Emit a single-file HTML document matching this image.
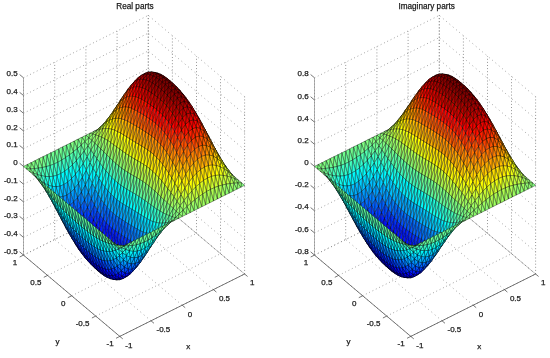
<!DOCTYPE html>
<html><head><meta charset="utf-8"><title>Real and imaginary parts</title><style>
html,body{margin:0;padding:0;background:#fff;width:550px;height:358px;overflow:hidden}
svg{display:block}
.g{stroke:#8a8a8a;stroke-width:0.9;fill:none}
.gv{stroke-dasharray:1 2.1}.gx{stroke-dasharray:0.85 2.85}.gy{stroke-dasharray:0.85 3.45}
.gs{stroke:#ababab;stroke-width:0.7;fill:none}
.az{stroke:#b4b4b4;stroke-width:1;fill:none}
.a{stroke:#4a4a4a;stroke-width:0.75;fill:none}
.s path{stroke:rgba(0,0,0,0.8);stroke-width:0.45;stroke-linejoin:round}
.t,.ti{font-family:"Liberation Sans",Arial,Helvetica,sans-serif;fill:#1a1a1a;stroke:#1a1a1a;stroke-width:0.25}
.t{font-size:8.0px}.ti{font-size:8.2px}
</style></head><body>
<svg width="550" height="358" viewBox="0 0 550 358">
<text x="134.9" y="8.6" class="ti" text-anchor="middle">Real parts</text>
<text x="426.6" y="8.6" class="ti" text-anchor="middle">Imaginary parts</text>
<path class="az" d="M23.5 255.1L23.5 77.8"/><path class="a" d="M23.5 255.1L19.6 251.8M23.5 237.4L19.6 234.1M23.5 219.6L19.6 216.4M23.5 201.9L19.6 198.7M23.5 184.2L19.6 180.9M23.5 166.4L19.6 163.2M23.5 148.7L19.6 145.5M23.5 131L19.6 127.7M23.5 113.3L19.6 110M23.5 95.5L19.6 92.3M23.5 77.8L19.6 74.5"/><text x="17.7" y="253.7" class="t" text-anchor="end">-0.5</text>
<text x="17.7" y="236" class="t" text-anchor="end">-0.4</text>
<text x="17.7" y="218.2" class="t" text-anchor="end">-0.3</text>
<text x="17.7" y="200.5" class="t" text-anchor="end">-0.2</text>
<text x="17.7" y="182.8" class="t" text-anchor="end">-0.1</text>
<text x="17.7" y="165" class="t" text-anchor="end">0</text>
<text x="17.7" y="147.3" class="t" text-anchor="end">0.1</text>
<text x="17.7" y="129.6" class="t" text-anchor="end">0.2</text>
<text x="17.7" y="111.9" class="t" text-anchor="end">0.3</text>
<text x="17.7" y="94.1" class="t" text-anchor="end">0.4</text>
<text x="17.7" y="76.4" class="t" text-anchor="end">0.5</text>
<path class="gs" d="M244.6 274L148.3 192.7"/><path class="g gv" d="M23.5 255.1L23.5 77.8M244.6 274L244.6 96.7M54.7 239.5L54.7 62.2M220.5 253.7L220.5 76.4M85.9 223.9L85.9 46.6M196.5 233.4L196.5 56.1M117.1 208.3L117.1 31M172.4 213L172.4 35.7M148.3 192.7L148.3 15.4M148.3 192.7L148.3 15.4"/><path class="g gx" d="M119.8 336.4L244.6 274M95.7 316.1L220.5 253.7M71.7 295.8L196.5 233.4M47.6 275.4L172.4 213M23.5 255.1L148.3 192.7M23.5 255.1L148.3 192.7M23.5 237.4L148.3 175M23.5 219.6L148.3 157.2M23.5 201.9L148.3 139.5M23.5 184.2L148.3 121.8M23.5 166.4L148.3 104.1M23.5 148.7L148.3 86.3M23.5 131L148.3 68.6M23.5 113.3L148.3 50.9M23.5 95.5L148.3 33.1M23.5 77.8L148.3 15.4"/><path class="g gy" d="M119.8 336.4L23.5 255.1M151 320.8L54.7 239.5M182.2 305.2L85.9 223.9M213.4 289.6L117.1 208.3M244.6 274L148.3 192.7M244.6 274L148.3 192.7M244.6 256.3L148.3 175M244.6 238.5L148.3 157.2M244.6 220.8L148.3 139.5M244.6 203.1L148.3 121.8M244.6 185.3L148.3 104.1M244.6 167.6L148.3 86.3M244.6 149.9L148.3 68.6M244.6 132.2L148.3 50.9M244.6 114.4L148.3 33.1M244.6 96.7L148.3 15.4"/>
<g class="s"><path d="M147.4,106.3 148.3,104.1 144.4,106z" fill="#8fff70"/>
<path d="M147.4,106.3 151.3,106.6 148.3,104.1z" fill="#8fff70"/>
<path d="M143.5,106.1 144.4,106 140.5,107.9z" fill="#8fff70"/>
<path d="M143.5,106.1 147.4,106.3 144.4,106z" fill="#8fff70"/>
<path d="M150.4,106.6 154.3,109.1 151.3,106.6z" fill="#8fff70"/>
<path d="M150.4,106.6 151.3,106.6 147.4,106.3z" fill="#8fff70"/>
<path d="M139.6,106.1 140.5,107.9 136.6,109.9z" fill="#8fff70"/>
<path d="M139.6,106.1 143.5,106.1 140.5,107.9z" fill="#9fff60"/>
<path d="M153.4,107.1 157.3,111.7 154.3,109.1z" fill="#8fff70"/>
<path d="M146.5,104.4 147.4,106.3 143.5,106.1z" fill="#afff50"/>
<path d="M153.4,107.1 154.3,109.1 150.4,106.6z" fill="#9fff60"/>
<path d="M146.5,104.4 150.4,106.6 147.4,106.3z" fill="#afff50"/>
<path d="M135.7,106.4 136.6,109.9 132.7,111.8z" fill="#9fff60"/>
<path d="M135.7,106.4 139.6,106.1 136.6,109.9z" fill="#afff50"/>
<path d="M156.4,107.7 160.3,114.2 157.3,111.7z" fill="#9fff60"/>
<path d="M131.8,107.1 132.7,111.8 128.8,113.8z" fill="#9fff60"/>
<path d="M142.6,102.5 143.5,106.1 139.6,106.1z" fill="#bfff40"/>
<path d="M156.4,107.7 157.3,111.7 153.4,107.1z" fill="#afff50"/>
<path d="M142.6,102.5 146.5,104.4 143.5,106.1z" fill="#bfff40"/>
<path d="M149.5,102.8 153.4,107.1 150.4,106.6z" fill="#bfff40"/>
<path d="M149.5,102.8 150.4,106.6 146.5,104.4z" fill="#bfff40"/>
<path d="M131.8,107.1 135.7,106.4 132.7,111.8z" fill="#afff50"/>
<path d="M127.9,108.2 128.8,113.8 124.9,115.7z" fill="#9fff60"/>
<path d="M159.4,108.5 163.3,116.8 160.3,114.2z" fill="#9fff60"/>
<path d="M138.7,101.2 139.6,106.1 135.7,106.4z" fill="#cfff30"/>
<path d="M127.9,108.2 131.8,107.1 128.8,113.8z" fill="#afff50"/>
<path d="M159.4,108.5 160.3,114.2 156.4,107.7z" fill="#afff50"/>
<path d="M138.7,101.2 142.6,102.5 139.6,106.1z" fill="#cfff30"/>
<path d="M124,109.7 124.9,115.7 121,117.7z" fill="#9fff60"/>
<path d="M152.5,101.6 156.4,107.7 153.4,107.1z" fill="#cfff30"/>
<path d="M145.6,99.2 146.5,104.4 142.6,102.5z" fill="#dfff20"/>
<path d="M152.5,101.6 153.4,107.1 149.5,102.8z" fill="#dfff20"/>
<path d="M145.6,99.2 149.5,102.8 146.5,104.4z" fill="#dfff20"/>
<path d="M124,109.7 127.9,108.2 124.9,115.7z" fill="#afff50"/>
<path d="M162.5,109.6 166.4,119.3 163.3,116.8z" fill="#9fff60"/>
<path d="M134.8,100.6 135.7,106.4 131.8,107.1z" fill="#cfff30"/>
<path d="M120.1,111.6 121,117.7 117.1,119.6z" fill="#9fff60"/>
<path d="M162.5,109.6 163.3,116.8 159.4,108.5z" fill="#bfff40"/>
<path d="M134.8,100.6 138.7,101.2 135.7,106.4z" fill="#dfff20"/>
<path d="M120.1,111.6 124,109.7 121,117.7z" fill="#afff50"/>
<path d="M155.5,100.8 159.4,108.5 156.4,107.7z" fill="#dfff20"/>
<path d="M141.7,96.4 142.6,102.5 138.7,101.2z" fill="#ffff00"/>
<path d="M130.9,100.8 131.8,107.1 127.9,108.2z" fill="#dfff20"/>
<path d="M116.2,114 117.1,119.6 113.2,121.6z" fill="#9fff60"/>
<path d="M165.5,110.8 169.4,121.8 166.4,119.3z" fill="#9fff60"/>
<path d="M155.5,100.8 156.4,107.7 152.5,101.6z" fill="#efff10"/>
<path d="M141.7,96.4 145.6,99.2 142.6,102.5z" fill="#ffff00"/>
<path d="M148.6,96.3 152.5,101.6 149.5,102.8z" fill="#ffff00"/>
<path d="M148.6,96.3 149.5,102.8 145.6,99.2z" fill="#ffff00"/>
<path d="M130.9,100.8 134.8,100.6 131.8,107.1z" fill="#efff10"/>
<path d="M165.5,110.8 166.4,119.3 162.5,109.6z" fill="#bfff40"/>
<path d="M116.2,114 120.1,111.6 117.1,119.6z" fill="#afff50"/>
<path d="M112.3,116.7 113.2,121.6 109.3,123.5z" fill="#9fff60"/>
<path d="M127,101.9 127.9,108.2 124,109.7z" fill="#dfff20"/>
<path d="M168.5,112.3 172.4,124.4 169.4,121.8z" fill="#9fff60"/>
<path d="M137.8,94.6 138.7,101.2 134.8,100.6z" fill="#ffef00"/>
<path d="M158.6,100.4 162.5,109.6 159.4,108.5z" fill="#efff10"/>
<path d="M112.3,116.7 116.2,114 113.2,121.6z" fill="#afff50"/>
<path d="M127,101.9 130.9,100.8 127.9,108.2z" fill="#ffff00"/>
<path d="M137.8,94.6 141.7,96.4 138.7,101.2z" fill="#ffdf00"/>
<path d="M108.4,119.8 109.3,123.5 105.4,125.5z" fill="#9fff60"/>
<path d="M158.6,100.4 159.4,108.5 155.5,100.8z" fill="#ffff00"/>
<path d="M168.5,112.3 169.4,121.8 165.5,110.8z" fill="#bfff40"/>
<path d="M123.1,103.9 124,109.7 120.1,111.6z" fill="#dfff20"/>
<path d="M144.7,92.1 145.6,99.2 141.7,96.4z" fill="#ffcf00"/>
<path d="M151.6,94 155.5,100.8 152.5,101.6z" fill="#ffdf00"/>
<path d="M108.4,119.8 112.3,116.7 109.3,123.5z" fill="#afff50"/>
<path d="M144.7,92.1 148.6,96.3 145.6,99.2z" fill="#ffcf00"/>
<path d="M151.6,94 152.5,101.6 148.6,96.3z" fill="#ffdf00"/>
<path d="M171.5,114 175.4,126.9 172.4,124.4z" fill="#afff50"/>
<path d="M123.1,103.9 127,101.9 124,109.7z" fill="#ffff00"/>
<path d="M104.5,123.1 105.4,125.5 101.5,127.4z" fill="#8fff70"/>
<path d="M133.9,94 134.8,100.6 130.9,100.8z" fill="#ffdf00"/>
<path d="M119.2,106.6 120.1,111.6 116.2,114z" fill="#dfff20"/>
<path d="M161.6,100.5 165.5,110.8 162.5,109.6z" fill="#ffff00"/>
<path d="M133.9,94 137.8,94.6 134.8,100.6z" fill="#ffcf00"/>
<path d="M104.5,123.1 108.4,119.8 105.4,125.5z" fill="#afff50"/>
<path d="M171.5,114 172.4,124.4 168.5,112.3z" fill="#cfff30"/>
<path d="M161.6,100.5 162.5,109.6 158.6,100.4z" fill="#ffef00"/>
<path d="M100.6,126.7 101.5,127.4 97.6,129.4z" fill="#8fff70"/>
<path d="M119.2,106.6 123.1,103.9 120.1,111.6z" fill="#ffff00"/>
<path d="M115.3,110.2 116.2,114 112.3,116.7z" fill="#dfff20"/>
<path d="M130,94.7 130.9,100.8 127,101.9z" fill="#ffcf00"/>
<path d="M174.5,115.9 178.4,129.5 175.4,126.9z" fill="#afff50"/>
<path d="M140.8,89.3 141.7,96.4 137.8,94.6z" fill="#ffbf00"/>
<path d="M100.6,126.7 104.5,123.1 101.5,127.4z" fill="#9fff60"/>
<path d="M154.7,92.3 158.6,100.4 155.5,100.8z" fill="#ffcf00"/>
<path d="M140.8,89.3 144.7,92.1 141.7,96.4z" fill="#ffaf00"/>
<path d="M154.7,92.3 155.5,100.8 151.6,94z" fill="#ffbf00"/>
<path d="M115.3,110.2 119.2,106.6 116.2,114z" fill="#efff10"/>
<path d="M96.7,130.4 97.6,129.4 93.7,131.4z" fill="#8fff70"/>
<path d="M111.4,114.3 112.3,116.7 108.4,119.8z" fill="#cfff30"/>
<path d="M130,94.7 133.9,94 130.9,100.8z" fill="#ffbf00"/>
<path d="M164.6,101 168.5,112.3 165.5,110.8z" fill="#ffff00"/>
<path d="M147.7,88.6 148.6,96.3 144.7,92.1z" fill="#ffaf00"/>
<path d="M147.7,88.6 151.6,94 148.6,96.3z" fill="#ffaf00"/>
<path d="M174.5,115.9 175.4,126.9 171.5,114z" fill="#cfff30"/>
<path d="M96.7,130.4 100.6,126.7 97.6,129.4z" fill="#9fff60"/>
<path d="M126.1,96.7 127,101.9 123.1,103.9z" fill="#ffcf00"/>
<path d="M164.6,101 165.5,110.8 161.6,100.5z" fill="#ffdf00"/>
<path d="M111.4,114.3 115.3,110.2 112.3,116.7z" fill="#efff10"/>
<path d="M107.5,119 108.4,119.8 104.5,123.1z" fill="#cfff30"/>
<path d="M177.5,118 181.4,132 178.4,129.5z" fill="#afff50"/>
<path d="M92.8,134.1 93.7,131.4 89.8,133.3z" fill="#8fff70"/>
<path d="M136.9,88 137.8,94.6 133.9,94z" fill="#ff9f00"/>
<path d="M126.1,96.7 130,94.7 127,101.9z" fill="#ffbf00"/>
<path d="M92.8,134.1 96.7,130.4 93.7,131.4z" fill="#8fff70"/>
<path d="M107.5,119 111.4,114.3 108.4,119.8z" fill="#dfff20"/>
<path d="M103.6,124.1 104.5,123.1 100.6,126.7z" fill="#bfff40"/>
<path d="M122.2,99.9 123.1,103.9 119.2,106.6z" fill="#ffdf00"/>
<path d="M136.9,88 140.8,89.3 137.8,94.6z" fill="#ff9f00"/>
<path d="M157.7,91.3 161.6,100.5 158.6,100.4z" fill="#ffbf00"/>
<path d="M167.6,101.9 171.5,114 168.5,112.3z" fill="#ffef00"/>
<path d="M177.5,118 178.4,129.5 174.5,115.9z" fill="#cfff30"/>
<path d="M88.9,137.9 89.8,133.3 85.9,135.2z" fill="#80ff80"/>
<path d="M157.7,91.3 158.6,100.4 154.7,92.3z" fill="#ffaf00"/>
<path d="M103.6,124.1 107.5,119 104.5,123.1z" fill="#cfff30"/>
<path d="M88.9,137.9 92.8,134.1 89.8,133.3z" fill="#8fff70"/>
<path d="M99.7,129.5 100.6,126.7 96.7,130.4z" fill="#afff50"/>
<path d="M143.8,84.8 144.7,92.1 140.8,89.3z" fill="#ff8f00"/>
<path d="M122.2,99.9 126.1,96.7 123.1,103.9z" fill="#ffbf00"/>
<path d="M118.3,104.1 119.2,106.6 115.3,110.2z" fill="#ffdf00"/>
<path d="M180.5,120.3 184.4,134.5 181.4,132z" fill="#afff50"/>
<path d="M167.6,101.9 168.5,112.3 164.6,101z" fill="#ffdf00"/>
<path d="M143.8,84.8 147.7,88.6 144.7,92.1z" fill="#ff8000"/>
<path d="M150.8,85.8 154.7,92.3 151.6,94z" fill="#ff8f00"/>
<path d="M150.8,85.8 151.6,94 147.7,88.6z" fill="#ff8f00"/>
<path d="M133,88.3 133.9,94 130,94.7z" fill="#ff9f00"/>
<path d="M99.7,129.5 103.6,124.1 100.6,126.7z" fill="#bfff40"/>
<path d="M95.8,135 96.7,130.4 92.8,134.1z" fill="#9fff60"/>
<path d="M85,141.6 85.9,135.2 82,137.2z" fill="#80ff80"/>
<path d="M114.4,109.3 115.3,110.2 111.4,114.3z" fill="#ffef00"/>
<path d="M85,141.6 88.9,137.9 85.9,135.2z" fill="#80ff80"/>
<path d="M118.3,104.1 122.2,99.9 119.2,106.6z" fill="#ffcf00"/>
<path d="M133,88.3 136.9,88 133.9,94z" fill="#ff8f00"/>
<path d="M180.5,120.3 181.4,132 177.5,118z" fill="#cfff30"/>
<path d="M95.8,135 99.7,129.5 96.7,130.4z" fill="#9fff60"/>
<path d="M170.6,103.2 174.5,115.9 171.5,114z" fill="#ffef00"/>
<path d="M91.9,140.5 92.8,134.1 88.9,137.9z" fill="#8fff70"/>
<path d="M110.5,115.3 111.4,114.3 107.5,119z" fill="#efff10"/>
<path d="M160.7,90.9 164.6,101 161.6,100.5z" fill="#ffaf00"/>
<path d="M129.1,90.3 130,94.7 126.1,96.7z" fill="#ff8f00"/>
<path d="M114.4,109.3 118.3,104.1 115.3,110.2z" fill="#ffdf00"/>
<path d="M183.5,122.6 187.4,137.1 184.4,134.5z" fill="#afff50"/>
<path d="M91.9,140.5 95.8,135 92.8,134.1z" fill="#8fff70"/>
<path d="M81.1,145.2 85,141.6 82,137.2z" fill="#80ff80"/>
<path d="M81.1,145.2 82,137.2 78.1,139.1z" fill="#80ff80"/>
<path d="M106.6,121.9 107.5,119 103.6,124.1z" fill="#dfff20"/>
<path d="M160.7,90.9 161.6,100.5 157.7,91.3z" fill="#ff8f00"/>
<path d="M170.6,103.2 171.5,114 167.6,101.9z" fill="#ffcf00"/>
<path d="M139.9,82.9 140.8,89.3 136.9,88z" fill="#ff7000"/>
<path d="M88,146 88.9,137.9 85,141.6z" fill="#80ff80"/>
<path d="M110.5,115.3 114.4,109.3 111.4,114.3z" fill="#ffef00"/>
<path d="M102.7,128.9 103.6,124.1 99.7,129.5z" fill="#bfff40"/>
<path d="M88,146 91.9,140.5 88.9,137.9z" fill="#80ff80"/>
<path d="M129.1,90.3 133,88.3 130,94.7z" fill="#ff8000"/>
<path d="M139.9,82.9 143.8,84.8 140.8,89.3z" fill="#ff6000"/>
<path d="M106.6,121.9 110.5,115.3 107.5,119z" fill="#efff10"/>
<path d="M98.8,136.1 99.7,129.5 95.8,135z" fill="#afff50"/>
<path d="M153.8,83.9 157.7,91.3 154.7,92.3z" fill="#ff7000"/>
<path d="M125.2,93.9 126.1,96.7 122.2,99.9z" fill="#ff9f00"/>
<path d="M183.5,122.6 184.4,134.5 180.5,120.3z" fill="#cfff30"/>
<path d="M84.1,151.2 85,141.6 81.1,145.2z" fill="#70ff8f"/>
<path d="M77.2,148.7 81.1,145.2 78.1,139.1z" fill="#70ff8f"/>
<path d="M153.8,83.9 154.7,92.3 150.8,85.8z" fill="#ff7000"/>
<path d="M146.9,81.2 147.7,88.6 143.8,84.8z" fill="#ff6000"/>
<path d="M84.1,151.2 88,146 85,141.6z" fill="#70ff8f"/>
<path d="M173.6,104.9 177.5,118 174.5,115.9z" fill="#ffef00"/>
<path d="M77.2,148.7 78.1,139.1 74.2,141.1z" fill="#80ff80"/>
<path d="M102.7,128.9 106.6,121.9 103.6,124.1z" fill="#cfff30"/>
<path d="M146.9,81.2 150.8,85.8 147.7,88.6z" fill="#ff6000"/>
<path d="M94.9,143.3 95.8,135 91.9,140.5z" fill="#8fff70"/>
<path d="M98.8,136.1 102.7,128.9 99.7,129.5z" fill="#bfff40"/>
<path d="M186.5,125.1 190.4,139.6 187.4,137.1z" fill="#afff50"/>
<path d="M91,150.3 91.9,140.5 88,146z" fill="#70ff8f"/>
<path d="M163.7,91.2 167.6,101.9 164.6,101z" fill="#ff9f00"/>
<path d="M121.3,98.8 122.2,99.9 118.3,104.1z" fill="#ffaf00"/>
<path d="M94.9,143.3 98.8,136.1 95.8,135z" fill="#9fff60"/>
<path d="M125.2,93.9 129.1,90.3 126.1,96.7z" fill="#ff8000"/>
<path d="M80.2,156.2 84.1,151.2 81.1,145.2z" fill="#60ff9f"/>
<path d="M80.2,156.2 81.1,145.2 77.2,148.7z" fill="#60ff9f"/>
<path d="M136,82.9 136.9,88 133,88.3z" fill="#ff6000"/>
<path d="M91,150.3 94.9,143.3 91.9,140.5z" fill="#80ff80"/>
<path d="M87.1,157.1 88,146 84.1,151.2z" fill="#60ff9f"/>
<path d="M173.6,104.9 174.5,115.9 170.6,103.2z" fill="#ffcf00"/>
<path d="M73.3,151.9 77.2,148.7 74.2,141.1z" fill="#70ff8f"/>
<path d="M117.4,105 118.3,104.1 114.4,109.3z" fill="#ffbf00"/>
<path d="M87.1,157.1 91,150.3 88,146z" fill="#60ff9f"/>
<path d="M163.7,91.2 164.6,101 160.7,90.9z" fill="#ff8000"/>
<path d="M73.3,151.9 74.2,141.1 70.3,143.1z" fill="#80ff80"/>
<path d="M136,82.9 139.9,82.9 136.9,88z" fill="#ff5000"/>
<path d="M83.2,163.5 84.1,151.2 80.2,156.2z" fill="#40ffbf"/>
<path d="M186.5,125.1 187.4,137.1 183.5,122.6z" fill="#cfff30"/>
<path d="M76.3,160.7 80.2,156.2 77.2,148.7z" fill="#50ffaf"/>
<path d="M121.3,98.8 125.2,93.9 122.2,99.9z" fill="#ff8f00"/>
<path d="M113.5,112.2 114.4,109.3 110.5,115.3z" fill="#ffdf00"/>
<path d="M83.2,163.5 87.1,157.1 84.1,151.2z" fill="#40ffbf"/>
<path d="M76.3,160.7 77.2,148.7 73.3,151.9z" fill="#50ffaf"/>
<path d="M109.6,120.2 110.5,115.3 106.6,121.9z" fill="#ffff00"/>
<path d="M176.6,106.8 180.5,120.3 177.5,118z" fill="#ffef00"/>
<path d="M105.7,128.6 106.6,121.9 102.7,128.9z" fill="#dfff20"/>
<path d="M101.8,137.3 102.7,128.9 98.8,136.1z" fill="#afff50"/>
<path d="M97.9,146.1 98.8,136.1 94.9,143.3z" fill="#8fff70"/>
<path d="M94,154.7 94.9,143.3 91,150.3z" fill="#70ff8f"/>
<path d="M90.1,162.9 91,150.3 87.1,157.1z" fill="#40ffbf"/>
<path d="M79.3,169.3 83.2,163.5 80.2,156.2z" fill="#20ffdf"/>
<path d="M79.3,169.3 80.2,156.2 76.3,160.7z" fill="#30ffcf"/>
<path d="M189.5,127.6 193.4,142.2 190.4,139.6z" fill="#afff50"/>
<path d="M117.4,105 121.3,98.8 118.3,104.1z" fill="#ffaf00"/>
<path d="M69.4,155 73.3,151.9 70.3,143.1z" fill="#70ff8f"/>
<path d="M156.8,82.8 160.7,90.9 157.7,91.3z" fill="#ff6000"/>
<path d="M86.2,170.5 87.1,157.1 83.2,163.5z" fill="#20ffdf"/>
<path d="M132.1,84.9 133,88.3 129.1,90.3z" fill="#ff6000"/>
<path d="M143,78.8 143.8,84.8 139.9,82.9z" fill="#ff4000"/>
<path d="M72.4,164.8 76.3,160.7 73.3,151.9z" fill="#40ffbf"/>
<path d="M90.1,162.9 94,154.7 91,150.3z" fill="#50ffaf"/>
<path d="M94,154.7 97.9,146.1 94.9,143.3z" fill="#70ff8f"/>
<path d="M86.2,170.5 90.1,162.9 87.1,157.1z" fill="#20ffdf"/>
<path d="M113.5,112.2 117.4,105 114.4,109.3z" fill="#ffbf00"/>
<path d="M69.4,155 70.3,143.1 66.4,145z" fill="#70ff8f"/>
<path d="M97.9,146.1 101.8,137.3 98.8,136.1z" fill="#9fff60"/>
<path d="M82.3,177.5 83.2,163.5 79.3,169.3z" fill="#00ffff"/>
<path d="M156.8,82.8 157.7,91.3 153.8,83.9z" fill="#ff5000"/>
<path d="M101.8,137.3 105.7,128.6 102.7,128.9z" fill="#cfff30"/>
<path d="M166.7,92 170.6,103.2 167.6,101.9z" fill="#ff8f00"/>
<path d="M72.4,164.8 73.3,151.9 69.4,155z" fill="#50ffaf"/>
<path d="M82.3,177.5 86.2,170.5 83.2,163.5z" fill="#00ffff"/>
<path d="M75.4,174.4 79.3,169.3 76.3,160.7z" fill="#10ffef"/>
<path d="M109.6,120.2 113.5,112.2 110.5,115.3z" fill="#ffdf00"/>
<path d="M143,78.8 146.9,81.2 143.8,84.8z" fill="#ff4000"/>
<path d="M105.7,128.6 109.6,120.2 106.6,121.9z" fill="#efff10"/>
<path d="M75.4,174.4 76.3,160.7 72.4,164.8z" fill="#20ffdf"/>
<path d="M176.6,106.8 177.5,118 173.6,104.9z" fill="#ffbf00"/>
<path d="M149.9,78.6 153.8,83.9 150.8,85.8z" fill="#ff4000"/>
<path d="M149.9,78.6 150.8,85.8 146.9,81.2z" fill="#ff4000"/>
<path d="M78.4,183.5 82.3,177.5 79.3,169.3z" fill="#00efff"/>
<path d="M132.1,84.9 136,82.9 133,88.3z" fill="#ff5000"/>
<path d="M78.4,183.5 79.3,169.3 75.4,174.4z" fill="#00efff"/>
<path d="M89.2,177.3 90.1,162.9 86.2,170.5z" fill="#10ffef"/>
<path d="M85.3,185.2 86.2,170.5 82.3,177.5z" fill="#00dfff"/>
<path d="M93.1,168.4 94,154.7 90.1,162.9z" fill="#30ffcf"/>
<path d="M189.5,127.6 190.4,139.6 186.5,125.1z" fill="#cfff30"/>
<path d="M85.3,185.2 89.2,177.3 86.2,170.5z" fill="#00dfff"/>
<path d="M65.5,157.7 69.4,155 66.4,145z" fill="#60ff9f"/>
<path d="M68.5,168.3 72.4,164.8 69.4,155z" fill="#30ffcf"/>
<path d="M128.2,88.8 129.1,90.3 125.2,93.9z" fill="#ff6000"/>
<path d="M166.7,92 167.6,101.9 163.7,91.2z" fill="#ff8000"/>
<path d="M97,158.9 97.9,146.1 94,154.7z" fill="#60ff9f"/>
<path d="M81.4,192.2 82.3,177.5 78.4,183.5z" fill="#00bfff"/>
<path d="M71.5,178.7 75.4,174.4 72.4,164.8z" fill="#00ffff"/>
<path d="M89.2,177.3 93.1,168.4 90.1,162.9z" fill="#10ffef"/>
<path d="M81.4,192.2 85.3,185.2 82.3,177.5z" fill="#00bfff"/>
<path d="M74.5,188.6 78.4,183.5 75.4,174.4z" fill="#00cfff"/>
<path d="M179.6,109 183.5,122.6 180.5,120.3z" fill="#ffdf00"/>
<path d="M93.1,168.4 97,158.9 94,154.7z" fill="#40ffbf"/>
<path d="M71.5,178.7 72.4,164.8 68.5,168.3z" fill="#10ffef"/>
<path d="M100.9,149 101.8,137.3 97.9,146.1z" fill="#8fff70"/>
<path d="M68.5,168.3 69.4,155 65.5,157.7z" fill="#40ffbf"/>
<path d="M74.5,188.6 75.4,174.4 71.5,178.7z" fill="#00dfff"/>
<path d="M65.5,157.7 66.4,145 62.5,146.9z" fill="#70ff8f"/>
<path d="M88.4,192.5 89.2,177.3 85.3,185.2z" fill="#00bfff"/>
<path d="M77.5,197.9 81.4,192.2 78.4,183.5z" fill="#009fff"/>
<path d="M192.6,130.2 196.5,144.7 193.4,142.2z" fill="#afff50"/>
<path d="M84.5,200.2 85.3,185.2 81.4,192.2z" fill="#009fff"/>
<path d="M77.5,197.9 78.4,183.5 74.5,188.6z" fill="#00afff"/>
<path d="M92.3,183.6 93.1,168.4 89.2,177.3z" fill="#00efff"/>
<path d="M97,158.9 100.9,149 97.9,146.1z" fill="#70ff8f"/>
<path d="M84.5,200.2 88.4,192.5 85.3,185.2z" fill="#009fff"/>
<path d="M104.8,138.8 105.7,128.6 101.8,137.3z" fill="#bfff40"/>
<path d="M124.3,94.4 125.2,93.9 121.3,98.8z" fill="#ff7000"/>
<path d="M88.4,192.5 92.3,183.6 89.2,177.3z" fill="#00cfff"/>
<path d="M80.6,206.6 81.4,192.2 77.5,197.9z" fill="#0080ff"/>
<path d="M80.6,206.6 84.5,200.2 81.4,192.2z" fill="#0080ff"/>
<path d="M128.2,88.8 132.1,84.9 129.1,90.3z" fill="#ff5000"/>
<path d="M139.1,78.6 139.9,82.9 136,82.9z" fill="#ff3000"/>
<path d="M108.7,128.7 109.6,120.2 105.7,128.6z" fill="#efff10"/>
<path d="M70.6,192.5 74.5,188.6 71.5,178.7z" fill="#00bfff"/>
<path d="M67.6,182.1 71.5,178.7 68.5,168.3z" fill="#00efff"/>
<path d="M96.2,173.7 97,158.9 93.1,168.4z" fill="#20ffdf"/>
<path d="M100.9,149 104.8,138.8 101.8,137.3z" fill="#9fff60"/>
<path d="M64.6,171.3 68.5,168.3 65.5,157.7z" fill="#30ffcf"/>
<path d="M92.3,183.6 96.2,173.7 93.1,168.4z" fill="#00ffff"/>
<path d="M73.6,202.2 77.5,197.9 74.5,188.6z" fill="#008fff"/>
<path d="M87.5,207.6 88.4,192.5 84.5,200.2z" fill="#0080ff"/>
<path d="M120.4,101.5 121.3,98.8 117.4,105z" fill="#ff8f00"/>
<path d="M112.6,119 113.5,112.2 109.6,120.2z" fill="#ffdf00"/>
<path d="M159.8,82.4 163.7,91.2 160.7,90.9z" fill="#ff5000"/>
<path d="M91.4,199.1 92.3,183.6 88.4,192.5z" fill="#009fff"/>
<path d="M61.6,160.2 65.5,157.7 62.5,146.9z" fill="#60ff9f"/>
<path d="M116.5,109.8 117.4,105 113.5,112.2z" fill="#ffaf00"/>
<path d="M70.6,192.5 71.5,178.7 67.6,182.1z" fill="#00cfff"/>
<path d="M83.6,214.5 84.5,200.2 80.6,206.6z" fill="#0060ff"/>
<path d="M169.7,93.2 173.6,104.9 170.6,103.2z" fill="#ff8f00"/>
<path d="M73.6,202.2 74.5,188.6 70.6,192.5z" fill="#009fff"/>
<path d="M179.6,109 180.5,120.3 176.6,106.8z" fill="#ffbf00"/>
<path d="M76.7,211.3 80.6,206.6 77.5,197.9z" fill="#0060ff"/>
<path d="M67.6,182.1 68.5,168.3 64.6,171.3z" fill="#00ffff"/>
<path d="M87.5,207.6 91.4,199.1 88.4,192.5z" fill="#0080ff"/>
<path d="M83.6,214.5 87.5,207.6 84.5,200.2z" fill="#0060ff"/>
<path d="M139.1,78.6 143,78.8 139.9,82.9z" fill="#ff2000"/>
<path d="M76.7,211.3 77.5,197.9 73.6,202.2z" fill="#0070ff"/>
<path d="M104.8,138.8 108.7,128.7 105.7,128.6z" fill="#cfff30"/>
<path d="M100.1,163.1 100.9,149 97,158.9z" fill="#60ff9f"/>
<path d="M64.6,171.3 65.5,157.7 61.6,160.2z" fill="#40ffbf"/>
<path d="M96.2,173.7 100.1,163.1 97,158.9z" fill="#30ffcf"/>
<path d="M95.3,189.4 96.2,173.7 92.3,183.6z" fill="#00dfff"/>
<path d="M192.6,130.2 193.4,142.2 189.5,127.6z" fill="#cfff30"/>
<path d="M91.4,199.1 95.3,189.4 92.3,183.6z" fill="#00afff"/>
<path d="M124.3,94.4 128.2,88.8 125.2,93.9z" fill="#ff6000"/>
<path d="M159.8,82.4 160.7,90.9 156.8,82.8z" fill="#ff4000"/>
<path d="M61.6,160.2 62.5,146.9 58.6,148.9z" fill="#70ff8f"/>
<path d="M79.7,219.7 83.6,214.5 80.6,206.6z" fill="#0040ff"/>
<path d="M79.7,219.7 80.6,206.6 76.7,211.3z" fill="#0040ff"/>
<path d="M90.5,214.2 91.4,199.1 87.5,207.6z" fill="#0060ff"/>
<path d="M108.7,128.7 112.6,119 109.6,120.2z" fill="#ffef00"/>
<path d="M86.6,221.6 87.5,207.6 83.6,214.5z" fill="#0040ff"/>
<path d="M66.7,195.2 70.6,192.5 67.6,182.1z" fill="#00afff"/>
<path d="M69.7,205.1 73.6,202.2 70.6,192.5z" fill="#0080ff"/>
<path d="M182.6,111.4 186.5,125.1 183.5,122.6z" fill="#ffdf00"/>
<path d="M63.7,184.6 67.6,182.1 64.6,171.3z" fill="#00efff"/>
<path d="M169.7,93.2 170.6,103.2 166.7,92z" fill="#ff7000"/>
<path d="M86.6,221.6 90.5,214.2 87.5,207.6z" fill="#0040ff"/>
<path d="M120.4,101.5 124.3,94.4 121.3,98.8z" fill="#ff8000"/>
<path d="M104,151.9 104.8,138.8 100.9,149z" fill="#8fff70"/>
<path d="M94.4,205.2 95.3,189.4 91.4,199.1z" fill="#008fff"/>
<path d="M112.6,119 116.5,109.8 113.5,112.2z" fill="#ffbf00"/>
<path d="M146,75.7 146.9,81.2 143,78.8z" fill="#ff1000"/>
<path d="M95.3,189.4 99.2,178.6 96.2,173.7z" fill="#00dfff"/>
<path d="M72.8,214.4 76.7,211.3 73.6,202.2z" fill="#0050ff"/>
<path d="M90.5,214.2 94.4,205.2 91.4,199.1z" fill="#0060ff"/>
<path d="M100.1,163.1 104,151.9 100.9,149z" fill="#70ff8f"/>
<path d="M99.2,178.6 100.1,163.1 96.2,173.7z" fill="#10ffef"/>
<path d="M195.6,133 199.5,147.2 196.5,144.7z" fill="#afff50"/>
<path d="M116.5,109.8 120.4,101.5 117.4,105z" fill="#ff9f00"/>
<path d="M60.7,173.6 64.6,171.3 61.6,160.2z" fill="#20ffdf"/>
<path d="M152.9,76.9 156.8,82.8 153.8,83.9z" fill="#ff2000"/>
<path d="M82.7,227.2 83.6,214.5 79.7,219.7z" fill="#0020ff"/>
<path d="M146,75.7 149.9,78.6 146.9,81.2z" fill="#ff1000"/>
<path d="M82.7,227.2 86.6,221.6 83.6,214.5z" fill="#0020ff"/>
<path d="M69.7,205.1 70.6,192.5 66.7,195.2z" fill="#008fff"/>
<path d="M66.7,195.2 67.6,182.1 63.7,184.6z" fill="#00bfff"/>
<path d="M152.9,76.9 153.8,83.9 149.9,78.6z" fill="#ff2000"/>
<path d="M135.2,80.6 136,82.9 132.1,84.9z" fill="#ff3000"/>
<path d="M72.8,214.4 73.6,202.2 69.7,205.1z" fill="#0060ff"/>
<path d="M57.7,162.3 61.6,160.2 58.6,148.9z" fill="#60ff9f"/>
<path d="M75.8,222.9 79.7,219.7 76.7,211.3z" fill="#0030ff"/>
<path d="M63.7,184.6 64.6,171.3 60.7,173.6z" fill="#00ffff"/>
<path d="M94.4,205.2 98.3,194.7 95.3,189.4z" fill="#009fff"/>
<path d="M89.6,228 90.5,214.2 86.6,221.6z" fill="#0020ff"/>
<path d="M98.3,194.7 99.2,178.6 95.3,189.4z" fill="#00bfff"/>
<path d="M107.9,140.6 108.7,128.7 104.8,138.8z" fill="#cfff30"/>
<path d="M93.5,220.1 94.4,205.2 90.5,214.2z" fill="#0040ff"/>
<path d="M75.8,222.9 76.7,211.3 72.8,214.4z" fill="#0030ff"/>
<path d="M60.7,173.6 61.6,160.2 57.7,162.3z" fill="#40ffbf"/>
<path d="M99.2,178.6 103.1,167 100.1,163.1z" fill="#20ffdf"/>
<path d="M104,151.9 107.9,140.6 104.8,138.8z" fill="#9fff60"/>
<path d="M89.6,228 93.5,220.1 90.5,214.2z" fill="#0020ff"/>
<path d="M103.1,167 104,151.9 100.1,163.1z" fill="#50ffaf"/>
<path d="M85.7,233.8 86.6,221.6 82.7,227.2z" fill="#0000ff"/>
<path d="M57.7,162.3 58.6,148.9 54.7,150.9z" fill="#70ff8f"/>
<path d="M78.8,230.6 82.7,227.2 79.7,219.7z" fill="#0010ff"/>
<path d="M135.2,80.6 139.1,78.6 136,82.9z" fill="#ff2000"/>
<path d="M182.6,111.4 183.5,122.6 179.6,109z" fill="#ffbf00"/>
<path d="M85.7,233.8 89.6,228 86.6,221.6z" fill="#0000ff"/>
<path d="M97.4,210.5 98.3,194.7 94.4,205.2z" fill="#0080ff"/>
<path d="M172.7,94.9 176.6,106.8 173.6,104.9z" fill="#ff8000"/>
<path d="M78.8,230.6 79.7,219.7 75.8,222.9z" fill="#0010ff"/>
<path d="M93.5,220.1 97.4,210.5 94.4,205.2z" fill="#0050ff"/>
<path d="M62.8,196.6 66.7,195.2 63.7,184.6z" fill="#00afff"/>
<path d="M65.8,206.5 69.7,205.1 66.7,195.2z" fill="#0080ff"/>
<path d="M111.8,129.3 112.6,119 108.7,128.7z" fill="#ffff00"/>
<path d="M195.6,133 196.5,144.7 192.6,130.2z" fill="#cfff30"/>
<path d="M98.3,194.7 102.2,183.2 99.2,178.6z" fill="#00cfff"/>
<path d="M59.8,186.2 63.7,184.6 60.7,173.6z" fill="#00efff"/>
<path d="M68.9,215.7 72.8,214.4 69.7,205.1z" fill="#0050ff"/>
<path d="M131.3,84.9 132.1,84.9 128.2,88.8z" fill="#ff3000"/>
<path d="M162.8,82.8 166.7,92 163.7,91.2z" fill="#ff4000"/>
<path d="M102.2,183.2 103.1,167 99.2,178.6z" fill="#00ffff"/>
<path d="M56.8,175.3 60.7,173.6 57.7,162.3z" fill="#20ffdf"/>
<path d="M107.9,140.6 111.8,129.3 108.7,128.7z" fill="#dfff20"/>
<path d="M92.6,233.5 93.5,220.1 89.6,228z" fill="#0000ff"/>
<path d="M65.8,206.5 66.7,195.2 62.8,196.6z" fill="#008fff"/>
<path d="M71.9,224.2 75.8,222.9 72.8,214.4z" fill="#0030ff"/>
<path d="M62.8,196.6 63.7,184.6 59.8,186.2z" fill="#00bfff"/>
<path d="M81.8,237.5 85.7,233.8 82.7,227.2z" fill="#0000ef"/>
<path d="M103.1,167 107,154.9 104,151.9z" fill="#60ff9f"/>
<path d="M97.4,210.5 101.3,199.5 98.3,194.7z" fill="#008fff"/>
<path d="M185.6,113.9 189.5,127.6 186.5,125.1z" fill="#ffdf00"/>
<path d="M115.7,118.4 116.5,109.8 112.6,119z" fill="#ffbf00"/>
<path d="M96.5,225.2 97.4,210.5 93.5,220.1z" fill="#0030ff"/>
<path d="M107,154.9 107.9,140.6 104,151.9z" fill="#8fff70"/>
<path d="M68.9,215.7 69.7,205.1 65.8,206.5z" fill="#0060ff"/>
<path d="M81.8,237.5 82.7,227.2 78.8,230.6z" fill="#0000ef"/>
<path d="M53.8,164.1 57.7,162.3 54.7,150.9z" fill="#60ff9f"/>
<path d="M59.8,186.2 60.7,173.6 56.8,175.3z" fill="#00ffff"/>
<path d="M88.7,239.7 89.6,228 85.7,233.8z" fill="#0000df"/>
<path d="M101.3,199.5 102.2,183.2 98.3,194.7z" fill="#00bfff"/>
<path d="M198.6,135.7 202.5,149.8 199.5,147.2z" fill="#afff50"/>
<path d="M162.8,82.8 163.7,91.2 159.8,82.4z" fill="#ff3000"/>
<path d="M127.4,91 128.2,88.8 124.3,94.4z" fill="#ff5000"/>
<path d="M92.6,233.5 96.5,225.2 93.5,220.1z" fill="#0010ff"/>
<path d="M172.7,94.9 173.6,104.9 169.7,93.2z" fill="#ff6000"/>
<path d="M71.9,224.2 72.8,214.4 68.9,215.7z" fill="#0040ff"/>
<path d="M88.7,239.7 92.6,233.5 89.6,228z" fill="#0000ef"/>
<path d="M56.8,175.3 57.7,162.3 53.8,164.1z" fill="#40ffbf"/>
<path d="M119.6,108.1 120.4,101.5 116.5,109.8z" fill="#ff8f00"/>
<path d="M142.1,75.3 143,78.8 139.1,78.6z" fill="#ff0000"/>
<path d="M74.9,231.9 78.8,230.6 75.8,222.9z" fill="#0000ff"/>
<path d="M123.5,98.9 124.3,94.4 120.4,101.5z" fill="#ff7000"/>
<path d="M131.3,84.9 135.2,80.6 132.1,84.9z" fill="#ff2000"/>
<path d="M111.8,129.3 115.7,118.4 112.6,119z" fill="#ffdf00"/>
<path d="M102.2,183.2 106.1,170.8 103.1,167z" fill="#20ffdf"/>
<path d="M96.5,225.2 100.4,215.2 97.4,210.5z" fill="#0040ff"/>
<path d="M100.4,215.2 101.3,199.5 97.4,210.5z" fill="#0070ff"/>
<path d="M53.8,164.1 54.7,150.9 50.8,152.8z" fill="#70ff8f"/>
<path d="M106.1,170.8 107,154.9 103.1,167z" fill="#50ffaf"/>
<path d="M74.9,231.9 75.8,222.9 71.9,224.2z" fill="#0010ff"/>
<path d="M142.1,75.3 146,75.7 143,78.8z" fill="#ff0000"/>
<path d="M101.3,199.5 105.2,187.3 102.2,183.2z" fill="#00cfff"/>
<path d="M84.8,243.6 85.7,233.8 81.8,237.5z" fill="#0000cf"/>
<path d="M84.8,243.6 88.7,239.7 85.7,233.8z" fill="#0000cf"/>
<path d="M110.9,142.5 111.8,129.3 107.9,140.6z" fill="#cfff30"/>
<path d="M107,154.9 110.9,142.5 107.9,140.6z" fill="#afff50"/>
<path d="M155.9,76.2 159.8,82.4 156.8,82.8z" fill="#ff1000"/>
<path d="M95.6,238.3 96.5,225.2 92.6,233.5z" fill="#0000ef"/>
<path d="M58.9,196.7 62.8,196.6 59.8,186.2z" fill="#00bfff"/>
<path d="M115.7,118.4 119.6,108.1 116.5,109.8z" fill="#ffaf00"/>
<path d="M61.9,206.3 65.8,206.5 62.8,196.6z" fill="#008fff"/>
<path d="M185.6,113.9 186.5,125.1 182.6,111.4z" fill="#ffbf00"/>
<path d="M55.9,186.7 59.8,186.2 56.8,175.3z" fill="#00efff"/>
<path d="M105.2,187.3 106.1,170.8 102.2,183.2z" fill="#00ffff"/>
<path d="M77.9,238.8 81.8,237.5 78.8,230.6z" fill="#0000df"/>
<path d="M127.4,91 131.3,84.9 128.2,88.8z" fill="#ff3000"/>
<path d="M91.7,244.8 92.6,233.5 88.7,239.7z" fill="#0000cf"/>
<path d="M155.9,76.2 156.8,82.8 152.9,76.9z" fill="#ff0000"/>
<path d="M52.9,176.3 56.8,175.3 53.8,164.1z" fill="#30ffcf"/>
<path d="M65,215.2 68.9,215.7 65.8,206.5z" fill="#0060ff"/>
<path d="M198.6,135.7 199.5,147.2 195.6,133z" fill="#cfff30"/>
<path d="M175.7,96.9 179.6,109 176.6,106.8z" fill="#ff8000"/>
<path d="M99.5,229.7 100.4,215.2 96.5,225.2z" fill="#0020ff"/>
<path d="M149,73.7 149.9,78.6 146,75.7z" fill="#ef0000"/>
<path d="M100.4,215.2 104.3,203.7 101.3,199.5z" fill="#0080ff"/>
<path d="M149,73.7 152.9,76.9 149.9,78.6z" fill="#ef0000"/>
<path d="M119.6,108.1 123.5,98.9 120.4,101.5z" fill="#ff8000"/>
<path d="M77.9,238.8 78.8,230.6 74.9,231.9z" fill="#0000ef"/>
<path d="M123.5,98.9 127.4,91 124.3,94.4z" fill="#ff5000"/>
<path d="M49.9,165.6 53.8,164.1 50.8,152.8z" fill="#60ff9f"/>
<path d="M104.3,203.7 105.2,187.3 101.3,199.5z" fill="#00afff"/>
<path d="M95.6,238.3 99.5,229.7 96.5,225.2z" fill="#0000ff"/>
<path d="M91.7,244.8 95.6,238.3 92.6,233.5z" fill="#0000cf"/>
<path d="M106.1,170.8 110,157.9 107,154.9z" fill="#60ff9f"/>
<path d="M58.9,196.7 59.8,186.2 55.9,186.7z" fill="#00cfff"/>
<path d="M68,223.4 71.9,224.2 68.9,215.7z" fill="#0030ff"/>
<path d="M61.9,206.3 62.8,196.6 58.9,196.7z" fill="#009fff"/>
<path d="M55.9,186.7 56.8,175.3 52.9,176.3z" fill="#00ffff"/>
<path d="M165.8,83.8 169.7,93.2 166.7,92z" fill="#ff3000"/>
<path d="M188.7,116.6 192.6,130.2 189.5,127.6z" fill="#ffdf00"/>
<path d="M110,157.9 110.9,142.5 107,154.9z" fill="#8fff70"/>
<path d="M114.8,130.2 115.7,118.4 111.8,129.3z" fill="#ffef00"/>
<path d="M65,215.2 65.8,206.5 61.9,206.3z" fill="#0070ff"/>
<path d="M52.9,176.3 53.8,164.1 49.9,165.6z" fill="#40ffbf"/>
<path d="M138.2,77.5 139.1,78.6 135.2,80.6z" fill="#ff0000"/>
<path d="M201.6,138.6 205.5,152.3 202.5,149.8z" fill="#afff50"/>
<path d="M87.8,248.9 88.7,239.7 84.8,243.6z" fill="#0000bf"/>
<path d="M99.5,229.7 103.4,219.3 100.4,215.2z" fill="#0030ff"/>
<path d="M110.9,142.5 114.8,130.2 111.8,129.3z" fill="#efff10"/>
<path d="M103.4,219.3 104.3,203.7 100.4,215.2z" fill="#0060ff"/>
<path d="M105.2,187.3 109.1,174.3 106.1,170.8z" fill="#10ffef"/>
<path d="M87.8,248.9 91.7,244.8 88.7,239.7z" fill="#0000bf"/>
<path d="M49.9,165.6 50.8,152.8 46.9,154.8z" fill="#70ff8f"/>
<path d="M80.9,245 84.8,243.6 81.8,237.5z" fill="#0000cf"/>
<path d="M68,223.4 68.9,215.7 65,215.2z" fill="#0040ff"/>
<path d="M71,230.9 74.9,231.9 71.9,224.2z" fill="#0010ff"/>
<path d="M175.7,96.9 176.6,106.8 172.7,94.9z" fill="#ff6000"/>
<path d="M80.9,245 81.8,237.5 77.9,238.8z" fill="#0000cf"/>
<path d="M109.1,174.3 110,157.9 106.1,170.8z" fill="#40ffbf"/>
<path d="M104.3,203.7 108.2,191 105.2,187.3z" fill="#00bfff"/>
<path d="M98.6,242.5 99.5,229.7 95.6,238.3z" fill="#0000ef"/>
<path d="M165.8,83.8 166.7,92 162.8,82.8z" fill="#ff2000"/>
<path d="M94.7,249.2 95.6,238.3 91.7,244.8z" fill="#0000bf"/>
<path d="M138.2,77.5 142.1,75.3 139.1,78.6z" fill="#ef0000"/>
<path d="M118.7,118.3 119.6,108.1 115.7,118.4z" fill="#ffaf00"/>
<path d="M108.2,191 109.1,174.3 105.2,187.3z" fill="#00efff"/>
<path d="M71,230.9 71.9,224.2 68,223.4z" fill="#0020ff"/>
<path d="M102.5,233.5 103.4,219.3 99.5,229.7z" fill="#0020ff"/>
<path d="M103.4,219.3 107.3,207.4 104.3,203.7z" fill="#0070ff"/>
<path d="M110,157.9 113.9,144.7 110.9,142.5z" fill="#afff50"/>
<path d="M94.7,249.2 98.6,242.5 95.6,238.3z" fill="#0000cf"/>
<path d="M52,186.3 55.9,186.7 52.9,176.3z" fill="#00ffff"/>
<path d="M74,237.7 77.9,238.8 74.9,231.9z" fill="#0000ef"/>
<path d="M49,176.7 52.9,176.3 49.9,165.6z" fill="#30ffcf"/>
<path d="M114.8,130.2 118.7,118.3 115.7,118.4z" fill="#ffcf00"/>
<path d="M188.7,116.6 189.5,127.6 185.6,113.9z" fill="#ffbf00"/>
<path d="M134.3,82 135.2,80.6 131.3,84.9z" fill="#ff1000"/>
<path d="M55,195.7 58.9,196.7 55.9,186.7z" fill="#00cfff"/>
<path d="M98.6,242.5 102.5,233.5 99.5,229.7z" fill="#0000ef"/>
<path d="M113.9,144.7 114.8,130.2 110.9,142.5z" fill="#dfff20"/>
<path d="M46,166.7 49.9,165.6 46.9,154.8z" fill="#60ff9f"/>
<path d="M107.3,207.4 108.2,191 104.3,203.7z" fill="#009fff"/>
<path d="M201.6,138.6 202.5,149.8 198.6,135.7z" fill="#cfff30"/>
<path d="M58,204.5 61.9,206.3 58.9,196.7z" fill="#009fff"/>
<path d="M83.9,250.4 87.8,248.9 84.8,243.6z" fill="#0000af"/>
<path d="M90.8,253.5 91.7,244.8 87.8,248.9z" fill="#0000af"/>
<path d="M178.7,99.3 182.6,111.4 179.6,109z" fill="#ff8000"/>
<path d="M122.6,107.2 123.5,98.9 119.6,108.1z" fill="#ff7000"/>
<path d="M83.9,250.4 84.8,243.6 80.9,245z" fill="#0000bf"/>
<path d="M109.1,174.3 113,160.7 110,157.9z" fill="#60ff9f"/>
<path d="M90.8,253.5 94.7,249.2 91.7,244.8z" fill="#0000af"/>
<path d="M74,237.7 74.9,231.9 71,230.9z" fill="#0000ff"/>
<path d="M61.1,212.9 65,215.2 61.9,206.3z" fill="#0070ff"/>
<path d="M158.9,76.2 162.8,82.8 159.8,82.4z" fill="#ff0000"/>
<path d="M130.4,88.7 131.3,84.9 127.4,91z" fill="#ff2000"/>
<path d="M49,176.7 49.9,165.6 46,166.7z" fill="#40ffbf"/>
<path d="M145.1,73.2 146,75.7 142.1,75.3z" fill="#df0000"/>
<path d="M102.5,233.5 106.4,222.8 103.4,219.3z" fill="#0030ff"/>
<path d="M126.5,97.2 127.4,91 123.5,98.9z" fill="#ff4000"/>
<path d="M52,186.3 52.9,176.3 49,176.7z" fill="#10ffef"/>
<path d="M46,166.7 46.9,154.8 43,156.7z" fill="#70ff8f"/>
<path d="M106.4,222.8 107.3,207.4 103.4,219.3z" fill="#0050ff"/>
<path d="M55,195.7 55.9,186.7 52,186.3z" fill="#00dfff"/>
<path d="M191.7,119.5 195.6,133 192.6,130.2z" fill="#ffdf00"/>
<path d="M108.2,191 112.1,177.5 109.1,174.3z" fill="#10ffef"/>
<path d="M113,160.7 113.9,144.7 110,157.9z" fill="#8fff70"/>
<path d="M118.7,118.3 122.6,107.2 119.6,108.1z" fill="#ff8f00"/>
<path d="M134.3,82 138.2,77.5 135.2,80.6z" fill="#ef0000"/>
<path d="M204.6,141.6 208.5,154.9 205.5,152.3z" fill="#afff50"/>
<path d="M58,204.5 58.9,196.7 55,195.7z" fill="#00afff"/>
<path d="M158.9,76.2 159.8,82.4 155.9,76.2z" fill="#ef0000"/>
<path d="M145.1,73.2 149,73.7 146,75.7z" fill="#df0000"/>
<path d="M77,243.8 80.9,245 77.9,238.8z" fill="#0000cf"/>
<path d="M64.1,220.6 68,223.4 65,215.2z" fill="#0050ff"/>
<path d="M168.8,85.3 172.7,94.9 169.7,93.2z" fill="#ff3000"/>
<path d="M101.6,246.1 102.5,233.5 98.6,242.5z" fill="#0000df"/>
<path d="M97.7,253.1 98.6,242.5 94.7,249.2z" fill="#0000bf"/>
<path d="M107.3,207.4 111.2,194.3 108.2,191z" fill="#00bfff"/>
<path d="M112.1,177.5 113,160.7 109.1,174.3z" fill="#40ffbf"/>
<path d="M113.9,144.7 117.8,131.6 114.8,130.2z" fill="#efff10"/>
<path d="M61.1,212.9 61.9,206.3 58,204.5z" fill="#0080ff"/>
<path d="M117.8,131.6 118.7,118.3 114.8,130.2z" fill="#ffdf00"/>
<path d="M152,72.7 155.9,76.2 152.9,76.9z" fill="#df0000"/>
<path d="M152,72.7 152.9,76.9 149,73.7z" fill="#cf0000"/>
<path d="M178.7,99.3 179.6,109 175.7,96.9z" fill="#ff6000"/>
<path d="M77,243.8 77.9,238.8 74,237.7z" fill="#0000df"/>
<path d="M122.6,107.2 126.5,97.2 123.5,98.9z" fill="#ff6000"/>
<path d="M111.2,194.3 112.1,177.5 108.2,191z" fill="#00efff"/>
<path d="M105.5,236.8 106.4,222.8 102.5,233.5z" fill="#0010ff"/>
<path d="M130.4,88.7 134.3,82 131.3,84.9z" fill="#ff1000"/>
<path d="M97.7,253.1 101.6,246.1 98.6,242.5z" fill="#0000bf"/>
<path d="M86.9,255.2 90.8,253.5 87.8,248.9z" fill="#00009f"/>
<path d="M106.4,222.8 110.3,210.5 107.3,207.4z" fill="#0070ff"/>
<path d="M67.1,227.7 71,230.9 68,223.4z" fill="#0020ff"/>
<path d="M86.9,255.2 87.8,248.9 83.9,250.4z" fill="#0000af"/>
<path d="M64.1,220.6 65,215.2 61.1,212.9z" fill="#0060ff"/>
<path d="M126.5,97.2 130.4,88.7 127.4,91z" fill="#ff3000"/>
<path d="M101.6,246.1 105.5,236.8 102.5,233.5z" fill="#0000ef"/>
<path d="M42.1,167.6 46,166.7 43,156.7z" fill="#70ff8f"/>
<path d="M93.8,257.6 94.7,249.2 90.8,253.5z" fill="#00009f"/>
<path d="M168.8,85.3 169.7,93.2 165.8,83.8z" fill="#ff1000"/>
<path d="M110.3,210.5 111.2,194.3 107.3,207.4z" fill="#009fff"/>
<path d="M45.1,176.4 49,176.7 46,166.7z" fill="#40ffbf"/>
<path d="M191.7,119.5 192.6,130.2 188.7,116.6z" fill="#ffbf00"/>
<path d="M113,160.7 116.9,146.9 113.9,144.7z" fill="#afff50"/>
<path d="M93.8,257.6 97.7,253.1 94.7,249.2z" fill="#00009f"/>
<path d="M204.6,141.6 205.5,152.3 201.6,138.6z" fill="#cfff30"/>
<path d="M48.1,185.1 52,186.3 49,176.7z" fill="#10ffef"/>
<path d="M80,249.2 83.9,250.4 80.9,245z" fill="#0000bf"/>
<path d="M116.9,146.9 117.8,131.6 113.9,144.7z" fill="#dfff20"/>
<path d="M42.1,167.6 43,156.7 39.1,158.6z" fill="#80ff80"/>
<path d="M181.7,101.8 185.6,113.9 182.6,111.4z" fill="#ff8000"/>
<path d="M141.2,75.4 142.1,75.3 138.2,77.5z" fill="#df0000"/>
<path d="M112.1,177.5 116,163.4 113,160.7z" fill="#60ff9f"/>
<path d="M67.1,227.7 68,223.4 64.1,220.6z" fill="#0040ff"/>
<path d="M121.7,118.9 122.6,107.2 118.7,118.3z" fill="#ff9f00"/>
<path d="M51.1,193.4 55,195.7 52,186.3z" fill="#00dfff"/>
<path d="M105.5,236.8 109.4,225.8 106.4,222.8z" fill="#0020ff"/>
<path d="M109.4,225.8 110.3,210.5 106.4,222.8z" fill="#0050ff"/>
<path d="M117.8,131.6 121.7,118.9 118.7,118.3z" fill="#ffbf00"/>
<path d="M45.1,176.4 46,166.7 42.1,167.6z" fill="#50ffaf"/>
<path d="M70.1,234.2 74,237.7 71,230.9z" fill="#0010ff"/>
<path d="M80,249.2 80.9,245 77,243.8z" fill="#0000cf"/>
<path d="M111.2,194.3 115.1,180.4 112.1,177.5z" fill="#00ffff"/>
<path d="M194.7,122.5 198.6,135.7 195.6,133z" fill="#ffef00"/>
<path d="M54.1,201.4 58,204.5 55,195.7z" fill="#00afff"/>
<path d="M116,163.4 116.9,146.9 113,160.7z" fill="#8fff70"/>
<path d="M48.1,185.1 49,176.7 45.1,176.4z" fill="#20ffdf"/>
<path d="M207.6,144.7 211.5,157.4 208.5,154.9z" fill="#afff50"/>
<path d="M100.7,256.4 101.6,246.1 97.7,253.1z" fill="#0000af"/>
<path d="M104.6,249.2 105.5,236.8 101.6,246.1z" fill="#0000df"/>
<path d="M141.2,75.4 145.1,73.2 142.1,75.3z" fill="#cf0000"/>
<path d="M110.3,210.5 114.2,197.2 111.2,194.3z" fill="#00afff"/>
<path d="M161.9,77 165.8,83.8 162.8,82.8z" fill="#ef0000"/>
<path d="M115.1,180.4 116,163.4 112.1,177.5z" fill="#40ffbf"/>
<path d="M51.1,193.4 52,186.3 48.1,185.1z" fill="#00efff"/>
<path d="M89.9,259.3 93.8,257.6 90.8,253.5z" fill="#00009f"/>
<path d="M89.9,259.3 90.8,253.5 86.9,255.2z" fill="#00009f"/>
<path d="M70.1,234.2 71,230.9 67.1,227.7z" fill="#0020ff"/>
<path d="M125.6,107 126.5,97.2 122.6,107.2z" fill="#ff6000"/>
<path d="M171.8,87.2 175.7,96.9 172.7,94.9z" fill="#ff3000"/>
<path d="M57.2,208.9 61.1,212.9 58,204.5z" fill="#008fff"/>
<path d="M137.3,80.2 138.2,77.5 134.3,82z" fill="#df0000"/>
<path d="M114.2,197.2 115.1,180.4 111.2,194.3z" fill="#00efff"/>
<path d="M181.7,101.8 182.6,111.4 178.7,99.3z" fill="#ff6000"/>
<path d="M100.7,256.4 104.6,249.2 101.6,246.1z" fill="#0000bf"/>
<path d="M108.5,239.7 109.4,225.8 105.5,236.8z" fill="#0010ff"/>
<path d="M116.9,146.9 120.8,133.1 117.8,131.6z" fill="#ffff00"/>
<path d="M96.8,261.2 97.7,253.1 93.8,257.6z" fill="#00009f"/>
<path d="M161.9,77 162.8,82.8 158.9,76.2z" fill="#df0000"/>
<path d="M83,253.9 86.9,255.2 83.9,250.4z" fill="#0000af"/>
<path d="M109.4,225.8 113.3,213.3 110.3,210.5z" fill="#0070ff"/>
<path d="M38.2,168.2 42.1,167.6 39.1,158.6z" fill="#70ff8f"/>
<path d="M54.1,201.4 55,195.7 51.1,193.4z" fill="#00cfff"/>
<path d="M73.1,240 77,243.8 74,237.7z" fill="#0000ef"/>
<path d="M121.7,118.9 125.6,107 122.6,107.2z" fill="#ff8000"/>
<path d="M104.6,249.2 108.5,239.7 105.5,236.8z" fill="#0000ef"/>
<path d="M120.8,133.1 121.7,118.9 117.8,131.6z" fill="#ffcf00"/>
<path d="M129.5,96.3 130.4,88.7 126.5,97.2z" fill="#ff3000"/>
<path d="M148.1,72.1 149,73.7 145.1,73.2z" fill="#bf0000"/>
<path d="M113.3,213.3 114.2,197.2 110.3,210.5z" fill="#009fff"/>
<path d="M96.8,261.2 100.7,256.4 97.7,253.1z" fill="#00009f"/>
<path d="M133.4,87.3 134.3,82 130.4,88.7z" fill="#ff0000"/>
<path d="M83,253.9 83.9,250.4 80,249.2z" fill="#0000bf"/>
<path d="M194.7,122.5 195.6,133 191.7,119.5z" fill="#ffbf00"/>
<path d="M60.2,215.9 64.1,220.6 61.1,212.9z" fill="#0070ff"/>
<path d="M38.2,168.2 39.1,158.6 35.2,160.6z" fill="#80ff80"/>
<path d="M41.2,175.7 45.1,176.4 42.1,167.6z" fill="#40ffbf"/>
<path d="M116,163.4 119.9,149.1 116.9,146.9z" fill="#afff50"/>
<path d="M148.1,72.1 152,72.7 149,73.7z" fill="#bf0000"/>
<path d="M207.6,144.7 208.5,154.9 204.6,141.6z" fill="#cfff30"/>
<path d="M171.8,87.2 172.7,94.9 168.8,85.3z" fill="#ff1000"/>
<path d="M155,72.5 158.9,76.2 155.9,76.2z" fill="#cf0000"/>
<path d="M57.2,208.9 58,204.5 54.1,201.4z" fill="#009fff"/>
<path d="M137.3,80.2 141.2,75.4 138.2,77.5z" fill="#cf0000"/>
<path d="M155,72.5 155.9,76.2 152,72.7z" fill="#bf0000"/>
<path d="M73.1,240 74,237.7 70.1,234.2z" fill="#0000ff"/>
<path d="M184.8,104.6 188.7,116.6 185.6,113.9z" fill="#ff8000"/>
<path d="M115.1,180.4 119,165.9 116,163.4z" fill="#60ff9f"/>
<path d="M108.5,239.7 112.4,228.4 109.4,225.8z" fill="#0020ff"/>
<path d="M125.6,107 129.5,96.3 126.5,97.2z" fill="#ff4000"/>
<path d="M119.9,149.1 120.8,133.1 116.9,146.9z" fill="#dfff20"/>
<path d="M112.4,228.4 113.3,213.3 109.4,225.8z" fill="#0050ff"/>
<path d="M44.2,183 48.1,185.1 45.1,176.4z" fill="#20ffdf"/>
<path d="M41.2,175.7 42.1,167.6 38.2,168.2z" fill="#50ffaf"/>
<path d="M197.7,125.7 201.6,138.6 198.6,135.7z" fill="#ffef00"/>
<path d="M114.2,197.2 118.1,183 115.1,180.4z" fill="#00ffff"/>
<path d="M103.7,259.4 104.6,249.2 100.7,256.4z" fill="#0000af"/>
<path d="M63.2,222.4 67.1,227.7 64.1,220.6z" fill="#0050ff"/>
<path d="M60.2,215.9 61.1,212.9 57.2,208.9z" fill="#0080ff"/>
<path d="M107.6,252 108.5,239.7 104.6,249.2z" fill="#0000cf"/>
<path d="M133.4,87.3 137.3,80.2 134.3,82z" fill="#ef0000"/>
<path d="M76.1,245.2 80,249.2 77,243.8z" fill="#0000df"/>
<path d="M119,165.9 119.9,149.1 116,163.4z" fill="#8fff70"/>
<path d="M210.6,147.9 214.5,159.9 211.5,157.4z" fill="#9fff60"/>
<path d="M92.9,263 93.8,257.6 89.9,259.3z" fill="#00008f"/>
<path d="M129.5,96.3 133.4,87.3 130.4,88.7z" fill="#ff1000"/>
<path d="M92.9,263 96.8,261.2 93.8,257.6z" fill="#00008f"/>
<path d="M120.8,133.1 124.7,119.9 121.7,118.9z" fill="#ffbf00"/>
<path d="M124.7,119.9 125.6,107 121.7,118.9z" fill="#ff8f00"/>
<path d="M113.3,213.3 117.2,199.7 114.2,197.2z" fill="#00afff"/>
<path d="M47.2,190.2 51.1,193.4 48.1,185.1z" fill="#00ffff"/>
<path d="M86,258.2 89.9,259.3 86.9,255.2z" fill="#00009f"/>
<path d="M118.1,183 119,165.9 115.1,180.4z" fill="#40ffbf"/>
<path d="M44.2,183 45.1,176.4 41.2,175.7z" fill="#30ffcf"/>
<path d="M99.8,264.3 100.7,256.4 96.8,261.2z" fill="#00008f"/>
<path d="M103.7,259.4 107.6,252 104.6,249.2z" fill="#0000bf"/>
<path d="M86,258.2 86.9,255.2 83,253.9z" fill="#0000af"/>
<path d="M34.3,168.6 38.2,168.2 35.2,160.6z" fill="#70ff8f"/>
<path d="M174.8,89.4 178.7,99.3 175.7,96.9z" fill="#ff2000"/>
<path d="M117.2,199.7 118.1,183 114.2,197.2z" fill="#00efff"/>
<path d="M76.1,245.2 77,243.8 73.1,240z" fill="#0000ef"/>
<path d="M184.8,104.6 185.6,113.9 181.7,101.8z" fill="#ff6000"/>
<path d="M111.5,242.3 112.4,228.4 108.5,239.7z" fill="#0010ff"/>
<path d="M164.9,78.3 168.8,85.3 165.8,83.8z" fill="#df0000"/>
<path d="M144.2,74.4 145.1,73.2 141.2,75.4z" fill="#bf0000"/>
<path d="M112.4,228.4 116.3,215.7 113.3,213.3z" fill="#0070ff"/>
<path d="M63.2,222.4 64.1,220.6 60.2,215.9z" fill="#0060ff"/>
<path d="M107.6,252 111.5,242.3 108.5,239.7z" fill="#0000ef"/>
<path d="M34.3,168.6 35.2,160.6 31.3,162.6z" fill="#80ff80"/>
<path d="M99.8,264.3 103.7,259.4 100.7,256.4z" fill="#00009f"/>
<path d="M119.9,149.1 123.8,134.9 120.8,133.1z" fill="#ffff00"/>
<path d="M50.2,197 54.1,201.4 51.1,193.4z" fill="#00dfff"/>
<path d="M66.2,228.4 70.1,234.2 67.1,227.7z" fill="#0030ff"/>
<path d="M47.2,190.2 48.1,185.1 44.2,183z" fill="#10ffef"/>
<path d="M197.7,125.7 198.6,135.7 194.7,122.5z" fill="#ffcf00"/>
<path d="M116.3,215.7 117.2,199.7 113.3,213.3z" fill="#009fff"/>
<path d="M164.9,78.3 165.8,83.8 161.9,77z" fill="#cf0000"/>
<path d="M210.6,147.9 211.5,157.4 207.6,144.7z" fill="#cfff30"/>
<path d="M144.2,74.4 148.1,72.1 145.1,73.2z" fill="#af0000"/>
<path d="M128.6,107.4 129.5,96.3 125.6,107z" fill="#ff5000"/>
<path d="M123.8,134.9 124.7,119.9 120.8,133.1z" fill="#ffcf00"/>
<path d="M119,165.9 122.9,151.3 119.9,149.1z" fill="#afff50"/>
<path d="M79.1,249.9 83,253.9 80,249.2z" fill="#0000cf"/>
<path d="M124.7,119.9 128.6,107.4 125.6,107z" fill="#ff7000"/>
<path d="M37.3,174.5 41.2,175.7 38.2,168.2z" fill="#50ffaf"/>
<path d="M174.8,89.4 175.7,96.9 171.8,87.2z" fill="#ff1000"/>
<path d="M187.8,107.5 191.7,119.5 188.7,116.6z" fill="#ff8000"/>
<path d="M118.1,183 122,168.3 119,165.9z" fill="#60ff9f"/>
<path d="M111.5,242.3 115.4,230.8 112.4,228.4z" fill="#0020ff"/>
<path d="M200.7,129.1 204.6,141.6 201.6,138.6z" fill="#ffef00"/>
<path d="M53.3,203.5 57.2,208.9 54.1,201.4z" fill="#00afff"/>
<path d="M115.4,230.8 116.3,215.7 112.4,228.4z" fill="#0050ff"/>
<path d="M140.3,79.3 141.2,75.4 137.3,80.2z" fill="#cf0000"/>
<path d="M50.2,197 51.1,193.4 47.2,190.2z" fill="#00efff"/>
<path d="M66.2,228.4 67.1,227.7 63.2,222.4z" fill="#0050ff"/>
<path d="M122.9,151.3 123.8,134.9 119.9,149.1z" fill="#dfff20"/>
<path d="M95.9,266.3 96.8,261.2 92.9,263z" fill="#00008f"/>
<path d="M37.3,174.5 38.2,168.2 34.3,168.6z" fill="#60ff9f"/>
<path d="M117.2,199.7 121.1,185.3 118.1,183z" fill="#00ffff"/>
<path d="M158,73.2 161.9,77 158.9,76.2z" fill="#bf0000"/>
<path d="M132.5,96.3 133.4,87.3 129.5,96.3z" fill="#ff1000"/>
<path d="M106.8,262.1 107.6,252 103.7,259.4z" fill="#0000af"/>
<path d="M151.1,71.9 152,72.7 148.1,72.1z" fill="#af0000"/>
<path d="M95.9,266.3 99.8,264.3 96.8,261.2z" fill="#00008f"/>
<path d="M89,261.9 92.9,263 89.9,259.3z" fill="#00009f"/>
<path d="M79.1,249.9 80,249.2 76.1,245.2z" fill="#0000df"/>
<path d="M213.6,151.3 217.5,162.5 214.5,159.9z" fill="#9fff60"/>
<path d="M110.7,254.5 111.5,242.3 107.6,252z" fill="#0000cf"/>
<path d="M158,73.2 158.9,76.2 155,72.5z" fill="#af0000"/>
<path d="M151.1,71.9 155,72.5 152,72.7z" fill="#af0000"/>
<path d="M69.2,233.8 73.1,240 70.1,234.2z" fill="#0020ff"/>
<path d="M136.4,86.8 137.3,80.2 133.4,87.3z" fill="#ef0000"/>
<path d="M122,168.3 122.9,151.3 119,165.9z" fill="#8fff70"/>
<path d="M89,261.9 89.9,259.3 86,258.2z" fill="#00009f"/>
<path d="M116.3,215.7 120.2,201.9 117.2,199.7z" fill="#00afff"/>
<path d="M40.3,180.4 44.2,183 41.2,175.7z" fill="#40ffbf"/>
<path d="M121.1,185.3 122,168.3 118.1,183z" fill="#40ffbf"/>
<path d="M128.6,107.4 132.5,96.3 129.5,96.3z" fill="#ff3000"/>
<path d="M102.9,267.2 103.7,259.4 99.8,264.3z" fill="#00008f"/>
<path d="M30.4,168.8 34.3,168.6 31.3,162.6z" fill="#80ff80"/>
<path d="M140.3,79.3 144.2,74.4 141.2,75.4z" fill="#bf0000"/>
<path d="M123.8,134.9 127.7,121.2 124.7,119.9z" fill="#ffaf00"/>
<path d="M53.3,203.5 54.1,201.4 50.2,197z" fill="#00cfff"/>
<path d="M106.8,262.1 110.7,254.5 107.6,252z" fill="#0000bf"/>
<path d="M56.3,209.6 60.2,215.9 57.2,208.9z" fill="#009fff"/>
<path d="M30.4,168.8 31.3,162.6 27.4,164.5z" fill="#80ff80"/>
<path d="M187.8,107.5 188.7,116.6 184.8,104.6z" fill="#ff6000"/>
<path d="M177.8,91.9 181.7,101.8 178.7,99.3z" fill="#ff2000"/>
<path d="M127.7,121.2 128.6,107.4 124.7,119.9z" fill="#ff8000"/>
<path d="M120.2,201.9 121.1,185.3 117.2,199.7z" fill="#00efff"/>
<path d="M114.6,244.6 115.4,230.8 111.5,242.3z" fill="#0010ff"/>
<path d="M40.3,180.4 41.2,175.7 37.3,174.5z" fill="#50ffaf"/>
<path d="M102.9,267.2 106.8,262.1 103.7,259.4z" fill="#00009f"/>
<path d="M115.4,230.8 119.3,217.8 116.3,215.7z" fill="#0070ff"/>
<path d="M200.7,129.1 201.6,138.6 197.7,125.7z" fill="#ffcf00"/>
<path d="M110.7,254.5 114.6,244.6 111.5,242.3z" fill="#0000ef"/>
<path d="M167.9,80.1 171.8,87.2 168.8,85.3z" fill="#df0000"/>
<path d="M69.2,233.8 70.1,234.2 66.2,228.4z" fill="#0030ff"/>
<path d="M132.5,96.3 136.4,86.8 133.4,87.3z" fill="#ff0000"/>
<path d="M82.1,254 86,258.2 83,253.9z" fill="#0000bf"/>
<path d="M136.4,86.8 140.3,79.3 137.3,80.2z" fill="#cf0000"/>
<path d="M213.6,151.3 214.5,159.9 210.6,147.9z" fill="#bfff40"/>
<path d="M122.9,151.3 126.8,136.8 123.8,134.9z" fill="#ffff00"/>
<path d="M119.3,217.8 120.2,201.9 116.3,215.7z" fill="#009fff"/>
<path d="M43.3,186.1 47.2,190.2 44.2,183z" fill="#20ffdf"/>
<path d="M72.2,238.7 76.1,245.2 73.1,240z" fill="#0010ff"/>
<path d="M190.8,110.7 194.7,122.5 191.7,119.5z" fill="#ff8000"/>
<path d="M122,168.3 125.9,153.4 122.9,151.3z" fill="#afff50"/>
<path d="M56.3,209.6 57.2,208.9 53.3,203.5z" fill="#00afff"/>
<path d="M167.9,80.1 168.8,85.3 164.9,78.3z" fill="#cf0000"/>
<path d="M82.1,254 83,253.9 79.1,249.9z" fill="#0000cf"/>
<path d="M126.8,136.8 127.7,121.2 123.8,134.9z" fill="#ffcf00"/>
<path d="M203.7,132.7 207.6,144.7 204.6,141.6z" fill="#ffef00"/>
<path d="M177.8,91.9 178.7,99.3 174.8,89.4z" fill="#ff1000"/>
<path d="M59.3,215.3 63.2,222.4 60.2,215.9z" fill="#0080ff"/>
<path d="M147.2,74.2 148.1,72.1 144.2,74.4z" fill="#9f0000"/>
<path d="M33.4,173.1 37.3,174.5 34.3,168.6z" fill="#70ff8f"/>
<path d="M121.1,185.3 125,170.4 122,168.3z" fill="#60ff9f"/>
<path d="M99,269.3 99.8,264.3 95.9,266.3z" fill="#00008f"/>
<path d="M114.6,244.6 118.5,232.9 115.4,230.8z" fill="#0020ff"/>
<path d="M92,265.3 95.9,266.3 92.9,263z" fill="#00008f"/>
<path d="M131.6,108.4 132.5,96.3 128.6,107.4z" fill="#ff4000"/>
<path d="M99,269.3 102.9,267.2 99.8,264.3z" fill="#00008f"/>
<path d="M118.5,232.9 119.3,217.8 115.4,230.8z" fill="#0050ff"/>
<path d="M43.3,186.1 44.2,183 40.3,180.4z" fill="#30ffcf"/>
<path d="M127.7,121.2 131.6,108.4 128.6,107.4z" fill="#ff7000"/>
<path d="M109.8,264.6 110.7,254.5 106.8,262.1z" fill="#0000af"/>
<path d="M92,265.3 92.9,263 89,261.9z" fill="#00009f"/>
<path d="M216.6,154.8 220.5,165 217.5,162.5z" fill="#9fff60"/>
<path d="M125.9,153.4 126.8,136.8 122.9,151.3z" fill="#efff10"/>
<path d="M33.4,173.1 34.3,168.6 30.4,168.8z" fill="#70ff8f"/>
<path d="M120.2,201.9 124.1,187.3 121.1,185.3z" fill="#10ffef"/>
<path d="M147.2,74.2 151.1,71.9 148.1,72.1z" fill="#9f0000"/>
<path d="M113.7,256.8 114.6,244.6 110.7,254.5z" fill="#0000cf"/>
<path d="M46.3,191.6 50.2,197 47.2,190.2z" fill="#00ffff"/>
<path d="M72.2,238.7 73.1,240 69.2,233.8z" fill="#0020ff"/>
<path d="M125,170.4 125.9,153.4 122,168.3z" fill="#8fff70"/>
<path d="M161,74.4 164.9,78.3 161.9,77z" fill="#af0000"/>
<path d="M26.5,169 30.4,168.8 27.4,164.5z" fill="#80ff80"/>
<path d="M26.5,169 27.4,164.5 23.5,166.4z" fill="#80ff80"/>
<path d="M105.9,269.7 106.8,262.1 102.9,267.2z" fill="#00008f"/>
<path d="M119.3,217.8 123.2,203.9 120.2,201.9z" fill="#00bfff"/>
<path d="M190.8,110.7 191.7,119.5 187.8,107.5z" fill="#ff6000"/>
<path d="M59.3,215.3 60.2,215.9 56.3,209.6z" fill="#009fff"/>
<path d="M124.1,187.3 125,170.4 121.1,185.3z" fill="#40ffbf"/>
<path d="M161,74.4 161.9,77 158,73.2z" fill="#9f0000"/>
<path d="M154.1,72.5 155,72.5 151.1,71.9z" fill="#9f0000"/>
<path d="M135.5,96.8 136.4,86.8 132.5,96.3z" fill="#ff0000"/>
<path d="M143.3,79.4 144.2,74.4 140.3,79.3z" fill="#af0000"/>
<path d="M109.8,264.6 113.7,256.8 110.7,254.5z" fill="#0000bf"/>
<path d="M85.1,257.8 89,261.9 86,258.2z" fill="#0000af"/>
<path d="M180.9,94.7 184.8,104.6 181.7,101.8z" fill="#ff2000"/>
<path d="M154.1,72.5 158,73.2 155,72.5z" fill="#9f0000"/>
<path d="M62.3,220.5 66.2,228.4 63.2,222.4z" fill="#0070ff"/>
<path d="M203.7,132.7 204.6,141.6 200.7,129.1z" fill="#ffcf00"/>
<path d="M126.8,136.8 130.7,122.8 127.7,121.2z" fill="#ffaf00"/>
<path d="M75.2,243.1 79.1,249.9 76.1,245.2z" fill="#0000ff"/>
<path d="M117.6,246.8 118.5,232.9 114.6,244.6z" fill="#0010ff"/>
<path d="M123.2,203.9 124.1,187.3 120.2,201.9z" fill="#00efff"/>
<path d="M105.9,269.7 109.8,264.6 106.8,262.1z" fill="#00009f"/>
<path d="M139.4,87 140.3,79.3 136.4,86.8z" fill="#cf0000"/>
<path d="M46.3,191.6 47.2,190.2 43.3,186.1z" fill="#20ffdf"/>
<path d="M216.6,154.8 217.5,162.5 213.6,151.3z" fill="#bfff40"/>
<path d="M131.6,108.4 135.5,96.8 132.5,96.3z" fill="#ff2000"/>
<path d="M36.4,177.4 40.3,180.4 37.3,174.5z" fill="#50ffaf"/>
<path d="M113.7,256.8 117.6,246.8 114.6,244.6z" fill="#0000ef"/>
<path d="M130.7,122.8 131.6,108.4 127.7,121.2z" fill="#ff8000"/>
<path d="M118.5,232.9 122.4,219.8 119.3,217.8z" fill="#0070ff"/>
<path d="M170.9,82.3 174.8,89.4 171.8,87.2z" fill="#df0000"/>
<path d="M85.1,257.8 86,258.2 82.1,254z" fill="#0000bf"/>
<path d="M193.8,114.2 197.7,125.7 194.7,122.5z" fill="#ff8f00"/>
<path d="M49.4,196.9 53.3,203.5 50.2,197z" fill="#00efff"/>
<path d="M143.3,79.4 147.2,74.2 144.2,74.4z" fill="#9f0000"/>
<path d="M125.9,153.4 129.8,138.7 126.8,136.8z" fill="#ffff00"/>
<path d="M122.4,219.8 123.2,203.9 119.3,217.8z" fill="#009fff"/>
<path d="M206.7,136.5 210.6,147.9 207.6,144.7z" fill="#ffff00"/>
<path d="M36.4,177.4 37.3,174.5 33.4,173.1z" fill="#60ff9f"/>
<path d="M180.9,94.7 181.7,101.8 177.8,91.9z" fill="#ff1000"/>
<path d="M75.2,243.1 76.1,245.2 72.2,238.7z" fill="#0010ff"/>
<path d="M125,170.4 128.9,155.4 125.9,153.4z" fill="#afff50"/>
<path d="M135.5,96.8 139.4,87 136.4,86.8z" fill="#ef0000"/>
<path d="M95.1,268.3 99,269.3 95.9,266.3z" fill="#00008f"/>
<path d="M170.9,82.3 171.8,87.2 167.9,80.1z" fill="#cf0000"/>
<path d="M62.3,220.5 63.2,222.4 59.3,215.3z" fill="#0080ff"/>
<path d="M102,272 102.9,267.2 99,269.3z" fill="#00008f"/>
<path d="M129.8,138.7 130.7,122.8 126.8,136.8z" fill="#ffbf00"/>
<path d="M139.4,87 143.3,79.4 140.3,79.3z" fill="#bf0000"/>
<path d="M95.1,268.3 95.9,266.3 92,265.3z" fill="#00009f"/>
<path d="M102,272 105.9,269.7 102.9,267.2z" fill="#00008f"/>
<path d="M124.1,187.3 128,172.3 125,170.4z" fill="#60ff9f"/>
<path d="M219.6,158.5 223.5,167.6 220.5,165z" fill="#9fff60"/>
<path d="M117.6,246.8 121.5,234.9 118.5,232.9z" fill="#0030ff"/>
<path d="M65.3,225.4 69.2,233.8 66.2,228.4z" fill="#0050ff"/>
<path d="M121.5,234.9 122.4,219.8 118.5,232.9z" fill="#0050ff"/>
<path d="M112.8,266.8 113.7,256.8 109.8,264.6z" fill="#0000af"/>
<path d="M29.5,171.5 33.4,173.1 30.4,168.8z" fill="#80ff80"/>
<path d="M49.4,196.9 50.2,197 46.3,191.6z" fill="#00ffff"/>
<path d="M128.9,155.4 129.8,138.7 125.9,153.4z" fill="#efff10"/>
<path d="M29.5,171.5 30.4,168.8 26.5,169z" fill="#80ff80"/>
<path d="M123.2,203.9 127.1,189.2 124.1,187.3z" fill="#10ffef"/>
<path d="M116.7,258.9 117.6,246.8 113.7,256.8z" fill="#0000df"/>
<path d="M130.7,122.8 134.6,109.7 131.6,108.4z" fill="#ff6000"/>
<path d="M134.6,109.7 135.5,96.8 131.6,108.4z" fill="#ff3000"/>
<path d="M39.4,181.5 43.3,186.1 40.3,180.4z" fill="#40ffbf"/>
<path d="M150.2,74.8 151.1,71.9 147.2,74.2z" fill="#8f0000"/>
<path d="M193.8,114.2 194.7,122.5 190.8,110.7z" fill="#ff7000"/>
<path d="M52.4,201.9 56.3,209.6 53.3,203.5z" fill="#00cfff"/>
<path d="M78.2,247.1 82.1,254 79.1,249.9z" fill="#0000ef"/>
<path d="M88.1,261.2 92,265.3 89,261.9z" fill="#0000af"/>
<path d="M128,172.3 128.9,155.4 125,170.4z" fill="#9fff60"/>
<path d="M108.9,272.1 109.8,264.6 105.9,269.7z" fill="#00008f"/>
<path d="M206.7,136.5 207.6,144.7 203.7,132.7z" fill="#ffdf00"/>
<path d="M183.9,97.8 187.8,107.5 184.8,104.6z" fill="#ff3000"/>
<path d="M164,76.1 167.9,80.1 164.9,78.3z" fill="#af0000"/>
<path d="M122.4,219.8 126.3,205.7 123.2,203.9z" fill="#00bfff"/>
<path d="M150.2,74.8 154.1,72.5 151.1,71.9z" fill="#8f0000"/>
<path d="M127.1,189.2 128,172.3 124.1,187.3z" fill="#40ffbf"/>
<path d="M112.8,266.8 116.7,258.9 113.7,256.8z" fill="#0000bf"/>
<path d="M219.6,158.5 220.5,165 216.6,154.8z" fill="#bfff40"/>
<path d="M39.4,181.5 40.3,180.4 36.4,177.4z" fill="#50ffaf"/>
<path d="M88.1,261.2 89,261.9 85.1,257.8z" fill="#0000bf"/>
<path d="M164,76.1 164.9,78.3 161,74.4z" fill="#9f0000"/>
<path d="M65.3,225.4 66.2,228.4 62.3,220.5z" fill="#0070ff"/>
<path d="M108.9,272.1 112.8,266.8 109.8,264.6z" fill="#00009f"/>
<path d="M120.6,248.8 121.5,234.9 117.6,246.8z" fill="#0010ff"/>
<path d="M129.8,138.7 133.7,124.5 130.7,122.8z" fill="#ff9f00"/>
<path d="M196.8,117.9 200.7,129.1 197.7,125.7z" fill="#ff8f00"/>
<path d="M126.3,205.7 127.1,189.2 123.2,203.9z" fill="#00efff"/>
<path d="M209.7,140.7 213.6,151.3 210.6,147.9z" fill="#ffff00"/>
<path d="M157.1,73.7 158,73.2 154.1,72.5z" fill="#8f0000"/>
<path d="M173.9,84.8 177.8,91.9 174.8,89.4z" fill="#df0000"/>
<path d="M157.1,73.7 161,74.4 158,73.2z" fill="#8f0000"/>
<path d="M138.5,97.9 139.4,87 135.5,96.8z" fill="#ef0000"/>
<path d="M116.7,258.9 120.6,248.8 117.6,246.8z" fill="#0000ef"/>
<path d="M78.2,247.1 79.1,249.9 75.2,243.1z" fill="#0000ff"/>
<path d="M121.5,234.9 125.4,221.7 122.4,219.8z" fill="#0070ff"/>
<path d="M146.3,80.1 147.2,74.2 143.3,79.4z" fill="#9f0000"/>
<path d="M52.4,201.9 53.3,203.5 49.4,196.9z" fill="#00efff"/>
<path d="M133.7,124.5 134.6,109.7 130.7,122.8z" fill="#ff7000"/>
<path d="M68.3,229.8 72.2,238.7 69.2,233.8z" fill="#0040ff"/>
<path d="M134.6,109.7 138.5,97.9 135.5,96.8z" fill="#ff2000"/>
<path d="M128.9,155.4 132.8,140.6 129.8,138.7z" fill="#ffef00"/>
<path d="M183.9,97.8 184.8,104.6 180.9,94.7z" fill="#ff1000"/>
<path d="M142.4,87.9 143.3,79.4 139.4,87z" fill="#bf0000"/>
<path d="M125.4,221.7 126.3,205.7 122.4,219.8z" fill="#009fff"/>
<path d="M98.1,271.1 102,272 99,269.3z" fill="#00008f"/>
<path d="M55.4,206.7 59.3,215.3 56.3,209.6z" fill="#00bfff"/>
<path d="M42.4,185.6 46.3,191.6 43.3,186.1z" fill="#30ffcf"/>
<path d="M105,274.4 105.9,269.7 102,272z" fill="#00008f"/>
<path d="M98.1,271.1 99,269.3 95.1,268.3z" fill="#00008f"/>
<path d="M32.5,174.1 36.4,177.4 33.4,173.1z" fill="#70ff8f"/>
<path d="M173.9,84.8 174.8,89.4 170.9,82.3z" fill="#cf0000"/>
<path d="M128,172.3 131.9,157.3 128.9,155.4z" fill="#afff50"/>
<path d="M222.6,162.3 226.5,170.1 223.5,167.6z" fill="#9fff60"/>
<path d="M146.3,80.1 150.2,74.8 147.2,74.2z" fill="#9f0000"/>
<path d="M105,274.4 108.9,272.1 105.9,269.7z" fill="#00008f"/>
<path d="M132.8,140.6 133.7,124.5 129.8,138.7z" fill="#ffbf00"/>
<path d="M32.5,174.1 33.4,173.1 29.5,171.5z" fill="#80ff80"/>
<path d="M81.2,250.7 85.1,257.8 82.1,254z" fill="#0000df"/>
<path d="M120.6,248.8 124.5,236.9 121.5,234.9z" fill="#0030ff"/>
<path d="M127.1,189.2 131,174.2 128,172.3z" fill="#60ff9f"/>
<path d="M196.8,117.9 197.7,125.7 193.8,114.2z" fill="#ff7000"/>
<path d="M138.5,97.9 142.4,87.9 139.4,87z" fill="#df0000"/>
<path d="M115.8,268.8 116.7,258.9 112.8,266.8z" fill="#0000af"/>
<path d="M209.7,140.7 210.6,147.9 206.7,136.5z" fill="#ffdf00"/>
<path d="M124.5,236.9 125.4,221.7 121.5,234.9z" fill="#0060ff"/>
<path d="M91.2,264.2 95.1,268.3 92,265.3z" fill="#0000af"/>
<path d="M42.4,185.6 43.3,186.1 39.4,181.5z" fill="#40ffbf"/>
<path d="M131.9,157.3 132.8,140.6 128.9,155.4z" fill="#efff10"/>
<path d="M142.4,87.9 146.3,80.1 143.3,79.4z" fill="#af0000"/>
<path d="M68.3,229.8 69.2,233.8 65.3,225.4z" fill="#0060ff"/>
<path d="M119.7,260.9 120.6,248.8 116.7,258.9z" fill="#0000df"/>
<path d="M126.3,205.7 130.2,191 127.1,189.2z" fill="#10ffef"/>
<path d="M186.9,101.1 190.8,110.7 187.8,107.5z" fill="#ff3000"/>
<path d="M133.7,124.5 137.6,111.3 134.6,109.7z" fill="#ff6000"/>
<path d="M55.4,206.7 56.3,209.6 52.4,201.9z" fill="#00dfff"/>
<path d="M111.9,274.1 112.8,266.8 108.9,272.1z" fill="#00008f"/>
<path d="M222.6,162.3 223.5,167.6 219.6,158.5z" fill="#afff50"/>
<path d="M131,174.2 131.9,157.3 128,172.3z" fill="#9fff60"/>
<path d="M137.6,111.3 138.5,97.9 134.6,109.7z" fill="#ff3000"/>
<path d="M91.2,264.2 92,265.3 88.1,261.2z" fill="#0000bf"/>
<path d="M167,78.3 170.9,82.3 167.9,80.1z" fill="#9f0000"/>
<path d="M199.8,122 203.7,132.7 200.7,129.1z" fill="#ff9f00"/>
<path d="M212.7,145.1 216.6,154.8 213.6,151.3z" fill="#efff10"/>
<path d="M81.2,250.7 82.1,254 78.2,247.1z" fill="#0000ff"/>
<path d="M153.2,76 154.1,72.5 150.2,74.8z" fill="#8f0000"/>
<path d="M125.4,221.7 129.3,207.5 126.3,205.7z" fill="#00bfff"/>
<path d="M71.3,233.9 75.2,243.1 72.2,238.7z" fill="#0040ff"/>
<path d="M115.8,268.8 119.7,260.9 116.7,258.9z" fill="#0000bf"/>
<path d="M130.2,191 131,174.2 127.1,189.2z" fill="#50ffaf"/>
<path d="M58.4,211.1 62.3,220.5 59.3,215.3z" fill="#00afff"/>
<path d="M45.5,189.5 49.4,196.9 46.3,191.6z" fill="#20ffdf"/>
<path d="M167,78.3 167.9,80.1 164,76.1z" fill="#9f0000"/>
<path d="M177,87.6 180.9,94.7 177.8,91.9z" fill="#df0000"/>
<path d="M111.9,274.1 115.8,268.8 112.8,266.8z" fill="#00009f"/>
<path d="M153.2,76 157.1,73.7 154.1,72.5z" fill="#800000"/>
<path d="M123.6,250.7 124.5,236.9 120.6,248.8z" fill="#0020ff"/>
<path d="M132.8,140.6 136.7,126.4 133.7,124.5z" fill="#ff9f00"/>
<path d="M129.3,207.5 130.2,191 126.3,205.7z" fill="#00efff"/>
<path d="M119.7,260.9 123.6,250.7 120.6,248.8z" fill="#0000ef"/>
<path d="M186.9,101.1 187.8,107.5 183.9,97.8z" fill="#ff1000"/>
<path d="M124.5,236.9 128.4,223.6 125.4,221.7z" fill="#0070ff"/>
<path d="M160.1,75.3 164,76.1 161,74.4z" fill="#8f0000"/>
<path d="M160.1,75.3 161,74.4 157.1,73.7z" fill="#800000"/>
<path d="M35.5,176.6 39.4,181.5 36.4,177.4z" fill="#70ff8f"/>
<path d="M141.5,99.4 142.4,87.9 138.5,97.9z" fill="#ef0000"/>
<path d="M136.7,126.4 137.6,111.3 133.7,124.5z" fill="#ff7000"/>
<path d="M101.1,273.5 105,274.4 102,272z" fill="#00008f"/>
<path d="M131.9,157.3 135.8,142.5 132.8,140.6z" fill="#ffef00"/>
<path d="M225.7,166.2 229.6,172.6 226.5,170.1z" fill="#9fff60"/>
<path d="M101.1,273.5 102,272 98.1,271.1z" fill="#00008f"/>
<path d="M128.4,223.6 129.3,207.5 125.4,221.7z" fill="#00afff"/>
<path d="M149.3,81.3 150.2,74.8 146.3,80.1z" fill="#9f0000"/>
<path d="M137.6,111.3 141.5,99.4 138.5,97.9z" fill="#ff1000"/>
<path d="M177,87.6 177.8,91.9 173.9,84.8z" fill="#cf0000"/>
<path d="M108,276.5 108.9,272.1 105,274.4z" fill="#00008f"/>
<path d="M212.7,145.1 213.6,151.3 209.7,140.7z" fill="#ffef00"/>
<path d="M45.5,189.5 46.3,191.6 42.4,185.6z" fill="#40ffbf"/>
<path d="M84.2,254 88.1,261.2 85.1,257.8z" fill="#0000df"/>
<path d="M199.8,122 200.7,129.1 196.8,117.9z" fill="#ff8000"/>
<path d="M71.3,233.9 72.2,238.7 68.3,229.8z" fill="#0050ff"/>
<path d="M35.5,176.6 36.4,177.4 32.5,174.1z" fill="#80ff80"/>
<path d="M145.4,89.2 146.3,80.1 142.4,87.9z" fill="#bf0000"/>
<path d="M58.4,211.1 59.3,215.3 55.4,206.7z" fill="#00cfff"/>
<path d="M131,174.2 134.9,159.1 131.9,157.3z" fill="#bfff40"/>
<path d="M108,276.5 111.9,274.1 108.9,272.1z" fill="#00008f"/>
<path d="M135.8,142.5 136.7,126.4 132.8,140.6z" fill="#ffbf00"/>
<path d="M94.2,267 98.1,271.1 95.1,268.3z" fill="#0000af"/>
<path d="M189.9,104.7 193.8,114.2 190.8,110.7z" fill="#ff3000"/>
<path d="M123.6,250.7 127.5,238.7 124.5,236.9z" fill="#0030ff"/>
<path d="M149.3,81.3 153.2,76 150.2,74.8z" fill="#8f0000"/>
<path d="M130.2,191 134.1,175.9 131,174.2z" fill="#70ff8f"/>
<path d="M118.8,270.5 119.7,260.9 115.8,268.8z" fill="#0000af"/>
<path d="M202.8,126.4 206.7,136.5 203.7,132.7z" fill="#ff9f00"/>
<path d="M61.4,215.3 65.3,225.4 62.3,220.5z" fill="#009fff"/>
<path d="M127.5,238.7 128.4,223.6 124.5,236.9z" fill="#0060ff"/>
<path d="M225.7,166.2 226.5,170.1 222.6,162.3z" fill="#afff50"/>
<path d="M215.7,149.9 219.6,158.5 216.6,154.8z" fill="#efff10"/>
<path d="M48.5,193.3 52.4,201.9 49.4,196.9z" fill="#10ffef"/>
<path d="M74.3,237.6 78.2,247.1 75.2,243.1z" fill="#0030ff"/>
<path d="M141.5,99.4 145.4,89.2 142.4,87.9z" fill="#df0000"/>
<path d="M134.9,159.1 135.8,142.5 131.9,157.3z" fill="#efff10"/>
<path d="M84.2,254 85.1,257.8 81.2,250.7z" fill="#0000ef"/>
<path d="M122.7,262.6 123.6,250.7 119.7,260.9z" fill="#0000df"/>
<path d="M94.2,267 95.1,268.3 91.2,264.2z" fill="#0000af"/>
<path d="M129.3,207.5 133.2,192.7 130.2,191z" fill="#10ffef"/>
<path d="M145.4,89.2 149.3,81.3 146.3,80.1z" fill="#af0000"/>
<path d="M136.7,126.4 140.6,113.1 137.6,111.3z" fill="#ff5000"/>
<path d="M114.9,275.8 115.8,268.8 111.9,274.1z" fill="#00009f"/>
<path d="M170,80.7 173.9,84.8 170.9,82.3z" fill="#9f0000"/>
<path d="M134.1,175.9 134.9,159.1 131,174.2z" fill="#9fff60"/>
<path d="M140.6,113.1 141.5,99.4 137.6,111.3z" fill="#ff2000"/>
<path d="M180,90.6 183.9,97.8 180.9,94.7z" fill="#df0000"/>
<path d="M128.4,223.6 132.3,209.3 129.3,207.5z" fill="#00bfff"/>
<path d="M118.8,270.5 122.7,262.6 119.7,260.9z" fill="#0000bf"/>
<path d="M156.2,77.7 157.1,73.7 153.2,76z" fill="#800000"/>
<path d="M133.2,192.7 134.1,175.9 130.2,191z" fill="#50ffaf"/>
<path d="M189.9,104.7 190.8,110.7 186.9,101.1z" fill="#ff1000"/>
<path d="M170,80.7 170.9,82.3 167,78.3z" fill="#9f0000"/>
<path d="M38.5,179.2 42.4,185.6 39.4,181.5z" fill="#60ff9f"/>
<path d="M114.9,275.8 118.8,270.5 115.8,268.8z" fill="#00009f"/>
<path d="M48.5,193.3 49.4,196.9 45.5,189.5z" fill="#30ffcf"/>
<path d="M126.6,252.4 127.5,238.7 123.6,250.7z" fill="#0020ff"/>
<path d="M215.7,149.9 216.6,154.8 212.7,145.1z" fill="#ffef00"/>
<path d="M156.2,77.7 160.1,75.3 157.1,73.7z" fill="#800000"/>
<path d="M61.4,215.3 62.3,220.5 58.4,211.1z" fill="#00bfff"/>
<path d="M135.8,142.5 139.7,128.2 136.7,126.4z" fill="#ff9f00"/>
<path d="M202.8,126.4 203.7,132.7 199.8,122z" fill="#ff8000"/>
<path d="M74.3,237.6 75.2,243.1 71.3,233.9z" fill="#0050ff"/>
<path d="M132.3,209.3 133.2,192.7 129.3,207.5z" fill="#00ffff"/>
<path d="M122.7,262.6 126.6,252.4 123.6,250.7z" fill="#0000ef"/>
<path d="M228.7,170.3 232.6,175.2 229.6,172.6z" fill="#8fff70"/>
<path d="M163.1,77.4 167,78.3 164,76.1z" fill="#800000"/>
<path d="M127.5,238.7 131.4,225.4 128.4,223.6z" fill="#0080ff"/>
<path d="M163.1,77.4 164,76.1 160.1,75.3z" fill="#800000"/>
<path d="M180,90.6 180.9,94.7 177,87.6z" fill="#cf0000"/>
<path d="M87.3,257.1 91.2,264.2 88.1,261.2z" fill="#0000df"/>
<path d="M104.1,275.7 108,276.5 105,274.4z" fill="#00008f"/>
<path d="M139.7,128.2 140.6,113.1 136.7,126.4z" fill="#ff7000"/>
<path d="M104.1,275.7 105,274.4 101.1,273.5z" fill="#00008f"/>
<path d="M38.5,179.2 39.4,181.5 35.5,176.6z" fill="#80ff80"/>
<path d="M144.5,101.1 145.4,89.2 141.5,99.4z" fill="#df0000"/>
<path d="M134.9,159.1 138.8,144.3 135.8,142.5z" fill="#ffef00"/>
<path d="M192.9,108.7 196.8,117.9 193.8,114.2z" fill="#ff4000"/>
<path d="M64.4,219.1 68.3,229.8 65.3,225.4z" fill="#008fff"/>
<path d="M131.4,225.4 132.3,209.3 128.4,223.6z" fill="#00afff"/>
<path d="M205.8,131.3 209.7,140.7 206.7,136.5z" fill="#ffaf00"/>
<path d="M111,278.1 111.9,274.1 108,276.5z" fill="#00008f"/>
<path d="M51.5,197 55.4,206.7 52.4,201.9z" fill="#00ffff"/>
<path d="M140.6,113.1 144.5,101.1 141.5,99.4z" fill="#ff1000"/>
<path d="M218.7,154.9 222.6,162.3 219.6,158.5z" fill="#dfff20"/>
<path d="M152.3,83 153.2,76 149.3,81.3z" fill="#8f0000"/>
<path d="M228.7,170.3 229.6,172.6 225.7,166.2z" fill="#afff50"/>
<path d="M97.2,269.5 101.1,273.5 98.1,271.1z" fill="#0000af"/>
<path d="M77.3,241.1 81.2,250.7 78.2,247.1z" fill="#0020ff"/>
<path d="M134.1,175.9 138,160.8 134.9,159.1z" fill="#bfff40"/>
<path d="M111,278.1 114.9,275.8 111.9,274.1z" fill="#00008f"/>
<path d="M148.4,90.9 149.3,81.3 145.4,89.2z" fill="#af0000"/>
<path d="M138.8,144.3 139.7,128.2 135.8,142.5z" fill="#ffaf00"/>
<path d="M87.3,257.1 88.1,261.2 84.2,254z" fill="#0000ef"/>
<path d="M126.6,252.4 130.5,240.5 127.5,238.7z" fill="#0030ff"/>
<path d="M133.2,192.7 137.1,177.6 134.1,175.9z" fill="#70ff8f"/>
<path d="M97.2,269.5 98.1,271.1 94.2,267z" fill="#0000af"/>
<path d="M152.3,83 156.2,77.7 153.2,76z" fill="#8f0000"/>
<path d="M130.5,240.5 131.4,225.4 127.5,238.7z" fill="#0060ff"/>
<path d="M121.8,271.7 122.7,262.6 118.8,270.5z" fill="#0000bf"/>
<path d="M138,160.8 138.8,144.3 134.9,159.1z" fill="#ffff00"/>
<path d="M173.1,83.5 177,87.6 173.9,84.8z" fill="#9f0000"/>
<path d="M144.5,101.1 148.4,90.9 145.4,89.2z" fill="#cf0000"/>
<path d="M183,94 186.9,101.1 183.9,97.8z" fill="#df0000"/>
<path d="M132.3,209.3 136.2,194.5 133.2,192.7z" fill="#20ffdf"/>
<path d="M125.7,263.9 126.6,252.4 122.7,262.6z" fill="#0000ef"/>
<path d="M192.9,108.7 193.8,114.2 189.9,104.7z" fill="#ff2000"/>
<path d="M218.7,154.9 219.6,158.5 215.7,149.9z" fill="#ffff00"/>
<path d="M51.5,197 52.4,201.9 48.5,193.3z" fill="#20ffdf"/>
<path d="M41.6,181.7 45.5,189.5 42.4,185.6z" fill="#60ff9f"/>
<path d="M139.7,128.2 143.6,114.9 140.6,113.1z" fill="#ff5000"/>
<path d="M205.8,131.3 206.7,136.5 202.8,126.4z" fill="#ff8f00"/>
<path d="M64.4,219.1 65.3,225.4 61.4,215.3z" fill="#00afff"/>
<path d="M148.4,90.9 152.3,83 149.3,81.3z" fill="#9f0000"/>
<path d="M137.1,177.6 138,160.8 134.1,175.9z" fill="#9fff60"/>
<path d="M117.9,277 118.8,270.5 114.9,275.8z" fill="#00009f"/>
<path d="M143.6,114.9 144.5,101.1 140.6,113.1z" fill="#ff2000"/>
<path d="M77.3,241.1 78.2,247.1 74.3,237.6z" fill="#0040ff"/>
<path d="M173.1,83.5 173.9,84.8 170,80.7z" fill="#9f0000"/>
<path d="M131.4,225.4 135.3,211.2 132.3,209.3z" fill="#00cfff"/>
<path d="M159.2,79.7 160.1,75.3 156.2,77.7z" fill="#800000"/>
<path d="M136.2,194.5 137.1,177.6 133.2,192.7z" fill="#50ffaf"/>
<path d="M208.8,136.5 212.7,145.1 209.7,140.7z" fill="#ffbf00"/>
<path d="M121.8,271.7 125.7,263.9 122.7,262.6z" fill="#0000cf"/>
<path d="M231.7,174.4 235.6,177.7 232.6,175.2z" fill="#8fff70"/>
<path d="M195.9,113.1 199.8,122 196.8,117.9z" fill="#ff4000"/>
<path d="M67.4,222.7 71.3,233.9 68.3,229.8z" fill="#008fff"/>
<path d="M183,94 183.9,97.8 180,90.6z" fill="#cf0000"/>
<path d="M221.8,160.2 225.7,166.2 222.6,162.3z" fill="#cfff30"/>
<path d="M54.5,200.5 58.4,211.1 55.4,206.7z" fill="#00ffff"/>
<path d="M159.2,79.7 163.1,77.4 160.1,75.3z" fill="#800000"/>
<path d="M90.3,259.9 94.2,267 91.2,264.2z" fill="#0000df"/>
<path d="M129.6,253.9 130.5,240.5 126.6,252.4z" fill="#0020ff"/>
<path d="M117.9,277 121.8,271.7 118.8,270.5z" fill="#0000af"/>
<path d="M138.8,144.3 142.7,130.1 139.7,128.2z" fill="#ff9f00"/>
<path d="M166.1,79.8 170,80.7 167,78.3z" fill="#800000"/>
<path d="M41.6,181.7 42.4,185.6 38.5,179.2z" fill="#70ff8f"/>
<path d="M135.3,211.2 136.2,194.5 132.3,209.3z" fill="#00ffff"/>
<path d="M166.1,79.8 167,78.3 163.1,77.4z" fill="#800000"/>
<path d="M130.5,240.5 134.4,227.3 131.4,225.4z" fill="#0080ff"/>
<path d="M125.7,263.9 129.6,253.9 126.6,252.4z" fill="#0000ff"/>
<path d="M231.7,174.4 232.6,175.2 228.7,170.3z" fill="#9fff60"/>
<path d="M107.1,277.4 111,278.1 108,276.5z" fill="#00008f"/>
<path d="M107.1,277.4 108,276.5 104.1,275.7z" fill="#00009f"/>
<path d="M142.7,130.1 143.6,114.9 139.7,128.2z" fill="#ff6000"/>
<path d="M80.3,244.3 84.2,254 81.2,250.7z" fill="#0020ff"/>
<path d="M147.5,103 148.4,90.9 144.5,101.1z" fill="#df0000"/>
<path d="M138,160.8 141.9,146.1 138.8,144.3z" fill="#ffdf00"/>
<path d="M134.4,227.3 135.3,211.2 131.4,225.4z" fill="#00afff"/>
<path d="M143.6,114.9 147.5,103 144.5,101.1z" fill="#ff1000"/>
<path d="M114,279.3 114.9,275.8 111,278.1z" fill="#00008f"/>
<path d="M155.3,85 156.2,77.7 152.3,83z" fill="#8f0000"/>
<path d="M90.3,259.9 91.2,264.2 87.3,257.1z" fill="#0000ef"/>
<path d="M100.2,271.7 104.1,275.7 101.1,273.5z" fill="#0000af"/>
<path d="M221.8,160.2 222.6,162.3 218.7,154.9z" fill="#efff10"/>
<path d="M208.8,136.5 209.7,140.7 205.8,131.3z" fill="#ff9f00"/>
<path d="M137.1,177.6 141,162.6 138,160.8z" fill="#bfff40"/>
<path d="M151.4,92.9 152.3,83 148.4,90.9z" fill="#af0000"/>
<path d="M195.9,113.1 196.8,117.9 192.9,108.7z" fill="#ff3000"/>
<path d="M141.9,146.1 142.7,130.1 138.8,144.3z" fill="#ffaf00"/>
<path d="M114,279.3 117.9,277 114.9,275.8z" fill="#00009f"/>
<path d="M186,97.8 189.9,104.7 186.9,101.1z" fill="#ef0000"/>
<path d="M54.5,200.5 55.4,206.7 51.5,197z" fill="#20ffdf"/>
<path d="M67.4,222.7 68.3,229.8 64.4,219.1z" fill="#00afff"/>
<path d="M100.2,271.7 101.1,273.5 97.2,269.5z" fill="#0000af"/>
<path d="M176.1,86.5 180,90.6 177,87.6z" fill="#af0000"/>
<path d="M129.6,253.9 133.5,242.1 130.5,240.5z" fill="#0040ff"/>
<path d="M136.2,194.5 140.1,179.5 137.1,177.6z" fill="#70ff8f"/>
<path d="M44.6,184.2 48.5,193.3 45.5,189.5z" fill="#60ff9f"/>
<path d="M155.3,85 159.2,79.7 156.2,77.7z" fill="#800000"/>
<path d="M211.8,142.2 215.7,149.9 212.7,145.1z" fill="#ffcf00"/>
<path d="M133.5,242.1 134.4,227.3 130.5,240.5z" fill="#0070ff"/>
<path d="M80.3,244.3 81.2,250.7 77.3,241.1z" fill="#0040ff"/>
<path d="M141,162.6 141.9,146.1 138,160.8z" fill="#ffff00"/>
<path d="M147.5,103 151.4,92.9 148.4,90.9z" fill="#cf0000"/>
<path d="M198.9,118 202.8,126.4 199.8,122z" fill="#ff5000"/>
<path d="M124.8,272.4 125.7,263.9 121.8,271.7z" fill="#0000bf"/>
<path d="M135.3,211.2 139.2,196.4 136.2,194.5z" fill="#20ffdf"/>
<path d="M224.8,165.7 228.7,170.3 225.7,166.2z" fill="#cfff30"/>
<path d="M176.1,86.5 177,87.6 173.1,83.5z" fill="#9f0000"/>
<path d="M142.7,130.1 146.6,116.9 143.6,114.9z" fill="#ff5000"/>
<path d="M57.5,203.9 61.4,215.3 58.4,211.1z" fill="#00efff"/>
<path d="M151.4,92.9 155.3,85 152.3,83z" fill="#9f0000"/>
<path d="M128.7,264.8 129.6,253.9 125.7,263.9z" fill="#0000ef"/>
<path d="M70.4,226.1 74.3,237.6 71.3,233.9z" fill="#0080ff"/>
<path d="M140.1,179.5 141,162.6 137.1,177.6z" fill="#afff50"/>
<path d="M146.6,116.9 147.5,103 143.6,114.9z" fill="#ff2000"/>
<path d="M186,97.8 186.9,101.1 183,94z" fill="#cf0000"/>
<path d="M234.7,178.7 238.6,180.3 235.6,177.7z" fill="#8fff70"/>
<path d="M134.4,227.3 138.3,213.1 135.3,211.2z" fill="#00cfff"/>
<path d="M162.2,82.1 163.1,77.4 159.2,79.7z" fill="#800000"/>
<path d="M120.9,277.6 121.8,271.7 117.9,277z" fill="#0000af"/>
<path d="M44.6,184.2 45.5,189.5 41.6,181.7z" fill="#70ff8f"/>
<path d="M139.2,196.4 140.1,179.5 136.2,194.5z" fill="#60ff9f"/>
<path d="M93.3,262.4 97.2,269.5 94.2,267z" fill="#0000df"/>
<path d="M234.7,178.7 235.6,177.7 231.7,174.4z" fill="#9fff60"/>
<path d="M169.2,82.5 173.1,83.5 170,80.7z" fill="#800000"/>
<path d="M162.2,82.1 166.1,79.8 163.1,77.4z" fill="#800000"/>
<path d="M224.8,165.7 225.7,166.2 221.8,160.2z" fill="#dfff20"/>
<path d="M211.8,142.2 212.7,145.1 208.8,136.5z" fill="#ffaf00"/>
<path d="M169.2,82.5 170,80.7 166.1,79.8z" fill="#800000"/>
<path d="M141.9,146.1 145.8,132 142.7,130.1z" fill="#ff8f00"/>
<path d="M124.8,272.4 128.7,264.8 125.7,263.9z" fill="#0000cf"/>
<path d="M83.4,247.2 87.3,257.1 84.2,254z" fill="#0020ff"/>
<path d="M138.3,213.1 139.2,196.4 135.3,211.2z" fill="#00ffff"/>
<path d="M132.6,255 133.5,242.1 129.6,253.9z" fill="#0030ff"/>
<path d="M198.9,118 199.8,122 195.9,113.1z" fill="#ff3000"/>
<path d="M133.5,242.1 137.4,229 134.4,227.3z" fill="#0080ff"/>
<path d="M214.8,148.3 218.7,154.9 215.7,149.9z" fill="#ffdf00"/>
<path d="M120.9,277.6 124.8,272.4 121.8,271.7z" fill="#0000af"/>
<path d="M145.8,132 146.6,116.9 142.7,130.1z" fill="#ff6000"/>
<path d="M189,101.9 192.9,108.7 189.9,104.7z" fill="#ef0000"/>
<path d="M150.5,105 151.4,92.9 147.5,103z" fill="#df0000"/>
<path d="M128.7,264.8 132.6,255 129.6,253.9z" fill="#0000ff"/>
<path d="M110.1,278.6 111,278.1 107.1,277.4z" fill="#00009f"/>
<path d="M93.3,262.4 94.2,267 90.3,259.9z" fill="#0000ef"/>
<path d="M110.1,278.6 114,279.3 111,278.1z" fill="#00009f"/>
<path d="M57.5,203.9 58.4,211.1 54.5,200.5z" fill="#10ffef"/>
<path d="M141,162.6 144.9,147.9 141.9,146.1z" fill="#ffdf00"/>
<path d="M70.4,226.1 71.3,233.9 67.4,222.7z" fill="#009fff"/>
<path d="M137.4,229 138.3,213.1 134.4,227.3z" fill="#00afff"/>
<path d="M146.6,116.9 150.5,105 147.5,103z" fill="#ff0000"/>
<path d="M158.3,87.2 159.2,79.7 155.3,85z" fill="#8f0000"/>
<path d="M201.9,123.4 205.8,131.3 202.8,126.4z" fill="#ff6000"/>
<path d="M103.2,273.5 107.1,277.4 104.1,275.7z" fill="#0000af"/>
<path d="M179.1,89.9 183,94 180,90.6z" fill="#af0000"/>
<path d="M227.8,171.4 231.7,174.4 228.7,170.3z" fill="#bfff40"/>
<path d="M47.6,186.8 51.5,197 48.5,193.3z" fill="#50ffaf"/>
<path d="M154.4,95 155.3,85 151.4,92.9z" fill="#af0000"/>
<path d="M140.1,179.5 144,164.5 141,162.6z" fill="#cfff30"/>
<path d="M117,279.9 117.9,277 114,279.3z" fill="#00009f"/>
<path d="M144.9,147.9 145.8,132 141.9,146.1z" fill="#ffaf00"/>
<path d="M103.2,273.5 104.1,275.7 100.2,271.7z" fill="#0000bf"/>
<path d="M83.4,247.2 84.2,254 80.3,244.3z" fill="#0040ff"/>
<path d="M60.5,207.1 64.4,219.1 61.4,215.3z" fill="#00efff"/>
<path d="M158.3,87.2 162.2,82.1 159.2,79.7z" fill="#800000"/>
<path d="M139.2,196.4 143.1,181.4 140.1,179.5z" fill="#70ff8f"/>
<path d="M179.1,89.9 180,90.6 176.1,86.5z" fill="#9f0000"/>
<path d="M189,101.9 189.9,104.7 186,97.8z" fill="#df0000"/>
<path d="M214.8,148.3 215.7,149.9 211.8,142.2z" fill="#ffbf00"/>
<path d="M73.4,229.3 77.3,241.1 74.3,237.6z" fill="#0080ff"/>
<path d="M117,279.9 120.9,277.6 117.9,277z" fill="#00009f"/>
<path d="M227.8,171.4 228.7,170.3 224.8,165.7z" fill="#cfff30"/>
<path d="M132.6,255 136.5,243.4 133.5,242.1z" fill="#0040ff"/>
<path d="M136.5,243.4 137.4,229 133.5,242.1z" fill="#0070ff"/>
<path d="M150.5,105 154.4,95 151.4,92.9z" fill="#cf0000"/>
<path d="M144,164.5 144.9,147.9 141,162.6z" fill="#ffff00"/>
<path d="M237.7,183 241.6,182.8 238.6,180.3z" fill="#8fff70"/>
<path d="M138.3,213.1 142.2,198.4 139.2,196.4z" fill="#20ffdf"/>
<path d="M217.9,154.8 221.8,160.2 218.7,154.9z" fill="#ffef00"/>
<path d="M237.7,183 238.6,180.3 234.7,178.7z" fill="#8fff70"/>
<path d="M154.4,95 158.3,87.2 155.3,85z" fill="#9f0000"/>
<path d="M145.8,132 149.7,118.9 146.6,116.9z" fill="#ff4000"/>
<path d="M201.9,123.4 202.8,126.4 198.9,118z" fill="#ff4000"/>
<path d="M149.7,118.9 150.5,105 146.6,116.9z" fill="#ff2000"/>
<path d="M47.6,186.8 48.5,193.3 44.6,184.2z" fill="#70ff8f"/>
<path d="M143.1,181.4 144,164.5 140.1,179.5z" fill="#afff50"/>
<path d="M165.2,84.6 166.1,79.8 162.2,82.1z" fill="#800000"/>
<path d="M172.2,85.5 176.1,86.5 173.1,83.5z" fill="#8f0000"/>
<path d="M127.8,272.5 128.7,264.8 124.8,272.4z" fill="#0000cf"/>
<path d="M137.4,229 141.3,215 138.3,213.1z" fill="#00cfff"/>
<path d="M165.2,84.6 169.2,82.5 166.1,79.8z" fill="#800000"/>
<path d="M204.9,129.4 208.8,136.5 205.8,131.3z" fill="#ff7000"/>
<path d="M96.3,264.6 100.2,271.7 97.2,269.5z" fill="#0000df"/>
<path d="M172.2,85.5 173.1,83.5 169.2,82.5z" fill="#800000"/>
<path d="M131.7,265 132.6,255 128.7,264.8z" fill="#0000ff"/>
<path d="M142.2,198.4 143.1,181.4 139.2,196.4z" fill="#60ff9f"/>
<path d="M192,106.6 195.9,113.1 192.9,108.7z" fill="#ff0000"/>
<path d="M86.4,250 90.3,259.9 87.3,257.1z" fill="#0020ff"/>
<path d="M230.8,177.3 234.7,178.7 231.7,174.4z" fill="#afff50"/>
<path d="M60.5,207.1 61.4,215.3 57.5,203.9z" fill="#10ffef"/>
<path d="M144.9,147.9 148.8,134 145.8,132z" fill="#ff8f00"/>
<path d="M141.3,215 142.2,198.4 138.3,213.1z" fill="#10ffef"/>
<path d="M123.9,277.4 124.8,272.4 120.9,277.6z" fill="#0000af"/>
<path d="M217.9,154.8 218.7,154.9 214.8,148.3z" fill="#ffdf00"/>
<path d="M73.4,229.3 74.3,237.6 70.4,226.1z" fill="#009fff"/>
<path d="M182.1,93.6 186,97.8 183,94z" fill="#af0000"/>
<path d="M96.3,264.6 97.2,269.5 93.3,262.4z" fill="#0000ef"/>
<path d="M148.8,134 149.7,118.9 145.8,132z" fill="#ff6000"/>
<path d="M136.5,243.4 140.4,230.6 137.4,229z" fill="#008fff"/>
<path d="M153.6,107.2 154.4,95 150.5,105z" fill="#df0000"/>
<path d="M230.8,177.3 231.7,174.4 227.8,171.4z" fill="#bfff40"/>
<path d="M135.6,255.5 136.5,243.4 132.6,255z" fill="#0030ff"/>
<path d="M50.6,189.3 54.5,200.5 51.5,197z" fill="#50ffaf"/>
<path d="M220.9,161.6 224.8,165.7 221.8,160.2z" fill="#efff10"/>
<path d="M127.8,272.5 131.7,265 128.7,264.8z" fill="#0000df"/>
<path d="M161.4,89.7 162.2,82.1 158.3,87.2z" fill="#8f0000"/>
<path d="M144,164.5 147.9,149.9 144.9,147.9z" fill="#ffdf00"/>
<path d="M149.7,118.9 153.6,107.2 150.5,105z" fill="#ff0000"/>
<path d="M192,106.6 192.9,108.7 189,101.9z" fill="#ef0000"/>
<path d="M140.4,230.6 141.3,215 137.4,229z" fill="#00bfff"/>
<path d="M63.5,210.2 67.4,222.7 64.4,219.1z" fill="#00dfff"/>
<path d="M204.9,129.4 205.8,131.3 201.9,123.4z" fill="#ff6000"/>
<path d="M113.1,279.3 114,279.3 110.1,278.6z" fill="#0000af"/>
<path d="M86.4,250 87.3,257.1 83.4,247.2z" fill="#0030ff"/>
<path d="M182.1,93.6 183,94 179.1,89.9z" fill="#9f0000"/>
<path d="M157.5,97.3 158.3,87.2 154.4,95z" fill="#af0000"/>
<path d="M123.9,277.4 127.8,272.5 124.8,272.4z" fill="#0000bf"/>
<path d="M131.7,265 135.6,255.5 132.6,255z" fill="#0010ff"/>
<path d="M113.1,279.3 117,279.9 114,279.3z" fill="#0000af"/>
<path d="M106.2,274.8 110.1,278.6 107.1,277.4z" fill="#0000af"/>
<path d="M143.1,181.4 147,166.5 144,164.5z" fill="#cfff30"/>
<path d="M207.9,135.9 211.8,142.2 208.8,136.5z" fill="#ff8f00"/>
<path d="M76.4,232.3 80.3,244.3 77.3,241.1z" fill="#0070ff"/>
<path d="M147.9,149.9 148.8,134 144.9,147.9z" fill="#ffaf00"/>
<path d="M161.4,89.7 165.2,84.6 162.2,82.1z" fill="#800000"/>
<path d="M240.7,187.3 244.6,185.3 241.6,182.8z" fill="#80ff80"/>
<path d="M240.7,187.3 241.6,182.8 237.7,183z" fill="#8fff70"/>
<path d="M106.2,274.8 107.1,277.4 103.2,273.5z" fill="#0000bf"/>
<path d="M142.2,198.4 146.1,183.5 143.1,181.4z" fill="#80ff80"/>
<path d="M195,111.8 198.9,118 195.9,113.1z" fill="#ff1000"/>
<path d="M220.9,161.6 221.8,160.2 217.9,154.8z" fill="#ffef00"/>
<path d="M153.6,107.2 157.5,97.3 154.4,95z" fill="#bf0000"/>
<path d="M120,279.7 120.9,277.6 117,279.9z" fill="#0000af"/>
<path d="M147,166.5 147.9,149.9 144,164.5z" fill="#ffff00"/>
<path d="M233.8,183.2 237.7,183 234.7,178.7z" fill="#9fff60"/>
<path d="M141.3,215 145.2,200.5 142.2,198.4z" fill="#20ffdf"/>
<path d="M50.6,189.3 51.5,197 47.6,186.8z" fill="#70ff8f"/>
<path d="M175.2,88.8 179.1,89.9 176.1,86.5z" fill="#8f0000"/>
<path d="M157.5,97.3 161.4,89.7 158.3,87.2z" fill="#9f0000"/>
<path d="M139.5,244.4 140.4,230.6 136.5,243.4z" fill="#0080ff"/>
<path d="M223.9,168.8 227.8,171.4 224.8,165.7z" fill="#dfff20"/>
<path d="M148.8,134 152.7,121 149.7,118.9z" fill="#ff4000"/>
<path d="M168.3,87.5 169.2,82.5 165.2,84.6z" fill="#800000"/>
<path d="M135.6,255.5 139.5,244.4 136.5,243.4z" fill="#0050ff"/>
<path d="M175.2,88.8 176.1,86.5 172.2,85.5z" fill="#800000"/>
<path d="M152.7,121 153.6,107.2 149.7,118.9z" fill="#ff1000"/>
<path d="M168.3,87.5 172.2,85.5 169.2,82.5z" fill="#800000"/>
<path d="M146.1,183.5 147,166.5 143.1,181.4z" fill="#afff50"/>
<path d="M233.8,183.2 234.7,178.7 230.8,177.3z" fill="#9fff60"/>
<path d="M120,279.7 123.9,277.4 120.9,277.6z" fill="#0000af"/>
<path d="M207.9,135.9 208.8,136.5 204.9,129.4z" fill="#ff7000"/>
<path d="M89.4,252.5 93.3,262.4 90.3,259.9z" fill="#0020ff"/>
<path d="M63.5,210.2 64.4,219.1 60.5,207.1z" fill="#00ffff"/>
<path d="M140.4,230.6 144.3,216.9 141.3,215z" fill="#00dfff"/>
<path d="M185.1,97.9 189,101.9 186,97.8z" fill="#bf0000"/>
<path d="M99.3,266.5 103.2,273.5 100.2,271.7z" fill="#0000df"/>
<path d="M210.9,142.9 214.8,148.3 211.8,142.2z" fill="#ff9f00"/>
<path d="M145.2,200.5 146.1,183.5 142.2,198.4z" fill="#60ff9f"/>
<path d="M76.4,232.3 77.3,241.1 73.4,229.3z" fill="#008fff"/>
<path d="M195,111.8 195.9,113.1 192,106.6z" fill="#ff0000"/>
<path d="M223.9,168.8 224.8,165.7 220.9,161.6z" fill="#efff10"/>
<path d="M147.9,149.9 151.8,136.1 148.8,134z" fill="#ff8f00"/>
<path d="M144.3,216.9 145.2,200.5 141.3,215z" fill="#10ffef"/>
<path d="M53.6,191.9 57.5,203.9 54.5,200.5z" fill="#50ffaf"/>
<path d="M130.8,271.6 131.7,265 127.8,272.5z" fill="#0000df"/>
<path d="M185.1,97.9 186,97.8 182.1,93.6z" fill="#af0000"/>
<path d="M134.7,264.5 135.6,255.5 131.7,265z" fill="#0010ff"/>
<path d="M198,117.6 201.9,123.4 198.9,118z" fill="#ff2000"/>
<path d="M99.3,266.5 100.2,271.7 96.3,264.6z" fill="#0000ef"/>
<path d="M156.6,109.5 157.5,97.3 153.6,107.2z" fill="#df0000"/>
<path d="M66.5,213.2 70.4,226.1 67.4,222.7z" fill="#00dfff"/>
<path d="M151.8,136.1 152.7,121 148.8,134z" fill="#ff6000"/>
<path d="M164.4,92.4 165.2,84.6 161.4,89.7z" fill="#8f0000"/>
<path d="M226.9,176.1 230.8,177.3 227.8,171.4z" fill="#bfff40"/>
<path d="M152.7,121 156.6,109.5 153.6,107.2z" fill="#ff0000"/>
<path d="M147,166.5 150.9,152.1 147.9,149.9z" fill="#ffdf00"/>
<path d="M139.5,244.4 143.4,231.9 140.4,230.6z" fill="#008fff"/>
<path d="M89.4,252.5 90.3,259.9 86.4,250z" fill="#0030ff"/>
<path d="M79.5,235.2 83.4,247.2 80.3,244.3z" fill="#0070ff"/>
<path d="M236.8,189.2 240.7,187.3 237.7,183z" fill="#8fff70"/>
<path d="M210.9,142.9 211.8,142.2 207.9,135.9z" fill="#ff8f00"/>
<path d="M160.5,99.8 161.4,89.7 157.5,97.3z" fill="#af0000"/>
<path d="M214,150.4 217.9,154.8 214.8,148.3z" fill="#ffbf00"/>
<path d="M143.4,231.9 144.3,216.9 140.4,230.6z" fill="#00bfff"/>
<path d="M126.9,276.4 127.8,272.5 123.9,277.4z" fill="#0000cf"/>
<path d="M236.8,189.2 237.7,183 233.8,183.2z" fill="#8fff70"/>
<path d="M164.4,92.4 168.3,87.5 165.2,84.6z" fill="#800000"/>
<path d="M138.6,255.5 139.5,244.4 135.6,255.5z" fill="#0040ff"/>
<path d="M146.1,183.5 150,168.8 147,166.5z" fill="#cfff30"/>
<path d="M226.9,176.1 227.8,171.4 223.9,168.8z" fill="#cfff30"/>
<path d="M150.9,152.1 151.8,136.1 147.9,149.9z" fill="#ff9f00"/>
<path d="M178.2,92.5 182.1,93.6 179.1,89.9z" fill="#8f0000"/>
<path d="M145.2,200.5 149.1,185.9 146.1,183.5z" fill="#80ff80"/>
<path d="M130.8,271.6 134.7,264.5 131.7,265z" fill="#0000ff"/>
<path d="M198,117.6 198.9,118 195,111.8z" fill="#ff1000"/>
<path d="M116.1,279.1 117,279.9 113.1,279.3z" fill="#0000bf"/>
<path d="M109.2,275.6 113.1,279.3 110.1,278.6z" fill="#0000bf"/>
<path d="M156.6,109.5 160.5,99.8 157.5,97.3z" fill="#bf0000"/>
<path d="M53.6,191.9 54.5,200.5 50.6,189.3z" fill="#70ff8f"/>
<path d="M188.1,102.6 192,106.6 189,101.9z" fill="#cf0000"/>
<path d="M178.2,92.5 179.1,89.9 175.2,88.8z" fill="#8f0000"/>
<path d="M171.3,90.6 172.2,85.5 168.3,87.5z" fill="#800000"/>
<path d="M116.1,279.1 120,279.7 117,279.9z" fill="#0000bf"/>
<path d="M160.5,99.8 164.4,92.4 161.4,89.7z" fill="#9f0000"/>
<path d="M134.7,264.5 138.6,255.5 135.6,255.5z" fill="#0020ff"/>
<path d="M109.2,275.6 110.1,278.6 106.2,274.8z" fill="#0000cf"/>
<path d="M150,168.8 150.9,152.1 147,166.5z" fill="#ffef00"/>
<path d="M229.9,183.6 233.8,183.2 230.8,177.3z" fill="#afff50"/>
<path d="M171.3,90.6 175.2,88.8 172.2,85.5z" fill="#800000"/>
<path d="M144.3,216.9 148.2,202.7 145.2,200.5z" fill="#30ffcf"/>
<path d="M201,124.1 204.9,129.4 201.9,123.4z" fill="#ff4000"/>
<path d="M217,158.4 220.9,161.6 217.9,154.8z" fill="#ffdf00"/>
<path d="M126.9,276.4 130.8,271.6 127.8,272.5z" fill="#0000df"/>
<path d="M151.8,136.1 155.7,123.4 152.7,121z" fill="#ff4000"/>
<path d="M214,150.4 214.8,148.3 210.9,142.9z" fill="#ff9f00"/>
<path d="M66.5,213.2 67.4,222.7 63.5,210.2z" fill="#00ffff"/>
<path d="M155.7,123.4 156.6,109.5 152.7,121z" fill="#ff1000"/>
<path d="M149.1,185.9 150,168.8 146.1,183.5z" fill="#afff50"/>
<path d="M79.5,235.2 80.3,244.3 76.4,232.3z" fill="#008fff"/>
<path d="M92.4,254.9 96.3,264.6 93.3,262.4z" fill="#0020ff"/>
<path d="M229.9,183.6 230.8,177.3 226.9,176.1z" fill="#bfff40"/>
<path d="M142.5,244.8 143.4,231.9 139.5,244.4z" fill="#0080ff"/>
<path d="M188.1,102.6 189,101.9 185.1,97.9z" fill="#bf0000"/>
<path d="M148.2,202.7 149.1,185.9 145.2,200.5z" fill="#60ff9f"/>
<path d="M143.4,231.9 147.3,218.7 144.3,216.9z" fill="#00dfff"/>
<path d="M138.6,255.5 142.5,244.8 139.5,244.4z" fill="#0060ff"/>
<path d="M123,278.6 123.9,277.4 120,279.7z" fill="#0000bf"/>
<path d="M56.6,194.4 60.5,207.1 57.5,203.9z" fill="#40ffbf"/>
<path d="M102.3,268 106.2,274.8 103.2,273.5z" fill="#0000df"/>
<path d="M150.9,152.1 154.8,138.5 151.8,136.1z" fill="#ff8f00"/>
<path d="M69.5,216.1 73.4,229.3 70.4,226.1z" fill="#00dfff"/>
<path d="M220,166.7 223.9,168.8 220.9,161.6z" fill="#ffff00"/>
<path d="M201,124.1 201.9,123.4 198,117.6z" fill="#ff2000"/>
<path d="M217,158.4 217.9,154.8 214,150.4z" fill="#ffcf00"/>
<path d="M147.3,218.7 148.2,202.7 144.3,216.9z" fill="#10ffef"/>
<path d="M167.4,95.4 168.3,87.5 164.4,92.4z" fill="#8f0000"/>
<path d="M232.9,191.2 236.8,189.2 233.8,183.2z" fill="#8fff70"/>
<path d="M159.6,112.1 160.5,99.8 156.6,109.5z" fill="#df0000"/>
<path d="M204,131.2 207.9,135.9 204.9,129.4z" fill="#ff5000"/>
<path d="M154.8,138.5 155.7,123.4 151.8,136.1z" fill="#ff6000"/>
<path d="M123,278.6 126.9,276.4 123.9,277.4z" fill="#0000cf"/>
<path d="M102.3,268 103.2,273.5 99.3,266.5z" fill="#0000ef"/>
<path d="M155.7,123.4 159.6,112.1 156.6,109.5z" fill="#ff0000"/>
<path d="M82.5,237.9 86.4,250 83.4,247.2z" fill="#0070ff"/>
<path d="M191.1,108 195,111.8 192,106.6z" fill="#df0000"/>
<path d="M150,168.8 153.9,154.6 150.9,152.1z" fill="#ffdf00"/>
<path d="M92.4,254.9 93.3,262.4 89.4,252.5z" fill="#0030ff"/>
<path d="M232.9,191.2 233.8,183.2 229.9,183.6z" fill="#9fff60"/>
<path d="M181.2,96.6 185.1,97.9 182.1,93.6z" fill="#9f0000"/>
<path d="M163.5,102.6 164.4,92.4 160.5,99.8z" fill="#af0000"/>
<path d="M167.4,95.4 171.3,90.6 168.3,87.5z" fill="#800000"/>
<path d="M223,175.4 226.9,176.1 223.9,168.8z" fill="#dfff20"/>
<path d="M149.1,185.9 153,171.4 150,168.8z" fill="#cfff30"/>
<path d="M181.2,96.6 182.1,93.6 178.2,92.5z" fill="#8f0000"/>
<path d="M220,166.7 220.9,161.6 217,158.4z" fill="#ffef00"/>
<path d="M153.9,154.6 154.8,138.5 150.9,152.1z" fill="#ff9f00"/>
<path d="M142.5,244.8 146.4,232.9 143.4,231.9z" fill="#009fff"/>
<path d="M146.4,232.9 147.3,218.7 143.4,231.9z" fill="#00cfff"/>
<path d="M174.3,94.2 175.2,88.8 171.3,90.6z" fill="#800000"/>
<path d="M137.7,263.1 138.6,255.5 134.7,264.5z" fill="#0020ff"/>
<path d="M174.3,94.2 178.2,92.5 175.2,88.8z" fill="#800000"/>
<path d="M56.6,194.4 57.5,203.9 53.6,191.9z" fill="#70ff8f"/>
<path d="M148.2,202.7 152.1,188.4 149.1,185.9z" fill="#80ff80"/>
<path d="M191.1,108 192,106.6 188.1,102.6z" fill="#cf0000"/>
<path d="M133.8,269.8 134.7,264.5 130.8,271.6z" fill="#0000ff"/>
<path d="M159.6,112.1 163.5,102.6 160.5,99.8z" fill="#bf0000"/>
<path d="M207,138.9 210.9,142.9 207.9,135.9z" fill="#ff7000"/>
<path d="M204,131.2 204.9,129.4 201,124.1z" fill="#ff4000"/>
<path d="M163.5,102.6 167.4,95.4 164.4,92.4z" fill="#9f0000"/>
<path d="M153,171.4 153.9,154.6 150,168.8z" fill="#ffef00"/>
<path d="M69.5,216.1 70.4,226.1 66.5,213.2z" fill="#00ffff"/>
<path d="M226,184.2 229.9,183.6 226.9,176.1z" fill="#bfff40"/>
<path d="M223,175.4 223.9,168.8 220,166.7z" fill="#efff10"/>
<path d="M154.8,138.5 158.7,126 155.7,123.4z" fill="#ff4000"/>
<path d="M147.3,218.7 151.2,204.9 148.2,202.7z" fill="#30ffcf"/>
<path d="M141.6,254.6 142.5,244.8 138.6,255.5z" fill="#0050ff"/>
<path d="M158.7,126 159.6,112.1 155.7,123.4z" fill="#ff1000"/>
<path d="M152.1,188.4 153,171.4 149.1,185.9z" fill="#afff50"/>
<path d="M82.5,237.9 83.4,247.2 79.5,235.2z" fill="#008fff"/>
<path d="M194.1,114.1 198,117.6 195,111.8z" fill="#ef0000"/>
<path d="M112.2,275.6 116.1,279.1 113.1,279.3z" fill="#0000cf"/>
<path d="M129.9,274.3 130.8,271.6 126.9,276.4z" fill="#0000df"/>
<path d="M210.1,147.3 214,150.4 210.9,142.9z" fill="#ff8f00"/>
<path d="M112.2,275.6 113.1,279.3 109.2,275.6z" fill="#0000df"/>
<path d="M95.4,256.9 99.3,266.5 96.3,264.6z" fill="#0020ff"/>
<path d="M59.6,196.9 63.5,210.2 60.5,207.1z" fill="#40ffbf"/>
<path d="M119.1,278.1 120,279.7 116.1,279.1z" fill="#0000cf"/>
<path d="M151.2,204.9 152.1,188.4 148.2,202.7z" fill="#60ff9f"/>
<path d="M226,184.2 226.9,176.1 223,175.4z" fill="#cfff30"/>
<path d="M229,193.2 232.9,191.2 229.9,183.6z" fill="#8fff70"/>
<path d="M207,138.9 207.9,135.9 204,131.2z" fill="#ff6000"/>
<path d="M72.5,218.8 76.4,232.3 73.4,229.3z" fill="#00cfff"/>
<path d="M184.2,101.4 188.1,102.6 185.1,97.9z" fill="#af0000"/>
<path d="M133.8,269.8 137.7,263.1 134.7,264.5z" fill="#0010ff"/>
<path d="M170.4,98.7 171.3,90.6 167.4,95.4z" fill="#8f0000"/>
<path d="M153.9,154.6 157.8,141.3 154.8,138.5z" fill="#ff8f00"/>
<path d="M119.1,278.1 123,278.6 120,279.7z" fill="#0000cf"/>
<path d="M137.7,263.1 141.6,254.6 138.6,255.5z" fill="#0040ff"/>
<path d="M146.4,232.9 150.3,220.2 147.3,218.7z" fill="#00dfff"/>
<path d="M162.6,115 163.5,102.6 159.6,112.1z" fill="#df0000"/>
<path d="M145.5,244.6 146.4,232.9 142.5,244.8z" fill="#008fff"/>
<path d="M194.1,114.1 195,111.8 191.1,108z" fill="#df0000"/>
<path d="M213.1,156.1 217,158.4 214,150.4z" fill="#ffbf00"/>
<path d="M229,193.2 229.9,183.6 226,184.2z" fill="#9fff60"/>
<path d="M157.8,141.3 158.7,126 154.8,138.5z" fill="#ff6000"/>
<path d="M184.2,101.4 185.1,97.9 181.2,96.6z" fill="#9f0000"/>
<path d="M105.3,269 109.2,275.6 106.2,274.8z" fill="#0000ef"/>
<path d="M170.4,98.7 174.3,94.2 171.3,90.6z" fill="#8f0000"/>
<path d="M150.3,220.2 151.2,204.9 147.3,218.7z" fill="#10ffef"/>
<path d="M158.7,126 162.6,115 159.6,112.1z" fill="#ff0000"/>
<path d="M166.5,105.7 167.4,95.4 163.5,102.6z" fill="#af0000"/>
<path d="M85.5,240.4 89.4,252.5 86.4,250z" fill="#0070ff"/>
<path d="M153,171.4 156.9,157.5 153.9,154.6z" fill="#ffdf00"/>
<path d="M129.9,274.3 133.8,269.8 130.8,271.6z" fill="#0000ef"/>
<path d="M210.1,147.3 210.9,142.9 207,138.9z" fill="#ff8000"/>
<path d="M95.4,256.9 96.3,264.6 92.4,254.9z" fill="#0040ff"/>
<path d="M141.6,254.6 145.5,244.6 142.5,244.8z" fill="#0070ff"/>
<path d="M197.1,120.9 201,124.1 198,117.6z" fill="#ff1000"/>
<path d="M177.3,98.3 181.2,96.6 178.2,92.5z" fill="#8f0000"/>
<path d="M177.3,98.3 178.2,92.5 174.3,94.2z" fill="#8f0000"/>
<path d="M216.1,165.5 220,166.7 217,158.4z" fill="#ffdf00"/>
<path d="M152.1,188.4 156,174.3 153,171.4z" fill="#cfff30"/>
<path d="M105.3,269 106.2,274.8 102.3,268z" fill="#0000ff"/>
<path d="M156.9,157.5 157.8,141.3 153.9,154.6z" fill="#ff9f00"/>
<path d="M126,276.5 126.9,276.4 123,278.6z" fill="#0000df"/>
<path d="M162.6,115 166.5,105.7 163.5,102.6z" fill="#cf0000"/>
<path d="M166.5,105.7 170.4,98.7 167.4,95.4z" fill="#9f0000"/>
<path d="M59.6,196.9 60.5,207.1 56.6,194.4z" fill="#60ff9f"/>
<path d="M219.1,175.1 223,175.4 220,166.7z" fill="#efff10"/>
<path d="M151.2,204.9 155.1,191.1 152.1,188.4z" fill="#80ff80"/>
<path d="M213.1,156.1 214,150.4 210.1,147.3z" fill="#ff9f00"/>
<path d="M72.5,218.8 73.4,229.3 69.5,216.1z" fill="#00ffff"/>
<path d="M156,174.3 156.9,157.5 153,171.4z" fill="#ffef00"/>
<path d="M187.2,106.8 191.1,108 188.1,102.6z" fill="#bf0000"/>
<path d="M197.1,120.9 198,117.6 194.1,114.1z" fill="#ff0000"/>
<path d="M222.1,185.1 226,184.2 223,175.4z" fill="#bfff40"/>
<path d="M149.4,233.5 150.3,220.2 146.4,232.9z" fill="#00cfff"/>
<path d="M157.8,141.3 161.7,129 158.7,126z" fill="#ff4000"/>
<path d="M161.7,129 162.6,115 158.7,126z" fill="#ff1000"/>
<path d="M216.1,165.5 217,158.4 213.1,156.1z" fill="#ffcf00"/>
<path d="M145.5,244.6 149.4,233.5 146.4,232.9z" fill="#00afff"/>
<path d="M200.1,128.4 204,131.2 201,124.1z" fill="#ff3000"/>
<path d="M155.1,191.1 156,174.3 152.1,188.4z" fill="#afff50"/>
<path d="M126,276.5 129.9,274.3 126.9,276.4z" fill="#0000ef"/>
<path d="M85.5,240.4 86.4,250 82.5,237.9z" fill="#008fff"/>
<path d="M225.1,195.1 229,193.2 226,184.2z" fill="#8fff70"/>
<path d="M150.3,220.2 154.2,207.1 151.2,204.9z" fill="#30ffcf"/>
<path d="M187.2,106.8 188.1,102.6 184.2,101.4z" fill="#af0000"/>
<path d="M219.1,175.1 220,166.7 216.1,165.5z" fill="#ffff00"/>
<path d="M62.6,199.5 66.5,213.2 63.5,210.2z" fill="#40ffbf"/>
<path d="M173.4,102.6 174.3,94.2 170.4,98.7z" fill="#8f0000"/>
<path d="M154.2,207.1 155.1,191.1 151.2,204.9z" fill="#60ff9f"/>
<path d="M75.6,221.6 79.5,235.2 76.4,232.3z" fill="#00cfff"/>
<path d="M222.1,185.1 223,175.4 219.1,175.1z" fill="#cfff30"/>
<path d="M156.9,157.5 160.8,144.4 157.8,141.3z" fill="#ff8f00"/>
<path d="M98.4,258.6 102.3,268 99.3,266.5z" fill="#0020ff"/>
<path d="M173.4,102.6 177.3,98.3 174.3,94.2z" fill="#8f0000"/>
<path d="M225.1,195.1 226,184.2 222.1,185.1z" fill="#9fff60"/>
<path d="M165.6,118.3 166.5,105.7 162.6,115z" fill="#df0000"/>
<path d="M140.7,260.8 141.6,254.6 137.7,263.1z" fill="#0040ff"/>
<path d="M203.1,136.6 207,138.9 204,131.2z" fill="#ff5000"/>
<path d="M180.3,102.9 184.2,101.4 181.2,96.6z" fill="#9f0000"/>
<path d="M200.1,128.4 201,124.1 197.1,120.9z" fill="#ff1000"/>
<path d="M160.8,144.4 161.7,129 157.8,141.3z" fill="#ff6000"/>
<path d="M180.3,102.9 181.2,96.6 177.3,98.3z" fill="#8f0000"/>
<path d="M169.5,109.3 170.4,98.7 166.5,105.7z" fill="#af0000"/>
<path d="M136.8,266.9 137.7,263.1 133.8,269.8z" fill="#0020ff"/>
<path d="M161.7,129 165.6,118.3 162.6,115z" fill="#ff0000"/>
<path d="M156,174.3 159.9,160.8 156.9,157.5z" fill="#ffdf00"/>
<path d="M144.6,252.9 145.5,244.6 141.6,254.6z" fill="#0070ff"/>
<path d="M190.2,113 194.1,114.1 191.1,108z" fill="#cf0000"/>
<path d="M88.5,242.8 92.4,254.9 89.4,252.5z" fill="#0070ff"/>
<path d="M115.2,274.9 119.1,278.1 116.1,279.1z" fill="#0000df"/>
<path d="M115.2,274.9 116.1,279.1 112.2,275.6z" fill="#0000ef"/>
<path d="M149.4,233.5 153.3,221.6 150.3,220.2z" fill="#00efff"/>
<path d="M206.2,145.5 210.1,147.3 207,138.9z" fill="#ff7000"/>
<path d="M153.3,221.6 154.2,207.1 150.3,220.2z" fill="#20ffdf"/>
<path d="M155.1,191.1 159,177.5 156,174.3z" fill="#cfff30"/>
<path d="M159.9,160.8 160.8,144.4 156.9,157.5z" fill="#ffaf00"/>
<path d="M169.5,109.3 173.4,102.6 170.4,98.7z" fill="#af0000"/>
<path d="M165.6,118.3 169.5,109.3 166.5,105.7z" fill="#cf0000"/>
<path d="M98.4,258.6 99.3,266.5 95.4,256.9z" fill="#0040ff"/>
<path d="M203.1,136.6 204,131.2 200.1,128.4z" fill="#ff4000"/>
<path d="M190.2,113 191.1,108 187.2,106.8z" fill="#bf0000"/>
<path d="M122.1,276.1 123,278.6 119.1,278.1z" fill="#0000ef"/>
<path d="M108.3,269.4 112.2,275.6 109.2,275.6z" fill="#0000ff"/>
<path d="M209.2,155.1 213.1,156.1 210.1,147.3z" fill="#ff9f00"/>
<path d="M62.6,199.5 63.5,210.2 59.6,196.9z" fill="#60ff9f"/>
<path d="M132.9,271.2 133.8,269.8 129.9,274.3z" fill="#0000ff"/>
<path d="M148.5,243.7 149.4,233.5 145.5,244.6z" fill="#009fff"/>
<path d="M154.2,207.1 158.1,193.9 155.1,191.1z" fill="#80ff80"/>
<path d="M159,177.5 159.9,160.8 156,174.3z" fill="#ffff00"/>
<path d="M75.6,221.6 76.4,232.3 72.5,218.8z" fill="#00efff"/>
<path d="M212.2,165.1 216.1,165.5 213.1,156.1z" fill="#ffcf00"/>
<path d="M160.8,144.4 164.7,132.5 161.7,129z" fill="#ff4000"/>
<path d="M221.2,197 225.1,195.1 222.1,185.1z" fill="#9fff60"/>
<path d="M215.2,175.5 219.1,175.1 216.1,165.5z" fill="#ffff00"/>
<path d="M140.7,260.8 144.6,252.9 141.6,254.6z" fill="#0050ff"/>
<path d="M164.7,132.5 165.6,118.3 161.7,129z" fill="#ff2000"/>
<path d="M122.1,276.1 126,276.5 123,278.6z" fill="#0000ef"/>
<path d="M218.2,186.2 222.1,185.1 219.1,175.1z" fill="#cfff30"/>
<path d="M136.8,266.9 140.7,260.8 137.7,263.1z" fill="#0030ff"/>
<path d="M108.3,269.4 109.2,275.6 105.3,269z" fill="#0010ff"/>
<path d="M206.2,145.5 207,138.9 203.1,136.6z" fill="#ff6000"/>
<path d="M193.2,119.9 197.1,120.9 194.1,114.1z" fill="#ef0000"/>
<path d="M176.4,107 177.3,98.3 173.4,102.6z" fill="#9f0000"/>
<path d="M158.1,193.9 159,177.5 155.1,191.1z" fill="#afff50"/>
<path d="M183.3,108.2 187.2,106.8 184.2,101.4z" fill="#af0000"/>
<path d="M144.6,252.9 148.5,243.7 145.5,244.6z" fill="#0080ff"/>
<path d="M88.5,242.8 89.4,252.5 85.5,240.4z" fill="#008fff"/>
<path d="M176.4,107 180.3,102.9 177.3,98.3z" fill="#9f0000"/>
<path d="M183.3,108.2 184.2,101.4 180.3,102.9z" fill="#9f0000"/>
<path d="M209.2,155.1 210.1,147.3 206.2,145.5z" fill="#ff8f00"/>
<path d="M65.6,202 69.5,216.1 66.5,213.2z" fill="#40ffbf"/>
<path d="M159.9,160.8 163.8,148.1 160.8,144.4z" fill="#ff8f00"/>
<path d="M221.2,197 222.1,185.1 218.2,186.2z" fill="#afff50"/>
<path d="M153.3,221.6 157.2,209.3 154.2,207.1z" fill="#30ffcf"/>
<path d="M168.6,122.1 169.5,109.3 165.6,118.3z" fill="#df0000"/>
<path d="M212.2,165.1 213.1,156.1 209.2,155.1z" fill="#ffbf00"/>
<path d="M132.9,271.2 136.8,266.9 133.8,269.8z" fill="#0020ff"/>
<path d="M78.6,224.2 82.5,237.9 79.5,235.2z" fill="#00cfff"/>
<path d="M152.4,233.4 153.3,221.6 149.4,233.5z" fill="#00dfff"/>
<path d="M218.2,186.2 219.1,175.1 215.2,175.5z" fill="#dfff20"/>
<path d="M193.2,119.9 194.1,114.1 190.2,113z" fill="#df0000"/>
<path d="M215.2,175.5 216.1,165.5 212.2,165.1z" fill="#ffef00"/>
<path d="M172.5,113.5 173.4,102.6 169.5,109.3z" fill="#bf0000"/>
<path d="M157.2,209.3 158.1,193.9 154.2,207.1z" fill="#60ff9f"/>
<path d="M163.8,148.1 164.7,132.5 160.8,144.4z" fill="#ff6000"/>
<path d="M164.7,132.5 168.6,122.1 165.6,118.3z" fill="#ff1000"/>
<path d="M196.2,127.6 200.1,128.4 197.1,120.9z" fill="#ff1000"/>
<path d="M159,177.5 162.9,164.5 159.9,160.8z" fill="#ffdf00"/>
<path d="M148.5,243.7 152.4,233.4 149.4,233.5z" fill="#00bfff"/>
<path d="M129,273.2 129.9,274.3 126,276.5z" fill="#0000ff"/>
<path d="M172.5,113.5 176.4,107 173.4,102.6z" fill="#af0000"/>
<path d="M101.4,259.8 105.3,269 102.3,268z" fill="#0030ff"/>
<path d="M168.6,122.1 172.5,113.5 169.5,109.3z" fill="#df0000"/>
<path d="M162.9,164.5 163.8,148.1 159.9,160.8z" fill="#ffaf00"/>
<path d="M158.1,193.9 162,181 159,177.5z" fill="#cfff30"/>
<path d="M186.3,114.3 190.2,113 187.2,106.8z" fill="#bf0000"/>
<path d="M91.5,245 95.4,256.9 92.4,254.9z" fill="#0070ff"/>
<path d="M196.2,127.6 197.1,120.9 193.2,119.9z" fill="#ff0000"/>
<path d="M199.2,136.1 203.1,136.6 200.1,128.4z" fill="#ff3000"/>
<path d="M186.3,114.3 187.2,106.8 183.3,108.2z" fill="#bf0000"/>
<path d="M217.3,199 221.2,197 218.2,186.2z" fill="#9fff60"/>
<path d="M179.4,112.1 180.3,102.9 176.4,107z" fill="#af0000"/>
<path d="M162,181 162.9,164.5 159,177.5z" fill="#ffff00"/>
<path d="M163.8,148.1 167.7,136.6 164.7,132.5z" fill="#ff5000"/>
<path d="M156.3,222.5 157.2,209.3 153.3,221.6z" fill="#20ffdf"/>
<path d="M167.7,136.6 168.6,122.1 164.7,132.5z" fill="#ff2000"/>
<path d="M179.4,112.1 183.3,108.2 180.3,102.9z" fill="#af0000"/>
<path d="M65.6,202 66.5,213.2 62.6,199.5z" fill="#60ff9f"/>
<path d="M129,273.2 132.9,271.2 129.9,274.3z" fill="#0010ff"/>
<path d="M214.3,187.7 218.2,186.2 215.2,175.5z" fill="#cfff30"/>
<path d="M202.3,145.3 206.2,145.5 203.1,136.6z" fill="#ff6000"/>
<path d="M152.4,233.4 156.3,222.5 153.3,221.6z" fill="#00ffff"/>
<path d="M157.2,209.3 161.1,196.9 158.1,193.9z" fill="#80ff80"/>
<path d="M78.6,224.2 79.5,235.2 75.6,221.6z" fill="#00efff"/>
<path d="M101.4,259.8 102.3,268 98.4,258.6z" fill="#0040ff"/>
<path d="M211.3,176.5 215.2,175.5 212.2,165.1z" fill="#ffef00"/>
<path d="M205.3,155.2 209.2,155.1 206.2,145.5z" fill="#ff8f00"/>
<path d="M199.2,136.1 200.1,128.4 196.2,127.6z" fill="#ff2000"/>
<path d="M208.3,165.6 212.2,165.1 209.2,155.1z" fill="#ffbf00"/>
<path d="M161.1,196.9 162,181 158.1,193.9z" fill="#afff50"/>
<path d="M175.5,118.3 176.4,107 172.5,113.5z" fill="#bf0000"/>
<path d="M171.6,126.6 172.5,113.5 168.6,122.1z" fill="#ef0000"/>
<path d="M162.9,164.5 166.8,152.3 163.8,148.1z" fill="#ff9f00"/>
<path d="M217.3,199 218.2,186.2 214.3,187.7z" fill="#afff50"/>
<path d="M143.8,257.4 144.6,252.9 140.7,260.8z" fill="#0060ff"/>
<path d="M189.3,121.2 193.2,119.9 190.2,113z" fill="#df0000"/>
<path d="M147.7,250.3 148.5,243.7 144.6,252.9z" fill="#008fff"/>
<path d="M118.2,273.2 119.1,278.1 115.2,274.9z" fill="#0000ff"/>
<path d="M166.8,152.3 167.7,136.6 163.8,148.1z" fill="#ff7000"/>
<path d="M118.2,273.2 122.1,276.1 119.1,278.1z" fill="#0000ff"/>
<path d="M167.7,136.6 171.6,126.6 168.6,122.1z" fill="#ff1000"/>
<path d="M91.5,245 92.4,254.9 88.5,242.8z" fill="#008fff"/>
<path d="M68.6,204.6 72.5,218.8 69.5,216.1z" fill="#40ffbf"/>
<path d="M202.3,145.3 203.1,136.6 199.2,136.1z" fill="#ff5000"/>
<path d="M214.3,187.7 215.2,175.5 211.3,176.5z" fill="#dfff20"/>
<path d="M111.3,269 115.2,274.9 112.2,275.6z" fill="#0010ff"/>
<path d="M175.5,118.3 179.4,112.1 176.4,107z" fill="#bf0000"/>
<path d="M139.9,263 140.7,260.8 136.8,266.9z" fill="#0040ff"/>
<path d="M189.3,121.2 190.2,113 186.3,114.3z" fill="#cf0000"/>
<path d="M162,181 165.9,168.6 162.9,164.5z" fill="#ffef00"/>
<path d="M211.3,176.5 212.2,165.1 208.3,165.6z" fill="#ffdf00"/>
<path d="M81.6,226.7 85.5,240.4 82.5,237.9z" fill="#00cfff"/>
<path d="M205.3,155.2 206.2,145.5 202.3,145.3z" fill="#ff8000"/>
<path d="M151.6,242 152.4,233.4 148.5,243.7z" fill="#00bfff"/>
<path d="M208.3,165.6 209.2,155.1 205.3,155.2z" fill="#ffaf00"/>
<path d="M171.6,126.6 175.5,118.3 172.5,113.5z" fill="#df0000"/>
<path d="M111.3,269 112.2,275.6 108.3,269.4z" fill="#0020ff"/>
<path d="M160.2,211.2 161.1,196.9 157.2,209.3z" fill="#60ff9f"/>
<path d="M156.3,222.5 160.2,211.2 157.2,209.3z" fill="#40ffbf"/>
<path d="M182.4,118 183.3,108.2 179.4,112.1z" fill="#bf0000"/>
<path d="M182.4,118 186.3,114.3 183.3,108.2z" fill="#bf0000"/>
<path d="M165.9,168.6 166.8,152.3 162.9,164.5z" fill="#ffbf00"/>
<path d="M125.1,273 126,276.5 122.1,276.1z" fill="#0010ff"/>
<path d="M192.3,128.9 196.2,127.6 193.2,119.9z" fill="#ff0000"/>
<path d="M161.1,196.9 165,184.8 162,181z" fill="#bfff40"/>
<path d="M213.4,201 217.3,199 214.3,187.7z" fill="#9fff60"/>
<path d="M166.8,152.3 170.7,141.3 167.7,136.6z" fill="#ff6000"/>
<path d="M170.7,141.3 171.6,126.6 167.7,136.6z" fill="#ff3000"/>
<path d="M165,184.8 165.9,168.6 162,181z" fill="#efff10"/>
<path d="M155.5,232.8 156.3,222.5 152.4,233.4z" fill="#00efff"/>
<path d="M136,266.9 136.8,266.9 132.9,271.2z" fill="#0030ff"/>
<path d="M143.8,257.4 147.7,250.3 144.6,252.9z" fill="#0080ff"/>
<path d="M192.3,128.9 193.2,119.9 189.3,121.2z" fill="#ef0000"/>
<path d="M125.1,273 129,273.2 126,276.5z" fill="#0010ff"/>
<path d="M147.7,250.3 151.6,242 148.5,243.7z" fill="#009fff"/>
<path d="M210.4,189.5 214.3,187.7 211.3,176.5z" fill="#cfff30"/>
<path d="M178.5,123.8 179.4,112.1 175.5,118.3z" fill="#df0000"/>
<path d="M195.3,137.4 199.2,136.1 196.2,127.6z" fill="#ff3000"/>
<path d="M94.5,246.9 98.4,258.6 95.4,256.9z" fill="#0070ff"/>
<path d="M174.6,131.7 175.5,118.3 171.6,126.6z" fill="#ff0000"/>
<path d="M139.9,263 143.8,257.4 140.7,260.8z" fill="#0060ff"/>
<path d="M104.4,260.6 108.3,269.4 105.3,269z" fill="#0040ff"/>
<path d="M68.6,204.6 69.5,216.1 65.6,202z" fill="#60ff9f"/>
<path d="M165.9,168.6 169.8,157.1 166.8,152.3z" fill="#ffaf00"/>
<path d="M178.5,123.8 182.4,118 179.4,112.1z" fill="#cf0000"/>
<path d="M207.4,178.2 211.3,176.5 208.3,165.6z" fill="#ffef00"/>
<path d="M213.4,201 214.3,187.7 210.4,189.5z" fill="#afff50"/>
<path d="M185.4,124.6 189.3,121.2 186.3,114.3z" fill="#df0000"/>
<path d="M198.4,146.7 202.3,145.3 199.2,136.1z" fill="#ff5000"/>
<path d="M160.2,211.2 164.1,199.9 161.1,196.9z" fill="#80ff80"/>
<path d="M170.7,141.3 174.6,131.7 171.6,126.6z" fill="#ff2000"/>
<path d="M151.6,242 155.5,232.8 152.4,233.4z" fill="#00cfff"/>
<path d="M81.6,226.7 82.5,237.9 78.6,224.2z" fill="#00efff"/>
<path d="M169.8,157.1 170.7,141.3 166.8,152.3z" fill="#ff8000"/>
<path d="M164.1,199.9 165,184.8 161.1,196.9z" fill="#afff50"/>
<path d="M185.4,124.6 186.3,114.3 182.4,118z" fill="#df0000"/>
<path d="M204.4,167.2 208.3,165.6 205.3,155.2z" fill="#ffaf00"/>
<path d="M195.3,137.4 196.2,127.6 192.3,128.9z" fill="#ff2000"/>
<path d="M201.4,156.6 205.3,155.2 202.3,145.3z" fill="#ff8000"/>
<path d="M174.6,131.7 178.5,123.8 175.5,118.3z" fill="#ef0000"/>
<path d="M159.4,223.1 160.2,211.2 156.3,222.5z" fill="#30ffcf"/>
<path d="M210.4,189.5 211.3,176.5 207.4,178.2z" fill="#efff10"/>
<path d="M165,184.8 168.9,173.2 165.9,168.6z" fill="#ffef00"/>
<path d="M104.4,260.6 105.3,269 101.4,259.8z" fill="#0050ff"/>
<path d="M136,266.9 139.9,263 136.8,266.9z" fill="#0040ff"/>
<path d="M198.4,146.7 199.2,136.1 195.3,137.4z" fill="#ff4000"/>
<path d="M207.4,178.2 208.3,165.6 204.4,167.2z" fill="#ffdf00"/>
<path d="M168.9,173.2 169.8,157.1 165.9,168.6z" fill="#ffbf00"/>
<path d="M71.7,207.1 75.6,221.6 72.5,218.8z" fill="#40ffbf"/>
<path d="M155.5,232.8 159.4,223.1 156.3,222.5z" fill="#10ffef"/>
<path d="M201.4,156.6 202.3,145.3 198.4,146.7z" fill="#ff7000"/>
<path d="M204.4,167.2 205.3,155.2 201.4,156.6z" fill="#ff9f00"/>
<path d="M173.7,146.6 174.6,131.7 170.7,141.3z" fill="#ff4000"/>
<path d="M188.4,132.1 192.3,128.9 189.3,121.2z" fill="#ff0000"/>
<path d="M94.5,246.9 95.4,256.9 91.5,245z" fill="#008fff"/>
<path d="M169.8,157.1 173.7,146.6 170.7,141.3z" fill="#ff7000"/>
<path d="M181.5,130.2 182.4,118 178.5,123.8z" fill="#ef0000"/>
<path d="M84.6,229.2 88.5,242.8 85.5,240.4z" fill="#00cfff"/>
<path d="M132.1,268.9 132.9,271.2 129,273.2z" fill="#0030ff"/>
<path d="M188.4,132.1 189.3,121.2 185.4,124.6z" fill="#ff0000"/>
<path d="M209.5,202.9 213.4,201 210.4,189.5z" fill="#9fff60"/>
<path d="M181.5,130.2 185.4,124.6 182.4,118z" fill="#ef0000"/>
<path d="M164.1,199.9 168,188.7 165,184.8z" fill="#bfff40"/>
<path d="M177.6,137.6 178.5,123.8 174.6,131.7z" fill="#ff1000"/>
<path d="M163.3,213 164.1,199.9 160.2,211.2z" fill="#70ff8f"/>
<path d="M168,188.7 168.9,173.2 165,184.8z" fill="#efff10"/>
<path d="M206.5,191.6 210.4,189.5 207.4,178.2z" fill="#cfff30"/>
<path d="M191.4,140.5 195.3,137.4 192.3,128.9z" fill="#ff2000"/>
<path d="M173.7,146.6 177.6,137.6 174.6,131.7z" fill="#ff3000"/>
<path d="M159.4,223.1 163.3,213 160.2,211.2z" fill="#40ffbf"/>
<path d="M168.9,173.2 172.8,162.4 169.8,157.1z" fill="#ffaf00"/>
<path d="M177.6,137.6 181.5,130.2 178.5,123.8z" fill="#ff1000"/>
<path d="M172.8,162.4 173.7,146.6 169.8,157.1z" fill="#ff8f00"/>
<path d="M203.5,180.5 207.4,178.2 204.4,167.2z" fill="#ffef00"/>
<path d="M191.4,140.5 192.3,128.9 188.4,132.1z" fill="#ff2000"/>
<path d="M209.5,202.9 210.4,189.5 206.5,191.6z" fill="#afff50"/>
<path d="M194.5,149.6 198.4,146.7 195.3,137.4z" fill="#ff5000"/>
<path d="M132.1,268.9 136,266.9 132.9,271.2z" fill="#0040ff"/>
<path d="M114.3,267.9 118.2,273.2 115.2,274.9z" fill="#0030ff"/>
<path d="M200.5,169.7 204.4,167.2 201.4,156.6z" fill="#ffaf00"/>
<path d="M197.5,159.3 201.4,156.6 198.4,146.7z" fill="#ff8000"/>
<path d="M184.5,137.3 185.4,124.6 181.5,130.2z" fill="#ff1000"/>
<path d="M121.2,270.6 122.1,276.1 118.2,273.2z" fill="#0020ff"/>
<path d="M184.5,137.3 188.4,132.1 185.4,124.6z" fill="#ff1000"/>
<path d="M114.3,267.9 115.2,274.9 111.3,269z" fill="#0030ff"/>
<path d="M206.5,191.6 207.4,178.2 203.5,180.5z" fill="#efff10"/>
<path d="M150.7,246.8 151.6,242 147.7,250.3z" fill="#00afff"/>
<path d="M71.7,207.1 72.5,218.8 68.6,204.6z" fill="#60ff9f"/>
<path d="M168,188.7 171.9,178.1 168.9,173.2z" fill="#ffff00"/>
<path d="M167.2,202.8 168,188.7 164.1,199.9z" fill="#9fff60"/>
<path d="M176.7,152.7 177.6,137.6 173.7,146.6z" fill="#ff5000"/>
<path d="M194.5,149.6 195.3,137.4 191.4,140.5z" fill="#ff4000"/>
<path d="M171.9,178.1 172.8,162.4 168.9,173.2z" fill="#ffcf00"/>
<path d="M121.2,270.6 125.1,273 122.1,276.1z" fill="#0020ff"/>
<path d="M154.6,239.6 155.5,232.8 151.6,242z" fill="#00cfff"/>
<path d="M172.8,162.4 176.7,152.7 173.7,146.6z" fill="#ff8000"/>
<path d="M163.3,213 167.2,202.8 164.1,199.9z" fill="#80ff80"/>
<path d="M146.8,253 147.7,250.3 143.8,257.4z" fill="#008fff"/>
<path d="M180.6,144.2 181.5,130.2 177.6,137.6z" fill="#ff3000"/>
<path d="M97.5,248.6 101.4,259.8 98.4,258.6z" fill="#0080ff"/>
<path d="M203.5,180.5 204.4,167.2 200.5,169.7z" fill="#ffdf00"/>
<path d="M84.6,229.2 85.5,240.4 81.6,226.7z" fill="#00efff"/>
<path d="M197.5,159.3 198.4,146.7 194.5,149.6z" fill="#ff7000"/>
<path d="M200.5,169.7 201.4,156.6 197.5,159.3z" fill="#ff9f00"/>
<path d="M180.6,144.2 184.5,137.3 181.5,130.2z" fill="#ff3000"/>
<path d="M158.5,231.6 159.4,223.1 155.5,232.8z" fill="#00ffff"/>
<path d="M176.7,152.7 180.6,144.2 177.6,137.6z" fill="#ff5000"/>
<path d="M187.5,145.2 191.4,140.5 188.4,132.1z" fill="#ff3000"/>
<path d="M187.5,145.2 188.4,132.1 184.5,137.3z" fill="#ff3000"/>
<path d="M205.6,204.8 209.5,202.9 206.5,191.6z" fill="#9fff60"/>
<path d="M107.4,260.9 111.3,269 108.3,269.4z" fill="#0050ff"/>
<path d="M142.9,257.9 143.8,257.4 139.9,263z" fill="#0070ff"/>
<path d="M175.8,168.2 176.7,152.7 172.8,162.4z" fill="#ff9f00"/>
<path d="M74.7,209.6 78.6,224.2 75.6,221.6z" fill="#40ffbf"/>
<path d="M171.9,178.1 175.8,168.2 172.8,162.4z" fill="#ffcf00"/>
<path d="M171.1,192.9 171.9,178.1 168,188.7z" fill="#dfff20"/>
<path d="M202.6,194.1 206.5,191.6 203.5,180.5z" fill="#cfff30"/>
<path d="M167.2,202.8 171.1,192.9 168,188.7z" fill="#afff50"/>
<path d="M162.4,223.2 163.3,213 159.4,223.1z" fill="#40ffbf"/>
<path d="M190.6,153.9 194.5,149.6 191.4,140.5z" fill="#ff6000"/>
<path d="M128.2,268.9 129,273.2 125.1,273z" fill="#0030ff"/>
<path d="M183.6,151.6 184.5,137.3 180.6,144.2z" fill="#ff5000"/>
<path d="M179.7,159.3 180.6,144.2 176.7,152.7z" fill="#ff7000"/>
<path d="M199.6,183.5 203.5,180.5 200.5,169.7z" fill="#ffef00"/>
<path d="M190.6,153.9 191.4,140.5 187.5,145.2z" fill="#ff5000"/>
<path d="M87.6,231.5 91.5,245 88.5,242.8z" fill="#00cfff"/>
<path d="M193.6,163.2 197.5,159.3 194.5,149.6z" fill="#ff8f00"/>
<path d="M97.5,248.6 98.4,258.6 94.5,246.9z" fill="#009fff"/>
<path d="M183.6,151.6 187.5,145.2 184.5,137.3z" fill="#ff5000"/>
<path d="M196.6,173.1 200.5,169.7 197.5,159.3z" fill="#ffbf00"/>
<path d="M150.7,246.8 154.6,239.6 151.6,242z" fill="#00bfff"/>
<path d="M205.6,204.8 206.5,191.6 202.6,194.1z" fill="#afff50"/>
<path d="M175.8,168.2 179.7,159.3 176.7,152.7z" fill="#ff8f00"/>
<path d="M107.4,260.9 108.3,269.4 104.4,260.6z" fill="#0060ff"/>
<path d="M154.6,239.6 158.5,231.6 155.5,232.8z" fill="#00efff"/>
<path d="M146.8,253 150.7,246.8 147.7,250.3z" fill="#009fff"/>
<path d="M179.7,159.3 183.6,151.6 180.6,144.2z" fill="#ff7000"/>
<path d="M193.6,163.2 194.5,149.6 190.6,153.9z" fill="#ff8000"/>
<path d="M175,183.4 175.8,168.2 171.9,178.1z" fill="#ffef00"/>
<path d="M202.6,194.1 203.5,180.5 199.6,183.5z" fill="#dfff20"/>
<path d="M166.3,214.5 167.2,202.8 163.3,213z" fill="#70ff8f"/>
<path d="M171.1,192.9 175,183.4 171.9,178.1z" fill="#efff10"/>
<path d="M199.6,183.5 200.5,169.7 196.6,173.1z" fill="#ffdf00"/>
<path d="M196.6,173.1 197.5,159.3 193.6,163.2z" fill="#ffaf00"/>
<path d="M158.5,231.6 162.4,223.2 159.4,223.1z" fill="#20ffdf"/>
<path d="M128.2,268.9 132.1,268.9 129,273.2z" fill="#0040ff"/>
<path d="M139,261.5 139.9,263 136,266.9z" fill="#0060ff"/>
<path d="M186.7,159.6 187.5,145.2 183.6,151.6z" fill="#ff7000"/>
<path d="M186.7,159.6 190.6,153.9 187.5,145.2z" fill="#ff7000"/>
<path d="M178.9,174.5 179.7,159.3 175.8,168.2z" fill="#ffbf00"/>
<path d="M142.9,257.9 146.8,253 143.8,257.4z" fill="#0080ff"/>
<path d="M162.4,223.2 166.3,214.5 163.3,213z" fill="#50ffaf"/>
<path d="M182.8,166.6 183.6,151.6 179.7,159.3z" fill="#ff8f00"/>
<path d="M170.2,205.7 171.1,192.9 167.2,202.8z" fill="#9fff60"/>
<path d="M175,183.4 178.9,174.5 175.8,168.2z" fill="#ffdf00"/>
<path d="M189.7,168.3 193.6,163.2 190.6,153.9z" fill="#ff9f00"/>
<path d="M182.8,166.6 186.7,159.6 183.6,151.6z" fill="#ff8f00"/>
<path d="M74.7,209.6 75.6,221.6 71.7,207.1z" fill="#60ff9f"/>
<path d="M189.7,168.3 190.6,153.9 186.7,159.6z" fill="#ff8f00"/>
<path d="M178.9,174.5 182.8,166.6 179.7,159.3z" fill="#ffaf00"/>
<path d="M201.7,206.8 205.6,204.8 202.6,194.1z" fill="#9fff60"/>
<path d="M192.7,177.4 196.6,173.1 193.6,163.2z" fill="#ffcf00"/>
<path d="M198.7,196.8 202.6,194.1 199.6,183.5z" fill="#cfff30"/>
<path d="M166.3,214.5 170.2,205.7 167.2,202.8z" fill="#80ff80"/>
<path d="M195.7,187 199.6,183.5 196.6,173.1z" fill="#ffff00"/>
<path d="M174.1,197.1 175,183.4 171.1,192.9z" fill="#cfff30"/>
<path d="M87.6,231.5 88.5,242.8 84.6,229.2z" fill="#00efff"/>
<path d="M192.7,177.4 193.6,163.2 189.7,168.3z" fill="#ffbf00"/>
<path d="M185.8,174.3 186.7,159.6 182.8,166.6z" fill="#ffaf00"/>
<path d="M178,188.9 178.9,174.5 175,183.4z" fill="#ffff00"/>
<path d="M195.7,187 196.6,173.1 192.7,177.4z" fill="#ffef00"/>
<path d="M185.8,174.3 189.7,168.3 186.7,159.6z" fill="#ffaf00"/>
<path d="M170.2,205.7 174.1,197.1 171.1,192.9z" fill="#afff50"/>
<path d="M100.5,249.9 104.4,260.6 101.4,259.8z" fill="#008fff"/>
<path d="M139,261.5 142.9,257.9 139.9,263z" fill="#0070ff"/>
<path d="M198.7,196.8 199.6,183.5 195.7,187z" fill="#dfff20"/>
<path d="M201.7,206.8 202.6,194.1 198.7,196.8z" fill="#afff50"/>
<path d="M181.9,181.3 182.8,166.6 178.9,174.5z" fill="#ffcf00"/>
<path d="M77.7,212.2 81.6,226.7 78.6,224.2z" fill="#40ffbf"/>
<path d="M174.1,197.1 178,188.9 175,183.4z" fill="#dfff20"/>
<path d="M181.9,181.3 185.8,174.3 182.8,166.6z" fill="#ffcf00"/>
<path d="M178,188.9 181.9,181.3 178.9,174.5z" fill="#ffff00"/>
<path d="M188.8,182.5 192.7,177.4 189.7,168.3z" fill="#ffdf00"/>
<path d="M135.1,263.5 136,266.9 132.1,268.9z" fill="#0060ff"/>
<path d="M188.8,182.5 189.7,168.3 185.8,174.3z" fill="#ffdf00"/>
<path d="M117.3,266 121.2,270.6 118.2,273.2z" fill="#0050ff"/>
<path d="M117.3,266 118.2,273.2 114.3,267.9z" fill="#0050ff"/>
<path d="M90.6,233.8 94.5,246.9 91.5,245z" fill="#00cfff"/>
<path d="M191.8,191.1 195.7,187 192.7,177.4z" fill="#efff10"/>
<path d="M161.5,229.9 162.4,223.2 158.5,231.6z" fill="#20ffdf"/>
<path d="M124.3,267 125.1,273 121.2,270.6z" fill="#0050ff"/>
<path d="M157.6,236.5 158.5,231.6 154.6,239.6z" fill="#00efff"/>
<path d="M191.8,191.1 192.7,177.4 188.8,182.5z" fill="#ffff00"/>
<path d="M184.9,188.3 185.8,174.3 181.9,181.3z" fill="#ffef00"/>
<path d="M194.8,199.9 198.7,196.8 195.7,187z" fill="#bfff40"/>
<path d="M100.5,249.9 101.4,259.8 97.5,248.6z" fill="#009fff"/>
<path d="M165.4,222.9 166.3,214.5 162.4,223.2z" fill="#40ffbf"/>
<path d="M110.4,260.5 114.3,267.9 111.3,269z" fill="#0060ff"/>
<path d="M184.9,188.3 188.8,182.5 185.8,174.3z" fill="#ffef00"/>
<path d="M169.3,215.7 170.2,205.7 166.3,214.5z" fill="#70ff8f"/>
<path d="M197.8,208.7 201.7,206.8 198.7,196.8z" fill="#9fff60"/>
<path d="M153.7,242.5 154.6,239.6 150.7,246.8z" fill="#00cfff"/>
<path d="M181,194.7 181.9,181.3 178,188.9z" fill="#efff10"/>
<path d="M173.2,208.5 174.1,197.1 170.2,205.7z" fill="#9fff60"/>
<path d="M177.1,201.5 178,188.9 174.1,197.1z" fill="#bfff40"/>
<path d="M194.8,199.9 195.7,187 191.8,191.1z" fill="#cfff30"/>
<path d="M124.3,267 128.2,268.9 125.1,273z" fill="#0050ff"/>
<path d="M135.1,263.5 139,261.5 136,266.9z" fill="#0070ff"/>
<path d="M181,194.7 184.9,188.3 181.9,181.3z" fill="#efff10"/>
<path d="M110.4,260.5 111.3,269 107.4,260.9z" fill="#0070ff"/>
<path d="M197.8,208.7 198.7,196.8 194.8,199.9z" fill="#9fff60"/>
<path d="M149.8,247.7 150.7,246.8 146.8,253z" fill="#00bfff"/>
<path d="M77.7,212.2 78.6,224.2 74.7,209.6z" fill="#60ff9f"/>
<path d="M187.9,195.6 191.8,191.1 188.8,182.5z" fill="#dfff20"/>
<path d="M187.9,195.6 188.8,182.5 184.9,188.3z" fill="#efff10"/>
<path d="M177.1,201.5 181,194.7 178,188.9z" fill="#cfff30"/>
<path d="M173.2,208.5 177.1,201.5 174.1,197.1z" fill="#9fff60"/>
<path d="M169.3,215.7 173.2,208.5 170.2,205.7z" fill="#80ff80"/>
<path d="M165.4,222.9 169.3,215.7 166.3,214.5z" fill="#60ff9f"/>
<path d="M161.5,229.9 165.4,222.9 162.4,223.2z" fill="#30ffcf"/>
<path d="M90.6,233.8 91.5,245 87.6,231.5z" fill="#00ffff"/>
<path d="M157.6,236.5 161.5,229.9 158.5,231.6z" fill="#10ffef"/>
<path d="M190.9,203.1 194.8,199.9 191.8,191.1z" fill="#bfff40"/>
<path d="M184,200.6 184.9,188.3 181,194.7z" fill="#cfff30"/>
<path d="M153.7,242.5 157.6,236.5 154.6,239.6z" fill="#00efff"/>
<path d="M145.9,251.9 146.8,253 142.9,257.9z" fill="#009fff"/>
<path d="M190.9,203.1 191.8,191.1 187.9,195.6z" fill="#bfff40"/>
<path d="M80.7,214.7 84.6,229.2 81.6,226.7z" fill="#40ffbf"/>
<path d="M184,200.6 187.9,195.6 184.9,188.3z" fill="#cfff30"/>
<path d="M131.2,263.8 132.1,268.9 128.2,268.9z" fill="#0060ff"/>
<path d="M193.9,210.7 197.8,208.7 194.8,199.9z" fill="#8fff70"/>
<path d="M103.5,250.8 107.4,260.9 104.4,260.6z" fill="#008fff"/>
<path d="M180.1,205.8 181,194.7 177.1,201.5z" fill="#afff50"/>
<path d="M149.8,247.7 153.7,242.5 150.7,246.8z" fill="#00cfff"/>
<path d="M193.9,210.7 194.8,199.9 190.9,203.1z" fill="#9fff60"/>
<path d="M93.6,235.9 97.5,248.6 94.5,246.9z" fill="#00dfff"/>
<path d="M180.1,205.8 184,200.6 181,194.7z" fill="#afff50"/>
<path d="M176.2,211.3 177.1,201.5 173.2,208.5z" fill="#8fff70"/>
<path d="M131.2,263.8 135.1,263.5 132.1,268.9z" fill="#0070ff"/>
<path d="M187,206.6 190.9,203.1 187.9,195.6z" fill="#afff50"/>
<path d="M187,206.6 187.9,195.6 184,200.6z" fill="#afff50"/>
<path d="M142,255.1 142.9,257.9 139,261.5z" fill="#008fff"/>
<path d="M172.3,216.8 173.2,208.5 169.3,215.7z" fill="#70ff8f"/>
<path d="M145.9,251.9 149.8,247.7 146.8,253z" fill="#00bfff"/>
<path d="M103.5,250.8 104.4,260.6 100.5,249.9z" fill="#00afff"/>
<path d="M176.2,211.3 180.1,205.8 177.1,201.5z" fill="#9fff60"/>
<path d="M80.7,214.7 81.6,226.7 77.7,212.2z" fill="#60ff9f"/>
<path d="M168.4,222.3 169.3,215.7 165.4,222.9z" fill="#50ffaf"/>
<path d="M172.3,216.8 176.2,211.3 173.2,208.5z" fill="#80ff80"/>
<path d="M120.4,263.2 121.2,270.6 117.3,266z" fill="#0070ff"/>
<path d="M164.5,227.7 165.4,222.9 161.5,229.9z" fill="#40ffbf"/>
<path d="M190,212.7 193.9,210.7 190.9,203.1z" fill="#8fff70"/>
<path d="M93.6,235.9 94.5,246.9 90.6,233.8z" fill="#00ffff"/>
<path d="M183.1,210.2 184,200.6 180.1,205.8z" fill="#9fff60"/>
<path d="M120.4,263.2 124.3,267 121.2,270.6z" fill="#0070ff"/>
<path d="M113.4,259.5 117.3,266 114.3,267.9z" fill="#0080ff"/>
<path d="M190,212.7 190.9,203.1 187,206.6z" fill="#9fff60"/>
<path d="M183.1,210.2 187,206.6 184,200.6z" fill="#9fff60"/>
<path d="M83.7,217.3 87.6,231.5 84.6,229.2z" fill="#40ffbf"/>
<path d="M142,255.1 145.9,251.9 142.9,257.9z" fill="#00afff"/>
<path d="M113.4,259.5 114.3,267.9 110.4,260.5z" fill="#0080ff"/>
<path d="M168.4,222.3 172.3,216.8 169.3,215.7z" fill="#60ff9f"/>
<path d="M160.6,232.8 161.5,229.9 157.6,236.5z" fill="#20ffdf"/>
<path d="M127.3,262.5 128.2,268.9 124.3,267z" fill="#0070ff"/>
<path d="M138.1,257.1 139,261.5 135.1,263.5z" fill="#008fff"/>
<path d="M179.2,213.9 180.1,205.8 176.2,211.3z" fill="#8fff70"/>
<path d="M164.5,227.7 168.4,222.3 165.4,222.9z" fill="#50ffaf"/>
<path d="M156.7,237.5 157.6,236.5 153.7,242.5z" fill="#00ffff"/>
<path d="M179.2,213.9 183.1,210.2 180.1,205.8z" fill="#8fff70"/>
<path d="M127.3,262.5 131.2,263.8 128.2,268.9z" fill="#0080ff"/>
<path d="M96.6,237.8 100.5,249.9 97.5,248.6z" fill="#00dfff"/>
<path d="M106.5,251.3 110.4,260.5 107.4,260.9z" fill="#009fff"/>
<path d="M160.6,232.8 164.5,227.7 161.5,229.9z" fill="#30ffcf"/>
<path d="M186.1,214.6 190,212.7 187,206.6z" fill="#8fff70"/>
<path d="M186.1,214.6 187,206.6 183.1,210.2z" fill="#8fff70"/>
<path d="M175.3,217.7 176.2,211.3 172.3,216.8z" fill="#80ff80"/>
<path d="M83.7,217.3 84.6,229.2 80.7,214.7z" fill="#60ff9f"/>
<path d="M152.8,241.6 153.7,242.5 149.8,247.7z" fill="#00efff"/>
<path d="M138.1,257.1 142,255.1 139,261.5z" fill="#009fff"/>
<path d="M106.5,251.3 107.4,260.9 103.5,250.8z" fill="#00bfff"/>
<path d="M156.7,237.5 160.6,232.8 157.6,236.5z" fill="#20ffdf"/>
<path d="M175.3,217.7 179.2,213.9 176.2,211.3z" fill="#80ff80"/>
<path d="M96.6,237.8 97.5,248.6 93.6,235.9z" fill="#00ffff"/>
<path d="M171.4,221.4 172.3,216.8 168.4,222.3z" fill="#70ff8f"/>
<path d="M86.7,219.8 90.6,233.8 87.6,231.5z" fill="#40ffbf"/>
<path d="M134.2,257.8 135.1,263.5 131.2,263.8z" fill="#009fff"/>
<path d="M148.9,245.2 149.8,247.7 145.9,251.9z" fill="#00dfff"/>
<path d="M182.2,216.5 183.1,210.2 179.2,213.9z" fill="#8fff70"/>
<path d="M152.8,241.6 156.7,237.5 153.7,242.5z" fill="#00ffff"/>
<path d="M182.2,216.5 186.1,214.6 183.1,210.2z" fill="#8fff70"/>
<path d="M171.4,221.4 175.3,217.7 172.3,216.8z" fill="#70ff8f"/>
<path d="M167.5,225.1 168.4,222.3 164.5,227.7z" fill="#50ffaf"/>
<path d="M134.2,257.8 138.1,257.1 135.1,263.5z" fill="#00afff"/>
<path d="M116.5,257.8 120.4,263.2 117.3,266z" fill="#009fff"/>
<path d="M116.5,257.8 117.3,266 113.4,259.5z" fill="#009fff"/>
<path d="M123.4,259.7 124.3,267 120.4,263.2z" fill="#008fff"/>
<path d="M99.6,239.5 103.5,250.8 100.5,249.9z" fill="#00efff"/>
<path d="M86.7,219.8 87.6,231.5 83.7,217.3z" fill="#60ff9f"/>
<path d="M148.9,245.2 152.8,241.6 149.8,247.7z" fill="#00efff"/>
<path d="M145,247.9 145.9,251.9 142,255.1z" fill="#00cfff"/>
<path d="M123.4,259.7 127.3,262.5 124.3,267z" fill="#009fff"/>
<path d="M167.5,225.1 171.4,221.4 168.4,222.3z" fill="#60ff9f"/>
<path d="M178.3,218.5 179.2,213.9 175.3,217.7z" fill="#80ff80"/>
<path d="M163.6,228.7 164.5,227.7 160.6,232.8z" fill="#40ffbf"/>
<path d="M109.5,251.4 113.4,259.5 110.4,260.5z" fill="#00bfff"/>
<path d="M178.3,218.5 182.2,216.5 179.2,213.9z" fill="#8fff70"/>
<path d="M89.7,222.3 93.6,235.9 90.6,233.8z" fill="#40ffbf"/>
<path d="M99.6,239.5 100.5,249.9 96.6,237.8z" fill="#00ffff"/>
<path d="M109.5,251.4 110.4,260.5 106.5,251.3z" fill="#00cfff"/>
<path d="M130.3,257.2 131.2,263.8 127.3,262.5z" fill="#00afff"/>
<path d="M145,247.9 148.9,245.2 145.9,251.9z" fill="#00efff"/>
<path d="M163.6,228.7 167.5,225.1 164.5,227.7z" fill="#50ffaf"/>
<path d="M159.7,232 160.6,232.8 156.7,237.5z" fill="#30ffcf"/>
<path d="M174.4,220.4 175.3,217.7 171.4,221.4z" fill="#80ff80"/>
<path d="M141.1,249.9 142,255.1 138.1,257.1z" fill="#00cfff"/>
<path d="M130.3,257.2 134.2,257.8 131.2,263.8z" fill="#00afff"/>
<path d="M174.4,220.4 178.3,218.5 175.3,217.7z" fill="#80ff80"/>
<path d="M89.7,222.3 90.6,233.8 86.7,219.8z" fill="#60ff9f"/>
<path d="M159.7,232 163.6,228.7 160.6,232.8z" fill="#40ffbf"/>
<path d="M155.8,235.1 156.7,237.5 152.8,241.6z" fill="#20ffdf"/>
<path d="M102.6,241 106.5,251.3 103.5,250.8z" fill="#00efff"/>
<path d="M141.1,249.9 145,247.9 142,255.1z" fill="#00dfff"/>
<path d="M170.5,222.4 171.4,221.4 167.5,225.1z" fill="#70ff8f"/>
<path d="M92.7,224.9 96.6,237.8 93.6,235.9z" fill="#40ffbf"/>
<path d="M119.5,255.5 120.4,263.2 116.5,257.8z" fill="#00bfff"/>
<path d="M119.5,255.5 123.4,259.7 120.4,263.2z" fill="#00bfff"/>
<path d="M102.6,241 103.5,250.8 99.6,239.5z" fill="#10ffef"/>
<path d="M137.2,251 138.1,257.1 134.2,257.8z" fill="#00cfff"/>
<path d="M155.8,235.1 159.7,232 156.7,237.5z" fill="#40ffbf"/>
<path d="M170.5,222.4 174.4,220.4 171.4,221.4z" fill="#80ff80"/>
<path d="M151.9,237.8 152.8,241.6 148.9,245.2z" fill="#20ffdf"/>
<path d="M112.6,251 116.5,257.8 113.4,259.5z" fill="#00cfff"/>
<path d="M126.4,255.4 127.3,262.5 123.4,259.7z" fill="#00bfff"/>
<path d="M112.6,251 113.4,259.5 109.5,251.4z" fill="#00dfff"/>
<path d="M166.6,224.3 167.5,225.1 163.6,228.7z" fill="#70ff8f"/>
<path d="M126.4,255.4 130.3,257.2 127.3,262.5z" fill="#00cfff"/>
<path d="M92.7,224.9 93.6,235.9 89.7,222.3z" fill="#60ff9f"/>
<path d="M137.2,251 141.1,249.9 138.1,257.1z" fill="#00dfff"/>
<path d="M151.9,237.8 155.8,235.1 152.8,241.6z" fill="#30ffcf"/>
<path d="M148,240.2 148.9,245.2 145,247.9z" fill="#10ffef"/>
<path d="M166.6,224.3 170.5,222.4 167.5,225.1z" fill="#80ff80"/>
<path d="M105.6,242.2 109.5,251.4 106.5,251.3z" fill="#00ffff"/>
<path d="M95.7,227.4 99.6,239.5 96.6,237.8z" fill="#40ffbf"/>
<path d="M162.7,226.3 163.6,228.7 159.7,232z" fill="#60ff9f"/>
<path d="M133.3,251.2 134.2,257.8 130.3,257.2z" fill="#00dfff"/>
<path d="M105.6,242.2 106.5,251.3 102.6,241z" fill="#10ffef"/>
<path d="M148,240.2 151.9,237.8 148.9,245.2z" fill="#30ffcf"/>
<path d="M133.3,251.2 137.2,251 134.2,257.8z" fill="#00efff"/>
<path d="M162.7,226.3 166.6,224.3 163.6,228.7z" fill="#80ff80"/>
<path d="M144.1,242.1 145,247.9 141.1,249.9z" fill="#10ffef"/>
<path d="M95.7,227.4 96.6,237.8 92.7,224.9z" fill="#60ff9f"/>
<path d="M115.6,250.2 119.5,255.5 116.5,257.8z" fill="#00efff"/>
<path d="M122.5,252.6 123.4,259.7 119.5,255.5z" fill="#00dfff"/>
<path d="M158.8,228.2 159.7,232 155.8,235.1z" fill="#60ff9f"/>
<path d="M115.6,250.2 116.5,257.8 112.6,251z" fill="#00efff"/>
<path d="M122.5,252.6 126.4,255.4 123.4,259.7z" fill="#00dfff"/>
<path d="M144.1,242.1 148,240.2 145,247.9z" fill="#30ffcf"/>
<path d="M98.7,230 102.6,241 99.6,239.5z" fill="#50ffaf"/>
<path d="M108.7,243.3 112.6,251 109.5,251.4z" fill="#10ffef"/>
<path d="M158.8,228.2 162.7,226.3 159.7,232z" fill="#70ff8f"/>
<path d="M129.4,250.6 130.3,257.2 126.4,255.4z" fill="#00efff"/>
<path d="M140.2,243.6 141.1,249.9 137.2,251z" fill="#10ffef"/>
<path d="M154.9,230.2 155.8,235.1 151.9,237.8z" fill="#60ff9f"/>
<path d="M108.7,243.3 109.5,251.4 105.6,242.2z" fill="#20ffdf"/>
<path d="M129.4,250.6 133.3,251.2 130.3,257.2z" fill="#00ffff"/>
<path d="M98.7,230 99.6,239.5 95.7,227.4z" fill="#70ff8f"/>
<path d="M140.2,243.6 144.1,242.1 141.1,249.9z" fill="#30ffcf"/>
<path d="M154.9,230.2 158.8,228.2 155.8,235.1z" fill="#70ff8f"/>
<path d="M151,232.2 151.9,237.8 148,240.2z" fill="#60ff9f"/>
<path d="M101.7,232.5 105.6,242.2 102.6,241z" fill="#50ffaf"/>
<path d="M136.3,244.7 137.2,251 133.3,251.2z" fill="#20ffdf"/>
<path d="M118.6,249 122.5,252.6 119.5,255.5z" fill="#10ffef"/>
<path d="M118.6,249 119.5,255.5 115.6,250.2z" fill="#10ffef"/>
<path d="M125.5,249.3 126.4,255.4 122.5,252.6z" fill="#10ffef"/>
<path d="M111.7,244.1 115.6,250.2 112.6,251z" fill="#20ffdf"/>
<path d="M101.7,232.5 102.6,241 98.7,230z" fill="#70ff8f"/>
<path d="M151,232.2 154.9,230.2 151.9,237.8z" fill="#70ff8f"/>
<path d="M136.3,244.7 140.2,243.6 137.2,251z" fill="#30ffcf"/>
<path d="M125.5,249.3 129.4,250.6 126.4,255.4z" fill="#10ffef"/>
<path d="M111.7,244.1 112.6,251 108.7,243.3z" fill="#30ffcf"/>
<path d="M147.1,234.1 148,240.2 144.1,242.1z" fill="#60ff9f"/>
<path d="M132.4,245.4 133.3,251.2 129.4,250.6z" fill="#30ffcf"/>
<path d="M104.8,235 108.7,243.3 105.6,242.2z" fill="#50ffaf"/>
<path d="M147.1,234.1 151,232.2 148,240.2z" fill="#70ff8f"/>
<path d="M132.4,245.4 136.3,244.7 133.3,251.2z" fill="#40ffbf"/>
<path d="M104.8,235 105.6,242.2 101.7,232.5z" fill="#70ff8f"/>
<path d="M143.2,236 144.1,242.1 140.2,243.6z" fill="#60ff9f"/>
<path d="M121.6,247.4 122.5,252.6 118.6,249z" fill="#30ffcf"/>
<path d="M114.7,244.7 118.6,249 115.6,250.2z" fill="#30ffcf"/>
<path d="M121.6,247.4 125.5,249.3 122.5,252.6z" fill="#30ffcf"/>
<path d="M114.7,244.7 115.6,250.2 111.7,244.1z" fill="#40ffbf"/>
<path d="M143.2,236 147.1,234.1 144.1,242.1z" fill="#70ff8f"/>
<path d="M128.5,245.7 129.4,250.6 125.5,249.3z" fill="#40ffbf"/>
<path d="M107.8,237.6 111.7,244.1 108.7,243.3z" fill="#60ff9f"/>
<path d="M139.3,238 140.2,243.6 136.3,244.7z" fill="#60ff9f"/>
<path d="M128.5,245.7 132.4,245.4 129.4,250.6z" fill="#40ffbf"/>
<path d="M107.8,237.6 108.7,243.3 104.8,235z" fill="#70ff8f"/>
<path d="M139.3,238 143.2,236 140.2,243.6z" fill="#70ff8f"/>
<path d="M135.4,239.9 136.3,244.7 132.4,245.4z" fill="#60ff9f"/>
<path d="M117.7,245.2 121.6,247.4 118.6,249z" fill="#50ffaf"/>
<path d="M117.7,245.2 118.6,249 114.7,244.7z" fill="#50ffaf"/>
<path d="M124.6,245.7 125.5,249.3 121.6,247.4z" fill="#50ffaf"/>
<path d="M110.8,240.1 114.7,244.7 111.7,244.1z" fill="#60ff9f"/>
<path d="M124.6,245.7 128.5,245.7 125.5,249.3z" fill="#50ffaf"/>
<path d="M135.4,239.9 139.3,238 136.3,244.7z" fill="#70ff8f"/>
<path d="M110.8,240.1 111.7,244.1 107.8,237.6z" fill="#70ff8f"/>
<path d="M131.5,241.9 132.4,245.4 128.5,245.7z" fill="#60ff9f"/>
<path d="M131.5,241.9 135.4,239.9 132.4,245.4z" fill="#70ff8f"/>
<path d="M120.7,245.5 121.6,247.4 117.7,245.2z" fill="#60ff9f"/>
<path d="M113.8,242.7 117.7,245.2 114.7,244.7z" fill="#70ff8f"/>
<path d="M120.7,245.5 124.6,245.7 121.6,247.4z" fill="#60ff9f"/>
<path d="M113.8,242.7 114.7,244.7 110.8,240.1z" fill="#80ff80"/>
<path d="M127.6,243.8 128.5,245.7 124.6,245.7z" fill="#70ff8f"/>
<path d="M127.6,243.8 131.5,241.9 128.5,245.7z" fill="#80ff80"/>
<path d="M116.8,245.2 120.7,245.5 117.7,245.2z" fill="#80ff80"/>
<path d="M116.8,245.2 117.7,245.2 113.8,242.7z" fill="#80ff80"/>
<path d="M123.7,245.8 124.6,245.7 120.7,245.5z" fill="#80ff80"/>
<path d="M123.7,245.8 127.6,243.8 124.6,245.7z" fill="#80ff80"/>
<path d="M119.8,247.7 120.7,245.5 116.8,245.2z" fill="#80ff80"/>
<path d="M119.8,247.7 123.7,245.8 120.7,245.5z" fill="#80ff80"/></g>
<path class="a" d="M119.8 336.4L244.6 274M119.8 336.4L23.5 255.1M119.8 336.4L122.8 338.9M119.8 336.4L116 338.3M151 320.8L154 323.3M95.7 316.1L91.9 318M182.2 305.2L185.2 307.7M71.7 295.8L67.8 297.7M213.4 289.6L216.4 292.1M47.6 275.4L43.8 277.3M244.6 274L247.6 276.5M23.5 255.1L19.7 257"/><text x="125.3" y="347.7" class="t">-1</text>
<text x="113.6" y="346.3" class="t" text-anchor="end">-1</text>
<text x="156.5" y="332.1" class="t">-0.5</text>
<text x="89.5" y="326" class="t" text-anchor="end">-0.5</text>
<text x="187.7" y="316.5" class="t">0</text>
<text x="65.5" y="305.6" class="t" text-anchor="end">0</text>
<text x="218.9" y="300.9" class="t">0.5</text>
<text x="41.4" y="285.3" class="t" text-anchor="end">0.5</text>
<text x="250.1" y="285.3" class="t">1</text>
<text x="17.3" y="265" class="t" text-anchor="end">1</text>
<text x="188.3" y="348.8" class="t" text-anchor="middle">x</text>
<text x="57.5" y="343.5" class="t" text-anchor="middle">y</text>
<path class="az" d="M314.5 255.1L314.5 77.8"/><path class="a" d="M314.5 255.1L310.6 251.8M314.5 232.9L310.6 229.7M314.5 210.8L310.6 207.5M314.5 188.6L310.6 185.4M314.5 166.4L310.6 163.2M314.5 144.3L310.6 141M314.5 122.1L310.6 118.9M314.5 100L310.6 96.7M314.5 77.8L310.6 74.5"/><text x="308.7" y="253.7" class="t" text-anchor="end">-0.8</text>
<text x="308.7" y="231.5" class="t" text-anchor="end">-0.6</text>
<text x="308.7" y="209.4" class="t" text-anchor="end">-0.4</text>
<text x="308.7" y="187.2" class="t" text-anchor="end">-0.2</text>
<text x="308.7" y="165" class="t" text-anchor="end">0</text>
<text x="308.7" y="142.9" class="t" text-anchor="end">0.2</text>
<text x="308.7" y="120.7" class="t" text-anchor="end">0.4</text>
<text x="308.7" y="98.6" class="t" text-anchor="end">0.6</text>
<text x="308.7" y="76.4" class="t" text-anchor="end">0.8</text>
<path class="gs" d="M535.6 274L439.3 192.7"/><path class="g gv" d="M314.5 255.1L314.5 77.8M535.6 274L535.6 96.7M345.7 239.5L345.7 62.2M511.5 253.7L511.5 76.4M376.9 223.9L376.9 46.6M487.5 233.4L487.5 56.1M408.1 208.3L408.1 31M463.4 213L463.4 35.7M439.3 192.7L439.3 15.4M439.3 192.7L439.3 15.4"/><path class="g gx" d="M410.8 336.4L535.6 274M386.7 316.1L511.5 253.7M362.6 295.8L487.5 233.4M338.6 275.4L463.4 213M314.5 255.1L439.3 192.7M314.5 255.1L439.3 192.7M314.5 232.9L439.3 170.5M314.5 210.8L439.3 148.4M314.5 188.6L439.3 126.2M314.5 166.4L439.3 104.1M314.5 144.3L439.3 81.9M314.5 122.1L439.3 59.7M314.5 100L439.3 37.6M314.5 77.8L439.3 15.4"/><path class="g gy" d="M410.8 336.4L314.5 255.1M442 320.8L345.7 239.5M473.2 305.2L376.9 223.9M504.4 289.6L408.1 208.3M535.6 274L439.3 192.7M535.6 274L439.3 192.7M535.6 251.8L439.3 170.5M535.6 229.7L439.3 148.4M535.6 207.5L439.3 126.2M535.6 185.3L439.3 104.1M535.6 163.2L439.3 81.9M535.6 141L439.3 59.7M535.6 118.9L439.3 37.6M535.6 96.7L439.3 15.4"/>
<g class="s"><path d="M438.4,106.4 439.3,104.1 435.4,106z" fill="#8fff70"/>
<path d="M438.4,106.4 442.3,106.6 439.3,104.1z" fill="#8fff70"/>
<path d="M434.5,106.2 435.4,106 431.5,107.9z" fill="#8fff70"/>
<path d="M434.5,106.2 438.4,106.4 435.4,106z" fill="#8fff70"/>
<path d="M441.4,106.8 445.3,109.1 442.3,106.6z" fill="#8fff70"/>
<path d="M441.4,106.8 442.3,106.6 438.4,106.4z" fill="#8fff70"/>
<path d="M430.6,106.3 431.5,107.9 427.6,109.9z" fill="#8fff70"/>
<path d="M430.6,106.3 434.5,106.2 431.5,107.9z" fill="#9fff60"/>
<path d="M444.4,107.3 448.3,111.7 445.3,109.1z" fill="#8fff70"/>
<path d="M437.5,104.6 438.4,106.4 434.5,106.2z" fill="#afff50"/>
<path d="M444.4,107.3 445.3,109.1 441.4,106.8z" fill="#9fff60"/>
<path d="M437.5,104.6 441.4,106.8 438.4,106.4z" fill="#afff50"/>
<path d="M426.7,106.6 427.6,109.9 423.7,111.8z" fill="#9fff60"/>
<path d="M426.7,106.6 430.6,106.3 427.6,109.9z" fill="#afff50"/>
<path d="M447.4,108 451.3,114.2 448.3,111.7z" fill="#9fff60"/>
<path d="M422.8,107.3 423.7,111.8 419.8,113.8z" fill="#9fff60"/>
<path d="M433.6,102.8 434.5,106.2 430.6,106.3z" fill="#bfff40"/>
<path d="M447.4,108 448.3,111.7 444.4,107.3z" fill="#afff50"/>
<path d="M433.6,102.8 437.5,104.6 434.5,106.2z" fill="#bfff40"/>
<path d="M440.5,103.2 444.4,107.3 441.4,106.8z" fill="#bfff40"/>
<path d="M440.5,103.2 441.4,106.8 437.5,104.6z" fill="#bfff40"/>
<path d="M422.8,107.3 426.7,106.6 423.7,111.8z" fill="#afff50"/>
<path d="M418.9,108.4 419.8,113.8 415.9,115.7z" fill="#9fff60"/>
<path d="M450.4,108.8 454.3,116.8 451.3,114.2z" fill="#9fff60"/>
<path d="M429.7,101.6 430.6,106.3 426.7,106.6z" fill="#cfff30"/>
<path d="M418.9,108.4 422.8,107.3 419.8,113.8z" fill="#afff50"/>
<path d="M450.4,108.8 451.3,114.2 447.4,108z" fill="#afff50"/>
<path d="M429.7,101.6 433.6,102.8 430.6,106.3z" fill="#cfff30"/>
<path d="M415,110 415.9,115.7 412,117.7z" fill="#9fff60"/>
<path d="M443.5,102.1 447.4,108 444.4,107.3z" fill="#cfff30"/>
<path d="M436.6,99.7 437.5,104.6 433.6,102.8z" fill="#dfff20"/>
<path d="M443.5,102.1 444.4,107.3 440.5,103.2z" fill="#dfff20"/>
<path d="M436.6,99.7 440.5,103.2 437.5,104.6z" fill="#dfff20"/>
<path d="M415,110 418.9,108.4 415.9,115.7z" fill="#afff50"/>
<path d="M453.5,109.9 457.4,119.3 454.3,116.8z" fill="#9fff60"/>
<path d="M425.8,101.1 426.7,106.6 422.8,107.3z" fill="#cfff30"/>
<path d="M411.1,111.9 412,117.7 408.1,119.6z" fill="#9fff60"/>
<path d="M453.5,109.9 454.3,116.8 450.4,108.8z" fill="#bfff40"/>
<path d="M425.8,101.1 429.7,101.6 426.7,106.6z" fill="#dfff20"/>
<path d="M411.1,111.9 415,110 412,117.7z" fill="#afff50"/>
<path d="M446.5,101.4 450.4,108.8 447.4,108z" fill="#dfff20"/>
<path d="M432.7,97 433.6,102.8 429.7,101.6z" fill="#ffff00"/>
<path d="M421.9,101.4 422.8,107.3 418.9,108.4z" fill="#dfff20"/>
<path d="M407.2,114.3 408.1,119.6 404.2,121.6z" fill="#9fff60"/>
<path d="M456.5,111.2 460.4,121.8 457.4,119.3z" fill="#9fff60"/>
<path d="M446.5,101.4 447.4,108 443.5,102.1z" fill="#efff10"/>
<path d="M432.7,97 436.6,99.7 433.6,102.8z" fill="#ffff00"/>
<path d="M439.6,97 443.5,102.1 440.5,103.2z" fill="#ffff00"/>
<path d="M439.6,97 440.5,103.2 436.6,99.7z" fill="#ffff00"/>
<path d="M421.9,101.4 425.8,101.1 422.8,107.3z" fill="#efff10"/>
<path d="M456.5,111.2 457.4,119.3 453.5,109.9z" fill="#bfff40"/>
<path d="M407.2,114.3 411.1,111.9 408.1,119.6z" fill="#afff50"/>
<path d="M403.3,117 404.2,121.6 400.3,123.5z" fill="#9fff60"/>
<path d="M418,102.5 418.9,108.4 415,110z" fill="#dfff20"/>
<path d="M428.8,95.4 429.7,101.6 425.8,101.1z" fill="#ffef00"/>
<path d="M459.5,112.7 463.4,124.4 460.4,121.8z" fill="#9fff60"/>
<path d="M449.6,101 453.5,109.9 450.4,108.8z" fill="#efff10"/>
<path d="M403.3,117 407.2,114.3 404.2,121.6z" fill="#afff50"/>
<path d="M418,102.5 421.9,101.4 418.9,108.4z" fill="#ffff00"/>
<path d="M428.8,95.4 432.7,97 429.7,101.6z" fill="#ffdf00"/>
<path d="M449.6,101 450.4,108.8 446.5,101.4z" fill="#ffff00"/>
<path d="M399.4,120 400.3,123.5 396.4,125.5z" fill="#9fff60"/>
<path d="M459.5,112.7 460.4,121.8 456.5,111.2z" fill="#bfff40"/>
<path d="M414.1,104.4 415,110 411.1,111.9z" fill="#dfff20"/>
<path d="M435.7,93 436.6,99.7 432.7,97z" fill="#ffcf00"/>
<path d="M442.6,94.8 446.5,101.4 443.5,102.1z" fill="#ffdf00"/>
<path d="M435.7,93 439.6,97 436.6,99.7z" fill="#ffcf00"/>
<path d="M442.6,94.8 443.5,102.1 439.6,97z" fill="#ffdf00"/>
<path d="M399.4,120 403.3,117 400.3,123.5z" fill="#afff50"/>
<path d="M414.1,104.4 418,102.5 415,110z" fill="#ffff00"/>
<path d="M462.5,114.4 466.4,126.9 463.4,124.4z" fill="#afff50"/>
<path d="M424.9,94.9 425.8,101.1 421.9,101.4z" fill="#ffdf00"/>
<path d="M395.5,123.3 396.4,125.5 392.5,127.4z" fill="#8fff70"/>
<path d="M410.2,107.2 411.1,111.9 407.2,114.3z" fill="#dfff20"/>
<path d="M452.6,101.2 456.5,111.2 453.5,109.9z" fill="#ffff00"/>
<path d="M424.9,94.9 428.8,95.4 425.8,101.1z" fill="#ffcf00"/>
<path d="M395.5,123.3 399.4,120 396.4,125.5z" fill="#afff50"/>
<path d="M462.5,114.4 463.4,124.4 459.5,112.7z" fill="#cfff30"/>
<path d="M452.6,101.2 453.5,109.9 449.6,101z" fill="#ffef00"/>
<path d="M410.2,107.2 414.1,104.4 411.1,111.9z" fill="#ffff00"/>
<path d="M391.6,126.8 392.5,127.4 388.6,129.4z" fill="#8fff70"/>
<path d="M406.3,110.7 407.2,114.3 403.3,117z" fill="#dfff20"/>
<path d="M421,95.6 421.9,101.4 418,102.5z" fill="#ffcf00"/>
<path d="M431.8,90.3 432.7,97 428.8,95.4z" fill="#ffbf00"/>
<path d="M465.5,116.4 469.4,129.5 466.4,126.9z" fill="#afff50"/>
<path d="M391.6,126.8 395.5,123.3 392.5,127.4z" fill="#9fff60"/>
<path d="M445.7,93.3 449.6,101 446.5,101.4z" fill="#ffcf00"/>
<path d="M431.8,90.3 435.7,93 432.7,97z" fill="#ffaf00"/>
<path d="M445.7,93.3 446.5,101.4 442.6,94.8z" fill="#ffbf00"/>
<path d="M406.3,110.7 410.2,107.2 407.2,114.3z" fill="#efff10"/>
<path d="M421,95.6 424.9,94.9 421.9,101.4z" fill="#ffbf00"/>
<path d="M402.4,114.8 403.3,117 399.4,120z" fill="#cfff30"/>
<path d="M438.7,89.6 439.6,97 435.7,93z" fill="#ffaf00"/>
<path d="M387.7,130.5 388.6,129.4 384.7,131.4z" fill="#8fff70"/>
<path d="M438.7,89.6 442.6,94.8 439.6,97z" fill="#ffaf00"/>
<path d="M455.6,101.7 459.5,112.7 456.5,111.2z" fill="#ffff00"/>
<path d="M465.5,116.4 466.4,126.9 462.5,114.4z" fill="#cfff30"/>
<path d="M387.7,130.5 391.6,126.8 388.6,129.4z" fill="#9fff60"/>
<path d="M417.1,97.5 418,102.5 414.1,104.4z" fill="#ffcf00"/>
<path d="M455.6,101.7 456.5,111.2 452.6,101.2z" fill="#ffdf00"/>
<path d="M402.4,114.8 406.3,110.7 403.3,117z" fill="#efff10"/>
<path d="M398.5,119.4 399.4,120 395.5,123.3z" fill="#cfff30"/>
<path d="M468.5,118.5 472.4,132 469.4,129.5z" fill="#afff50"/>
<path d="M383.8,134.2 384.7,131.4 380.8,133.3z" fill="#8fff70"/>
<path d="M427.9,89.1 428.8,95.4 424.9,94.9z" fill="#ff9f00"/>
<path d="M417.1,97.5 421,95.6 418,102.5z" fill="#ffbf00"/>
<path d="M383.8,134.2 387.7,130.5 384.7,131.4z" fill="#8fff70"/>
<path d="M413.2,100.7 414.1,104.4 410.2,107.2z" fill="#ffdf00"/>
<path d="M398.5,119.4 402.4,114.8 399.4,120z" fill="#dfff20"/>
<path d="M427.9,89.1 431.8,90.3 428.8,95.4z" fill="#ff9f00"/>
<path d="M394.6,124.4 395.5,123.3 391.6,126.8z" fill="#bfff40"/>
<path d="M448.7,92.3 452.6,101.2 449.6,101z" fill="#ffbf00"/>
<path d="M458.6,102.7 462.5,114.4 459.5,112.7z" fill="#ffef00"/>
<path d="M468.5,118.5 469.4,129.5 465.5,116.4z" fill="#cfff30"/>
<path d="M448.7,92.3 449.6,101 445.7,93.3z" fill="#ffaf00"/>
<path d="M379.9,137.9 380.8,133.3 376.9,135.2z" fill="#80ff80"/>
<path d="M434.8,86 435.7,93 431.8,90.3z" fill="#ff8f00"/>
<path d="M394.6,124.4 398.5,119.4 395.5,123.3z" fill="#cfff30"/>
<path d="M390.7,129.7 391.6,126.8 387.7,130.5z" fill="#afff50"/>
<path d="M413.2,100.7 417.1,97.5 414.1,104.4z" fill="#ffbf00"/>
<path d="M379.9,137.9 383.8,134.2 380.8,133.3z" fill="#8fff70"/>
<path d="M409.3,104.9 410.2,107.2 406.3,110.7z" fill="#ffdf00"/>
<path d="M434.8,86 438.7,89.6 435.7,93z" fill="#ff8000"/>
<path d="M441.8,87 445.7,93.3 442.6,94.8z" fill="#ff8f00"/>
<path d="M458.6,102.7 459.5,112.7 455.6,101.7z" fill="#ffdf00"/>
<path d="M471.5,120.7 475.4,134.5 472.4,132z" fill="#afff50"/>
<path d="M441.8,87 442.6,94.8 438.7,89.6z" fill="#ff8f00"/>
<path d="M424,89.4 424.9,94.9 421,95.6z" fill="#ff9f00"/>
<path d="M390.7,129.7 394.6,124.4 391.6,126.8z" fill="#bfff40"/>
<path d="M386.8,135.1 387.7,130.5 383.8,134.2z" fill="#9fff60"/>
<path d="M405.4,110 406.3,110.7 402.4,114.8z" fill="#ffef00"/>
<path d="M376,141.5 376.9,135.2 373,137.2z" fill="#80ff80"/>
<path d="M424,89.4 427.9,89.1 424.9,94.9z" fill="#ff8f00"/>
<path d="M409.3,104.9 413.2,100.7 410.2,107.2z" fill="#ffcf00"/>
<path d="M376,141.5 379.9,137.9 376.9,135.2z" fill="#80ff80"/>
<path d="M471.5,120.7 472.4,132 468.5,118.5z" fill="#cfff30"/>
<path d="M386.8,135.1 390.7,129.7 387.7,130.5z" fill="#9fff60"/>
<path d="M461.6,104 465.5,116.4 462.5,114.4z" fill="#ffef00"/>
<path d="M451.7,92 455.6,101.7 452.6,101.2z" fill="#ffaf00"/>
<path d="M401.5,115.9 402.4,114.8 398.5,119.4z" fill="#efff10"/>
<path d="M382.9,140.5 383.8,134.2 379.9,137.9z" fill="#8fff70"/>
<path d="M420.1,91.4 421,95.6 417.1,97.5z" fill="#ff8f00"/>
<path d="M405.4,110 409.3,104.9 406.3,110.7z" fill="#ffdf00"/>
<path d="M474.5,123.1 478.4,137.1 475.4,134.5z" fill="#afff50"/>
<path d="M382.9,140.5 386.8,135.1 383.8,134.2z" fill="#8fff70"/>
<path d="M451.7,92 452.6,101.2 448.7,92.3z" fill="#ff8f00"/>
<path d="M430.9,84.1 431.8,90.3 427.9,89.1z" fill="#ff7000"/>
<path d="M397.6,122.3 398.5,119.4 394.6,124.4z" fill="#dfff20"/>
<path d="M372.1,145.1 376,141.5 373,137.2z" fill="#80ff80"/>
<path d="M372.1,145.1 373,137.2 369.1,139.1z" fill="#80ff80"/>
<path d="M461.6,104 462.5,114.4 458.6,102.7z" fill="#ffcf00"/>
<path d="M379,145.9 379.9,137.9 376,141.5z" fill="#80ff80"/>
<path d="M401.5,115.9 405.4,110 402.4,114.8z" fill="#ffef00"/>
<path d="M430.9,84.1 434.8,86 431.8,90.3z" fill="#ff6000"/>
<path d="M420.1,91.4 424,89.4 421,95.6z" fill="#ff8000"/>
<path d="M393.7,129.2 394.6,124.4 390.7,129.7z" fill="#bfff40"/>
<path d="M379,145.9 382.9,140.5 379.9,137.9z" fill="#80ff80"/>
<path d="M444.8,85.2 448.7,92.3 445.7,93.3z" fill="#ff7000"/>
<path d="M416.2,94.9 417.1,97.5 413.2,100.7z" fill="#ff9f00"/>
<path d="M397.6,122.3 401.5,115.9 398.5,119.4z" fill="#efff10"/>
<path d="M389.8,136.2 390.7,129.7 386.8,135.1z" fill="#afff50"/>
<path d="M474.5,123.1 475.4,134.5 471.5,120.7z" fill="#cfff30"/>
<path d="M444.8,85.2 445.7,93.3 441.8,87z" fill="#ff7000"/>
<path d="M437.9,82.5 438.7,89.6 434.8,86z" fill="#ff6000"/>
<path d="M437.9,82.5 441.8,87 438.7,89.6z" fill="#ff6000"/>
<path d="M464.6,105.7 468.5,118.5 465.5,116.4z" fill="#ffef00"/>
<path d="M375.1,151 376,141.5 372.1,145.1z" fill="#70ff8f"/>
<path d="M368.2,148.5 372.1,145.1 369.1,139.1z" fill="#70ff8f"/>
<path d="M393.7,129.2 397.6,122.3 394.6,124.4z" fill="#cfff30"/>
<path d="M375.1,151 379,145.9 376,141.5z" fill="#70ff8f"/>
<path d="M368.2,148.5 369.1,139.1 365.2,141.1z" fill="#80ff80"/>
<path d="M385.9,143.3 386.8,135.1 382.9,140.5z" fill="#8fff70"/>
<path d="M389.8,136.2 393.7,129.2 390.7,129.7z" fill="#bfff40"/>
<path d="M454.7,92.3 458.6,102.7 455.6,101.7z" fill="#ff9f00"/>
<path d="M477.5,125.5 481.4,139.6 478.4,137.1z" fill="#afff50"/>
<path d="M412.3,99.8 413.2,100.7 409.3,104.9z" fill="#ffaf00"/>
<path d="M416.2,94.9 420.1,91.4 417.1,97.5z" fill="#ff8000"/>
<path d="M382,150.2 382.9,140.5 379,145.9z" fill="#70ff8f"/>
<path d="M385.9,143.3 389.8,136.2 386.8,135.1z" fill="#9fff60"/>
<path d="M427,84.2 427.9,89.1 424,89.4z" fill="#ff6000"/>
<path d="M371.2,155.9 375.1,151 372.1,145.1z" fill="#60ff9f"/>
<path d="M371.2,155.9 372.1,145.1 368.2,148.5z" fill="#60ff9f"/>
<path d="M464.6,105.7 465.5,116.4 461.6,104z" fill="#ffcf00"/>
<path d="M382,150.2 385.9,143.3 382.9,140.5z" fill="#80ff80"/>
<path d="M454.7,92.3 455.6,101.7 451.7,92z" fill="#ff8000"/>
<path d="M408.4,105.9 409.3,104.9 405.4,110z" fill="#ffbf00"/>
<path d="M378.1,156.8 379,145.9 375.1,151z" fill="#60ff9f"/>
<path d="M364.3,151.8 368.2,148.5 365.2,141.1z" fill="#70ff8f"/>
<path d="M427,84.2 430.9,84.1 427.9,89.1z" fill="#ff5000"/>
<path d="M378.1,156.8 382,150.2 379,145.9z" fill="#60ff9f"/>
<path d="M364.3,151.8 365.2,141.1 361.3,143.1z" fill="#80ff80"/>
<path d="M412.3,99.8 416.2,94.9 413.2,100.7z" fill="#ff8f00"/>
<path d="M404.5,112.9 405.4,110 401.5,115.9z" fill="#ffdf00"/>
<path d="M477.5,125.5 478.4,137.1 474.5,123.1z" fill="#cfff30"/>
<path d="M374.2,163.1 375.1,151 371.2,155.9z" fill="#40ffbf"/>
<path d="M367.3,160.4 371.2,155.9 368.2,148.5z" fill="#50ffaf"/>
<path d="M400.6,120.7 401.5,115.9 397.6,122.3z" fill="#ffff00"/>
<path d="M374.2,163.1 378.1,156.8 375.1,151z" fill="#40ffbf"/>
<path d="M467.6,107.7 471.5,120.7 468.5,118.5z" fill="#ffef00"/>
<path d="M367.3,160.4 368.2,148.5 364.3,151.8z" fill="#50ffaf"/>
<path d="M396.7,129 397.6,122.3 393.7,129.2z" fill="#dfff20"/>
<path d="M392.8,137.5 393.7,129.2 389.8,136.2z" fill="#afff50"/>
<path d="M388.9,146.1 389.8,136.2 385.9,143.3z" fill="#8fff70"/>
<path d="M408.4,105.9 412.3,99.8 409.3,104.9z" fill="#ffaf00"/>
<path d="M447.8,84.2 451.7,92 448.7,92.3z" fill="#ff6000"/>
<path d="M385,154.5 385.9,143.3 382,150.2z" fill="#70ff8f"/>
<path d="M423.1,86.3 424,89.4 420.1,91.4z" fill="#ff6000"/>
<path d="M434,80.2 434.8,86 430.9,84.1z" fill="#ff4000"/>
<path d="M480.5,128.1 484.4,142.2 481.4,139.6z" fill="#afff50"/>
<path d="M381.1,162.5 382,150.2 378.1,156.8z" fill="#40ffbf"/>
<path d="M370.3,168.7 374.2,163.1 371.2,155.9z" fill="#20ffdf"/>
<path d="M370.3,168.7 371.2,155.9 367.3,160.4z" fill="#30ffcf"/>
<path d="M360.4,154.8 364.3,151.8 361.3,143.1z" fill="#70ff8f"/>
<path d="M447.8,84.2 448.7,92.3 444.8,85.2z" fill="#ff5000"/>
<path d="M404.5,112.9 408.4,105.9 405.4,110z" fill="#ffbf00"/>
<path d="M377.2,170 378.1,156.8 374.2,163.1z" fill="#20ffdf"/>
<path d="M434,80.2 437.9,82.5 434.8,86z" fill="#ff4000"/>
<path d="M457.7,93.2 461.6,104 458.6,102.7z" fill="#ff8f00"/>
<path d="M363.4,164.4 367.3,160.4 364.3,151.8z" fill="#40ffbf"/>
<path d="M385,154.5 388.9,146.1 385.9,143.3z" fill="#70ff8f"/>
<path d="M381.1,162.5 385,154.5 382,150.2z" fill="#50ffaf"/>
<path d="M388.9,146.1 392.8,137.5 389.8,136.2z" fill="#9fff60"/>
<path d="M360.4,154.8 361.3,143.1 357.4,145z" fill="#70ff8f"/>
<path d="M400.6,120.7 404.5,112.9 401.5,115.9z" fill="#ffdf00"/>
<path d="M377.2,170 381.1,162.5 378.1,156.8z" fill="#20ffdf"/>
<path d="M392.8,137.5 396.7,129 393.7,129.2z" fill="#cfff30"/>
<path d="M396.7,129 400.6,120.7 397.6,122.3z" fill="#efff10"/>
<path d="M440.9,80.1 444.8,85.2 441.8,87z" fill="#ff4000"/>
<path d="M467.6,107.7 468.5,118.5 464.6,105.7z" fill="#ffbf00"/>
<path d="M440.9,80.1 441.8,87 437.9,82.5z" fill="#ff4000"/>
<path d="M373.3,176.8 374.2,163.1 370.3,168.7z" fill="#00ffff"/>
<path d="M363.4,164.4 364.3,151.8 360.4,154.8z" fill="#50ffaf"/>
<path d="M423.1,86.3 427,84.2 424,89.4z" fill="#ff5000"/>
<path d="M366.4,173.7 370.3,168.7 367.3,160.4z" fill="#10ffef"/>
<path d="M373.3,176.8 377.2,170 374.2,163.1z" fill="#00ffff"/>
<path d="M366.4,173.7 367.3,160.4 363.4,164.4z" fill="#20ffdf"/>
<path d="M419.2,90.1 420.1,91.4 416.2,94.9z" fill="#ff6000"/>
<path d="M457.7,93.2 458.6,102.7 454.7,92.3z" fill="#ff8000"/>
<path d="M369.4,182.7 373.3,176.8 370.3,168.7z" fill="#00efff"/>
<path d="M480.5,128.1 481.4,139.6 477.5,125.5z" fill="#cfff30"/>
<path d="M380.2,176.6 381.1,162.5 377.2,170z" fill="#10ffef"/>
<path d="M369.4,182.7 370.3,168.7 366.4,173.7z" fill="#00efff"/>
<path d="M384.1,168 385,154.5 381.1,162.5z" fill="#30ffcf"/>
<path d="M376.3,184.4 377.2,170 373.3,176.8z" fill="#00dfff"/>
<path d="M356.5,157.5 360.4,154.8 357.4,145z" fill="#60ff9f"/>
<path d="M388,158.7 388.9,146.1 385,154.5z" fill="#60ff9f"/>
<path d="M359.5,167.9 363.4,164.4 360.4,154.8z" fill="#30ffcf"/>
<path d="M376.3,184.4 380.2,176.6 377.2,170z" fill="#00dfff"/>
<path d="M470.6,109.9 474.5,123.1 471.5,120.7z" fill="#ffdf00"/>
<path d="M380.2,176.6 384.1,168 381.1,162.5z" fill="#10ffef"/>
<path d="M362.5,178 366.4,173.7 363.4,164.4z" fill="#00ffff"/>
<path d="M372.4,191.2 373.3,176.8 369.4,182.7z" fill="#00bfff"/>
<path d="M372.4,191.2 376.3,184.4 373.3,176.8z" fill="#00bfff"/>
<path d="M391.9,149 392.8,137.5 388.9,146.1z" fill="#8fff70"/>
<path d="M365.5,187.7 369.4,182.7 366.4,173.7z" fill="#00cfff"/>
<path d="M384.1,168 388,158.7 385,154.5z" fill="#40ffbf"/>
<path d="M359.5,167.9 360.4,154.8 356.5,157.5z" fill="#40ffbf"/>
<path d="M356.5,157.5 357.4,145 353.5,146.9z" fill="#70ff8f"/>
<path d="M362.5,178 363.4,164.4 359.5,167.9z" fill="#10ffef"/>
<path d="M483.6,130.7 487.5,144.7 484.4,142.2z" fill="#afff50"/>
<path d="M415.3,95.6 416.2,94.9 412.3,99.8z" fill="#ff7000"/>
<path d="M365.5,187.7 366.4,173.7 362.5,178z" fill="#00dfff"/>
<path d="M419.2,90.1 423.1,86.3 420.1,91.4z" fill="#ff5000"/>
<path d="M395.8,139 396.7,129 392.8,137.5z" fill="#bfff40"/>
<path d="M379.4,191.5 380.2,176.6 376.3,184.4z" fill="#00bfff"/>
<path d="M430.1,80.1 430.9,84.1 427,84.2z" fill="#ff3000"/>
<path d="M368.5,196.8 372.4,191.2 369.4,182.7z" fill="#009fff"/>
<path d="M388,158.7 391.9,149 388.9,146.1z" fill="#70ff8f"/>
<path d="M375.5,199.1 376.3,184.4 372.4,191.2z" fill="#009fff"/>
<path d="M368.5,196.8 369.4,182.7 365.5,187.7z" fill="#00afff"/>
<path d="M383.3,182.8 384.1,168 380.2,176.6z" fill="#00efff"/>
<path d="M399.7,129.2 400.6,120.7 396.7,129z" fill="#efff10"/>
<path d="M375.5,199.1 379.4,191.5 376.3,184.4z" fill="#009fff"/>
<path d="M411.4,102.5 412.3,99.8 408.4,105.9z" fill="#ff8f00"/>
<path d="M379.4,191.5 383.3,182.8 380.2,176.6z" fill="#00cfff"/>
<path d="M450.8,83.9 454.7,92.3 451.7,92z" fill="#ff5000"/>
<path d="M403.6,119.6 404.5,112.9 400.6,120.7z" fill="#ffdf00"/>
<path d="M391.9,149 395.8,139 392.8,137.5z" fill="#9fff60"/>
<path d="M460.7,94.5 464.6,105.7 461.6,104z" fill="#ff8f00"/>
<path d="M407.5,110.6 408.4,105.9 404.5,112.9z" fill="#ffaf00"/>
<path d="M371.6,205.3 372.4,191.2 368.5,196.8z" fill="#0080ff"/>
<path d="M387.2,173.1 388,158.7 384.1,168z" fill="#20ffdf"/>
<path d="M371.6,205.3 375.5,199.1 372.4,191.2z" fill="#0080ff"/>
<path d="M358.6,181.4 362.5,178 359.5,167.9z" fill="#00efff"/>
<path d="M430.1,80.1 434,80.2 430.9,84.1z" fill="#ff2000"/>
<path d="M470.6,109.9 471.5,120.7 467.6,107.7z" fill="#ffbf00"/>
<path d="M361.6,191.5 365.5,187.7 362.5,178z" fill="#00bfff"/>
<path d="M355.6,170.8 359.5,167.9 356.5,157.5z" fill="#30ffcf"/>
<path d="M383.3,182.8 387.2,173.1 384.1,168z" fill="#00ffff"/>
<path d="M352.6,159.9 356.5,157.5 353.5,146.9z" fill="#60ff9f"/>
<path d="M364.6,201.1 368.5,196.8 365.5,187.7z" fill="#008fff"/>
<path d="M378.5,206.3 379.4,191.5 375.5,199.1z" fill="#0080ff"/>
<path d="M450.8,83.9 451.7,92 447.8,84.2z" fill="#ff4000"/>
<path d="M415.3,95.6 419.2,90.1 416.2,94.9z" fill="#ff6000"/>
<path d="M395.8,139 399.7,129.2 396.7,129z" fill="#cfff30"/>
<path d="M382.4,198.1 383.3,182.8 379.4,191.5z" fill="#009fff"/>
<path d="M361.6,191.5 362.5,178 358.6,181.4z" fill="#00cfff"/>
<path d="M358.6,181.4 359.5,167.9 355.6,170.8z" fill="#00ffff"/>
<path d="M364.6,201.1 365.5,187.7 361.6,191.5z" fill="#009fff"/>
<path d="M391.1,162.8 391.9,149 388,158.7z" fill="#60ff9f"/>
<path d="M483.6,130.7 484.4,142.2 480.5,128.1z" fill="#cfff30"/>
<path d="M374.6,213.1 375.5,199.1 371.6,205.3z" fill="#0060ff"/>
<path d="M355.6,170.8 356.5,157.5 352.6,159.9z" fill="#40ffbf"/>
<path d="M378.5,206.3 382.4,198.1 379.4,191.5z" fill="#0080ff"/>
<path d="M367.7,210 371.6,205.3 368.5,196.8z" fill="#0060ff"/>
<path d="M387.2,173.1 391.1,162.8 388,158.7z" fill="#30ffcf"/>
<path d="M374.6,213.1 378.5,206.3 375.5,199.1z" fill="#0060ff"/>
<path d="M352.6,159.9 353.5,146.9 349.6,148.9z" fill="#70ff8f"/>
<path d="M399.7,129.2 403.6,119.6 400.6,120.7z" fill="#ffef00"/>
<path d="M367.7,210 368.5,196.8 364.6,201.1z" fill="#0070ff"/>
<path d="M386.3,188.6 387.2,173.1 383.3,182.8z" fill="#00dfff"/>
<path d="M437,77.3 437.9,82.5 434,80.2z" fill="#ff1000"/>
<path d="M460.7,94.5 461.6,104 457.7,93.2z" fill="#ff7000"/>
<path d="M382.4,198.1 386.3,188.6 383.3,182.8z" fill="#00afff"/>
<path d="M411.4,102.5 415.3,95.6 412.3,99.8z" fill="#ff8000"/>
<path d="M473.6,112.3 477.5,125.5 474.5,123.1z" fill="#ffdf00"/>
<path d="M443.9,78.5 447.8,84.2 444.8,85.2z" fill="#ff2000"/>
<path d="M403.6,119.6 407.5,110.6 404.5,112.9z" fill="#ffbf00"/>
<path d="M437,77.3 440.9,80.1 437.9,82.5z" fill="#ff1000"/>
<path d="M407.5,110.6 411.4,102.5 408.4,105.9z" fill="#ff9f00"/>
<path d="M370.7,218.2 374.6,213.1 371.6,205.3z" fill="#0040ff"/>
<path d="M443.9,78.5 444.8,85.2 440.9,80.1z" fill="#ff2000"/>
<path d="M395,151.9 395.8,139 391.9,149z" fill="#8fff70"/>
<path d="M426.2,82.2 427,84.2 423.1,86.3z" fill="#ff3000"/>
<path d="M381.5,212.8 382.4,198.1 378.5,206.3z" fill="#0060ff"/>
<path d="M370.7,218.2 371.6,205.3 367.7,210z" fill="#0040ff"/>
<path d="M357.7,194.2 361.6,191.5 358.6,181.4z" fill="#00afff"/>
<path d="M486.6,133.4 490.5,147.2 487.5,144.7z" fill="#afff50"/>
<path d="M377.6,220.1 378.5,206.3 374.6,213.1z" fill="#0040ff"/>
<path d="M354.7,183.9 358.6,181.4 355.6,170.8z" fill="#00efff"/>
<path d="M391.1,162.8 395,151.9 391.9,149z" fill="#70ff8f"/>
<path d="M360.7,204 364.6,201.1 361.6,191.5z" fill="#0080ff"/>
<path d="M386.3,188.6 390.2,178 387.2,173.1z" fill="#00dfff"/>
<path d="M390.2,178 391.1,162.8 387.2,173.1z" fill="#10ffef"/>
<path d="M351.7,173.1 355.6,170.8 352.6,159.9z" fill="#20ffdf"/>
<path d="M385.4,204 386.3,188.6 382.4,198.1z" fill="#008fff"/>
<path d="M377.6,220.1 381.5,212.8 378.5,206.3z" fill="#0040ff"/>
<path d="M363.8,213.1 367.7,210 364.6,201.1z" fill="#0050ff"/>
<path d="M381.5,212.8 385.4,204 382.4,198.1z" fill="#0060ff"/>
<path d="M348.7,162.1 352.6,159.9 349.6,148.9z" fill="#60ff9f"/>
<path d="M357.7,194.2 358.6,181.4 354.7,183.9z" fill="#00bfff"/>
<path d="M360.7,204 361.6,191.5 357.7,194.2z" fill="#008fff"/>
<path d="M398.9,140.8 399.7,129.2 395.8,139z" fill="#cfff30"/>
<path d="M373.7,225.5 374.6,213.1 370.7,218.2z" fill="#0020ff"/>
<path d="M354.7,183.9 355.6,170.8 351.7,173.1z" fill="#00ffff"/>
<path d="M373.7,225.5 377.6,220.1 374.6,213.1z" fill="#0020ff"/>
<path d="M363.8,213.1 364.6,201.1 360.7,204z" fill="#0060ff"/>
<path d="M426.2,82.2 430.1,80.1 427,84.2z" fill="#ff2000"/>
<path d="M351.7,173.1 352.6,159.9 348.7,162.1z" fill="#40ffbf"/>
<path d="M366.8,221.4 370.7,218.2 367.7,210z" fill="#0030ff"/>
<path d="M385.4,204 389.3,193.8 386.3,188.6z" fill="#009fff"/>
<path d="M395,151.9 398.9,140.8 395.8,139z" fill="#9fff60"/>
<path d="M389.3,193.8 390.2,178 386.3,188.6z" fill="#00bfff"/>
<path d="M473.6,112.3 474.5,123.1 470.6,109.9z" fill="#ffbf00"/>
<path d="M463.7,96.2 467.6,107.7 464.6,105.7z" fill="#ff8000"/>
<path d="M390.2,178 394.1,166.7 391.1,162.8z" fill="#20ffdf"/>
<path d="M380.6,226.3 381.5,212.8 377.6,220.1z" fill="#0020ff"/>
<path d="M394.1,166.7 395,151.9 391.1,162.8z" fill="#50ffaf"/>
<path d="M384.5,218.6 385.4,204 381.5,212.8z" fill="#0040ff"/>
<path d="M348.7,162.1 349.6,148.9 345.7,150.9z" fill="#70ff8f"/>
<path d="M366.8,221.4 367.7,210 363.8,213.1z" fill="#0030ff"/>
<path d="M422.3,86.3 423.1,86.3 419.2,90.1z" fill="#ff3000"/>
<path d="M453.8,84.3 457.7,93.2 454.7,92.3z" fill="#ff4000"/>
<path d="M402.8,129.8 403.6,119.6 399.7,129.2z" fill="#ffff00"/>
<path d="M486.6,133.4 487.5,144.7 483.6,130.7z" fill="#cfff30"/>
<path d="M380.6,226.3 384.5,218.6 381.5,212.8z" fill="#0020ff"/>
<path d="M376.7,232.1 377.6,220.1 373.7,225.5z" fill="#0000ff"/>
<path d="M369.8,229 373.7,225.5 370.7,218.2z" fill="#0010ff"/>
<path d="M388.4,209.3 389.3,193.8 385.4,204z" fill="#0080ff"/>
<path d="M353.8,195.7 357.7,194.2 354.7,183.9z" fill="#00afff"/>
<path d="M384.5,218.6 388.4,209.3 385.4,204z" fill="#0050ff"/>
<path d="M356.8,205.3 360.7,204 357.7,194.2z" fill="#0080ff"/>
<path d="M376.7,232.1 380.6,226.3 377.6,220.1z" fill="#0000ff"/>
<path d="M350.8,185.4 354.7,183.9 351.7,173.1z" fill="#00efff"/>
<path d="M389.3,193.8 393.2,182.5 390.2,178z" fill="#00cfff"/>
<path d="M398.9,140.8 402.8,129.8 399.7,129.2z" fill="#dfff20"/>
<path d="M369.8,229 370.7,218.2 366.8,221.4z" fill="#0010ff"/>
<path d="M393.2,182.5 394.1,166.7 390.2,178z" fill="#00ffff"/>
<path d="M406.7,119.1 407.5,110.6 403.6,119.6z" fill="#ffbf00"/>
<path d="M453.8,84.3 454.7,92.3 450.8,83.9z" fill="#ff3000"/>
<path d="M476.6,114.8 480.5,128.1 477.5,125.5z" fill="#ffdf00"/>
<path d="M347.8,174.8 351.7,173.1 348.7,162.1z" fill="#20ffdf"/>
<path d="M359.9,214.4 363.8,213.1 360.7,204z" fill="#0050ff"/>
<path d="M418.4,92.4 419.2,90.1 415.3,95.6z" fill="#ff5000"/>
<path d="M463.7,96.2 464.6,105.7 460.7,94.5z" fill="#ff6000"/>
<path d="M394.1,166.7 398,154.9 395,151.9z" fill="#60ff9f"/>
<path d="M433.1,77 434,80.2 430.1,80.1z" fill="#ff0000"/>
<path d="M398,154.9 398.9,140.8 395,151.9z" fill="#8fff70"/>
<path d="M344.8,163.9 348.7,162.1 345.7,150.9z" fill="#60ff9f"/>
<path d="M422.3,86.3 426.2,82.2 423.1,86.3z" fill="#ff2000"/>
<path d="M489.6,136.2 493.5,149.8 490.5,147.2z" fill="#afff50"/>
<path d="M410.6,109.1 411.4,102.5 407.5,110.6z" fill="#ff8f00"/>
<path d="M353.8,195.7 354.7,183.9 350.8,185.4z" fill="#00bfff"/>
<path d="M356.8,205.3 357.7,194.2 353.8,195.7z" fill="#008fff"/>
<path d="M414.5,100.1 415.3,95.6 411.4,102.5z" fill="#ff7000"/>
<path d="M383.6,231.8 384.5,218.6 380.6,226.3z" fill="#0000ff"/>
<path d="M350.8,185.4 351.7,173.1 347.8,174.8z" fill="#00ffff"/>
<path d="M388.4,209.3 392.3,198.5 389.3,193.8z" fill="#008fff"/>
<path d="M362.9,222.7 366.8,221.4 363.8,213.1z" fill="#0030ff"/>
<path d="M392.3,198.5 393.2,182.5 389.3,193.8z" fill="#00bfff"/>
<path d="M359.9,214.4 360.7,204 356.8,205.3z" fill="#0060ff"/>
<path d="M387.5,223.7 388.4,209.3 384.5,218.6z" fill="#0030ff"/>
<path d="M402.8,129.8 406.7,119.1 403.6,119.6z" fill="#ffdf00"/>
<path d="M372.8,235.7 376.7,232.1 373.7,225.5z" fill="#0000ef"/>
<path d="M347.8,174.8 348.7,162.1 344.8,163.9z" fill="#40ffbf"/>
<path d="M433.1,77 437,77.3 434,80.2z" fill="#ff0000"/>
<path d="M372.8,235.7 373.7,225.5 369.8,229z" fill="#0000ef"/>
<path d="M379.7,237.9 380.6,226.3 376.7,232.1z" fill="#0000df"/>
<path d="M383.6,231.8 387.5,223.7 384.5,218.6z" fill="#0010ff"/>
<path d="M393.2,182.5 397.1,170.4 394.1,166.7z" fill="#20ffdf"/>
<path d="M344.8,163.9 345.7,150.9 341.8,152.8z" fill="#70ff8f"/>
<path d="M446.9,77.9 450.8,83.9 447.8,84.2z" fill="#ff1000"/>
<path d="M362.9,222.7 363.8,213.1 359.9,214.4z" fill="#0040ff"/>
<path d="M379.7,237.9 383.6,231.8 380.6,226.3z" fill="#0000ef"/>
<path d="M397.1,170.4 398,154.9 394.1,166.7z" fill="#50ffaf"/>
<path d="M365.9,230.3 369.8,229 366.8,221.4z" fill="#0000ff"/>
<path d="M418.4,92.4 422.3,86.3 419.2,90.1z" fill="#ff3000"/>
<path d="M406.7,119.1 410.6,109.1 407.5,110.6z" fill="#ffaf00"/>
<path d="M391.4,213.9 392.3,198.5 388.4,209.3z" fill="#0070ff"/>
<path d="M446.9,77.9 447.8,84.2 443.9,78.5z" fill="#ff0000"/>
<path d="M401.9,142.8 402.8,129.8 398.9,140.8z" fill="#cfff30"/>
<path d="M387.5,223.7 391.4,213.9 388.4,209.3z" fill="#0040ff"/>
<path d="M476.6,114.8 477.5,125.5 473.6,112.3z" fill="#ffbf00"/>
<path d="M440,75.4 440.9,80.1 437,77.3z" fill="#ef0000"/>
<path d="M398,154.9 401.9,142.8 398.9,140.8z" fill="#afff50"/>
<path d="M440,75.4 443.9,78.5 440.9,80.1z" fill="#ef0000"/>
<path d="M466.7,98.2 470.6,109.9 467.6,107.7z" fill="#ff8000"/>
<path d="M392.3,198.5 396.2,186.6 393.2,182.5z" fill="#00cfff"/>
<path d="M365.9,230.3 366.8,221.4 362.9,222.7z" fill="#0010ff"/>
<path d="M410.6,109.1 414.5,100.1 411.4,102.5z" fill="#ff8000"/>
<path d="M414.5,100.1 418.4,92.4 415.3,95.6z" fill="#ff5000"/>
<path d="M489.6,136.2 490.5,147.2 486.6,133.4z" fill="#cfff30"/>
<path d="M349.9,195.9 353.8,195.7 350.8,185.4z" fill="#00bfff"/>
<path d="M346.9,186 350.8,185.4 347.8,174.8z" fill="#00efff"/>
<path d="M396.2,186.6 397.1,170.4 393.2,182.5z" fill="#00ffff"/>
<path d="M375.8,241.7 376.7,232.1 372.8,235.7z" fill="#0000cf"/>
<path d="M352.9,205.2 356.8,205.3 353.8,195.7z" fill="#008fff"/>
<path d="M375.8,241.7 379.7,237.9 376.7,232.1z" fill="#0000cf"/>
<path d="M343.9,175.8 347.8,174.8 344.8,163.9z" fill="#30ffcf"/>
<path d="M386.6,236.5 387.5,223.7 383.6,231.8z" fill="#0000ef"/>
<path d="M456.8,85.3 460.7,94.5 457.7,93.2z" fill="#ff3000"/>
<path d="M340.9,165.4 344.8,163.9 341.8,152.8z" fill="#60ff9f"/>
<path d="M429.2,79.1 430.1,80.1 426.2,82.2z" fill="#ff0000"/>
<path d="M368.9,237.1 372.8,235.7 369.8,229z" fill="#0000df"/>
<path d="M356,213.9 359.9,214.4 356.8,205.3z" fill="#0060ff"/>
<path d="M391.4,213.9 395.3,202.7 392.3,198.5z" fill="#0080ff"/>
<path d="M382.7,242.9 383.6,231.8 379.7,237.9z" fill="#0000cf"/>
<path d="M479.6,117.5 483.6,130.7 480.5,128.1z" fill="#ffdf00"/>
<path d="M390.5,228.1 391.4,213.9 387.5,223.7z" fill="#0020ff"/>
<path d="M397.1,170.4 401,157.8 398,154.9z" fill="#60ff9f"/>
<path d="M405.8,130.8 406.7,119.1 402.8,129.8z" fill="#ffef00"/>
<path d="M395.3,202.7 396.2,186.6 392.3,198.5z" fill="#00afff"/>
<path d="M368.9,237.1 369.8,229 365.9,230.3z" fill="#0000ef"/>
<path d="M349.9,195.9 350.8,185.4 346.9,186z" fill="#00cfff"/>
<path d="M401,157.8 401.9,142.8 398,154.9z" fill="#8fff70"/>
<path d="M346.9,186 347.8,174.8 343.9,175.8z" fill="#00ffff"/>
<path d="M401.9,142.8 405.8,130.8 402.8,129.8z" fill="#efff10"/>
<path d="M386.6,236.5 390.5,228.1 387.5,223.7z" fill="#0000ff"/>
<path d="M492.6,139.1 496.5,152.3 493.5,149.8z" fill="#afff50"/>
<path d="M352.9,205.2 353.8,195.7 349.9,195.9z" fill="#009fff"/>
<path d="M343.9,175.8 344.8,163.9 340.9,165.4z" fill="#40ffbf"/>
<path d="M382.7,242.9 386.6,236.5 383.6,231.8z" fill="#0000cf"/>
<path d="M466.7,98.2 467.6,107.7 463.7,96.2z" fill="#ff6000"/>
<path d="M359,222 362.9,222.7 359.9,214.4z" fill="#0030ff"/>
<path d="M340.9,165.4 341.8,152.8 337.9,154.8z" fill="#70ff8f"/>
<path d="M456.8,85.3 457.7,93.2 453.8,84.3z" fill="#ff2000"/>
<path d="M356,213.9 356.8,205.3 352.9,205.2z" fill="#0070ff"/>
<path d="M396.2,186.6 400.1,173.9 397.1,170.4z" fill="#10ffef"/>
<path d="M429.2,79.1 433.1,77 430.1,80.1z" fill="#ef0000"/>
<path d="M394.4,217.9 395.3,202.7 391.4,213.9z" fill="#0060ff"/>
<path d="M390.5,228.1 394.4,217.9 391.4,213.9z" fill="#0030ff"/>
<path d="M400.1,173.9 401,157.8 397.1,170.4z" fill="#40ffbf"/>
<path d="M378.8,247 379.7,237.9 375.8,241.7z" fill="#0000bf"/>
<path d="M409.7,119.2 410.6,109.1 406.7,119.1z" fill="#ffaf00"/>
<path d="M378.8,247 382.7,242.9 379.7,237.9z" fill="#0000bf"/>
<path d="M359,222 359.9,214.4 356,213.9z" fill="#0040ff"/>
<path d="M371.9,243.1 375.8,241.7 372.8,235.7z" fill="#0000cf"/>
<path d="M362,229.4 365.9,230.3 362.9,222.7z" fill="#0010ff"/>
<path d="M425.3,83.6 426.2,82.2 422.3,86.3z" fill="#ff1000"/>
<path d="M395.3,202.7 399.2,190.3 396.2,186.6z" fill="#00bfff"/>
<path d="M371.9,243.1 372.8,235.7 368.9,237.1z" fill="#0000cf"/>
<path d="M479.6,117.5 480.5,128.1 476.6,114.8z" fill="#ffbf00"/>
<path d="M405.8,130.8 409.7,119.2 406.7,119.1z" fill="#ffcf00"/>
<path d="M389.6,240.7 390.5,228.1 386.6,236.5z" fill="#0000ef"/>
<path d="M399.2,190.3 400.1,173.9 396.2,186.6z" fill="#00efff"/>
<path d="M401,157.8 404.9,144.9 401.9,142.8z" fill="#afff50"/>
<path d="M404.9,144.9 405.8,130.8 401.9,142.8z" fill="#dfff20"/>
<path d="M469.7,100.5 473.6,112.3 470.6,109.9z" fill="#ff8000"/>
<path d="M413.6,108.3 414.5,100.1 410.6,109.1z" fill="#ff7000"/>
<path d="M385.7,247.3 386.6,236.5 382.7,242.9z" fill="#0000bf"/>
<path d="M340,176.2 343.9,175.8 340.9,165.4z" fill="#30ffcf"/>
<path d="M492.6,139.1 493.5,149.8 489.6,136.2z" fill="#cfff30"/>
<path d="M343,185.7 346.9,186 343.9,175.8z" fill="#00ffff"/>
<path d="M337,166.5 340.9,165.4 337.9,154.8z" fill="#60ff9f"/>
<path d="M362,229.4 362.9,222.7 359,222z" fill="#0020ff"/>
<path d="M449.9,78 453.8,84.3 450.8,83.9z" fill="#ff0000"/>
<path d="M436.1,75 437,77.3 433.1,77z" fill="#df0000"/>
<path d="M394.4,217.9 398.3,206.3 395.3,202.7z" fill="#0070ff"/>
<path d="M421.4,90.1 422.3,86.3 418.4,92.4z" fill="#ff2000"/>
<path d="M393.5,231.9 394.4,217.9 390.5,228.1z" fill="#0020ff"/>
<path d="M346,194.9 349.9,195.9 346.9,186z" fill="#00cfff"/>
<path d="M417.5,98.5 418.4,92.4 414.5,100.1z" fill="#ff4000"/>
<path d="M398.3,206.3 399.2,190.3 395.3,202.7z" fill="#009fff"/>
<path d="M365,236 368.9,237.1 365.9,230.3z" fill="#0000ef"/>
<path d="M385.7,247.3 389.6,240.7 386.6,236.5z" fill="#0000cf"/>
<path d="M425.3,83.6 429.2,79.1 426.2,82.2z" fill="#ef0000"/>
<path d="M349,203.5 352.9,205.2 349.9,195.9z" fill="#009fff"/>
<path d="M389.6,240.7 393.5,231.9 390.5,228.1z" fill="#0000ef"/>
<path d="M400.1,173.9 404,160.6 401,157.8z" fill="#60ff9f"/>
<path d="M449.9,78 450.8,83.9 446.9,77.9z" fill="#ef0000"/>
<path d="M436.1,75 440,75.4 437,77.3z" fill="#df0000"/>
<path d="M482.7,120.3 486.6,133.4 483.6,130.7z" fill="#ffdf00"/>
<path d="M409.7,119.2 413.6,108.3 410.6,109.1z" fill="#ff8f00"/>
<path d="M337,166.5 337.9,154.8 334,156.7z" fill="#70ff8f"/>
<path d="M459.8,86.8 463.7,96.2 460.7,94.5z" fill="#ff3000"/>
<path d="M340,176.2 340.9,165.4 337,166.5z" fill="#40ffbf"/>
<path d="M374.9,248.5 378.8,247 375.8,241.7z" fill="#0000af"/>
<path d="M343,185.7 343.9,175.8 340,176.2z" fill="#10ffef"/>
<path d="M404,160.6 404.9,144.9 401,157.8z" fill="#8fff70"/>
<path d="M381.8,251.5 382.7,242.9 378.8,247z" fill="#0000af"/>
<path d="M352.1,211.7 356,213.9 352.9,205.2z" fill="#0070ff"/>
<path d="M495.6,142 499.5,154.9 496.5,152.3z" fill="#afff50"/>
<path d="M443,74.5 446.9,77.9 443.9,78.5z" fill="#df0000"/>
<path d="M443,74.5 443.9,78.5 440,75.4z" fill="#cf0000"/>
<path d="M374.9,248.5 375.8,241.7 371.9,243.1z" fill="#0000bf"/>
<path d="M365,236 365.9,230.3 362,229.4z" fill="#0000ff"/>
<path d="M346,194.9 346.9,186 343,185.7z" fill="#00dfff"/>
<path d="M399.2,190.3 403.1,177.1 400.1,173.9z" fill="#10ffef"/>
<path d="M381.8,251.5 385.7,247.3 382.7,242.9z" fill="#0000af"/>
<path d="M397.4,221.4 398.3,206.3 394.4,217.9z" fill="#0050ff"/>
<path d="M393.5,231.9 397.4,221.4 394.4,217.9z" fill="#0030ff"/>
<path d="M469.7,100.5 470.6,109.9 466.7,98.2z" fill="#ff6000"/>
<path d="M404.9,144.9 408.8,132.1 405.8,130.8z" fill="#efff10"/>
<path d="M408.8,132.1 409.7,119.2 405.8,130.8z" fill="#ffdf00"/>
<path d="M349,203.5 349.9,195.9 346,194.9z" fill="#00afff"/>
<path d="M413.6,108.3 417.5,98.5 414.5,100.1z" fill="#ff6000"/>
<path d="M421.4,90.1 425.3,83.6 422.3,86.3z" fill="#ff1000"/>
<path d="M403.1,177.1 404,160.6 400.1,173.9z" fill="#40ffbf"/>
<path d="M398.3,206.3 402.2,193.5 399.2,190.3z" fill="#00bfff"/>
<path d="M355.1,219.3 359,222 356,213.9z" fill="#0050ff"/>
<path d="M417.5,98.5 421.4,90.1 418.4,92.4z" fill="#ff3000"/>
<path d="M459.8,86.8 460.7,94.5 456.8,85.3z" fill="#ff1000"/>
<path d="M368,242 371.9,243.1 368.9,237.1z" fill="#0000cf"/>
<path d="M352.1,211.7 352.9,205.2 349,203.5z" fill="#0080ff"/>
<path d="M392.6,244.2 393.5,231.9 389.6,240.7z" fill="#0000df"/>
<path d="M388.7,251.1 389.6,240.7 385.7,247.3z" fill="#0000bf"/>
<path d="M402.2,193.5 403.1,177.1 399.2,190.3z" fill="#00efff"/>
<path d="M482.7,120.3 483.6,130.7 479.6,117.5z" fill="#ffbf00"/>
<path d="M333.1,167.4 337,166.5 334,156.7z" fill="#70ff8f"/>
<path d="M368,242 368.9,237.1 365,236z" fill="#0000df"/>
<path d="M432.2,77.2 433.1,77 429.2,79.1z" fill="#df0000"/>
<path d="M404,160.6 407.9,147.1 404.9,144.9z" fill="#afff50"/>
<path d="M397.4,221.4 401.3,209.5 398.3,206.3z" fill="#0070ff"/>
<path d="M396.5,235.2 397.4,221.4 393.5,231.9z" fill="#0010ff"/>
<path d="M336.1,176.1 340,176.2 337,166.5z" fill="#40ffbf"/>
<path d="M495.6,142 496.5,152.3 492.6,139.1z" fill="#cfff30"/>
<path d="M472.7,103.1 476.6,114.8 473.6,112.3z" fill="#ff8000"/>
<path d="M355.1,219.3 356,213.9 352.1,211.7z" fill="#0060ff"/>
<path d="M358.1,226.3 362,229.4 359,222z" fill="#0020ff"/>
<path d="M388.7,251.1 392.6,244.2 389.6,240.7z" fill="#0000bf"/>
<path d="M401.3,209.5 402.2,193.5 398.3,206.3z" fill="#009fff"/>
<path d="M412.7,119.7 413.6,108.3 409.7,119.2z" fill="#ff9f00"/>
<path d="M407.9,147.1 408.8,132.1 404.9,144.9z" fill="#dfff20"/>
<path d="M377.9,253.2 381.8,251.5 378.8,247z" fill="#00009f"/>
<path d="M392.6,244.2 396.5,235.2 393.5,231.9z" fill="#0000ef"/>
<path d="M377.9,253.2 378.8,247 374.9,248.5z" fill="#0000af"/>
<path d="M339.1,184.5 343,185.7 340,176.2z" fill="#10ffef"/>
<path d="M333.1,167.4 334,156.7 330.1,158.6z" fill="#80ff80"/>
<path d="M408.8,132.1 412.7,119.7 409.7,119.2z" fill="#ffbf00"/>
<path d="M384.8,255.5 385.7,247.3 381.8,251.5z" fill="#00009f"/>
<path d="M403.1,177.1 407,163.3 404,160.6z" fill="#60ff9f"/>
<path d="M432.2,77.2 436.1,75 433.1,77z" fill="#cf0000"/>
<path d="M485.7,123.3 489.6,136.2 486.6,133.4z" fill="#ffef00"/>
<path d="M336.1,176.1 337,166.5 333.1,167.4z" fill="#50ffaf"/>
<path d="M342.1,192.7 346,194.9 343,185.7z" fill="#00dfff"/>
<path d="M384.8,255.5 388.7,251.1 385.7,247.3z" fill="#00009f"/>
<path d="M452.9,78.8 456.8,85.3 453.8,84.3z" fill="#ef0000"/>
<path d="M371,247.3 374.9,248.5 371.9,243.1z" fill="#0000bf"/>
<path d="M358.1,226.3 359,222 355.1,219.3z" fill="#0040ff"/>
<path d="M407,163.3 407.9,147.1 404,160.6z" fill="#8fff70"/>
<path d="M402.2,193.5 406.1,180 403.1,177.1z" fill="#00ffff"/>
<path d="M498.6,145.1 502.5,157.4 499.5,154.9z" fill="#afff50"/>
<path d="M396.5,235.2 400.4,224.4 397.4,221.4z" fill="#0020ff"/>
<path d="M400.4,224.4 401.3,209.5 397.4,221.4z" fill="#0050ff"/>
<path d="M462.8,88.8 466.7,98.2 463.7,96.2z" fill="#ff3000"/>
<path d="M339.1,184.5 340,176.2 336.1,176.1z" fill="#20ffdf"/>
<path d="M416.6,108.1 417.5,98.5 413.6,108.3z" fill="#ff6000"/>
<path d="M428.3,81.9 429.2,79.1 425.3,83.6z" fill="#df0000"/>
<path d="M361.1,232.6 365,236 362,229.4z" fill="#0010ff"/>
<path d="M345.1,200.5 349,203.5 346,194.9z" fill="#00afff"/>
<path d="M371,247.3 371.9,243.1 368,242z" fill="#0000cf"/>
<path d="M452.9,78.8 453.8,84.3 449.9,78z" fill="#df0000"/>
<path d="M472.7,103.1 473.6,112.3 469.7,100.5z" fill="#ff6000"/>
<path d="M406.1,180 407,163.3 403.1,177.1z" fill="#40ffbf"/>
<path d="M401.3,209.5 405.2,196.4 402.2,193.5z" fill="#00afff"/>
<path d="M439.1,74 440,75.4 436.1,75z" fill="#bf0000"/>
<path d="M342.1,192.7 343,185.7 339.1,184.5z" fill="#00efff"/>
<path d="M412.7,119.7 416.6,108.1 413.6,108.3z" fill="#ff8000"/>
<path d="M395.6,247.3 396.5,235.2 392.6,244.2z" fill="#0000df"/>
<path d="M407.9,147.1 411.8,133.7 408.8,132.1z" fill="#ffff00"/>
<path d="M391.7,254.4 392.6,244.2 388.7,251.1z" fill="#0000af"/>
<path d="M420.5,97.7 421.4,90.1 417.5,98.5z" fill="#ff3000"/>
<path d="M424.4,88.8 425.3,83.6 421.4,90.1z" fill="#ff0000"/>
<path d="M411.8,133.7 412.7,119.7 408.8,132.1z" fill="#ffcf00"/>
<path d="M439.1,74 443,74.5 440,75.4z" fill="#bf0000"/>
<path d="M405.2,196.4 406.1,180 402.2,193.5z" fill="#00efff"/>
<path d="M348.2,207.9 352.1,211.7 349,203.5z" fill="#008fff"/>
<path d="M329.2,168 333.1,167.4 330.1,158.6z" fill="#70ff8f"/>
<path d="M446,74.5 449.9,78 446.9,77.9z" fill="#cf0000"/>
<path d="M361.1,232.6 362,229.4 358.1,226.3z" fill="#0020ff"/>
<path d="M462.8,88.8 463.7,96.2 459.8,86.8z" fill="#ff1000"/>
<path d="M485.7,123.3 486.6,133.4 482.7,120.3z" fill="#ffbf00"/>
<path d="M446,74.5 446.9,77.9 443,74.5z" fill="#bf0000"/>
<path d="M428.3,81.9 432.2,77.2 429.2,79.1z" fill="#cf0000"/>
<path d="M380.9,257.3 384.8,255.5 381.8,251.5z" fill="#00009f"/>
<path d="M380.9,257.3 381.8,251.5 377.9,253.2z" fill="#00009f"/>
<path d="M345.1,200.5 346,194.9 342.1,192.7z" fill="#00cfff"/>
<path d="M399.5,238.1 400.4,224.4 396.5,235.2z" fill="#0010ff"/>
<path d="M400.4,224.4 404.3,212.2 401.3,209.5z" fill="#0070ff"/>
<path d="M391.7,254.4 395.6,247.3 392.6,244.2z" fill="#0000bf"/>
<path d="M329.2,168 330.1,158.6 326.2,160.6z" fill="#80ff80"/>
<path d="M498.6,145.1 499.5,154.9 495.6,142z" fill="#cfff30"/>
<path d="M407,163.3 410.9,149.4 407.9,147.1z" fill="#afff50"/>
<path d="M364.1,238.4 368,242 365,236z" fill="#0000ef"/>
<path d="M475.8,105.8 479.6,117.5 476.6,114.8z" fill="#ff8000"/>
<path d="M387.8,259.1 388.7,251.1 384.8,255.5z" fill="#00009f"/>
<path d="M374,252 377.9,253.2 374.9,248.5z" fill="#0000af"/>
<path d="M404.3,212.2 405.2,196.4 401.3,209.5z" fill="#009fff"/>
<path d="M416.6,108.1 420.5,97.7 417.5,98.5z" fill="#ff4000"/>
<path d="M332.2,175.4 336.1,176.1 333.1,167.4z" fill="#40ffbf"/>
<path d="M395.6,247.3 399.5,238.1 396.5,235.2z" fill="#0000ef"/>
<path d="M351.2,214.8 355.1,219.3 352.1,211.7z" fill="#0070ff"/>
<path d="M410.9,149.4 411.8,133.7 407.9,147.1z" fill="#dfff20"/>
<path d="M387.8,259.1 391.7,254.4 388.7,251.1z" fill="#00009f"/>
<path d="M348.2,207.9 349,203.5 345.1,200.5z" fill="#009fff"/>
<path d="M424.4,88.8 428.3,81.9 425.3,83.6z" fill="#ef0000"/>
<path d="M374,252 374.9,248.5 371,247.3z" fill="#0000bf"/>
<path d="M406.1,180 410,165.9 407,163.3z" fill="#60ff9f"/>
<path d="M488.7,126.5 492.6,139.1 489.6,136.2z" fill="#ffef00"/>
<path d="M420.5,97.7 424.4,88.8 421.4,90.1z" fill="#ff1000"/>
<path d="M332.2,175.4 333.1,167.4 329.2,168z" fill="#50ffaf"/>
<path d="M335.2,182.6 339.1,184.5 336.1,176.1z" fill="#20ffdf"/>
<path d="M364.1,238.4 365,236 361.1,232.6z" fill="#0000ff"/>
<path d="M415.7,120.8 416.6,108.1 412.7,119.7z" fill="#ff8f00"/>
<path d="M411.8,133.7 415.7,120.8 412.7,119.7z" fill="#ffbf00"/>
<path d="M405.2,196.4 409.1,182.5 406.1,180z" fill="#00ffff"/>
<path d="M399.5,238.1 403.4,227 400.4,224.4z" fill="#0020ff"/>
<path d="M501.6,148.3 505.5,159.9 502.5,157.4z" fill="#9fff60"/>
<path d="M403.4,227 404.3,212.2 400.4,224.4z" fill="#0050ff"/>
<path d="M410,165.9 410.9,149.4 407,163.3z" fill="#8fff70"/>
<path d="M455.9,80.1 459.8,86.8 456.8,85.3z" fill="#df0000"/>
<path d="M465.8,91 469.7,100.5 466.7,98.2z" fill="#ff2000"/>
<path d="M435.2,76.3 436.1,75 432.2,77.2z" fill="#bf0000"/>
<path d="M351.2,214.8 352.1,211.7 348.2,207.9z" fill="#0080ff"/>
<path d="M354.2,221.2 358.1,226.3 355.1,219.3z" fill="#0050ff"/>
<path d="M475.8,105.8 476.6,114.8 472.7,103.1z" fill="#ff6000"/>
<path d="M409.1,182.5 410,165.9 406.1,180z" fill="#40ffbf"/>
<path d="M404.3,212.2 408.2,198.9 405.2,196.4z" fill="#00afff"/>
<path d="M335.2,182.6 336.1,176.1 332.2,175.4z" fill="#30ffcf"/>
<path d="M338.2,189.6 342.1,192.7 339.1,184.5z" fill="#00ffff"/>
<path d="M394.7,257.4 395.6,247.3 391.7,254.4z" fill="#0000af"/>
<path d="M398.6,250.1 399.5,238.1 395.6,247.3z" fill="#0000cf"/>
<path d="M367.1,243.5 371,247.3 368,242z" fill="#0000df"/>
<path d="M325.3,168.5 329.2,168 326.2,160.6z" fill="#70ff8f"/>
<path d="M383.9,261 384.8,255.5 380.9,257.3z" fill="#00008f"/>
<path d="M383.9,261 387.8,259.1 384.8,255.5z" fill="#00008f"/>
<path d="M455.9,80.1 456.8,85.3 452.9,78.8z" fill="#cf0000"/>
<path d="M435.2,76.3 439.1,74 436.1,75z" fill="#af0000"/>
<path d="M408.2,198.9 409.1,182.5 405.2,196.4z" fill="#00efff"/>
<path d="M410.9,149.4 414.8,135.5 411.8,133.7z" fill="#ffff00"/>
<path d="M488.7,126.5 489.6,136.2 485.7,123.3z" fill="#ffcf00"/>
<path d="M377,256.2 380.9,257.3 377.9,253.2z" fill="#00009f"/>
<path d="M325.3,168.5 326.2,160.6 322.3,162.6z" fill="#80ff80"/>
<path d="M419.6,108.6 420.5,97.7 416.6,108.1z" fill="#ff5000"/>
<path d="M414.8,135.5 415.7,120.8 411.8,133.7z" fill="#ffcf00"/>
<path d="M465.8,91 466.7,98.2 462.8,88.8z" fill="#ff1000"/>
<path d="M402.5,240.6 403.4,227 399.5,238.1z" fill="#0010ff"/>
<path d="M394.7,257.4 398.6,250.1 395.6,247.3z" fill="#0000bf"/>
<path d="M390.8,262.2 391.7,254.4 387.8,259.1z" fill="#00008f"/>
<path d="M367.1,243.5 368,242 364.1,238.4z" fill="#0000ef"/>
<path d="M377,256.2 377.9,253.2 374,252z" fill="#0000af"/>
<path d="M403.4,227 407.3,214.6 404.3,212.2z" fill="#0070ff"/>
<path d="M501.6,148.3 502.5,157.4 498.6,145.1z" fill="#cfff30"/>
<path d="M354.2,221.2 355.1,219.3 351.2,214.8z" fill="#0060ff"/>
<path d="M415.7,120.8 419.6,108.6 416.6,108.1z" fill="#ff7000"/>
<path d="M338.2,189.6 339.1,184.5 335.2,182.6z" fill="#10ffef"/>
<path d="M341.2,196.3 345.1,200.5 342.1,192.7z" fill="#00dfff"/>
<path d="M478.8,108.8 482.7,120.3 479.6,117.5z" fill="#ff8000"/>
<path d="M431.3,81.2 432.2,77.2 428.3,81.9z" fill="#cf0000"/>
<path d="M410,165.9 413.9,151.6 410.9,149.4z" fill="#afff50"/>
<path d="M398.6,250.1 402.5,240.6 399.5,238.1z" fill="#0000ef"/>
<path d="M407.3,214.6 408.2,198.9 404.3,212.2z" fill="#009fff"/>
<path d="M357.2,227.1 361.1,232.6 358.1,226.3z" fill="#0030ff"/>
<path d="M449,75.1 452.9,78.8 449.9,78z" fill="#bf0000"/>
<path d="M442.1,73.9 443,74.5 439.1,74z" fill="#af0000"/>
<path d="M390.8,262.2 394.7,257.4 391.7,254.4z" fill="#00009f"/>
<path d="M328.3,174.4 332.2,175.4 329.2,168z" fill="#50ffaf"/>
<path d="M423.5,97.7 424.4,88.8 420.5,97.7z" fill="#ff1000"/>
<path d="M491.7,129.9 495.6,142 492.6,139.1z" fill="#ffef00"/>
<path d="M442.1,73.9 446,74.5 443,74.5z" fill="#af0000"/>
<path d="M449,75.1 449.9,78 446,74.5z" fill="#af0000"/>
<path d="M409.1,182.5 413,168.2 410,165.9z" fill="#60ff9f"/>
<path d="M427.4,88.4 428.3,81.9 424.4,88.8z" fill="#ef0000"/>
<path d="M413.9,151.6 414.8,135.5 410.9,149.4z" fill="#dfff20"/>
<path d="M328.3,174.4 329.2,168 325.3,168.5z" fill="#60ff9f"/>
<path d="M341.2,196.3 342.1,192.7 338.2,189.6z" fill="#00efff"/>
<path d="M370.1,248.1 374,252 371,247.3z" fill="#0000cf"/>
<path d="M344.3,202.7 348.2,207.9 345.1,200.5z" fill="#00afff"/>
<path d="M504.6,151.7 508.5,162.5 505.5,159.9z" fill="#9fff60"/>
<path d="M431.3,81.2 435.2,76.3 432.2,77.2z" fill="#bf0000"/>
<path d="M408.2,198.9 412.1,184.8 409.1,182.5z" fill="#00ffff"/>
<path d="M419.6,108.6 423.5,97.7 420.5,97.7z" fill="#ff3000"/>
<path d="M402.5,240.6 406.4,229.4 403.4,227z" fill="#0020ff"/>
<path d="M406.4,229.4 407.3,214.6 403.4,227z" fill="#0050ff"/>
<path d="M413,168.2 413.9,151.6 410,165.9z" fill="#8fff70"/>
<path d="M357.2,227.1 358.1,226.3 354.2,221.2z" fill="#0050ff"/>
<path d="M468.8,93.5 472.7,103.1 469.7,100.5z" fill="#ff2000"/>
<path d="M414.8,135.5 418.7,122.1 415.7,120.8z" fill="#ffaf00"/>
<path d="M478.8,108.8 479.6,117.5 475.8,105.8z" fill="#ff6000"/>
<path d="M331.3,180.1 335.2,182.6 332.2,175.4z" fill="#40ffbf"/>
<path d="M418.7,122.1 419.6,108.6 415.7,120.8z" fill="#ff8000"/>
<path d="M386.9,264.2 387.8,259.1 383.9,261z" fill="#00008f"/>
<path d="M397.8,260.1 398.6,250.1 394.7,257.4z" fill="#0000af"/>
<path d="M458.9,82 462.8,88.8 459.8,86.8z" fill="#df0000"/>
<path d="M321.4,168.8 325.3,168.5 322.3,162.6z" fill="#80ff80"/>
<path d="M370.1,248.1 371,247.3 367.1,243.5z" fill="#0000df"/>
<path d="M412.1,184.8 413,168.2 409.1,182.5z" fill="#40ffbf"/>
<path d="M360.2,232.4 364.1,238.4 361.1,232.6z" fill="#0020ff"/>
<path d="M386.9,264.2 390.8,262.2 387.8,259.1z" fill="#00008f"/>
<path d="M401.6,252.6 402.5,240.6 398.6,250.1z" fill="#0000cf"/>
<path d="M407.3,214.6 411.2,201.1 408.2,198.9z" fill="#00afff"/>
<path d="M380,259.9 383.9,261 380.9,257.3z" fill="#00009f"/>
<path d="M423.5,97.7 427.4,88.4 424.4,88.8z" fill="#ff0000"/>
<path d="M427.4,88.4 431.3,81.2 428.3,81.9z" fill="#cf0000"/>
<path d="M321.4,168.8 322.3,162.6 318.4,164.5z" fill="#80ff80"/>
<path d="M491.7,129.9 492.6,139.1 488.7,126.5z" fill="#ffcf00"/>
<path d="M380,259.9 380.9,257.3 377,256.2z" fill="#00009f"/>
<path d="M344.3,202.7 345.1,200.5 341.2,196.3z" fill="#00cfff"/>
<path d="M347.3,208.7 351.2,214.8 348.2,207.9z" fill="#009fff"/>
<path d="M411.2,201.1 412.1,184.8 408.2,198.9z" fill="#00efff"/>
<path d="M331.3,180.1 332.2,175.4 328.3,174.4z" fill="#50ffaf"/>
<path d="M413.9,151.6 417.8,137.4 414.8,135.5z" fill="#ffff00"/>
<path d="M393.9,265 394.7,257.4 390.8,262.2z" fill="#00008f"/>
<path d="M458.9,82 459.8,86.8 455.9,80.1z" fill="#cf0000"/>
<path d="M504.6,151.7 505.5,159.9 501.6,148.3z" fill="#bfff40"/>
<path d="M397.8,260.1 401.6,252.6 398.6,250.1z" fill="#0000bf"/>
<path d="M481.8,112 485.7,123.3 482.7,120.3z" fill="#ff8000"/>
<path d="M438.2,76.2 439.1,74 435.2,76.3z" fill="#9f0000"/>
<path d="M468.8,93.5 469.7,100.5 465.8,91z" fill="#ff1000"/>
<path d="M405.6,243 406.4,229.4 402.5,240.6z" fill="#0010ff"/>
<path d="M406.4,229.4 410.3,216.8 407.3,214.6z" fill="#0070ff"/>
<path d="M360.2,232.4 361.1,232.6 357.2,227.1z" fill="#0030ff"/>
<path d="M417.8,137.4 418.7,122.1 414.8,135.5z" fill="#ffcf00"/>
<path d="M334.3,185.8 338.2,189.6 335.2,182.6z" fill="#20ffdf"/>
<path d="M401.6,252.6 405.6,243 402.5,240.6z" fill="#0000ef"/>
<path d="M494.7,133.5 498.6,145.1 495.6,142z" fill="#ffef00"/>
<path d="M393.9,265 397.8,260.1 394.7,257.4z" fill="#00009f"/>
<path d="M413,168.2 416.9,153.7 413.9,151.6z" fill="#afff50"/>
<path d="M410.3,216.8 411.2,201.1 407.3,214.6z" fill="#009fff"/>
<path d="M373.1,252.2 377,256.2 374,252z" fill="#0000bf"/>
<path d="M422.6,109.6 423.5,97.7 419.6,108.6z" fill="#ff4000"/>
<path d="M438.2,76.2 442.1,73.9 439.1,74z" fill="#9f0000"/>
<path d="M418.7,122.1 422.6,109.6 419.6,108.6z" fill="#ff7000"/>
<path d="M347.3,208.7 348.2,207.9 344.3,202.7z" fill="#00afff"/>
<path d="M324.4,173 328.3,174.4 325.3,168.5z" fill="#70ff8f"/>
<path d="M412.1,184.8 416,170.3 413,168.2z" fill="#60ff9f"/>
<path d="M452,76.4 455.9,80.1 452.9,78.8z" fill="#af0000"/>
<path d="M363.2,237.2 367.1,243.5 364.1,238.4z" fill="#0010ff"/>
<path d="M416.9,153.7 417.8,137.4 413.9,151.6z" fill="#efff10"/>
<path d="M350.3,214.3 354.2,221.2 351.2,214.8z" fill="#0080ff"/>
<path d="M507.6,155.2 511.5,165 508.5,162.5z" fill="#9fff60"/>
<path d="M334.3,185.8 335.2,182.6 331.3,180.1z" fill="#30ffcf"/>
<path d="M373.1,252.2 374,252 370.1,248.1z" fill="#0000cf"/>
<path d="M324.4,173 325.3,168.5 321.4,168.8z" fill="#70ff8f"/>
<path d="M452,76.4 452.9,78.8 449,75.1z" fill="#9f0000"/>
<path d="M445.1,74.5 446,74.5 442.1,73.9z" fill="#9f0000"/>
<path d="M434.3,81.2 435.2,76.3 431.3,81.2z" fill="#af0000"/>
<path d="M411.2,201.1 415.1,186.9 412.1,184.8z" fill="#10ffef"/>
<path d="M405.6,243 409.5,231.5 406.4,229.4z" fill="#0020ff"/>
<path d="M445.1,74.5 449,75.1 446,74.5z" fill="#9f0000"/>
<path d="M409.5,231.5 410.3,216.8 406.4,229.4z" fill="#0050ff"/>
<path d="M426.5,98.3 427.4,88.4 423.5,97.7z" fill="#ff0000"/>
<path d="M481.8,112 482.7,120.3 478.8,108.8z" fill="#ff6000"/>
<path d="M416,170.3 416.9,153.7 413,168.2z" fill="#8fff70"/>
<path d="M471.9,96.3 475.8,105.8 472.7,103.1z" fill="#ff2000"/>
<path d="M390,267.2 390.8,262.2 386.9,264.2z" fill="#00008f"/>
<path d="M317.5,169 318.4,164.5 314.5,166.4z" fill="#80ff80"/>
<path d="M317.5,169 321.4,168.8 318.4,164.5z" fill="#80ff80"/>
<path d="M383,263.3 386.9,264.2 383.9,261z" fill="#00008f"/>
<path d="M337.3,191.2 341.2,196.3 338.2,189.6z" fill="#00ffff"/>
<path d="M390,267.2 393.9,265 390.8,262.2z" fill="#00008f"/>
<path d="M430.4,88.7 431.3,81.2 427.4,88.4z" fill="#cf0000"/>
<path d="M400.8,262.5 401.6,252.6 397.8,260.1z" fill="#0000af"/>
<path d="M383,263.3 383.9,261 380,259.9z" fill="#00009f"/>
<path d="M494.7,133.5 495.6,142 491.7,129.9z" fill="#ffcf00"/>
<path d="M417.8,137.4 421.7,123.8 418.7,122.1z" fill="#ffaf00"/>
<path d="M363.2,237.2 364.1,238.4 360.2,232.4z" fill="#0020ff"/>
<path d="M404.7,254.9 405.6,243 401.6,252.6z" fill="#0000cf"/>
<path d="M461.9,84.2 465.8,91 462.8,88.8z" fill="#df0000"/>
<path d="M415.1,186.9 416,170.3 412.1,184.8z" fill="#40ffbf"/>
<path d="M422.6,109.6 426.5,98.3 423.5,97.7z" fill="#ff2000"/>
<path d="M410.3,216.8 414.2,203.1 411.2,201.1z" fill="#00bfff"/>
<path d="M421.7,123.8 422.6,109.6 418.7,122.1z" fill="#ff8000"/>
<path d="M434.3,81.2 438.2,76.2 435.2,76.3z" fill="#9f0000"/>
<path d="M350.3,214.3 351.2,214.8 347.3,208.7z" fill="#009fff"/>
<path d="M507.6,155.2 508.5,162.5 504.6,151.7z" fill="#bfff40"/>
<path d="M484.8,115.4 488.7,126.5 485.7,123.3z" fill="#ff8f00"/>
<path d="M396.9,267.6 397.8,260.1 393.9,265z" fill="#00008f"/>
<path d="M414.2,203.1 415.1,186.9 411.2,201.1z" fill="#00efff"/>
<path d="M353.3,219.5 357.2,227.1 354.2,221.2z" fill="#0070ff"/>
<path d="M327.4,177.2 331.3,180.1 328.3,174.4z" fill="#50ffaf"/>
<path d="M337.3,191.2 338.2,189.6 334.3,185.8z" fill="#20ffdf"/>
<path d="M400.8,262.5 404.7,254.9 401.6,252.6z" fill="#0000bf"/>
<path d="M376.1,255.9 380,259.9 377,256.2z" fill="#0000af"/>
<path d="M471.9,96.3 472.7,103.1 468.8,93.5z" fill="#ff1000"/>
<path d="M416.9,153.7 420.8,139.4 417.8,137.4z" fill="#ffff00"/>
<path d="M461.9,84.2 462.8,88.8 458.9,82z" fill="#cf0000"/>
<path d="M497.7,137.3 501.6,148.3 498.6,145.1z" fill="#ffff00"/>
<path d="M426.5,98.3 430.4,88.7 427.4,88.4z" fill="#ef0000"/>
<path d="M408.6,245.1 409.5,231.5 405.6,243z" fill="#0010ff"/>
<path d="M366.2,241.6 370.1,248.1 367.1,243.5z" fill="#0000ff"/>
<path d="M430.4,88.7 434.3,81.2 431.3,81.2z" fill="#bf0000"/>
<path d="M409.5,231.5 413.4,218.8 410.3,216.8z" fill="#0070ff"/>
<path d="M340.4,196.4 344.3,202.7 341.2,196.3z" fill="#00efff"/>
<path d="M396.9,267.6 400.8,262.5 397.8,260.1z" fill="#00009f"/>
<path d="M327.4,177.2 328.3,174.4 324.4,173z" fill="#60ff9f"/>
<path d="M404.7,254.9 408.6,245.1 405.6,243z" fill="#0000ef"/>
<path d="M420.8,139.4 421.7,123.8 417.8,137.4z" fill="#ffbf00"/>
<path d="M416,170.3 419.9,155.7 416.9,153.7z" fill="#afff50"/>
<path d="M413.4,218.8 414.2,203.1 410.3,216.8z" fill="#009fff"/>
<path d="M376.1,255.9 377,256.2 373.1,252.2z" fill="#0000bf"/>
<path d="M441.2,76.8 442.1,73.9 438.2,76.2z" fill="#8f0000"/>
<path d="M510.6,158.8 514.5,167.6 511.5,165z" fill="#9fff60"/>
<path d="M415.1,186.9 419,172.3 416,170.3z" fill="#60ff9f"/>
<path d="M425.6,111 426.5,98.3 422.6,109.6z" fill="#ff3000"/>
<path d="M421.7,123.8 425.6,111 422.6,109.6z" fill="#ff6000"/>
<path d="M353.3,219.5 354.2,221.2 350.3,214.3z" fill="#0080ff"/>
<path d="M366.2,241.6 367.1,243.5 363.2,237.2z" fill="#0010ff"/>
<path d="M419.9,155.7 420.8,139.4 416.9,153.7z" fill="#efff10"/>
<path d="M320.5,171.5 324.4,173 321.4,168.8z" fill="#80ff80"/>
<path d="M484.8,115.4 485.7,123.3 481.8,112z" fill="#ff7000"/>
<path d="M455,78.2 458.9,82 455.9,80.1z" fill="#af0000"/>
<path d="M441.2,76.8 445.1,74.5 442.1,73.9z" fill="#8f0000"/>
<path d="M320.5,171.5 321.4,168.8 317.5,169z" fill="#80ff80"/>
<path d="M474.9,99.4 478.8,108.8 475.8,105.8z" fill="#ff3000"/>
<path d="M386.1,266.3 390,267.2 386.9,264.2z" fill="#00008f"/>
<path d="M340.4,196.4 341.2,196.3 337.3,191.2z" fill="#00ffff"/>
<path d="M393,269.9 393.9,265 390,267.2z" fill="#00008f"/>
<path d="M408.6,245.1 412.5,233.6 409.5,231.5z" fill="#0030ff"/>
<path d="M497.7,137.3 498.6,145.1 494.7,133.5z" fill="#ffdf00"/>
<path d="M356.3,224.3 360.2,232.4 357.2,227.1z" fill="#0050ff"/>
<path d="M414.2,203.1 418.1,188.8 415.1,186.9z" fill="#10ffef"/>
<path d="M386.1,266.3 386.9,264.2 383,263.3z" fill="#00009f"/>
<path d="M412.5,233.6 413.4,218.8 409.5,231.5z" fill="#0050ff"/>
<path d="M455,78.2 455.9,80.1 452,76.4z" fill="#9f0000"/>
<path d="M330.4,181.3 334.3,185.8 331.3,180.1z" fill="#40ffbf"/>
<path d="M393,269.9 396.9,267.6 393.9,265z" fill="#00008f"/>
<path d="M419,172.3 419.9,155.7 416,170.3z" fill="#9fff60"/>
<path d="M403.8,264.8 404.7,254.9 400.8,262.5z" fill="#0000af"/>
<path d="M448.1,75.7 449,75.1 445.1,74.5z" fill="#8f0000"/>
<path d="M343.4,201.3 347.3,208.7 344.3,202.7z" fill="#00cfff"/>
<path d="M448.1,75.7 452,76.4 449,75.1z" fill="#8f0000"/>
<path d="M464.9,86.7 468.8,93.5 465.8,91z" fill="#df0000"/>
<path d="M407.7,257.1 408.6,245.1 404.7,254.9z" fill="#0000df"/>
<path d="M429.5,99.5 430.4,88.7 426.5,98.3z" fill="#ef0000"/>
<path d="M510.6,158.8 511.5,165 507.6,155.2z" fill="#bfff40"/>
<path d="M437.3,82 438.2,76.2 434.3,81.2z" fill="#9f0000"/>
<path d="M487.8,119.1 491.7,129.9 488.7,126.5z" fill="#ff8f00"/>
<path d="M418.1,188.8 419,172.3 415.1,186.9z" fill="#40ffbf"/>
<path d="M420.8,139.4 424.7,125.5 421.7,123.8z" fill="#ff9f00"/>
<path d="M369.2,245.5 373.1,252.2 370.1,248.1z" fill="#0000ef"/>
<path d="M413.4,218.8 417.2,205 414.2,203.1z" fill="#00bfff"/>
<path d="M330.4,181.3 331.3,180.1 327.4,177.2z" fill="#50ffaf"/>
<path d="M379.1,259.3 383,263.3 380,259.9z" fill="#0000af"/>
<path d="M500.7,141.4 504.6,151.7 501.6,148.3z" fill="#ffff00"/>
<path d="M424.7,125.5 425.6,111 421.7,123.8z" fill="#ff7000"/>
<path d="M433.4,89.7 434.3,81.2 430.4,88.7z" fill="#bf0000"/>
<path d="M425.6,111 429.5,99.5 426.5,98.3z" fill="#ff2000"/>
<path d="M399.9,270 400.8,262.5 396.9,267.6z" fill="#00008f"/>
<path d="M474.9,99.4 475.8,105.8 471.9,96.3z" fill="#ff1000"/>
<path d="M417.2,205 418.1,188.8 414.2,203.1z" fill="#00efff"/>
<path d="M403.8,264.8 407.7,257.1 404.7,254.9z" fill="#0000bf"/>
<path d="M356.3,224.3 357.2,227.1 353.3,219.5z" fill="#0070ff"/>
<path d="M464.9,86.7 465.8,91 461.9,84.2z" fill="#cf0000"/>
<path d="M419.9,155.7 423.8,141.3 420.8,139.4z" fill="#ffef00"/>
<path d="M437.3,82 441.2,76.8 438.2,76.2z" fill="#9f0000"/>
<path d="M379.1,259.3 380,259.9 376.1,255.9z" fill="#0000bf"/>
<path d="M411.6,247.2 412.5,233.6 408.6,245.1z" fill="#0010ff"/>
<path d="M343.4,201.3 344.3,202.7 340.4,196.4z" fill="#00efff"/>
<path d="M399.9,270 403.8,264.8 400.8,262.5z" fill="#00009f"/>
<path d="M412.5,233.6 416.4,220.7 413.4,218.8z" fill="#0070ff"/>
<path d="M369.2,245.5 370.1,248.1 366.2,241.6z" fill="#0000ff"/>
<path d="M407.7,257.1 411.6,247.2 408.6,245.1z" fill="#0000ef"/>
<path d="M429.5,99.5 433.4,89.7 430.4,88.7z" fill="#df0000"/>
<path d="M333.4,185.3 337.3,191.2 334.3,185.8z" fill="#30ffcf"/>
<path d="M359.3,228.7 363.2,237.2 360.2,232.4z" fill="#0040ff"/>
<path d="M423.8,141.3 424.7,125.5 420.8,139.4z" fill="#ffbf00"/>
<path d="M419,172.3 422.9,157.6 419.9,155.7z" fill="#afff50"/>
<path d="M323.5,174.1 327.4,177.2 324.4,173z" fill="#70ff8f"/>
<path d="M513.6,162.6 517.5,170.1 514.5,167.6z" fill="#9fff60"/>
<path d="M416.4,220.7 417.2,205 413.4,218.8z" fill="#009fff"/>
<path d="M433.4,89.7 437.3,82 434.3,81.2z" fill="#af0000"/>
<path d="M346.4,206 350.3,214.3 347.3,208.7z" fill="#00bfff"/>
<path d="M487.8,119.1 488.7,126.5 484.8,115.4z" fill="#ff7000"/>
<path d="M500.7,141.4 501.6,148.3 497.7,137.3z" fill="#ffdf00"/>
<path d="M477.9,102.6 481.8,112 478.8,108.8z" fill="#ff3000"/>
<path d="M323.5,174.1 324.4,173 320.5,171.5z" fill="#80ff80"/>
<path d="M418.1,188.8 422,174.1 419,172.3z" fill="#60ff9f"/>
<path d="M389.1,269 393,269.9 390,267.2z" fill="#00008f"/>
<path d="M422.9,157.6 423.8,141.3 419.9,155.7z" fill="#efff10"/>
<path d="M458,80.3 461.9,84.2 458.9,82z" fill="#9f0000"/>
<path d="M424.7,125.5 428.6,112.6 425.6,111z" fill="#ff6000"/>
<path d="M396,272.3 396.9,267.6 393,269.9z" fill="#00008f"/>
<path d="M428.6,112.6 429.5,99.5 425.6,111z" fill="#ff3000"/>
<path d="M389.1,269 390,267.2 386.1,266.3z" fill="#00008f"/>
<path d="M444.2,78.1 445.1,74.5 441.2,76.8z" fill="#8f0000"/>
<path d="M333.4,185.3 334.3,185.8 330.4,181.3z" fill="#40ffbf"/>
<path d="M396,272.3 399.9,270 396.9,267.6z" fill="#00008f"/>
<path d="M411.6,247.2 415.5,235.5 412.5,233.6z" fill="#0030ff"/>
<path d="M490.8,123.1 494.7,133.5 491.7,129.9z" fill="#ff9f00"/>
<path d="M372.2,249.2 376.1,255.9 373.1,252.2z" fill="#0000df"/>
<path d="M415.5,235.5 416.4,220.7 412.5,233.6z" fill="#0060ff"/>
<path d="M417.2,205 421.1,190.6 418.1,188.8z" fill="#10ffef"/>
<path d="M458,80.3 458.9,82 455,78.2z" fill="#9f0000"/>
<path d="M513.6,162.6 514.5,167.6 510.6,158.8z" fill="#afff50"/>
<path d="M444.2,78.1 448.1,75.7 445.1,74.5z" fill="#800000"/>
<path d="M422,174.1 422.9,157.6 419,172.3z" fill="#9fff60"/>
<path d="M468,89.4 471.9,96.3 468.8,93.5z" fill="#df0000"/>
<path d="M503.7,145.8 507.6,155.2 504.6,151.7z" fill="#efff10"/>
<path d="M359.3,228.7 360.2,232.4 356.3,224.3z" fill="#0060ff"/>
<path d="M406.8,266.8 407.7,257.1 403.8,264.8z" fill="#0000af"/>
<path d="M346.4,206 347.3,208.7 343.4,201.3z" fill="#00dfff"/>
<path d="M382.1,262.4 386.1,266.3 383,263.3z" fill="#0000af"/>
<path d="M410.7,259 411.6,247.2 407.7,257.1z" fill="#0000df"/>
<path d="M451.1,77.4 455,78.2 452,76.4z" fill="#8f0000"/>
<path d="M451.1,77.4 452,76.4 448.1,75.7z" fill="#800000"/>
<path d="M477.9,102.6 478.8,108.8 474.9,99.4z" fill="#ff1000"/>
<path d="M421.1,190.6 422,174.1 418.1,188.8z" fill="#50ffaf"/>
<path d="M423.8,141.3 427.7,127.4 424.7,125.5z" fill="#ff9f00"/>
<path d="M416.4,220.7 420.3,206.8 417.2,205z" fill="#00bfff"/>
<path d="M432.5,101 433.4,89.7 429.5,99.5z" fill="#ef0000"/>
<path d="M336.5,189.2 340.4,196.4 337.3,191.2z" fill="#20ffdf"/>
<path d="M402.9,272 403.8,264.8 399.9,270z" fill="#00008f"/>
<path d="M349.4,210.4 353.3,219.5 350.3,214.3z" fill="#00afff"/>
<path d="M382.1,262.4 383,263.3 379.1,259.3z" fill="#0000bf"/>
<path d="M440.3,83.3 441.2,76.8 437.3,82z" fill="#9f0000"/>
<path d="M372.2,249.2 373.1,252.2 369.2,245.5z" fill="#0000ff"/>
<path d="M362.3,232.7 366.2,241.6 363.2,237.2z" fill="#0040ff"/>
<path d="M427.7,127.4 428.6,112.6 424.7,125.5z" fill="#ff7000"/>
<path d="M468,89.4 468.8,93.5 464.9,86.7z" fill="#cf0000"/>
<path d="M428.6,112.6 432.5,101 429.5,99.5z" fill="#ff1000"/>
<path d="M406.8,266.8 410.7,259 407.7,257.1z" fill="#0000bf"/>
<path d="M420.3,206.8 421.1,190.6 417.2,205z" fill="#00efff"/>
<path d="M436.4,91.1 437.3,82 433.4,89.7z" fill="#bf0000"/>
<path d="M326.5,176.6 330.4,181.3 327.4,177.2z" fill="#70ff8f"/>
<path d="M422.9,157.6 426.8,143.1 423.8,141.3z" fill="#ffef00"/>
<path d="M490.8,123.1 491.7,129.9 487.8,119.1z" fill="#ff8000"/>
<path d="M414.6,249.1 415.5,235.5 411.6,247.2z" fill="#0020ff"/>
<path d="M402.9,272 406.8,266.8 403.8,264.8z" fill="#00009f"/>
<path d="M503.7,145.8 504.6,151.7 500.7,141.4z" fill="#ffef00"/>
<path d="M516.7,166.5 520.6,172.6 517.5,170.1z" fill="#9fff60"/>
<path d="M415.5,235.5 419.4,222.6 416.4,220.7z" fill="#0070ff"/>
<path d="M440.3,83.3 444.2,78.1 441.2,76.8z" fill="#8f0000"/>
<path d="M410.7,259 414.6,249.1 411.6,247.2z" fill="#0000ef"/>
<path d="M480.9,106.3 484.8,115.4 481.8,112z" fill="#ff3000"/>
<path d="M336.5,189.2 337.3,191.2 333.4,185.3z" fill="#40ffbf"/>
<path d="M426.8,143.1 427.7,127.4 423.8,141.3z" fill="#ffbf00"/>
<path d="M326.5,176.6 327.4,177.2 323.5,174.1z" fill="#80ff80"/>
<path d="M422,174.1 425.9,159.4 422.9,157.6z" fill="#bfff40"/>
<path d="M419.4,222.6 420.3,206.8 416.4,220.7z" fill="#00afff"/>
<path d="M432.5,101 436.4,91.1 433.4,89.7z" fill="#df0000"/>
<path d="M493.8,127.5 497.7,137.3 494.7,133.5z" fill="#ff9f00"/>
<path d="M349.4,210.4 350.3,214.3 346.4,206z" fill="#00cfff"/>
<path d="M392.1,271.5 396,272.3 393,269.9z" fill="#00008f"/>
<path d="M362.3,232.7 363.2,237.2 359.3,228.7z" fill="#0050ff"/>
<path d="M436.4,91.1 440.3,83.3 437.3,82z" fill="#af0000"/>
<path d="M392.1,271.5 393,269.9 389.1,269z" fill="#00008f"/>
<path d="M461,82.8 464.9,86.7 461.9,84.2z" fill="#9f0000"/>
<path d="M375.2,252.4 379.1,259.3 376.1,255.9z" fill="#0000df"/>
<path d="M506.7,150.5 510.6,158.8 507.6,155.2z" fill="#efff10"/>
<path d="M421.1,190.6 425.1,175.9 422,174.1z" fill="#70ff8f"/>
<path d="M399,274.4 399.9,270 396,272.3z" fill="#00008f"/>
<path d="M516.7,166.5 517.5,170.1 513.6,162.6z" fill="#afff50"/>
<path d="M425.9,159.4 426.8,143.1 422.9,157.6z" fill="#efff10"/>
<path d="M427.7,127.4 431.6,114.4 428.6,112.6z" fill="#ff5000"/>
<path d="M431.6,114.4 432.5,101 428.6,112.6z" fill="#ff2000"/>
<path d="M471,92.5 474.9,99.4 471.9,96.3z" fill="#df0000"/>
<path d="M399,274.4 402.9,272 399.9,270z" fill="#00008f"/>
<path d="M447.2,79.8 448.1,75.7 444.2,78.1z" fill="#800000"/>
<path d="M339.5,193 343.4,201.3 340.4,196.4z" fill="#10ffef"/>
<path d="M461,82.8 461.9,84.2 458,80.3z" fill="#9f0000"/>
<path d="M352.4,214.5 356.3,224.3 353.3,219.5z" fill="#009fff"/>
<path d="M414.6,249.1 418.5,237.4 415.5,235.5z" fill="#0030ff"/>
<path d="M418.5,237.4 419.4,222.6 415.5,235.5z" fill="#0060ff"/>
<path d="M385.2,265.1 389.1,269 386.1,266.3z" fill="#0000af"/>
<path d="M420.3,206.8 424.2,192.4 421.1,190.6z" fill="#10ffef"/>
<path d="M480.9,106.3 481.8,112 477.9,102.6z" fill="#ff1000"/>
<path d="M425.1,175.9 425.9,159.4 422,174.1z" fill="#9fff60"/>
<path d="M447.2,79.8 451.1,77.4 448.1,75.7z" fill="#800000"/>
<path d="M409.8,268.5 410.7,259 406.8,266.8z" fill="#0000af"/>
<path d="M365.3,236.4 369.2,245.5 366.2,241.6z" fill="#0030ff"/>
<path d="M375.2,252.4 376.1,255.9 372.2,249.2z" fill="#0000ef"/>
<path d="M454.1,79.5 458,80.3 455,78.2z" fill="#800000"/>
<path d="M413.7,260.7 414.6,249.1 410.7,259z" fill="#0000df"/>
<path d="M454.1,79.5 455,78.2 451.1,77.4z" fill="#800000"/>
<path d="M385.2,265.1 386.1,266.3 382.1,262.4z" fill="#0000af"/>
<path d="M493.8,127.5 494.7,133.5 490.8,123.1z" fill="#ff8000"/>
<path d="M426.8,143.1 430.7,129.2 427.7,127.4z" fill="#ff9f00"/>
<path d="M424.2,192.4 425.1,175.9 421.1,190.6z" fill="#50ffaf"/>
<path d="M471,92.5 471.9,96.3 468,89.4z" fill="#cf0000"/>
<path d="M419.4,222.6 423.3,208.7 420.3,206.8z" fill="#00bfff"/>
<path d="M506.7,150.5 507.6,155.2 503.7,145.8z" fill="#ffef00"/>
<path d="M329.5,179.2 333.4,185.3 330.4,181.3z" fill="#60ff9f"/>
<path d="M405.9,273.7 406.8,266.8 402.9,272z" fill="#00009f"/>
<path d="M435.5,102.7 436.4,91.1 432.5,101z" fill="#df0000"/>
<path d="M339.5,193 340.4,196.4 336.5,189.2z" fill="#30ffcf"/>
<path d="M430.7,129.2 431.6,114.4 427.7,127.4z" fill="#ff7000"/>
<path d="M443.3,85 444.2,78.1 440.3,83.3z" fill="#8f0000"/>
<path d="M519.7,170.5 523.6,175.2 520.6,172.6z" fill="#8fff70"/>
<path d="M483.9,110.2 487.8,119.1 484.8,115.4z" fill="#ff4000"/>
<path d="M431.6,114.4 435.5,102.7 432.5,101z" fill="#ff1000"/>
<path d="M409.8,268.5 413.7,260.7 410.7,259z" fill="#0000bf"/>
<path d="M423.3,208.7 424.2,192.4 420.3,206.8z" fill="#00ffff"/>
<path d="M352.4,214.5 353.3,219.5 349.4,210.4z" fill="#00bfff"/>
<path d="M496.8,132.3 500.7,141.4 497.7,137.3z" fill="#ffaf00"/>
<path d="M425.9,159.4 429.8,145 426.8,143.1z" fill="#ffef00"/>
<path d="M439.4,92.8 440.3,83.3 436.4,91.1z" fill="#af0000"/>
<path d="M417.6,250.8 418.5,237.4 414.6,249.1z" fill="#0020ff"/>
<path d="M365.3,236.4 366.2,241.6 362.3,232.7z" fill="#0050ff"/>
<path d="M329.5,179.2 330.4,181.3 326.5,176.6z" fill="#80ff80"/>
<path d="M405.9,273.7 409.8,268.5 406.8,266.8z" fill="#00009f"/>
<path d="M418.5,237.4 422.4,224.4 419.4,222.6z" fill="#0080ff"/>
<path d="M509.7,155.4 513.6,162.6 510.6,158.8z" fill="#dfff20"/>
<path d="M413.7,260.7 417.6,250.8 414.6,249.1z" fill="#0000ef"/>
<path d="M443.3,85 447.2,79.8 444.2,78.1z" fill="#8f0000"/>
<path d="M519.7,170.5 520.6,172.6 516.7,166.5z" fill="#afff50"/>
<path d="M342.5,196.6 346.4,206 343.4,201.3z" fill="#00ffff"/>
<path d="M429.8,145 430.7,129.2 426.8,143.1z" fill="#ffaf00"/>
<path d="M378.2,255.5 382.1,262.4 379.1,259.3z" fill="#0000df"/>
<path d="M425.1,175.9 429,161.2 425.9,159.4z" fill="#bfff40"/>
<path d="M422.4,224.4 423.3,208.7 419.4,222.6z" fill="#00afff"/>
<path d="M355.4,218.3 359.3,228.7 356.3,224.3z" fill="#008fff"/>
<path d="M464.1,85.5 468,89.4 464.9,86.7z" fill="#9f0000"/>
<path d="M395.1,273.6 399,274.4 396,272.3z" fill="#00008f"/>
<path d="M435.5,102.7 439.4,92.8 436.4,91.1z" fill="#cf0000"/>
<path d="M395.1,273.6 396,272.3 392.1,271.5z" fill="#00008f"/>
<path d="M474,95.9 477.9,102.6 474.9,99.4z" fill="#df0000"/>
<path d="M483.9,110.2 484.8,115.4 480.9,106.3z" fill="#ff2000"/>
<path d="M439.4,92.8 443.3,85 440.3,83.3z" fill="#9f0000"/>
<path d="M402,276.1 402.9,272 399,274.4z" fill="#00008f"/>
<path d="M424.2,192.4 428.1,177.7 425.1,175.9z" fill="#70ff8f"/>
<path d="M368.3,239.8 372.2,249.2 369.2,245.5z" fill="#0020ff"/>
<path d="M429,161.2 429.8,145 425.9,159.4z" fill="#ffff00"/>
<path d="M464.1,85.5 464.9,86.7 461,82.8z" fill="#9f0000"/>
<path d="M430.7,129.2 434.6,116.3 431.6,114.4z" fill="#ff5000"/>
<path d="M434.6,116.3 435.5,102.7 431.6,114.4z" fill="#ff2000"/>
<path d="M496.8,132.3 497.7,137.3 493.8,127.5z" fill="#ff8f00"/>
<path d="M388.2,267.6 392.1,271.5 389.1,269z" fill="#0000af"/>
<path d="M509.7,155.4 510.6,158.8 506.7,150.5z" fill="#ffff00"/>
<path d="M402,276.1 405.9,273.7 402.9,272z" fill="#00008f"/>
<path d="M450.2,81.8 451.1,77.4 447.2,79.8z" fill="#800000"/>
<path d="M378.2,255.5 379.1,259.3 375.2,252.4z" fill="#0000ef"/>
<path d="M417.6,250.8 421.5,239.2 418.5,237.4z" fill="#0030ff"/>
<path d="M421.5,239.2 422.4,224.4 418.5,237.4z" fill="#0060ff"/>
<path d="M423.3,208.7 427.2,194.2 424.2,192.4z" fill="#20ffdf"/>
<path d="M332.6,181.7 336.5,189.2 333.4,185.3z" fill="#60ff9f"/>
<path d="M450.2,81.8 454.1,79.5 451.1,77.4z" fill="#800000"/>
<path d="M428.1,177.7 429,161.2 425.1,175.9z" fill="#9fff60"/>
<path d="M342.5,196.6 343.4,201.3 339.5,193z" fill="#20ffdf"/>
<path d="M474,95.9 474.9,99.4 471,92.5z" fill="#cf0000"/>
<path d="M388.2,267.6 389.1,269 385.2,265.1z" fill="#0000af"/>
<path d="M457.1,81.9 461,82.8 458,80.3z" fill="#800000"/>
<path d="M412.8,269.8 413.7,260.7 409.8,268.5z" fill="#0000bf"/>
<path d="M486.9,114.6 490.8,123.1 487.8,119.1z" fill="#ff4000"/>
<path d="M457.1,81.9 458,80.3 454.1,79.5z" fill="#800000"/>
<path d="M499.8,137.5 503.7,145.8 500.7,141.4z" fill="#ffbf00"/>
<path d="M355.4,218.3 356.3,224.3 352.4,214.5z" fill="#00afff"/>
<path d="M416.7,262.1 417.6,250.8 413.7,260.7z" fill="#0000ef"/>
<path d="M429.8,145 433.7,131.1 430.7,129.2z" fill="#ff9f00"/>
<path d="M427.2,194.2 428.1,177.7 424.2,192.4z" fill="#50ffaf"/>
<path d="M522.7,174.6 526.6,177.7 523.6,175.2z" fill="#8fff70"/>
<path d="M422.4,224.4 426.3,210.5 423.3,208.7z" fill="#00cfff"/>
<path d="M512.8,160.6 516.7,166.5 513.6,162.6z" fill="#cfff30"/>
<path d="M368.3,239.8 369.2,245.5 365.3,236.4z" fill="#0040ff"/>
<path d="M438.5,104.6 439.4,92.8 435.5,102.7z" fill="#df0000"/>
<path d="M408.9,275 409.8,268.5 405.9,273.7z" fill="#00009f"/>
<path d="M433.7,131.1 434.6,116.3 430.7,129.2z" fill="#ff6000"/>
<path d="M332.6,181.7 333.4,185.3 329.5,179.2z" fill="#70ff8f"/>
<path d="M345.5,200.1 349.4,210.4 346.4,206z" fill="#00ffff"/>
<path d="M446.3,87 447.2,79.8 443.3,85z" fill="#8f0000"/>
<path d="M434.6,116.3 438.5,104.6 435.5,102.7z" fill="#ff1000"/>
<path d="M358.4,221.9 362.3,232.7 359.3,228.7z" fill="#008fff"/>
<path d="M426.3,210.5 427.2,194.2 423.3,208.7z" fill="#00ffff"/>
<path d="M522.7,174.6 523.6,175.2 519.7,170.5z" fill="#9fff60"/>
<path d="M412.8,269.8 416.7,262.1 413.7,260.7z" fill="#0000cf"/>
<path d="M429,161.2 432.9,146.8 429.8,145z" fill="#ffdf00"/>
<path d="M442.4,94.7 443.3,85 439.4,92.8z" fill="#af0000"/>
<path d="M420.6,252.3 421.5,239.2 417.6,250.8z" fill="#0020ff"/>
<path d="M381.3,258.3 385.2,265.1 382.1,262.4z" fill="#0000df"/>
<path d="M421.5,239.2 425.4,226.3 422.4,224.4z" fill="#0080ff"/>
<path d="M486.9,114.6 487.8,119.1 483.9,110.2z" fill="#ff3000"/>
<path d="M477,99.6 480.9,106.3 477.9,102.6z" fill="#ef0000"/>
<path d="M408.9,275 412.8,269.8 409.8,268.5z" fill="#0000af"/>
<path d="M467.1,88.5 471,92.5 468,89.4z" fill="#af0000"/>
<path d="M499.8,137.5 500.7,141.4 496.8,132.3z" fill="#ff9f00"/>
<path d="M446.3,87 450.2,81.8 447.2,79.8z" fill="#800000"/>
<path d="M512.8,160.6 513.6,162.6 509.7,155.4z" fill="#efff10"/>
<path d="M416.7,262.1 420.6,252.3 417.6,250.8z" fill="#0000ff"/>
<path d="M432.9,146.8 433.7,131.1 429.8,145z" fill="#ffaf00"/>
<path d="M425.4,226.3 426.3,210.5 422.4,224.4z" fill="#00afff"/>
<path d="M428.1,177.7 432,163 429,161.2z" fill="#bfff40"/>
<path d="M371.3,243 375.2,252.4 372.2,249.2z" fill="#0020ff"/>
<path d="M398.1,275.4 402,276.1 399,274.4z" fill="#00008f"/>
<path d="M398.1,275.4 399,274.4 395.1,273.6z" fill="#00009f"/>
<path d="M438.5,104.6 442.4,94.7 439.4,92.8z" fill="#cf0000"/>
<path d="M467.1,88.5 468,89.4 464.1,85.5z" fill="#9f0000"/>
<path d="M502.8,143.1 506.7,150.5 503.7,145.8z" fill="#ffcf00"/>
<path d="M442.4,94.7 446.3,87 443.3,85z" fill="#9f0000"/>
<path d="M489.9,119.4 493.8,127.5 490.8,123.1z" fill="#ff5000"/>
<path d="M345.5,200.1 346.4,206 342.5,196.6z" fill="#20ffdf"/>
<path d="M381.3,258.3 382.1,262.4 378.2,255.5z" fill="#0000ef"/>
<path d="M427.2,194.2 431.1,179.5 428.1,177.7z" fill="#70ff8f"/>
<path d="M405,277.3 405.9,273.7 402,276.1z" fill="#00008f"/>
<path d="M335.6,184.2 339.5,193 336.5,189.2z" fill="#60ff9f"/>
<path d="M391.2,269.8 395.1,273.6 392.1,271.5z" fill="#0000af"/>
<path d="M432,163 432.9,146.8 429,161.2z" fill="#ffff00"/>
<path d="M433.7,131.1 437.6,118.2 434.6,116.3z" fill="#ff5000"/>
<path d="M477,99.6 477.9,102.6 474,95.9z" fill="#cf0000"/>
<path d="M358.4,221.9 359.3,228.7 355.4,218.3z" fill="#00afff"/>
<path d="M437.6,118.2 438.5,104.6 434.6,116.3z" fill="#ff2000"/>
<path d="M453.2,84.2 454.1,79.5 450.2,81.8z" fill="#800000"/>
<path d="M515.8,166 519.7,170.5 516.7,166.5z" fill="#cfff30"/>
<path d="M405,277.3 408.9,275 405.9,273.7z" fill="#00009f"/>
<path d="M460.1,84.6 464.1,85.5 461,82.8z" fill="#800000"/>
<path d="M420.6,252.3 424.5,240.8 421.5,239.2z" fill="#0040ff"/>
<path d="M453.2,84.2 457.1,81.9 454.1,79.5z" fill="#800000"/>
<path d="M424.5,240.8 425.4,226.3 421.5,239.2z" fill="#0070ff"/>
<path d="M391.2,269.8 392.1,271.5 388.2,267.6z" fill="#0000af"/>
<path d="M426.3,210.5 430.2,196.1 427.2,194.2z" fill="#20ffdf"/>
<path d="M460.1,84.6 461,82.8 457.1,81.9z" fill="#800000"/>
<path d="M431.1,179.5 432,163 428.1,177.7z" fill="#afff50"/>
<path d="M525.7,178.8 529.6,180.3 526.6,177.7z" fill="#8fff70"/>
<path d="M371.3,243 372.2,249.2 368.3,239.8z" fill="#0040ff"/>
<path d="M348.5,203.5 352.4,214.5 349.4,210.4z" fill="#00efff"/>
<path d="M361.4,225.3 365.3,236.4 362.3,232.7z" fill="#0080ff"/>
<path d="M502.8,143.1 503.7,145.8 499.8,137.5z" fill="#ffaf00"/>
<path d="M415.8,270.6 416.7,262.1 412.8,269.8z" fill="#0000bf"/>
<path d="M432.9,146.8 436.8,133 433.7,131.1z" fill="#ff8f00"/>
<path d="M335.6,184.2 336.5,189.2 332.6,181.7z" fill="#70ff8f"/>
<path d="M525.7,178.8 526.6,177.7 522.7,174.6z" fill="#9fff60"/>
<path d="M430.2,196.1 431.1,179.5 427.2,194.2z" fill="#60ff9f"/>
<path d="M425.4,226.3 429.3,212.4 426.3,210.5z" fill="#00cfff"/>
<path d="M489.9,119.4 490.8,123.1 486.9,114.6z" fill="#ff3000"/>
<path d="M515.8,166 516.7,166.5 512.8,160.6z" fill="#dfff20"/>
<path d="M419.7,263.1 420.6,252.3 416.7,262.1z" fill="#0000ef"/>
<path d="M441.5,106.7 442.4,94.7 438.5,104.6z" fill="#df0000"/>
<path d="M480,103.7 483.9,110.2 480.9,106.3z" fill="#ef0000"/>
<path d="M436.8,133 437.6,118.2 433.7,131.1z" fill="#ff6000"/>
<path d="M449.3,89.3 450.2,81.8 446.3,87z" fill="#8f0000"/>
<path d="M505.8,149.1 509.7,155.4 506.7,150.5z" fill="#ffdf00"/>
<path d="M437.6,118.2 441.5,106.7 438.5,104.6z" fill="#ff0000"/>
<path d="M470.1,91.9 474,95.9 471,92.5z" fill="#af0000"/>
<path d="M411.9,275.6 412.8,269.8 408.9,275z" fill="#0000af"/>
<path d="M429.3,212.4 430.2,196.1 426.3,210.5z" fill="#00ffff"/>
<path d="M384.3,260.8 388.2,267.6 385.2,265.1z" fill="#0000df"/>
<path d="M492.9,124.7 496.8,132.3 493.8,127.5z" fill="#ff6000"/>
<path d="M445.4,96.9 446.3,87 442.4,94.7z" fill="#af0000"/>
<path d="M432,163 435.9,148.7 432.9,146.8z" fill="#ffdf00"/>
<path d="M374.4,246 378.2,255.5 375.2,252.4z" fill="#0020ff"/>
<path d="M449.3,89.3 453.2,84.2 450.2,81.8z" fill="#800000"/>
<path d="M423.6,253.5 424.5,240.8 420.6,252.3z" fill="#0030ff"/>
<path d="M415.8,270.6 419.7,263.1 416.7,262.1z" fill="#0000cf"/>
<path d="M424.5,240.8 428.4,228 425.4,226.3z" fill="#0080ff"/>
<path d="M348.5,203.5 349.4,210.4 345.5,200.1z" fill="#10ffef"/>
<path d="M470.1,91.9 471,92.5 467.1,88.5z" fill="#9f0000"/>
<path d="M518.8,171.7 522.7,174.6 519.7,170.5z" fill="#bfff40"/>
<path d="M435.9,148.7 436.8,133 432.9,146.8z" fill="#ffaf00"/>
<path d="M480,103.7 480.9,106.3 477,99.6z" fill="#df0000"/>
<path d="M428.4,228 429.3,212.4 425.4,226.3z" fill="#00afff"/>
<path d="M431.1,179.5 435,164.9 432,163z" fill="#cfff30"/>
<path d="M361.4,225.3 362.3,232.7 358.4,221.9z" fill="#009fff"/>
<path d="M411.9,275.6 415.8,270.6 412.8,269.8z" fill="#0000af"/>
<path d="M338.6,186.8 342.5,196.6 339.5,193z" fill="#50ffaf"/>
<path d="M419.7,263.1 423.6,253.5 420.6,252.3z" fill="#0000ff"/>
<path d="M441.5,106.7 445.4,96.9 442.4,94.7z" fill="#cf0000"/>
<path d="M384.3,260.8 385.2,265.1 381.3,258.3z" fill="#0000ef"/>
<path d="M401.1,276.7 402,276.1 398.1,275.4z" fill="#00009f"/>
<path d="M505.8,149.1 506.7,150.5 502.8,143.1z" fill="#ffbf00"/>
<path d="M401.1,276.7 405,277.3 402,276.1z" fill="#00009f"/>
<path d="M445.4,96.9 449.3,89.3 446.3,87z" fill="#9f0000"/>
<path d="M430.2,196.1 434.1,181.5 431.1,179.5z" fill="#70ff8f"/>
<path d="M456.2,86.8 457.1,81.9 453.2,84.2z" fill="#800000"/>
<path d="M518.8,171.7 519.7,170.5 515.8,166z" fill="#cfff30"/>
<path d="M394.2,271.7 398.1,275.4 395.1,273.6z" fill="#0000af"/>
<path d="M436.8,133 440.6,120.3 437.6,118.2z" fill="#ff4000"/>
<path d="M463.2,87.6 467.1,88.5 464.1,85.5z" fill="#8f0000"/>
<path d="M435,164.9 435.9,148.7 432,163z" fill="#ffff00"/>
<path d="M492.9,124.7 493.8,127.5 489.9,119.4z" fill="#ff4000"/>
<path d="M351.5,206.7 355.4,218.3 352.4,214.5z" fill="#00efff"/>
<path d="M440.6,120.3 441.5,106.7 437.6,118.2z" fill="#ff2000"/>
<path d="M456.2,86.8 460.1,84.6 457.1,81.9z" fill="#800000"/>
<path d="M508.9,155.5 512.8,160.6 509.7,155.4z" fill="#ffef00"/>
<path d="M463.2,87.6 464.1,85.5 460.1,84.6z" fill="#800000"/>
<path d="M374.4,246 375.2,252.4 371.3,243z" fill="#0040ff"/>
<path d="M528.7,183 532.6,182.8 529.6,180.3z" fill="#8fff70"/>
<path d="M408,277.9 408.9,275 405,277.3z" fill="#00009f"/>
<path d="M394.2,271.7 395.1,273.6 391.2,269.8z" fill="#0000bf"/>
<path d="M364.4,228.5 368.3,239.8 365.3,236.4z" fill="#0080ff"/>
<path d="M528.7,183 529.6,180.3 525.7,178.8z" fill="#8fff70"/>
<path d="M429.3,212.4 433.2,198.1 430.2,196.1z" fill="#20ffdf"/>
<path d="M483,108.3 486.9,114.6 483.9,110.2z" fill="#ff0000"/>
<path d="M495.9,130.6 499.8,137.5 496.8,132.3z" fill="#ff7000"/>
<path d="M427.5,242.2 428.4,228 424.5,240.8z" fill="#0070ff"/>
<path d="M423.6,253.5 427.5,242.2 424.5,240.8z" fill="#0040ff"/>
<path d="M434.1,181.5 435,164.9 431.1,179.5z" fill="#afff50"/>
<path d="M338.6,186.8 339.5,193 335.6,184.2z" fill="#70ff8f"/>
<path d="M408,277.9 411.9,275.6 408.9,275z" fill="#00009f"/>
<path d="M473.1,95.6 477,99.6 474,95.9z" fill="#af0000"/>
<path d="M435.9,148.7 439.8,135 436.8,133z" fill="#ff8f00"/>
<path d="M433.2,198.1 434.1,181.5 430.2,196.1z" fill="#60ff9f"/>
<path d="M428.4,228 432.3,214.4 429.3,212.4z" fill="#00cfff"/>
<path d="M444.6,108.8 445.4,96.9 441.5,106.7z" fill="#df0000"/>
<path d="M521.8,177.4 525.7,178.8 522.7,174.6z" fill="#afff50"/>
<path d="M452.4,91.7 453.2,84.2 449.3,89.3z" fill="#8f0000"/>
<path d="M508.9,155.5 509.7,155.4 505.8,149.1z" fill="#ffdf00"/>
<path d="M439.8,135 440.6,120.3 436.8,133z" fill="#ff6000"/>
<path d="M418.8,270.6 419.7,263.1 415.8,270.6z" fill="#0000cf"/>
<path d="M483,108.3 483.9,110.2 480,103.7z" fill="#ef0000"/>
<path d="M440.6,120.3 444.6,108.8 441.5,106.7z" fill="#ff0000"/>
<path d="M422.7,263.4 423.6,253.5 419.7,263.1z" fill="#0000ff"/>
<path d="M351.5,206.7 352.4,214.5 348.5,203.5z" fill="#10ffef"/>
<path d="M387.3,263 391.2,269.8 388.2,267.6z" fill="#0000df"/>
<path d="M432.3,214.4 433.2,198.1 429.3,212.4z" fill="#10ffef"/>
<path d="M377.4,248.7 381.3,258.3 378.2,255.5z" fill="#0020ff"/>
<path d="M473.1,95.6 474,95.9 470.1,91.9z" fill="#9f0000"/>
<path d="M448.5,99.2 449.3,89.3 445.4,96.9z" fill="#af0000"/>
<path d="M511.9,162.2 515.8,166 512.8,160.6z" fill="#efff10"/>
<path d="M521.8,177.4 522.7,174.6 518.8,171.7z" fill="#bfff40"/>
<path d="M495.9,130.6 496.8,132.3 492.9,124.7z" fill="#ff6000"/>
<path d="M435,164.9 438.9,150.7 435.9,148.7z" fill="#ffdf00"/>
<path d="M452.4,91.7 456.2,86.8 453.2,84.2z" fill="#800000"/>
<path d="M364.4,228.5 365.3,236.4 361.4,225.3z" fill="#009fff"/>
<path d="M341.6,189.3 345.5,200.1 342.5,196.6z" fill="#50ffaf"/>
<path d="M498.9,137 502.8,143.1 499.8,137.5z" fill="#ff8f00"/>
<path d="M414.9,275.5 415.8,270.6 411.9,275.6z" fill="#0000af"/>
<path d="M427.5,242.2 431.4,229.7 428.4,228z" fill="#008fff"/>
<path d="M438.9,150.7 439.8,135 435.9,148.7z" fill="#ffaf00"/>
<path d="M426.6,254.1 427.5,242.2 423.6,253.5z" fill="#0030ff"/>
<path d="M434.1,181.5 438,167 435,164.9z" fill="#cfff30"/>
<path d="M387.3,263 388.2,267.6 384.3,260.8z" fill="#0000ef"/>
<path d="M444.6,108.8 448.5,99.2 445.4,96.9z" fill="#bf0000"/>
<path d="M486,113.4 489.9,119.4 486.9,114.6z" fill="#ff1000"/>
<path d="M431.4,229.7 432.3,214.4 428.4,228z" fill="#00bfff"/>
<path d="M354.5,209.8 358.4,221.9 355.4,218.3z" fill="#00dfff"/>
<path d="M466.2,90.8 470.1,91.9 467.1,88.5z" fill="#8f0000"/>
<path d="M448.5,99.2 452.4,91.7 449.3,89.3z" fill="#9f0000"/>
<path d="M418.8,270.6 422.7,263.4 419.7,263.1z" fill="#0000df"/>
<path d="M459.3,89.6 460.1,84.6 456.2,86.8z" fill="#800000"/>
<path d="M511.9,162.2 512.8,160.6 508.9,155.5z" fill="#ffef00"/>
<path d="M466.2,90.8 467.1,88.5 463.2,87.6z" fill="#800000"/>
<path d="M531.7,187.3 532.6,182.8 528.7,183z" fill="#8fff70"/>
<path d="M531.7,187.3 535.6,185.3 532.6,182.8z" fill="#80ff80"/>
<path d="M459.3,89.6 463.2,87.6 460.1,84.6z" fill="#800000"/>
<path d="M377.4,248.7 378.2,255.5 374.4,246z" fill="#0030ff"/>
<path d="M433.2,198.1 437.1,183.6 434.1,181.5z" fill="#80ff80"/>
<path d="M367.4,231.5 371.3,243 368.3,239.8z" fill="#0070ff"/>
<path d="M422.7,263.4 426.6,254.1 423.6,253.5z" fill="#0010ff"/>
<path d="M439.8,135 443.7,122.4 440.6,120.3z" fill="#ff4000"/>
<path d="M404.1,277.3 405,277.3 401.1,276.7z" fill="#0000af"/>
<path d="M443.7,122.4 444.6,108.8 440.6,120.3z" fill="#ff1000"/>
<path d="M438,167 438.9,150.7 435,164.9z" fill="#ffff00"/>
<path d="M414.9,275.5 418.8,270.6 415.8,270.6z" fill="#0000bf"/>
<path d="M404.1,277.3 408,277.9 405,277.3z" fill="#0000af"/>
<path d="M397.2,273 401.1,276.7 398.1,275.4z" fill="#0000af"/>
<path d="M524.8,183.3 528.7,183 525.7,178.8z" fill="#9fff60"/>
<path d="M476.1,99.8 480,103.7 477,99.6z" fill="#bf0000"/>
<path d="M514.9,169.2 518.8,171.7 515.8,166z" fill="#dfff20"/>
<path d="M341.6,189.3 342.5,196.6 338.6,186.8z" fill="#70ff8f"/>
<path d="M498.9,137 499.8,137.5 495.9,130.6z" fill="#ff7000"/>
<path d="M432.3,214.4 436.2,200.2 433.2,198.1z" fill="#20ffdf"/>
<path d="M486,113.4 486.9,114.6 483,108.3z" fill="#ff0000"/>
<path d="M397.2,273 398.1,275.4 394.2,271.7z" fill="#0000bf"/>
<path d="M437.1,183.6 438,167 434.1,181.5z" fill="#afff50"/>
<path d="M524.8,183.3 525.7,178.8 521.8,177.4z" fill="#9fff60"/>
<path d="M501.9,143.9 505.8,149.1 502.8,143.1z" fill="#ff9f00"/>
<path d="M430.5,243.2 431.4,229.7 427.5,242.2z" fill="#0080ff"/>
<path d="M411,277.8 411.9,275.6 408,277.9z" fill="#0000af"/>
<path d="M426.6,254.1 430.5,243.2 427.5,242.2z" fill="#0050ff"/>
<path d="M476.1,99.8 477,99.6 473.1,95.6z" fill="#af0000"/>
<path d="M438.9,150.7 442.8,137.2 439.8,135z" fill="#ff8f00"/>
<path d="M436.2,200.2 437.1,183.6 433.2,198.1z" fill="#60ff9f"/>
<path d="M455.4,94.4 456.2,86.8 452.4,91.7z" fill="#8f0000"/>
<path d="M354.5,209.8 355.4,218.3 351.5,206.7z" fill="#00ffff"/>
<path d="M447.6,111.2 448.5,99.2 444.6,108.8z" fill="#df0000"/>
<path d="M514.9,169.2 515.8,166 511.9,162.2z" fill="#efff10"/>
<path d="M431.4,229.7 435.3,216.3 432.3,214.4z" fill="#00dfff"/>
<path d="M489,119.2 492.9,124.7 489.9,119.4z" fill="#ff2000"/>
<path d="M442.8,137.2 443.7,122.4 439.8,135z" fill="#ff6000"/>
<path d="M443.7,122.4 447.6,111.2 444.6,108.8z" fill="#ff0000"/>
<path d="M380.4,251.3 384.3,260.8 381.3,258.3z" fill="#0020ff"/>
<path d="M411,277.8 414.9,275.5 411.9,275.6z" fill="#0000af"/>
<path d="M367.4,231.5 368.3,239.8 364.4,228.5z" fill="#008fff"/>
<path d="M451.5,101.7 452.4,91.7 448.5,99.2z" fill="#af0000"/>
<path d="M344.6,191.9 348.5,203.5 345.5,200.1z" fill="#50ffaf"/>
<path d="M390.3,265 394.2,271.7 391.2,269.8z" fill="#0000df"/>
<path d="M455.4,94.4 459.3,89.6 456.2,86.8z" fill="#800000"/>
<path d="M435.3,216.3 436.2,200.2 432.3,214.4z" fill="#10ffef"/>
<path d="M517.9,176.4 521.8,177.4 518.8,171.7z" fill="#bfff40"/>
<path d="M438,167 441.9,152.9 438.9,150.7z" fill="#ffdf00"/>
<path d="M501.9,143.9 502.8,143.1 498.9,137z" fill="#ff8f00"/>
<path d="M505,151.3 508.9,155.5 505.8,149.1z" fill="#ffbf00"/>
<path d="M469.2,94.5 473.1,95.6 470.1,91.9z" fill="#8f0000"/>
<path d="M357.5,212.7 361.4,225.3 358.4,221.9z" fill="#00dfff"/>
<path d="M527.8,189.2 531.7,187.3 528.7,183z" fill="#8fff70"/>
<path d="M421.8,269.9 422.7,263.4 418.8,270.6z" fill="#0000df"/>
<path d="M425.7,263 426.6,254.1 422.7,263.4z" fill="#0010ff"/>
<path d="M469.2,94.5 470.1,91.9 466.2,90.8z" fill="#8f0000"/>
<path d="M441.9,152.9 442.8,137.2 438.9,150.7z" fill="#ff9f00"/>
<path d="M447.6,111.2 451.5,101.7 448.5,99.2z" fill="#bf0000"/>
<path d="M462.3,92.7 463.2,87.6 459.3,89.6z" fill="#800000"/>
<path d="M489,119.2 489.9,119.4 486,113.4z" fill="#ff1000"/>
<path d="M437.1,183.6 441,169.3 438,167z" fill="#cfff30"/>
<path d="M479.1,104.5 483,108.3 480,103.7z" fill="#cf0000"/>
<path d="M527.8,189.2 528.7,183 524.8,183.3z" fill="#8fff70"/>
<path d="M390.3,265 391.2,269.8 387.3,263z" fill="#0000ef"/>
<path d="M451.5,101.7 455.4,94.4 452.4,91.7z" fill="#9f0000"/>
<path d="M462.3,92.7 466.2,90.8 463.2,87.6z" fill="#800000"/>
<path d="M430.5,243.2 434.4,231 431.4,229.7z" fill="#008fff"/>
<path d="M517.9,176.4 518.8,171.7 514.9,169.2z" fill="#cfff30"/>
<path d="M370.5,234.3 374.4,246 371.3,243z" fill="#0070ff"/>
<path d="M434.4,231 435.3,216.3 431.4,229.7z" fill="#00bfff"/>
<path d="M380.4,251.3 381.3,258.3 377.4,248.7z" fill="#0030ff"/>
<path d="M492,125.5 495.9,130.6 492.9,124.7z" fill="#ff4000"/>
<path d="M436.2,200.2 440.1,185.9 437.1,183.6z" fill="#80ff80"/>
<path d="M442.8,137.2 446.7,124.8 443.7,122.4z" fill="#ff4000"/>
<path d="M446.7,124.8 447.6,111.2 443.7,122.4z" fill="#ff1000"/>
<path d="M429.6,254.1 430.5,243.2 426.6,254.1z" fill="#0040ff"/>
<path d="M441,169.3 441.9,152.9 438,167z" fill="#ffef00"/>
<path d="M417.9,274.6 418.8,270.6 414.9,275.5z" fill="#0000cf"/>
<path d="M344.6,191.9 345.5,200.1 341.6,189.3z" fill="#70ff8f"/>
<path d="M505,151.3 505.8,149.1 501.9,143.9z" fill="#ff9f00"/>
<path d="M479.1,104.5 480,103.7 476.1,99.8z" fill="#bf0000"/>
<path d="M508,159.1 511.9,162.2 508.9,155.5z" fill="#ffdf00"/>
<path d="M520.9,183.8 524.8,183.3 521.8,177.4z" fill="#afff50"/>
<path d="M435.3,216.3 439.2,202.4 436.2,200.2z" fill="#30ffcf"/>
<path d="M421.8,269.9 425.7,263 422.7,263.4z" fill="#0000ff"/>
<path d="M440.1,185.9 441,169.3 437.1,183.6z" fill="#afff50"/>
<path d="M400.2,273.8 404.1,277.3 401.1,276.7z" fill="#0000bf"/>
<path d="M407.1,277.3 408,277.9 404.1,277.3z" fill="#0000bf"/>
<path d="M357.5,212.7 358.4,221.9 354.5,209.8z" fill="#00ffff"/>
<path d="M425.7,263 429.6,254.1 426.6,254.1z" fill="#0020ff"/>
<path d="M520.9,183.8 521.8,177.4 517.9,176.4z" fill="#bfff40"/>
<path d="M458.4,97.4 459.3,89.6 455.4,94.4z" fill="#8f0000"/>
<path d="M407.1,277.3 411,277.8 408,277.9z" fill="#0000bf"/>
<path d="M400.2,273.8 401.1,276.7 397.2,273z" fill="#0000cf"/>
<path d="M492,125.5 492.9,124.7 489,119.2z" fill="#ff2000"/>
<path d="M441.9,152.9 445.8,139.6 442.8,137.2z" fill="#ff8f00"/>
<path d="M450.6,113.7 451.5,101.7 447.6,111.2z" fill="#df0000"/>
<path d="M439.2,202.4 440.1,185.9 436.2,200.2z" fill="#60ff9f"/>
<path d="M417.9,274.6 421.8,269.9 418.8,270.6z" fill="#0000df"/>
<path d="M370.5,234.3 371.3,243 367.4,231.5z" fill="#008fff"/>
<path d="M508,159.1 508.9,155.5 505,151.3z" fill="#ffcf00"/>
<path d="M511,167.3 514.9,169.2 511.9,162.2z" fill="#ffff00"/>
<path d="M433.5,243.7 434.4,231 430.5,243.2z" fill="#0080ff"/>
<path d="M495,132.5 498.9,137 495.9,130.6z" fill="#ff5000"/>
<path d="M347.6,194.4 351.5,206.7 348.5,203.5z" fill="#40ffbf"/>
<path d="M445.8,139.6 446.7,124.8 442.8,137.2z" fill="#ff6000"/>
<path d="M472.2,98.6 476.1,99.8 473.1,95.6z" fill="#9f0000"/>
<path d="M482.1,109.8 486,113.4 483,108.3z" fill="#df0000"/>
<path d="M458.4,97.4 462.3,92.7 459.3,89.6z" fill="#800000"/>
<path d="M454.5,104.5 455.4,94.4 451.5,101.7z" fill="#af0000"/>
<path d="M446.7,124.8 450.6,113.7 447.6,111.2z" fill="#ff0000"/>
<path d="M383.4,253.6 387.3,263 384.3,260.8z" fill="#0020ff"/>
<path d="M434.4,231 438.3,218.1 435.3,216.3z" fill="#00dfff"/>
<path d="M429.6,254.1 433.5,243.7 430.5,243.2z" fill="#0060ff"/>
<path d="M523.9,191.2 527.8,189.2 524.8,183.3z" fill="#8fff70"/>
<path d="M472.2,98.6 473.1,95.6 469.2,94.5z" fill="#8f0000"/>
<path d="M360.5,215.6 364.4,228.5 361.4,225.3z" fill="#00dfff"/>
<path d="M438.3,218.1 439.2,202.4 435.3,216.3z" fill="#10ffef"/>
<path d="M441,169.3 444.9,155.4 441.9,152.9z" fill="#ffdf00"/>
<path d="M414,276.8 414.9,275.5 411,277.8z" fill="#0000bf"/>
<path d="M393.3,266.5 397.2,273 394.2,271.7z" fill="#0000df"/>
<path d="M465.3,96.3 466.2,90.8 462.3,92.7z" fill="#800000"/>
<path d="M465.3,96.3 469.2,94.5 466.2,90.8z" fill="#800000"/>
<path d="M523.9,191.2 524.8,183.3 520.9,183.8z" fill="#9fff60"/>
<path d="M482.1,109.8 483,108.3 479.1,104.5z" fill="#cf0000"/>
<path d="M450.6,113.7 454.5,104.5 451.5,101.7z" fill="#bf0000"/>
<path d="M454.5,104.5 458.4,97.4 455.4,94.4z" fill="#9f0000"/>
<path d="M511,167.3 511.9,162.2 508,159.1z" fill="#ffef00"/>
<path d="M514,175.7 517.9,176.4 514.9,169.2z" fill="#dfff20"/>
<path d="M444.9,155.4 445.8,139.6 441.9,152.9z" fill="#ff9f00"/>
<path d="M440.1,185.9 444,171.8 441,169.3z" fill="#cfff30"/>
<path d="M373.5,237 377.4,248.7 374.4,246z" fill="#0070ff"/>
<path d="M495,132.5 495.9,130.6 492,125.5z" fill="#ff4000"/>
<path d="M498,140.1 501.9,143.9 498.9,137z" fill="#ff7000"/>
<path d="M414,276.8 417.9,274.6 414.9,275.5z" fill="#0000cf"/>
<path d="M383.4,253.6 384.3,260.8 380.4,251.3z" fill="#0030ff"/>
<path d="M393.3,266.5 394.2,271.7 390.3,265z" fill="#0000ef"/>
<path d="M439.2,202.4 443.1,188.5 440.1,185.9z" fill="#80ff80"/>
<path d="M445.8,139.6 449.7,127.4 446.7,124.8z" fill="#ff4000"/>
<path d="M347.6,194.4 348.5,203.5 344.6,191.9z" fill="#70ff8f"/>
<path d="M449.7,127.4 450.6,113.7 446.7,124.8z" fill="#ff1000"/>
<path d="M444,171.8 444.9,155.4 441,169.3z" fill="#ffef00"/>
<path d="M437.4,232.1 438.3,218.1 434.4,231z" fill="#00cfff"/>
<path d="M433.5,243.7 437.4,232.1 434.4,231z" fill="#009fff"/>
<path d="M485.1,115.8 489,119.2 486,113.4z" fill="#ef0000"/>
<path d="M514,175.7 514.9,169.2 511,167.3z" fill="#efff10"/>
<path d="M517,184.4 520.9,183.8 517.9,176.4z" fill="#bfff40"/>
<path d="M428.7,261.7 429.6,254.1 425.7,263z" fill="#0020ff"/>
<path d="M360.5,215.6 361.4,225.3 357.5,212.7z" fill="#00ffff"/>
<path d="M443.1,188.5 444,171.8 440.1,185.9z" fill="#afff50"/>
<path d="M475.2,103.3 479.1,104.5 476.1,99.8z" fill="#af0000"/>
<path d="M424.8,268.2 425.7,263 421.8,269.9z" fill="#0000ff"/>
<path d="M501.1,148.3 505,151.3 501.9,143.9z" fill="#ff8f00"/>
<path d="M461.4,100.7 462.3,92.7 458.4,97.4z" fill="#8f0000"/>
<path d="M438.3,218.1 442.2,204.7 439.2,202.4z" fill="#30ffcf"/>
<path d="M498,140.1 498.9,137 495,132.5z" fill="#ff6000"/>
<path d="M453.6,116.6 454.5,104.5 450.6,113.7z" fill="#df0000"/>
<path d="M517,184.4 517.9,176.4 514,175.7z" fill="#cfff30"/>
<path d="M432.6,253.3 433.5,243.7 429.6,254.1z" fill="#0050ff"/>
<path d="M444.9,155.4 448.8,142.3 445.8,139.6z" fill="#ff8f00"/>
<path d="M475.2,103.3 476.1,99.8 472.2,98.6z" fill="#9f0000"/>
<path d="M461.4,100.7 465.3,96.3 462.3,92.7z" fill="#8f0000"/>
<path d="M373.5,237 374.4,246 370.5,234.3z" fill="#008fff"/>
<path d="M485.1,115.8 486,113.4 482.1,109.8z" fill="#df0000"/>
<path d="M442.2,204.7 443.1,188.5 439.2,202.4z" fill="#60ff9f"/>
<path d="M350.6,196.9 354.5,209.8 351.5,206.7z" fill="#40ffbf"/>
<path d="M520,193.2 523.9,191.2 520.9,183.8z" fill="#8fff70"/>
<path d="M457.5,107.6 458.4,97.4 454.5,104.5z" fill="#af0000"/>
<path d="M448.8,142.3 449.7,127.4 445.8,139.6z" fill="#ff6000"/>
<path d="M449.7,127.4 453.6,116.6 450.6,113.7z" fill="#ff0000"/>
<path d="M504.1,156.9 508,159.1 505,151.3z" fill="#ffbf00"/>
<path d="M468.3,100.3 472.2,98.6 469.2,94.5z" fill="#8f0000"/>
<path d="M468.3,100.3 469.2,94.5 465.3,96.3z" fill="#8f0000"/>
<path d="M420.9,272.7 421.8,269.9 417.9,274.6z" fill="#0000df"/>
<path d="M403.2,273.9 407.1,277.3 404.1,277.3z" fill="#0000cf"/>
<path d="M363.5,218.4 367.4,231.5 364.4,228.5z" fill="#00cfff"/>
<path d="M386.4,255.6 390.3,265 387.3,263z" fill="#0020ff"/>
<path d="M488.1,122.4 492,125.5 489,119.2z" fill="#ff1000"/>
<path d="M403.2,273.9 404.1,277.3 400.2,273.8z" fill="#0000df"/>
<path d="M520,193.2 520.9,183.8 517,184.4z" fill="#9fff60"/>
<path d="M501.1,148.3 501.9,143.9 498,140.1z" fill="#ff8000"/>
<path d="M444,171.8 447.9,158.3 444.9,155.4z" fill="#ffdf00"/>
<path d="M410.1,276.4 411,277.8 407.1,277.3z" fill="#0000cf"/>
<path d="M437.4,232.1 441.3,219.7 438.3,218.1z" fill="#00dfff"/>
<path d="M424.8,268.2 428.7,261.7 425.7,263z" fill="#0010ff"/>
<path d="M428.7,261.7 432.6,253.3 429.6,254.1z" fill="#0040ff"/>
<path d="M457.5,107.6 461.4,100.7 458.4,97.4z" fill="#9f0000"/>
<path d="M441.3,219.7 442.2,204.7 438.3,218.1z" fill="#10ffef"/>
<path d="M453.6,116.6 457.5,107.6 454.5,104.5z" fill="#cf0000"/>
<path d="M436.5,243.5 437.4,232.1 433.5,243.7z" fill="#008fff"/>
<path d="M507.1,166.1 511,167.3 508,159.1z" fill="#ffdf00"/>
<path d="M410.1,276.4 414,276.8 411,277.8z" fill="#0000cf"/>
<path d="M447.9,158.3 448.8,142.3 444.9,155.4z" fill="#ff9f00"/>
<path d="M443.1,188.5 447,174.7 444,171.8z" fill="#cfff30"/>
<path d="M376.5,239.5 380.4,251.3 377.4,248.7z" fill="#0070ff"/>
<path d="M396.3,267.5 400.2,273.8 397.2,273z" fill="#0000ef"/>
<path d="M478.2,108.7 482.1,109.8 479.1,104.5z" fill="#bf0000"/>
<path d="M504.1,156.9 505,151.3 501.1,148.3z" fill="#ff9f00"/>
<path d="M488.1,122.4 489,119.2 485.1,115.8z" fill="#ff0000"/>
<path d="M420.9,272.7 424.8,268.2 421.8,269.9z" fill="#0000ef"/>
<path d="M432.6,253.3 436.5,243.5 433.5,243.7z" fill="#0070ff"/>
<path d="M510.1,175.6 514,175.7 511,167.3z" fill="#efff10"/>
<path d="M386.4,255.6 387.3,263 383.4,253.6z" fill="#0040ff"/>
<path d="M448.8,142.3 452.7,130.4 449.7,127.4z" fill="#ff4000"/>
<path d="M452.7,130.4 453.6,116.6 449.7,127.4z" fill="#ff1000"/>
<path d="M350.6,196.9 351.5,206.7 347.6,194.4z" fill="#60ff9f"/>
<path d="M447,174.7 447.9,158.3 444,171.8z" fill="#ffef00"/>
<path d="M442.2,204.7 446.1,191.2 443.1,188.5z" fill="#80ff80"/>
<path d="M491.1,129.8 495,132.5 492,125.5z" fill="#ff3000"/>
<path d="M478.2,108.7 479.1,104.5 475.2,103.3z" fill="#af0000"/>
<path d="M396.3,267.5 397.2,273 393.3,266.5z" fill="#0000ff"/>
<path d="M464.4,104.5 465.3,96.3 461.4,100.7z" fill="#8f0000"/>
<path d="M507.1,166.1 508,159.1 504.1,156.9z" fill="#ffcf00"/>
<path d="M513.1,185.3 517,184.4 514,175.7z" fill="#bfff40"/>
<path d="M363.5,218.4 364.4,228.5 360.5,215.6z" fill="#00ffff"/>
<path d="M417,274.8 417.9,274.6 414,276.8z" fill="#0000df"/>
<path d="M446.1,191.2 447,174.7 443.1,188.5z" fill="#afff50"/>
<path d="M464.4,104.5 468.3,100.3 465.3,96.3z" fill="#8f0000"/>
<path d="M440.4,232.6 441.3,219.7 437.4,232.1z" fill="#00cfff"/>
<path d="M516.1,195.1 520,193.2 517,184.4z" fill="#8fff70"/>
<path d="M510.1,175.6 511,167.3 507.1,166.1z" fill="#ffff00"/>
<path d="M471.3,104.8 475.2,103.3 472.2,98.6z" fill="#9f0000"/>
<path d="M456.6,119.9 457.5,107.6 453.6,116.6z" fill="#df0000"/>
<path d="M471.3,104.8 472.2,98.6 468.3,100.3z" fill="#8f0000"/>
<path d="M441.3,219.7 445.2,206.9 442.2,204.7z" fill="#30ffcf"/>
<path d="M436.5,243.5 440.4,232.6 437.4,232.1z" fill="#00afff"/>
<path d="M447.9,158.3 451.8,145.5 448.8,142.3z" fill="#ff8f00"/>
<path d="M460.5,111.1 461.4,100.7 457.5,107.6z" fill="#af0000"/>
<path d="M491.1,129.8 492,125.5 488.1,122.4z" fill="#ff1000"/>
<path d="M494.1,137.9 498,140.1 495,132.5z" fill="#ff5000"/>
<path d="M376.5,239.5 377.4,248.7 373.5,237z" fill="#008fff"/>
<path d="M353.6,199.5 357.5,212.7 354.5,209.8z" fill="#40ffbf"/>
<path d="M513.1,185.3 514,175.7 510.1,175.6z" fill="#cfff30"/>
<path d="M452.7,130.4 456.6,119.9 453.6,116.6z" fill="#ff0000"/>
<path d="M451.8,145.5 452.7,130.4 448.8,142.3z" fill="#ff6000"/>
<path d="M445.2,206.9 446.1,191.2 442.2,204.7z" fill="#60ff9f"/>
<path d="M417,274.8 420.9,272.7 417.9,274.6z" fill="#0000ef"/>
<path d="M481.2,114.7 485.1,115.8 482.1,109.8z" fill="#cf0000"/>
<path d="M516.1,195.1 517,184.4 513.1,185.3z" fill="#9fff60"/>
<path d="M366.6,221.1 370.5,234.3 367.4,231.5z" fill="#00cfff"/>
<path d="M447,174.7 450.9,161.5 447.9,158.3z" fill="#ffdf00"/>
<path d="M460.5,111.1 464.4,104.5 461.4,100.7z" fill="#af0000"/>
<path d="M456.6,119.9 460.5,111.1 457.5,107.6z" fill="#cf0000"/>
<path d="M497.2,146.6 501.1,148.3 498,140.1z" fill="#ff7000"/>
<path d="M481.2,114.7 482.1,109.8 478.2,108.7z" fill="#bf0000"/>
<path d="M389.4,257.3 393.3,266.5 390.3,265z" fill="#0020ff"/>
<path d="M431.7,259.4 432.6,253.3 428.7,261.7z" fill="#0040ff"/>
<path d="M494.1,137.9 495,132.5 491.1,129.8z" fill="#ff4000"/>
<path d="M450.9,161.5 451.8,145.5 447.9,158.3z" fill="#ffaf00"/>
<path d="M446.1,191.2 450,177.9 447,174.7z" fill="#cfff30"/>
<path d="M427.8,265.5 428.7,261.7 424.8,268.2z" fill="#0020ff"/>
<path d="M435.6,251.7 436.5,243.5 432.6,253.3z" fill="#0070ff"/>
<path d="M500.2,155.9 504.1,156.9 501.1,148.3z" fill="#ff9f00"/>
<path d="M440.4,232.6 444.3,221 441.3,219.7z" fill="#00efff"/>
<path d="M444.3,221 445.2,206.9 441.3,219.7z" fill="#20ffdf"/>
<path d="M379.5,241.9 383.4,253.6 380.4,251.3z" fill="#0070ff"/>
<path d="M455.7,133.9 456.6,119.9 452.7,130.4z" fill="#ff2000"/>
<path d="M451.8,145.5 455.7,133.9 452.7,130.4z" fill="#ff4000"/>
<path d="M467.4,108.9 468.3,100.3 464.4,104.5z" fill="#9f0000"/>
<path d="M450,177.9 450.9,161.5 447,174.7z" fill="#ffff00"/>
<path d="M503.2,165.8 507.1,166.1 504.1,156.9z" fill="#ffcf00"/>
<path d="M484.2,121.5 488.1,122.4 485.1,115.8z" fill="#ef0000"/>
<path d="M474.3,110.1 478.2,108.7 475.2,103.3z" fill="#af0000"/>
<path d="M406.2,273.3 410.1,276.4 407.1,277.3z" fill="#0000df"/>
<path d="M406.2,273.3 407.1,277.3 403.2,273.9z" fill="#0000ef"/>
<path d="M353.6,199.5 354.5,209.8 350.6,196.9z" fill="#60ff9f"/>
<path d="M497.2,146.6 498,140.1 494.1,137.9z" fill="#ff6000"/>
<path d="M467.4,108.9 471.3,104.8 468.3,100.3z" fill="#9f0000"/>
<path d="M445.2,206.9 449.1,194 446.1,191.2z" fill="#80ff80"/>
<path d="M506.2,176 510.1,175.6 507.1,166.1z" fill="#ffff00"/>
<path d="M474.3,110.1 475.2,103.3 471.3,104.8z" fill="#9f0000"/>
<path d="M509.2,186.4 513.1,185.3 510.1,175.6z" fill="#cfff30"/>
<path d="M389.4,257.3 390.3,265 386.4,255.6z" fill="#0040ff"/>
<path d="M512.2,197 516.1,195.1 513.1,185.3z" fill="#9fff60"/>
<path d="M439.5,242.7 440.4,232.6 436.5,243.5z" fill="#009fff"/>
<path d="M366.6,221.1 367.4,231.5 363.5,218.4z" fill="#00efff"/>
<path d="M413.1,274.5 414,276.8 410.1,276.4z" fill="#0000ef"/>
<path d="M399.3,267.9 403.2,273.9 400.2,273.8z" fill="#0000ff"/>
<path d="M449.1,194 450,177.9 446.1,191.2z" fill="#afff50"/>
<path d="M459.6,123.7 460.5,111.1 456.6,119.9z" fill="#df0000"/>
<path d="M500.2,155.9 501.1,148.3 497.2,146.6z" fill="#ff8f00"/>
<path d="M423.9,269.6 424.8,268.2 420.9,272.7z" fill="#0000ff"/>
<path d="M463.5,115.3 464.4,104.5 460.5,111.1z" fill="#bf0000"/>
<path d="M484.2,121.5 485.1,115.8 481.2,114.7z" fill="#df0000"/>
<path d="M450.9,161.5 454.8,149.1 451.8,145.5z" fill="#ff8f00"/>
<path d="M431.7,259.4 435.6,251.7 432.6,253.3z" fill="#0050ff"/>
<path d="M503.2,165.8 504.1,156.9 500.2,155.9z" fill="#ffbf00"/>
<path d="M455.7,133.9 459.6,123.7 456.6,119.9z" fill="#ff1000"/>
<path d="M427.8,265.5 431.7,259.4 428.7,261.7z" fill="#0030ff"/>
<path d="M454.8,149.1 455.7,133.9 451.8,145.5z" fill="#ff6000"/>
<path d="M413.1,274.5 417,274.8 414,276.8z" fill="#0000ef"/>
<path d="M399.3,267.9 400.2,273.8 396.3,267.5z" fill="#0010ff"/>
<path d="M487.2,129.1 491.1,129.8 488.1,122.4z" fill="#ff1000"/>
<path d="M512.2,197 513.1,185.3 509.2,186.4z" fill="#afff50"/>
<path d="M506.2,176 507.1,166.1 503.2,165.8z" fill="#ffef00"/>
<path d="M356.6,202 360.5,215.6 357.5,212.7z" fill="#40ffbf"/>
<path d="M509.2,186.4 510.1,175.6 506.2,176z" fill="#dfff20"/>
<path d="M463.5,115.3 467.4,108.9 464.4,104.5z" fill="#af0000"/>
<path d="M435.6,251.7 439.5,242.7 436.5,243.5z" fill="#0080ff"/>
<path d="M379.5,241.9 380.4,251.3 376.5,239.5z" fill="#008fff"/>
<path d="M444.3,221 448.2,209 445.2,206.9z" fill="#30ffcf"/>
<path d="M448.2,209 449.1,194 445.2,206.9z" fill="#60ff9f"/>
<path d="M450,177.9 453.9,165.2 450.9,161.5z" fill="#ffdf00"/>
<path d="M459.6,123.7 463.5,115.3 460.5,111.1z" fill="#df0000"/>
<path d="M443.4,232.7 444.3,221 440.4,232.6z" fill="#00dfff"/>
<path d="M369.6,223.7 373.5,237 370.5,234.3z" fill="#00cfff"/>
<path d="M477.3,116.1 481.2,114.7 478.2,108.7z" fill="#bf0000"/>
<path d="M453.9,165.2 454.8,149.1 450.9,161.5z" fill="#ffaf00"/>
<path d="M423.9,269.6 427.8,265.5 424.8,268.2z" fill="#0020ff"/>
<path d="M487.2,129.1 488.1,122.4 484.2,121.5z" fill="#ff0000"/>
<path d="M477.3,116.1 478.2,108.7 474.3,110.1z" fill="#bf0000"/>
<path d="M490.2,137.4 494.1,137.9 491.1,129.8z" fill="#ff3000"/>
<path d="M470.4,113.9 471.3,104.8 467.4,108.9z" fill="#af0000"/>
<path d="M439.5,242.7 443.4,232.7 440.4,232.6z" fill="#00bfff"/>
<path d="M470.4,113.9 474.3,110.1 471.3,104.8z" fill="#af0000"/>
<path d="M449.1,194 453,181.4 450,177.9z" fill="#cfff30"/>
<path d="M458.7,137.9 459.6,123.7 455.7,133.9z" fill="#ff2000"/>
<path d="M454.8,149.1 458.7,137.9 455.7,133.9z" fill="#ff5000"/>
<path d="M420,271.7 420.9,272.7 417,274.8z" fill="#0000ff"/>
<path d="M453,181.4 453.9,165.2 450,177.9z" fill="#ffff00"/>
<path d="M493.3,146.5 497.2,146.6 494.1,137.9z" fill="#ff6000"/>
<path d="M392.4,258.6 396.3,267.5 393.3,266.5z" fill="#0030ff"/>
<path d="M508.3,199 512.2,197 509.2,186.4z" fill="#9fff60"/>
<path d="M490.2,137.4 491.1,129.8 487.2,129.1z" fill="#ff2000"/>
<path d="M382.5,244.1 386.4,255.6 383.4,253.6z" fill="#0070ff"/>
<path d="M466.5,120 467.4,108.9 463.5,115.3z" fill="#bf0000"/>
<path d="M505.3,187.9 509.2,186.4 506.2,176z" fill="#cfff30"/>
<path d="M496.3,156.1 500.2,155.9 497.2,146.6z" fill="#ff8f00"/>
<path d="M356.6,202 357.5,212.7 353.6,199.5z" fill="#60ff9f"/>
<path d="M462.6,128.1 463.5,115.3 459.6,123.7z" fill="#ef0000"/>
<path d="M447.3,222 448.2,209 444.3,221z" fill="#20ffdf"/>
<path d="M502.3,177 506.2,176 503.2,165.8z" fill="#ffef00"/>
<path d="M448.2,209 452.1,196.9 449.1,194z" fill="#80ff80"/>
<path d="M499.3,166.4 503.2,165.8 500.2,155.9z" fill="#ffbf00"/>
<path d="M480.3,122.8 484.2,121.5 481.2,114.7z" fill="#df0000"/>
<path d="M453.9,165.2 457.8,153.3 454.8,149.1z" fill="#ff9f00"/>
<path d="M443.4,232.7 447.3,222 444.3,221z" fill="#00ffff"/>
<path d="M452.1,196.9 453,181.4 449.1,194z" fill="#afff50"/>
<path d="M458.7,137.9 462.6,128.1 459.6,123.7z" fill="#ff1000"/>
<path d="M369.6,223.7 370.5,234.3 366.6,221.1z" fill="#00efff"/>
<path d="M466.5,120 470.4,113.9 467.4,108.9z" fill="#bf0000"/>
<path d="M457.8,153.3 458.7,137.9 454.8,149.1z" fill="#ff7000"/>
<path d="M493.3,146.5 494.1,137.9 490.2,137.4z" fill="#ff5000"/>
<path d="M480.3,122.8 481.2,114.7 477.3,116.1z" fill="#cf0000"/>
<path d="M420,271.7 423.9,269.6 420.9,272.7z" fill="#0010ff"/>
<path d="M508.3,199 509.2,186.4 505.3,187.9z" fill="#afff50"/>
<path d="M392.4,258.6 393.3,266.5 389.4,257.3z" fill="#0040ff"/>
<path d="M462.6,128.1 466.5,120 463.5,115.3z" fill="#df0000"/>
<path d="M505.3,187.9 506.2,176 502.3,177z" fill="#dfff20"/>
<path d="M473.4,119.7 474.3,110.1 470.4,113.9z" fill="#bf0000"/>
<path d="M496.3,156.1 497.2,146.6 493.3,146.5z" fill="#ff8000"/>
<path d="M473.4,119.7 477.3,116.1 474.3,110.1z" fill="#bf0000"/>
<path d="M453,181.4 456.9,169.3 453.9,165.2z" fill="#ffef00"/>
<path d="M502.3,177 503.2,165.8 499.3,166.4z" fill="#ffdf00"/>
<path d="M499.3,166.4 500.2,155.9 496.3,156.1z" fill="#ffaf00"/>
<path d="M359.6,204.6 363.5,218.4 360.5,215.6z" fill="#40ffbf"/>
<path d="M434.8,256.2 435.6,251.7 431.7,259.4z" fill="#0060ff"/>
<path d="M438.7,249.3 439.5,242.7 435.6,251.7z" fill="#008fff"/>
<path d="M483.3,130.4 487.2,129.1 484.2,121.5z" fill="#ff0000"/>
<path d="M456.9,169.3 457.8,153.3 453.9,165.2z" fill="#ffbf00"/>
<path d="M382.5,244.1 383.4,253.6 379.5,241.9z" fill="#008fff"/>
<path d="M409.2,271.7 410.1,276.4 406.2,273.3z" fill="#0000ff"/>
<path d="M451.2,211 452.1,196.9 448.2,209z" fill="#60ff9f"/>
<path d="M409.2,271.7 413.1,274.5 410.1,276.4z" fill="#0000ff"/>
<path d="M372.6,226.3 376.5,239.5 373.5,237z" fill="#00cfff"/>
<path d="M461.7,142.5 462.6,128.1 458.7,137.9z" fill="#ff3000"/>
<path d="M447.3,222 451.2,211 448.2,209z" fill="#40ffbf"/>
<path d="M402.3,267.6 406.2,273.3 403.2,273.9z" fill="#0010ff"/>
<path d="M457.8,153.3 461.7,142.5 458.7,137.9z" fill="#ff6000"/>
<path d="M442.6,241.2 443.4,232.7 439.5,242.7z" fill="#00bfff"/>
<path d="M430.9,261.7 431.7,259.4 427.8,265.5z" fill="#0040ff"/>
<path d="M483.3,130.4 484.2,121.5 480.3,122.8z" fill="#ef0000"/>
<path d="M452.1,196.9 456,185.1 453,181.4z" fill="#bfff40"/>
<path d="M469.5,125.5 470.4,113.9 466.5,120z" fill="#df0000"/>
<path d="M486.3,138.7 490.2,137.4 487.2,129.1z" fill="#ff3000"/>
<path d="M402.3,267.6 403.2,273.9 399.3,267.9z" fill="#0020ff"/>
<path d="M504.4,201 508.3,199 505.3,187.9z" fill="#9fff60"/>
<path d="M456,185.1 456.9,169.3 453,181.4z" fill="#efff10"/>
<path d="M465.6,133.2 466.5,120 462.6,128.1z" fill="#ff0000"/>
<path d="M469.5,125.5 473.4,119.7 470.4,113.9z" fill="#cf0000"/>
<path d="M476.4,126.3 480.3,122.8 477.3,116.1z" fill="#df0000"/>
<path d="M416.1,271.6 417,274.8 413.1,274.5z" fill="#0010ff"/>
<path d="M501.4,189.7 505.3,187.9 502.3,177z" fill="#cfff30"/>
<path d="M476.4,126.3 477.3,116.1 473.4,119.7z" fill="#df0000"/>
<path d="M446.5,232.2 447.3,222 443.4,232.7z" fill="#00efff"/>
<path d="M461.7,142.5 465.6,133.2 462.6,128.1z" fill="#ff2000"/>
<path d="M489.4,147.8 493.3,146.5 490.2,137.4z" fill="#ff5000"/>
<path d="M456.9,169.3 460.8,158 457.8,153.3z" fill="#ffaf00"/>
<path d="M486.3,138.7 487.2,129.1 483.3,130.4z" fill="#ff2000"/>
<path d="M460.8,158 461.7,142.5 457.8,153.3z" fill="#ff8000"/>
<path d="M498.4,178.7 502.3,177 499.3,166.4z" fill="#ffef00"/>
<path d="M465.6,133.2 469.5,125.5 466.5,120z" fill="#ef0000"/>
<path d="M434.8,256.2 438.7,249.3 435.6,251.7z" fill="#0080ff"/>
<path d="M492.4,157.6 496.3,156.1 493.3,146.5z" fill="#ff8000"/>
<path d="M495.4,167.9 499.3,166.4 496.3,156.1z" fill="#ffaf00"/>
<path d="M438.7,249.3 442.6,241.2 439.5,242.7z" fill="#009fff"/>
<path d="M359.6,204.6 360.5,215.6 356.6,202z" fill="#60ff9f"/>
<path d="M427,265.5 427.8,265.5 423.9,269.6z" fill="#0030ff"/>
<path d="M504.4,201 505.3,187.9 501.4,189.7z" fill="#afff50"/>
<path d="M451.2,211 455.1,199.9 452.1,196.9z" fill="#80ff80"/>
<path d="M416.1,271.6 420,271.7 417,274.8z" fill="#0010ff"/>
<path d="M455.1,199.9 456,185.1 452.1,196.9z" fill="#afff50"/>
<path d="M385.5,246.1 389.4,257.3 386.4,255.6z" fill="#0070ff"/>
<path d="M430.9,261.7 434.8,256.2 431.7,259.4z" fill="#0060ff"/>
<path d="M489.4,147.8 490.2,137.4 486.3,138.7z" fill="#ff4000"/>
<path d="M501.4,189.7 502.3,177 498.4,178.7z" fill="#efff10"/>
<path d="M372.6,226.3 373.5,237 369.6,223.7z" fill="#00efff"/>
<path d="M395.4,259.5 399.3,267.9 396.3,267.5z" fill="#0040ff"/>
<path d="M442.6,241.2 446.5,232.2 443.4,232.7z" fill="#00cfff"/>
<path d="M456,185.1 459.9,173.8 456.9,169.3z" fill="#ffef00"/>
<path d="M479.4,133.6 483.3,130.4 480.3,122.8z" fill="#ff0000"/>
<path d="M450.4,222.6 451.2,211 447.3,222z" fill="#30ffcf"/>
<path d="M459.9,173.8 460.8,158 456.9,169.3z" fill="#ffbf00"/>
<path d="M498.4,178.7 499.3,166.4 495.4,167.9z" fill="#ffdf00"/>
<path d="M472.5,131.7 473.4,119.7 469.5,125.5z" fill="#ef0000"/>
<path d="M492.4,157.6 493.3,146.5 489.4,147.8z" fill="#ff7000"/>
<path d="M464.7,147.8 465.6,133.2 461.7,142.5z" fill="#ff4000"/>
<path d="M495.4,167.9 496.3,156.1 492.4,157.6z" fill="#ff9f00"/>
<path d="M460.8,158 464.7,147.8 461.7,142.5z" fill="#ff7000"/>
<path d="M479.4,133.6 480.3,122.8 476.4,126.3z" fill="#ff0000"/>
<path d="M472.5,131.7 476.4,126.3 473.4,119.7z" fill="#ef0000"/>
<path d="M468.6,139 469.5,125.5 465.6,133.2z" fill="#ff1000"/>
<path d="M362.6,207.1 366.6,221.1 363.5,218.4z" fill="#40ffbf"/>
<path d="M446.5,232.2 450.4,222.6 447.3,222z" fill="#10ffef"/>
<path d="M395.4,259.5 396.3,267.5 392.4,258.6z" fill="#0050ff"/>
<path d="M427,265.5 430.9,261.7 427.8,265.5z" fill="#0040ff"/>
<path d="M482.4,141.8 486.3,138.7 483.3,130.4z" fill="#ff2000"/>
<path d="M500.5,202.9 504.4,201 501.4,189.7z" fill="#9fff60"/>
<path d="M464.7,147.8 468.6,139 465.6,133.2z" fill="#ff3000"/>
<path d="M455.1,199.9 459,189 456,185.1z" fill="#bfff40"/>
<path d="M468.6,139 472.5,131.7 469.5,125.5z" fill="#ff1000"/>
<path d="M459,189 459.9,173.8 456,185.1z" fill="#efff10"/>
<path d="M385.5,246.1 386.4,255.6 382.5,244.1z" fill="#008fff"/>
<path d="M375.6,228.7 379.5,241.9 376.5,239.5z" fill="#00cfff"/>
<path d="M459.9,173.8 463.8,163.2 460.8,158z" fill="#ffaf00"/>
<path d="M454.3,212.8 455.1,199.9 451.2,211z" fill="#70ff8f"/>
<path d="M463.8,163.2 464.7,147.8 460.8,158z" fill="#ff8f00"/>
<path d="M482.4,141.8 483.3,130.4 479.4,133.6z" fill="#ff2000"/>
<path d="M497.5,191.9 501.4,189.7 498.4,178.7z" fill="#cfff30"/>
<path d="M423.1,267.6 423.9,269.6 420,271.7z" fill="#0030ff"/>
<path d="M485.5,150.7 489.4,147.8 486.3,138.7z" fill="#ff5000"/>
<path d="M475.5,138.7 476.4,126.3 472.5,131.7z" fill="#ff1000"/>
<path d="M494.5,181 498.4,178.7 495.4,167.9z" fill="#ffef00"/>
<path d="M475.5,138.7 479.4,133.6 476.4,126.3z" fill="#ff1000"/>
<path d="M450.4,222.6 454.3,212.8 451.2,211z" fill="#40ffbf"/>
<path d="M488.5,160.3 492.4,157.6 489.4,147.8z" fill="#ff8000"/>
<path d="M491.5,170.4 495.4,167.9 492.4,157.6z" fill="#ffaf00"/>
<path d="M500.5,202.9 501.4,189.7 497.5,191.9z" fill="#afff50"/>
<path d="M467.7,153.7 468.6,139 464.7,147.8z" fill="#ff5000"/>
<path d="M485.5,150.7 486.3,138.7 482.4,141.8z" fill="#ff4000"/>
<path d="M471.6,145.5 472.5,131.7 468.6,139z" fill="#ff3000"/>
<path d="M463.8,163.2 467.7,153.7 464.7,147.8z" fill="#ff8000"/>
<path d="M497.5,191.9 498.4,178.7 494.5,181z" fill="#efff10"/>
<path d="M459,189 462.9,178.7 459.9,173.8z" fill="#ffff00"/>
<path d="M462.9,178.7 463.8,163.2 459.9,173.8z" fill="#ffcf00"/>
<path d="M488.5,160.3 489.4,147.8 485.5,150.7z" fill="#ff7000"/>
<path d="M458.2,202.8 459,189 455.1,199.9z" fill="#9fff60"/>
<path d="M494.5,181 495.4,167.9 491.5,170.4z" fill="#ffdf00"/>
<path d="M471.6,145.5 475.5,138.7 472.5,131.7z" fill="#ff3000"/>
<path d="M362.6,207.1 363.5,218.4 359.6,204.6z" fill="#60ff9f"/>
<path d="M491.5,170.4 492.4,157.6 488.5,160.3z" fill="#ff9f00"/>
<path d="M478.5,146.5 482.4,141.8 479.4,133.6z" fill="#ff3000"/>
<path d="M467.7,153.7 471.6,145.5 468.6,139z" fill="#ff5000"/>
<path d="M423.1,267.6 427,265.5 423.9,269.6z" fill="#0040ff"/>
<path d="M454.3,212.8 458.2,202.8 455.1,199.9z" fill="#80ff80"/>
<path d="M405.3,266.6 409.2,271.7 406.2,273.3z" fill="#0030ff"/>
<path d="M478.5,146.5 479.4,133.6 475.5,138.7z" fill="#ff3000"/>
<path d="M441.7,245.9 442.6,241.2 438.7,249.3z" fill="#00afff"/>
<path d="M412.2,269.3 413.1,274.5 409.2,271.7z" fill="#0020ff"/>
<path d="M445.6,238.9 446.5,232.2 442.6,241.2z" fill="#00cfff"/>
<path d="M405.3,266.6 406.2,273.3 402.3,267.6z" fill="#0030ff"/>
<path d="M375.6,228.7 376.5,239.5 372.6,226.3z" fill="#00efff"/>
<path d="M437.8,252 438.7,249.3 434.8,256.2z" fill="#008fff"/>
<path d="M466.8,169 467.7,153.7 463.8,163.2z" fill="#ff9f00"/>
<path d="M388.5,247.8 392.4,258.6 389.4,257.3z" fill="#0080ff"/>
<path d="M412.2,269.3 416.1,271.6 413.1,274.5z" fill="#0020ff"/>
<path d="M462.9,178.7 466.8,169 463.8,163.2z" fill="#ffcf00"/>
<path d="M481.6,155 485.5,150.7 482.4,141.8z" fill="#ff6000"/>
<path d="M449.5,231.1 450.4,222.6 446.5,232.2z" fill="#00ffff"/>
<path d="M496.6,204.8 500.5,202.9 497.5,191.9z" fill="#9fff60"/>
<path d="M474.6,152.7 475.5,138.7 471.6,145.5z" fill="#ff5000"/>
<path d="M462.1,193.1 462.9,178.7 459,189z" fill="#dfff20"/>
<path d="M481.6,155 482.4,141.8 478.5,146.5z" fill="#ff5000"/>
<path d="M470.7,160.3 471.6,145.5 467.7,153.7z" fill="#ff7000"/>
<path d="M493.6,194.3 497.5,191.9 494.5,181z" fill="#cfff30"/>
<path d="M474.6,152.7 478.5,146.5 475.5,138.7z" fill="#ff5000"/>
<path d="M365.7,209.6 369.6,223.7 366.6,221.1z" fill="#40ffbf"/>
<path d="M458.2,202.8 462.1,193.1 459,189z" fill="#afff50"/>
<path d="M484.6,164.1 488.5,160.3 485.5,150.7z" fill="#ff8f00"/>
<path d="M490.6,183.9 494.5,181 491.5,170.4z" fill="#ffef00"/>
<path d="M487.6,173.8 491.5,170.4 488.5,160.3z" fill="#ffbf00"/>
<path d="M466.8,169 470.7,160.3 467.7,153.7z" fill="#ff8f00"/>
<path d="M453.4,222.8 454.3,212.8 450.4,222.6z" fill="#40ffbf"/>
<path d="M433.9,256.9 434.8,256.2 430.9,261.7z" fill="#0070ff"/>
<path d="M398.4,259.8 402.3,267.6 399.3,267.9z" fill="#0050ff"/>
<path d="M470.7,160.3 474.6,152.7 471.6,145.5z" fill="#ff7000"/>
<path d="M484.6,164.1 485.5,150.7 481.6,155z" fill="#ff8000"/>
<path d="M496.6,204.8 497.5,191.9 493.6,194.3z" fill="#afff50"/>
<path d="M466,183.8 466.8,169 462.9,178.7z" fill="#ffef00"/>
<path d="M493.6,194.3 494.5,181 490.6,183.9z" fill="#dfff20"/>
<path d="M487.6,173.8 488.5,160.3 484.6,164.1z" fill="#ffaf00"/>
<path d="M378.6,231.1 382.5,244.1 379.5,241.9z" fill="#00cfff"/>
<path d="M419.2,267.7 420,271.7 416.1,271.6z" fill="#0030ff"/>
<path d="M490.6,183.9 491.5,170.4 487.6,173.8z" fill="#ffdf00"/>
<path d="M477.7,160.6 478.5,146.5 474.6,152.7z" fill="#ff7000"/>
<path d="M462.1,193.1 466,183.8 462.9,178.7z" fill="#efff10"/>
<path d="M477.7,160.6 481.6,155 478.5,146.5z" fill="#ff7000"/>
<path d="M441.7,245.9 445.6,238.9 442.6,241.2z" fill="#00bfff"/>
<path d="M388.5,247.8 389.4,257.3 385.5,246.1z" fill="#009fff"/>
<path d="M457.3,214.3 458.2,202.8 454.3,212.8z" fill="#70ff8f"/>
<path d="M445.6,238.9 449.5,231.1 446.5,232.2z" fill="#00efff"/>
<path d="M398.4,259.8 399.3,267.9 395.4,259.5z" fill="#0060ff"/>
<path d="M469.9,175.2 470.7,160.3 466.8,169z" fill="#ffbf00"/>
<path d="M437.8,252 441.7,245.9 438.7,249.3z" fill="#009fff"/>
<path d="M473.8,167.4 474.6,152.7 470.7,160.3z" fill="#ff8f00"/>
<path d="M449.5,231.1 453.4,222.8 450.4,222.6z" fill="#20ffdf"/>
<path d="M466,183.8 469.9,175.2 466.8,169z" fill="#ffdf00"/>
<path d="M480.7,169.1 484.6,164.1 481.6,155z" fill="#ff9f00"/>
<path d="M473.8,167.4 477.7,160.6 474.6,152.7z" fill="#ff8f00"/>
<path d="M461.2,205.7 462.1,193.1 458.2,202.8z" fill="#9fff60"/>
<path d="M480.7,169.1 481.6,155 477.7,160.6z" fill="#ff8f00"/>
<path d="M419.2,267.7 423.1,267.6 420,271.7z" fill="#0040ff"/>
<path d="M469.9,175.2 473.8,167.4 470.7,160.3z" fill="#ffaf00"/>
<path d="M453.4,222.8 457.3,214.3 454.3,212.8z" fill="#50ffaf"/>
<path d="M430,260.4 430.9,261.7 427,265.5z" fill="#0060ff"/>
<path d="M483.7,178.1 487.6,173.8 484.6,164.1z" fill="#ffcf00"/>
<path d="M433.9,256.9 437.8,252 434.8,256.2z" fill="#0080ff"/>
<path d="M365.7,209.6 366.6,221.1 362.6,207.1z" fill="#60ff9f"/>
<path d="M486.7,187.4 490.6,183.9 487.6,173.8z" fill="#ffff00"/>
<path d="M492.7,206.8 496.6,204.8 493.6,194.3z" fill="#9fff60"/>
<path d="M489.7,197 493.6,194.3 490.6,183.9z" fill="#cfff30"/>
<path d="M465.1,197.3 466,183.8 462.1,193.1z" fill="#cfff30"/>
<path d="M483.7,178.1 484.6,164.1 480.7,169.1z" fill="#ffbf00"/>
<path d="M457.3,214.3 461.2,205.7 458.2,202.8z" fill="#80ff80"/>
<path d="M476.8,175 477.7,160.6 473.8,167.4z" fill="#ffaf00"/>
<path d="M476.8,175 480.7,169.1 477.7,160.6z" fill="#ffaf00"/>
<path d="M486.7,187.4 487.6,173.8 483.7,178.1z" fill="#ffef00"/>
<path d="M469,189.3 469.9,175.2 466,183.8z" fill="#ffff00"/>
<path d="M378.6,231.1 379.5,241.9 375.6,228.7z" fill="#00efff"/>
<path d="M472.9,181.8 473.8,167.4 469.9,175.2z" fill="#ffcf00"/>
<path d="M489.7,197 490.6,183.9 486.7,187.4z" fill="#dfff20"/>
<path d="M461.2,205.7 465.1,197.3 462.1,193.1z" fill="#afff50"/>
<path d="M492.7,206.8 493.6,194.3 489.7,197z" fill="#afff50"/>
<path d="M472.9,181.8 476.8,175 473.8,167.4z" fill="#ffcf00"/>
<path d="M465.1,197.3 469,189.3 466,183.8z" fill="#dfff20"/>
<path d="M479.8,183.1 483.7,178.1 480.7,169.1z" fill="#ffdf00"/>
<path d="M469,189.3 472.9,181.8 469.9,175.2z" fill="#ffff00"/>
<path d="M368.7,212.2 372.6,226.3 369.6,223.7z" fill="#40ffbf"/>
<path d="M479.8,183.1 480.7,169.1 476.8,175z" fill="#ffdf00"/>
<path d="M391.5,249.1 395.4,259.5 392.4,258.6z" fill="#008fff"/>
<path d="M430,260.4 433.9,256.9 430.9,261.7z" fill="#0070ff"/>
<path d="M482.8,191.4 486.7,187.4 483.7,178.1z" fill="#efff10"/>
<path d="M475.9,188.7 476.8,175 472.9,181.8z" fill="#ffef00"/>
<path d="M482.8,191.4 483.7,178.1 479.8,183.1z" fill="#ffff00"/>
<path d="M426.1,262.4 427,265.5 423.1,267.6z" fill="#0060ff"/>
<path d="M485.8,200 489.7,197 486.7,187.4z" fill="#bfff40"/>
<path d="M475.9,188.7 479.8,183.1 476.8,175z" fill="#ffef00"/>
<path d="M408.3,264.8 412.2,269.3 409.2,271.7z" fill="#0050ff"/>
<path d="M381.6,233.3 385.5,246.1 382.5,244.1z" fill="#00cfff"/>
<path d="M408.3,264.8 409.2,271.7 405.3,266.6z" fill="#0050ff"/>
<path d="M452.5,229.5 453.4,222.8 449.5,231.1z" fill="#20ffdf"/>
<path d="M456.4,222.6 457.3,214.3 453.4,222.8z" fill="#40ffbf"/>
<path d="M472,195 472.9,181.8 469,189.3z" fill="#efff10"/>
<path d="M448.6,235.9 449.5,231.1 445.6,238.9z" fill="#00efff"/>
<path d="M488.8,208.7 492.7,206.8 489.7,197z" fill="#9fff60"/>
<path d="M460.3,215.6 461.2,205.7 457.3,214.3z" fill="#70ff8f"/>
<path d="M468.1,201.6 469,189.3 465.1,197.3z" fill="#bfff40"/>
<path d="M464.2,208.5 465.1,197.3 461.2,205.7z" fill="#9fff60"/>
<path d="M485.8,200 486.7,187.4 482.8,191.4z" fill="#cfff30"/>
<path d="M391.5,249.1 392.4,258.6 388.5,247.8z" fill="#009fff"/>
<path d="M415.3,265.8 416.1,271.6 412.2,269.3z" fill="#0050ff"/>
<path d="M472,195 475.9,188.7 472.9,181.8z" fill="#efff10"/>
<path d="M444.7,241.8 445.6,238.9 441.7,245.9z" fill="#00cfff"/>
<path d="M401.4,259.5 405.3,266.6 402.3,267.6z" fill="#0060ff"/>
<path d="M488.8,208.7 489.7,197 485.8,200z" fill="#9fff60"/>
<path d="M478.9,195.9 482.8,191.4 479.8,183.1z" fill="#dfff20"/>
<path d="M478.9,195.9 479.8,183.1 475.9,188.7z" fill="#efff10"/>
<path d="M468.1,201.6 472,195 469,189.3z" fill="#cfff30"/>
<path d="M368.7,212.2 369.6,223.7 365.7,209.6z" fill="#60ff9f"/>
<path d="M415.3,265.8 419.2,267.7 416.1,271.6z" fill="#0050ff"/>
<path d="M426.1,262.4 430,260.4 427,265.5z" fill="#0070ff"/>
<path d="M464.2,208.5 468.1,201.6 465.1,197.3z" fill="#9fff60"/>
<path d="M401.4,259.5 402.3,267.6 398.4,259.8z" fill="#0070ff"/>
<path d="M440.8,246.9 441.7,245.9 437.8,252z" fill="#00bfff"/>
<path d="M460.3,215.6 464.2,208.5 461.2,205.7z" fill="#80ff80"/>
<path d="M456.4,222.6 460.3,215.6 457.3,214.3z" fill="#60ff9f"/>
<path d="M452.5,229.5 456.4,222.6 453.4,222.8z" fill="#30ffcf"/>
<path d="M481.9,203.3 485.8,200 482.8,191.4z" fill="#bfff40"/>
<path d="M381.6,233.3 382.5,244.1 378.6,231.1z" fill="#00ffff"/>
<path d="M475,200.8 475.9,188.7 472,195z" fill="#cfff30"/>
<path d="M448.6,235.9 452.5,229.5 449.5,231.1z" fill="#10ffef"/>
<path d="M481.9,203.3 482.8,191.4 478.9,195.9z" fill="#bfff40"/>
<path d="M475,200.8 478.9,195.9 475.9,188.7z" fill="#cfff30"/>
<path d="M371.7,214.7 375.6,228.7 372.6,226.3z" fill="#40ffbf"/>
<path d="M444.7,241.8 448.6,235.9 445.6,238.9z" fill="#00efff"/>
<path d="M436.9,251.1 437.8,252 433.9,256.9z" fill="#009fff"/>
<path d="M484.9,210.7 488.8,208.7 485.8,200z" fill="#8fff70"/>
<path d="M471.1,205.9 472,195 468.1,201.6z" fill="#afff50"/>
<path d="M422.2,262.7 423.1,267.6 419.2,267.7z" fill="#0060ff"/>
<path d="M484.9,210.7 485.8,200 481.9,203.3z" fill="#9fff60"/>
<path d="M471.1,205.9 475,200.8 472,195z" fill="#afff50"/>
<path d="M440.8,246.9 444.7,241.8 441.7,245.9z" fill="#00cfff"/>
<path d="M394.5,250.1 398.4,259.8 395.4,259.5z" fill="#008fff"/>
<path d="M467.2,211.3 468.1,201.6 464.2,208.5z" fill="#8fff70"/>
<path d="M384.6,235.4 388.5,247.8 385.5,246.1z" fill="#00dfff"/>
<path d="M478,206.7 481.9,203.3 478.9,195.9z" fill="#afff50"/>
<path d="M478,206.7 478.9,195.9 475,200.8z" fill="#afff50"/>
<path d="M422.2,262.7 426.1,262.4 423.1,267.6z" fill="#0070ff"/>
<path d="M463.3,216.7 464.2,208.5 460.3,215.6z" fill="#70ff8f"/>
<path d="M467.2,211.3 471.1,205.9 468.1,201.6z" fill="#9fff60"/>
<path d="M433,254.3 433.9,256.9 430,260.4z" fill="#008fff"/>
<path d="M436.9,251.1 440.8,246.9 437.8,252z" fill="#00bfff"/>
<path d="M371.7,214.7 372.6,226.3 368.7,212.2z" fill="#60ff9f"/>
<path d="M394.5,250.1 395.4,259.5 391.5,249.1z" fill="#00afff"/>
<path d="M459.4,222.1 460.3,215.6 456.4,222.6z" fill="#50ffaf"/>
<path d="M463.3,216.7 467.2,211.3 464.2,208.5z" fill="#80ff80"/>
<path d="M481,212.7 484.9,210.7 481.9,203.3z" fill="#8fff70"/>
<path d="M474.1,210.3 475,200.8 471.1,205.9z" fill="#9fff60"/>
<path d="M455.5,227.4 456.4,222.6 452.5,229.5z" fill="#40ffbf"/>
<path d="M481,212.7 481.9,203.3 478,206.7z" fill="#9fff60"/>
<path d="M474.1,210.3 478,206.7 475,200.8z" fill="#9fff60"/>
<path d="M384.6,235.4 385.5,246.1 381.6,233.3z" fill="#00ffff"/>
<path d="M411.4,262.2 412.2,269.3 408.3,264.8z" fill="#0070ff"/>
<path d="M411.4,262.2 415.3,265.8 412.2,269.3z" fill="#0070ff"/>
<path d="M404.4,258.5 408.3,264.8 405.3,266.6z" fill="#0080ff"/>
<path d="M374.7,217.3 378.6,231.1 375.6,228.7z" fill="#40ffbf"/>
<path d="M459.4,222.1 463.3,216.7 460.3,215.6z" fill="#60ff9f"/>
<path d="M451.6,232.4 452.5,229.5 448.6,235.9z" fill="#20ffdf"/>
<path d="M433,254.3 436.9,251.1 433.9,256.9z" fill="#00afff"/>
<path d="M404.4,258.5 405.3,266.6 401.4,259.5z" fill="#0080ff"/>
<path d="M470.2,213.9 471.1,205.9 467.2,211.3z" fill="#8fff70"/>
<path d="M455.5,227.4 459.4,222.1 456.4,222.6z" fill="#50ffaf"/>
<path d="M429.1,256.2 430,260.4 426.1,262.4z" fill="#008fff"/>
<path d="M418.3,261.5 419.2,267.7 415.3,265.8z" fill="#0070ff"/>
<path d="M447.7,237 448.6,235.9 444.7,241.8z" fill="#00ffff"/>
<path d="M470.2,213.9 474.1,210.3 471.1,205.9z" fill="#8fff70"/>
<path d="M387.6,237.4 391.5,249.1 388.5,247.8z" fill="#00dfff"/>
<path d="M477.1,214.6 481,212.7 478,206.7z" fill="#8fff70"/>
<path d="M477.1,214.6 478,206.7 474.1,210.3z" fill="#8fff70"/>
<path d="M451.6,232.4 455.5,227.4 452.5,229.5z" fill="#30ffcf"/>
<path d="M418.3,261.5 422.2,262.7 419.2,267.7z" fill="#0080ff"/>
<path d="M397.5,250.6 401.4,259.5 398.4,259.8z" fill="#009fff"/>
<path d="M466.3,217.6 467.2,211.3 463.3,216.7z" fill="#80ff80"/>
<path d="M374.7,217.3 375.6,228.7 371.7,214.7z" fill="#60ff9f"/>
<path d="M443.8,241.1 444.7,241.8 440.8,246.9z" fill="#00efff"/>
<path d="M429.1,256.2 433,254.3 430,260.4z" fill="#009fff"/>
<path d="M466.3,217.6 470.2,213.9 467.2,211.3z" fill="#80ff80"/>
<path d="M447.7,237 451.6,232.4 448.6,235.9z" fill="#20ffdf"/>
<path d="M397.5,250.6 398.4,259.8 394.5,250.1z" fill="#00bfff"/>
<path d="M387.6,237.4 388.5,247.8 384.6,235.4z" fill="#00ffff"/>
<path d="M462.4,221.3 463.3,216.7 459.4,222.1z" fill="#70ff8f"/>
<path d="M377.7,219.8 381.6,233.3 378.6,231.1z" fill="#40ffbf"/>
<path d="M473.2,216.5 474.1,210.3 470.2,213.9z" fill="#8fff70"/>
<path d="M439.9,244.6 440.8,246.9 436.9,251.1z" fill="#00dfff"/>
<path d="M425.2,256.9 426.1,262.4 422.2,262.7z" fill="#009fff"/>
<path d="M473.2,216.5 477.1,214.6 474.1,210.3z" fill="#8fff70"/>
<path d="M443.8,241.1 447.7,237 444.7,241.8z" fill="#00ffff"/>
<path d="M462.4,221.3 466.3,217.6 463.3,216.7z" fill="#70ff8f"/>
<path d="M458.5,225 459.4,222.1 455.5,227.4z" fill="#50ffaf"/>
<path d="M425.2,256.9 429.1,256.2 426.1,262.4z" fill="#00afff"/>
<path d="M407.5,257 411.4,262.2 408.3,264.8z" fill="#009fff"/>
<path d="M377.7,219.8 378.6,231.1 374.7,217.3z" fill="#60ff9f"/>
<path d="M390.6,239.1 394.5,250.1 391.5,249.1z" fill="#00efff"/>
<path d="M407.5,257 408.3,264.8 404.4,258.5z" fill="#009fff"/>
<path d="M414.4,258.8 415.3,265.8 411.4,262.2z" fill="#008fff"/>
<path d="M439.9,244.6 443.8,241.1 440.8,246.9z" fill="#00efff"/>
<path d="M469.3,218.5 470.2,213.9 466.3,217.6z" fill="#80ff80"/>
<path d="M436,247.4 436.9,251.1 433,254.3z" fill="#00cfff"/>
<path d="M458.5,225 462.4,221.3 459.4,222.1z" fill="#60ff9f"/>
<path d="M454.6,228.5 455.5,227.4 451.6,232.4z" fill="#40ffbf"/>
<path d="M414.4,258.8 418.3,261.5 415.3,265.8z" fill="#009fff"/>
<path d="M469.3,218.5 473.2,216.5 470.2,213.9z" fill="#8fff70"/>
<path d="M400.5,250.8 404.4,258.5 401.4,259.5z" fill="#00bfff"/>
<path d="M380.7,222.3 384.6,235.4 381.6,233.3z" fill="#40ffbf"/>
<path d="M390.6,239.1 391.5,249.1 387.6,237.4z" fill="#00ffff"/>
<path d="M400.5,250.8 401.4,259.5 397.5,250.6z" fill="#00cfff"/>
<path d="M454.6,228.5 458.5,225 455.5,227.4z" fill="#50ffaf"/>
<path d="M421.3,256.4 422.2,262.7 418.3,261.5z" fill="#00afff"/>
<path d="M450.7,231.8 451.6,232.4 447.7,237z" fill="#30ffcf"/>
<path d="M436,247.4 439.9,244.6 436.9,251.1z" fill="#00efff"/>
<path d="M465.4,220.4 466.3,217.6 462.4,221.3z" fill="#80ff80"/>
<path d="M432.1,249.3 433,254.3 429.1,256.2z" fill="#00cfff"/>
<path d="M421.3,256.4 425.2,256.9 422.2,262.7z" fill="#00afff"/>
<path d="M465.4,220.4 469.3,218.5 466.3,217.6z" fill="#80ff80"/>
<path d="M380.7,222.3 381.6,233.3 377.7,219.8z" fill="#60ff9f"/>
<path d="M450.7,231.8 454.6,228.5 451.6,232.4z" fill="#40ffbf"/>
<path d="M446.8,234.8 447.7,237 443.8,241.1z" fill="#20ffdf"/>
<path d="M393.6,240.6 397.5,250.6 394.5,250.1z" fill="#00efff"/>
<path d="M432.1,249.3 436,247.4 433,254.3z" fill="#00dfff"/>
<path d="M461.5,222.4 462.4,221.3 458.5,225z" fill="#70ff8f"/>
<path d="M383.7,224.9 387.6,237.4 384.6,235.4z" fill="#40ffbf"/>
<path d="M393.6,240.6 394.5,250.1 390.6,239.1z" fill="#10ffef"/>
<path d="M410.5,254.8 411.4,262.2 407.5,257z" fill="#00bfff"/>
<path d="M461.5,222.4 465.4,220.4 462.4,221.3z" fill="#80ff80"/>
<path d="M410.5,254.8 414.4,258.8 411.4,262.2z" fill="#00bfff"/>
<path d="M446.8,234.8 450.7,231.8 447.7,237z" fill="#40ffbf"/>
<path d="M428.2,250.4 429.1,256.2 425.2,256.9z" fill="#00cfff"/>
<path d="M442.9,237.5 443.8,241.1 439.9,244.6z" fill="#20ffdf"/>
<path d="M403.6,250.4 407.5,257 404.4,258.5z" fill="#00cfff"/>
<path d="M417.4,254.8 418.3,261.5 414.4,258.8z" fill="#00bfff"/>
<path d="M403.6,250.4 404.4,258.5 400.5,250.8z" fill="#00dfff"/>
<path d="M457.6,224.3 458.5,225 454.6,228.5z" fill="#70ff8f"/>
<path d="M383.7,224.9 384.6,235.4 380.7,222.3z" fill="#60ff9f"/>
<path d="M417.4,254.8 421.3,256.4 418.3,261.5z" fill="#00cfff"/>
<path d="M428.2,250.4 432.1,249.3 429.1,256.2z" fill="#00dfff"/>
<path d="M442.9,237.5 446.8,234.8 443.8,241.1z" fill="#30ffcf"/>
<path d="M457.6,224.3 461.5,222.4 458.5,225z" fill="#80ff80"/>
<path d="M439,239.9 439.9,244.6 436,247.4z" fill="#10ffef"/>
<path d="M396.6,241.9 400.5,250.8 397.5,250.6z" fill="#00ffff"/>
<path d="M386.7,227.4 390.6,239.1 387.6,237.4z" fill="#40ffbf"/>
<path d="M453.7,226.3 454.6,228.5 450.7,231.8z" fill="#60ff9f"/>
<path d="M424.3,250.7 425.2,256.9 421.3,256.4z" fill="#00dfff"/>
<path d="M396.6,241.9 397.5,250.6 393.6,240.6z" fill="#10ffef"/>
<path d="M439,239.9 442.9,237.5 439.9,244.6z" fill="#30ffcf"/>
<path d="M453.7,226.3 457.6,224.3 454.6,228.5z" fill="#80ff80"/>
<path d="M424.3,250.7 428.2,250.4 425.2,256.9z" fill="#00efff"/>
<path d="M386.7,227.4 387.6,237.4 383.7,224.9z" fill="#60ff9f"/>
<path d="M435.1,241.8 436,247.4 432.1,249.3z" fill="#10ffef"/>
<path d="M449.8,228.2 450.7,231.8 446.8,234.8z" fill="#60ff9f"/>
<path d="M406.6,249.7 410.5,254.8 407.5,257z" fill="#00efff"/>
<path d="M413.5,252.1 414.4,258.8 410.5,254.8z" fill="#00dfff"/>
<path d="M406.6,249.7 407.5,257 403.6,250.4z" fill="#00efff"/>
<path d="M413.5,252.1 417.4,254.8 414.4,258.8z" fill="#00dfff"/>
<path d="M435.1,241.8 439,239.9 436,247.4z" fill="#30ffcf"/>
<path d="M389.7,230 393.6,240.6 390.6,239.1z" fill="#50ffaf"/>
<path d="M449.8,228.2 453.7,226.3 450.7,231.8z" fill="#70ff8f"/>
<path d="M399.7,243 403.6,250.4 400.5,250.8z" fill="#10ffef"/>
<path d="M420.4,250.2 421.3,256.4 417.4,254.8z" fill="#00efff"/>
<path d="M431.2,243.4 432.1,249.3 428.2,250.4z" fill="#10ffef"/>
<path d="M445.9,230.2 446.8,234.8 442.9,237.5z" fill="#60ff9f"/>
<path d="M399.7,243 400.5,250.8 396.6,241.9z" fill="#20ffdf"/>
<path d="M389.7,230 390.6,239.1 386.7,227.4z" fill="#70ff8f"/>
<path d="M420.4,250.2 424.3,250.7 421.3,256.4z" fill="#00ffff"/>
<path d="M431.2,243.4 435.1,241.8 432.1,249.3z" fill="#30ffcf"/>
<path d="M445.9,230.2 449.8,228.2 446.8,234.8z" fill="#70ff8f"/>
<path d="M442,232.2 442.9,237.5 439,239.9z" fill="#60ff9f"/>
<path d="M392.7,232.5 396.6,241.9 393.6,240.6z" fill="#50ffaf"/>
<path d="M427.3,244.5 428.2,250.4 424.3,250.7z" fill="#20ffdf"/>
<path d="M409.6,248.6 413.5,252.1 410.5,254.8z" fill="#10ffef"/>
<path d="M409.6,248.6 410.5,254.8 406.6,249.7z" fill="#10ffef"/>
<path d="M416.5,249 417.4,254.8 413.5,252.1z" fill="#10ffef"/>
<path d="M402.7,243.8 406.6,249.7 403.6,250.4z" fill="#20ffdf"/>
<path d="M392.7,232.5 393.6,240.6 389.7,230z" fill="#70ff8f"/>
<path d="M442,232.2 445.9,230.2 442.9,237.5z" fill="#70ff8f"/>
<path d="M427.3,244.5 431.2,243.4 428.2,250.4z" fill="#30ffcf"/>
<path d="M416.5,249 420.4,250.2 417.4,254.8z" fill="#10ffef"/>
<path d="M402.7,243.8 403.6,250.4 399.7,243z" fill="#30ffcf"/>
<path d="M438.1,234.1 439,239.9 435.1,241.8z" fill="#60ff9f"/>
<path d="M423.4,245.2 424.3,250.7 420.4,250.2z" fill="#30ffcf"/>
<path d="M395.8,235 399.7,243 396.6,241.9z" fill="#50ffaf"/>
<path d="M438.1,234.1 442,232.2 439,239.9z" fill="#70ff8f"/>
<path d="M423.4,245.2 427.3,244.5 424.3,250.7z" fill="#40ffbf"/>
<path d="M395.8,235 396.6,241.9 392.7,232.5z" fill="#70ff8f"/>
<path d="M434.2,236 435.1,241.8 431.2,243.4z" fill="#60ff9f"/>
<path d="M412.6,247.2 413.5,252.1 409.6,248.6z" fill="#30ffcf"/>
<path d="M405.7,244.5 409.6,248.6 406.6,249.7z" fill="#30ffcf"/>
<path d="M412.6,247.2 416.5,249 413.5,252.1z" fill="#30ffcf"/>
<path d="M405.7,244.5 406.6,249.7 402.7,243.8z" fill="#40ffbf"/>
<path d="M434.2,236 438.1,234.1 435.1,241.8z" fill="#70ff8f"/>
<path d="M419.5,245.5 420.4,250.2 416.5,249z" fill="#40ffbf"/>
<path d="M398.8,237.6 402.7,243.8 399.7,243z" fill="#60ff9f"/>
<path d="M430.3,238 431.2,243.4 427.3,244.5z" fill="#60ff9f"/>
<path d="M419.5,245.5 423.4,245.2 420.4,250.2z" fill="#40ffbf"/>
<path d="M398.8,237.6 399.7,243 395.8,235z" fill="#70ff8f"/>
<path d="M430.3,238 434.2,236 431.2,243.4z" fill="#70ff8f"/>
<path d="M426.4,239.9 427.3,244.5 423.4,245.2z" fill="#60ff9f"/>
<path d="M408.7,245 412.6,247.2 409.6,248.6z" fill="#50ffaf"/>
<path d="M408.7,245 409.6,248.6 405.7,244.5z" fill="#50ffaf"/>
<path d="M415.6,245.6 416.5,249 412.6,247.2z" fill="#50ffaf"/>
<path d="M401.8,240.1 405.7,244.5 402.7,243.8z" fill="#60ff9f"/>
<path d="M415.6,245.6 419.5,245.5 416.5,249z" fill="#50ffaf"/>
<path d="M426.4,239.9 430.3,238 427.3,244.5z" fill="#70ff8f"/>
<path d="M401.8,240.1 402.7,243.8 398.8,237.6z" fill="#70ff8f"/>
<path d="M422.5,241.9 423.4,245.2 419.5,245.5z" fill="#60ff9f"/>
<path d="M422.5,241.9 426.4,239.9 423.4,245.2z" fill="#70ff8f"/>
<path d="M411.7,245.4 412.6,247.2 408.7,245z" fill="#60ff9f"/>
<path d="M404.8,242.7 408.7,245 405.7,244.5z" fill="#70ff8f"/>
<path d="M411.7,245.4 415.6,245.6 412.6,247.2z" fill="#60ff9f"/>
<path d="M404.8,242.7 405.7,244.5 401.8,240.1z" fill="#80ff80"/>
<path d="M418.6,243.8 419.5,245.5 415.6,245.6z" fill="#70ff8f"/>
<path d="M418.6,243.8 422.5,241.9 419.5,245.5z" fill="#80ff80"/>
<path d="M407.8,245.2 411.7,245.4 408.7,245z" fill="#80ff80"/>
<path d="M407.8,245.2 408.7,245 404.8,242.7z" fill="#80ff80"/>
<path d="M414.7,245.8 415.6,245.6 411.7,245.4z" fill="#80ff80"/>
<path d="M414.7,245.8 418.6,243.8 415.6,245.6z" fill="#80ff80"/>
<path d="M410.8,247.7 411.7,245.4 407.8,245.2z" fill="#80ff80"/>
<path d="M410.8,247.7 414.7,245.8 411.7,245.4z" fill="#80ff80"/></g>
<path class="a" d="M410.8 336.4L535.6 274M410.8 336.4L314.5 255.1M410.8 336.4L413.8 338.9M410.8 336.4L407 338.3M442 320.8L445 323.3M386.7 316.1L382.9 318M473.2 305.2L476.2 307.7M362.6 295.8L358.8 297.7M504.4 289.6L507.4 292.1M338.6 275.4L334.8 277.3M535.6 274L538.6 276.5M314.5 255.1L310.7 257"/><text x="416.3" y="347.7" class="t">-1</text>
<text x="404.6" y="346.3" class="t" text-anchor="end">-1</text>
<text x="447.5" y="332.1" class="t">-0.5</text>
<text x="380.5" y="326" class="t" text-anchor="end">-0.5</text>
<text x="478.7" y="316.5" class="t">0</text>
<text x="356.4" y="305.6" class="t" text-anchor="end">0</text>
<text x="509.9" y="300.9" class="t">0.5</text>
<text x="332.4" y="285.3" class="t" text-anchor="end">0.5</text>
<text x="541.1" y="285.3" class="t">1</text>
<text x="308.3" y="265" class="t" text-anchor="end">1</text>
<text x="479.3" y="348.8" class="t" text-anchor="middle">x</text>
<text x="348.5" y="343.5" class="t" text-anchor="middle">y</text>
</svg>
</body></html>
